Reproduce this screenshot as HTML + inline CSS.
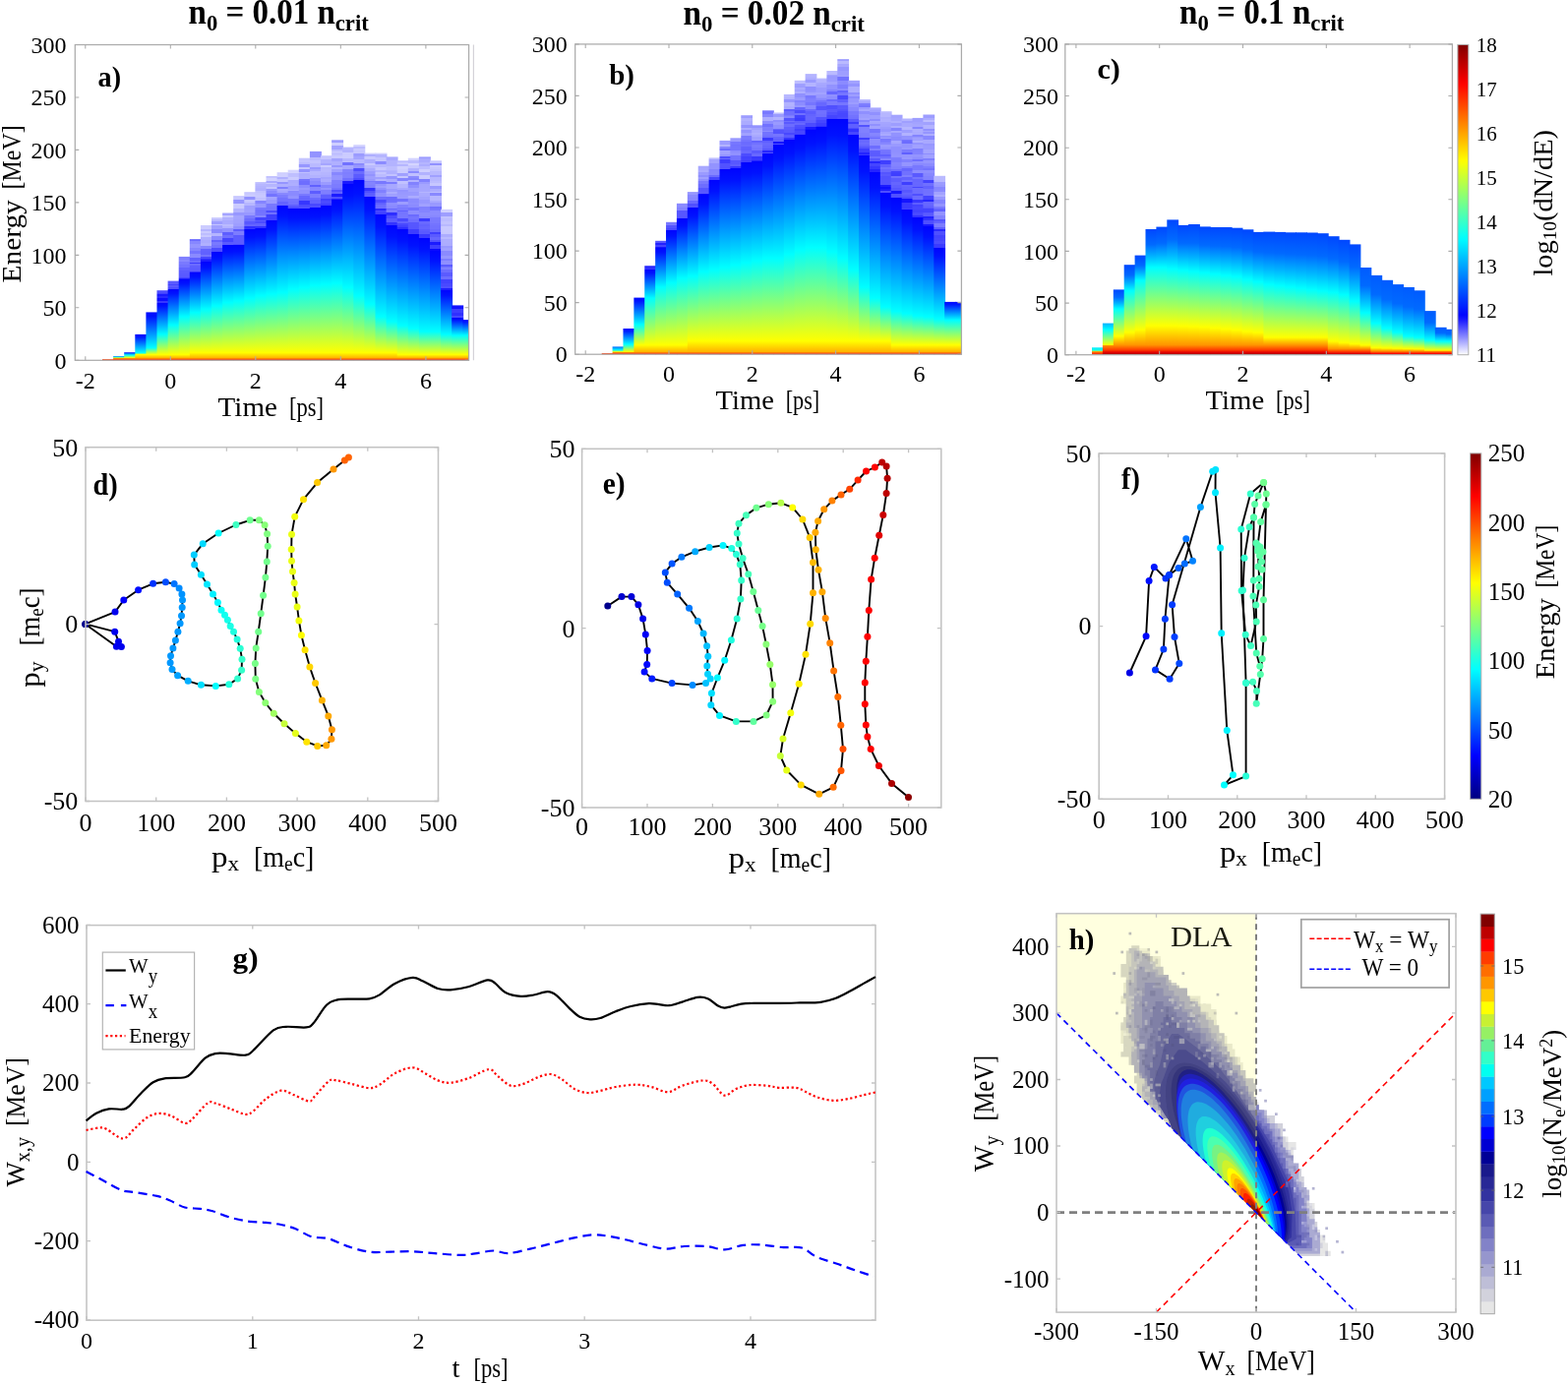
<!DOCTYPE html><html><head><meta charset="utf-8"><title>Figure</title><style>html,body{margin:0;padding:0;background:#fff;overflow:hidden}svg{display:block}</style></head><body><svg width="1594" height="1407" viewBox="0 0 1594 1407" font-family="'Liberation Serif', 'Times New Roman', serif"><defs><linearGradient id="g1" gradientUnits="userSpaceOnUse" x1="0" y1="365.2" x2="0" y2="366.3"><stop offset="0.0000" stop-color="#006aff"/><stop offset="0.0000" stop-color="#abff54"/><stop offset="0.0000" stop-color="#ffb200"/><stop offset="0.1818" stop-color="#ff3e00"/><stop offset="1.0000" stop-color="#ff2100"/></linearGradient><linearGradient id="g2" gradientUnits="userSpaceOnUse" x1="0" y1="362.1" x2="0" y2="366.3"><stop offset="0.0000" stop-color="#006aff"/><stop offset="0.2381" stop-color="#00ffff"/><stop offset="0.4048" stop-color="#ffff00"/><stop offset="0.4286" stop-color="#ffb200"/><stop offset="0.7857" stop-color="#ff3e00"/><stop offset="1.0000" stop-color="#ff2100"/></linearGradient><linearGradient id="g3" gradientUnits="userSpaceOnUse" x1="0" y1="358.2" x2="0" y2="366.3"><stop offset="0.0000" stop-color="#000bff"/><stop offset="0.3457" stop-color="#00ffff"/><stop offset="0.6914" stop-color="#ffff00"/><stop offset="0.7037" stop-color="#ffb200"/><stop offset="0.8889" stop-color="#ff3e00"/><stop offset="1.0000" stop-color="#ff2100"/></linearGradient><linearGradient id="g4" gradientUnits="userSpaceOnUse" x1="0" y1="339.9" x2="0" y2="366.3"><stop offset="0.0000" stop-color="#000bff"/><stop offset="0.0855" stop-color="#0012ff"/><stop offset="0.7121" stop-color="#00ffff"/><stop offset="0.7803" stop-color="#ffff00"/><stop offset="0.9091" stop-color="#ffb200"/><stop offset="0.9659" stop-color="#ff3e00"/><stop offset="1.0000" stop-color="#ff2100"/></linearGradient><linearGradient id="g5" gradientUnits="userSpaceOnUse" x1="0" y1="317.4" x2="0" y2="366.3"><stop offset="0.0000" stop-color="#000bff"/><stop offset="0.0886" stop-color="#0012ff"/><stop offset="0.7382" stop-color="#00ffff"/><stop offset="0.8814" stop-color="#ffff00"/><stop offset="0.9509" stop-color="#ffb200"/><stop offset="0.9816" stop-color="#ff3e00"/><stop offset="1.0000" stop-color="#ff2100"/></linearGradient><linearGradient id="g6" gradientUnits="userSpaceOnUse" x1="0" y1="295.2" x2="0" y2="366.3"><stop offset="0.0000" stop-color="#4e4eff"/><stop offset="0.0325" stop-color="#4e4eff"/><stop offset="0.0325" stop-color="#4040ff"/><stop offset="0.0561" stop-color="#4040ff"/><stop offset="0.0561" stop-color="#1a1aff"/><stop offset="0.0793" stop-color="#1a1aff"/><stop offset="0.0793" stop-color="#2929ff"/><stop offset="0.1156" stop-color="#2929ff"/><stop offset="0.1156" stop-color="#0c0cff"/><stop offset="0.1516" stop-color="#0c0cff"/><stop offset="0.1516" stop-color="#3636ff"/><stop offset="0.1730" stop-color="#3636ff"/><stop offset="0.1730" stop-color="#0004ff"/><stop offset="0.2277" stop-color="#0012ff"/><stop offset="0.6287" stop-color="#00ffff"/><stop offset="0.9184" stop-color="#ffff00"/><stop offset="0.9662" stop-color="#ffb200"/><stop offset="0.9873" stop-color="#ff3e00"/><stop offset="1.0000" stop-color="#ff2100"/></linearGradient><linearGradient id="g7" gradientUnits="userSpaceOnUse" x1="0" y1="285.6" x2="0" y2="366.3"><stop offset="0.0000" stop-color="#5a5aff"/><stop offset="0.0365" stop-color="#5a5aff"/><stop offset="0.0365" stop-color="#4545ff"/><stop offset="0.0565" stop-color="#4545ff"/><stop offset="0.0565" stop-color="#5959ff"/><stop offset="0.0796" stop-color="#5959ff"/><stop offset="0.0796" stop-color="#4e4eff"/><stop offset="0.1016" stop-color="#4e4eff"/><stop offset="0.1016" stop-color="#0004ff"/><stop offset="0.1562" stop-color="#0012ff"/><stop offset="0.5564" stop-color="#00ffff"/><stop offset="0.9281" stop-color="#ffff00"/><stop offset="0.9703" stop-color="#ffb200"/><stop offset="0.9888" stop-color="#ff3e00"/><stop offset="1.0000" stop-color="#ff2100"/></linearGradient><linearGradient id="g8" gradientUnits="userSpaceOnUse" x1="0" y1="260.9" x2="0" y2="366.3"><stop offset="0.0000" stop-color="#8080ff"/><stop offset="0.0294" stop-color="#8080ff"/><stop offset="0.0294" stop-color="#8989ff"/><stop offset="0.0451" stop-color="#8989ff"/><stop offset="0.0451" stop-color="#7a7aff"/><stop offset="0.0755" stop-color="#7a7aff"/><stop offset="0.0755" stop-color="#7373ff"/><stop offset="0.1036" stop-color="#7373ff"/><stop offset="0.1036" stop-color="#6363ff"/><stop offset="0.1367" stop-color="#6363ff"/><stop offset="0.1367" stop-color="#5d5dff"/><stop offset="0.1645" stop-color="#5d5dff"/><stop offset="0.1645" stop-color="#5a5aff"/><stop offset="0.1961" stop-color="#5a5aff"/><stop offset="0.1961" stop-color="#4646ff"/><stop offset="0.2131" stop-color="#4646ff"/><stop offset="0.2154" stop-color="#0004ff"/><stop offset="0.2591" stop-color="#0012ff"/><stop offset="0.5797" stop-color="#00ffff"/><stop offset="0.9450" stop-color="#ffff00"/><stop offset="0.9772" stop-color="#ffb200"/><stop offset="0.9915" stop-color="#ff3e00"/><stop offset="1.0000" stop-color="#ff2100"/></linearGradient><linearGradient id="g9" gradientUnits="userSpaceOnUse" x1="0" y1="243.1" x2="0" y2="366.3"><stop offset="0.0000" stop-color="#6b6bff"/><stop offset="0.0153" stop-color="#6b6bff"/><stop offset="0.0153" stop-color="#8787ff"/><stop offset="0.0410" stop-color="#8787ff"/><stop offset="0.0410" stop-color="#9494ff"/><stop offset="0.0709" stop-color="#9494ff"/><stop offset="0.0709" stop-color="#8686ff"/><stop offset="0.0952" stop-color="#8686ff"/><stop offset="0.0952" stop-color="#7474ff"/><stop offset="0.1244" stop-color="#7474ff"/><stop offset="0.1244" stop-color="#8a8aff"/><stop offset="0.1500" stop-color="#8a8aff"/><stop offset="0.1500" stop-color="#6161ff"/><stop offset="0.1754" stop-color="#6161ff"/><stop offset="0.1754" stop-color="#6d6dff"/><stop offset="0.1933" stop-color="#6d6dff"/><stop offset="0.1933" stop-color="#3d3dff"/><stop offset="0.2059" stop-color="#3d3dff"/><stop offset="0.2059" stop-color="#6b6bff"/><stop offset="0.2205" stop-color="#6b6bff"/><stop offset="0.2205" stop-color="#5e5eff"/><stop offset="0.2353" stop-color="#5e5eff"/><stop offset="0.2353" stop-color="#5c5cff"/><stop offset="0.2651" stop-color="#5c5cff"/><stop offset="0.2651" stop-color="#3030ff"/><stop offset="0.2735" stop-color="#3030ff"/><stop offset="0.2735" stop-color="#0004ff"/><stop offset="0.3134" stop-color="#0012ff"/><stop offset="0.6055" stop-color="#00ffff"/><stop offset="0.9367" stop-color="#ffff00"/><stop offset="0.9805" stop-color="#ffb200"/><stop offset="0.9927" stop-color="#ff3e00"/><stop offset="1.0000" stop-color="#ff2100"/></linearGradient><linearGradient id="g10" gradientUnits="userSpaceOnUse" x1="0" y1="229" x2="0" y2="366.3"><stop offset="0.0000" stop-color="#ccccff"/><stop offset="0.0267" stop-color="#ccccff"/><stop offset="0.0267" stop-color="#b5b5ff"/><stop offset="0.0441" stop-color="#b5b5ff"/><stop offset="0.0441" stop-color="#cbcbff"/><stop offset="0.0578" stop-color="#cbcbff"/><stop offset="0.0578" stop-color="#bdbdff"/><stop offset="0.0730" stop-color="#bdbdff"/><stop offset="0.0730" stop-color="#c9c9ff"/><stop offset="0.0887" stop-color="#c9c9ff"/><stop offset="0.0887" stop-color="#b0b0ff"/><stop offset="0.1063" stop-color="#b0b0ff"/><stop offset="0.1063" stop-color="#ababff"/><stop offset="0.1298" stop-color="#ababff"/><stop offset="0.1298" stop-color="#b0b0ff"/><stop offset="0.1531" stop-color="#b0b0ff"/><stop offset="0.1531" stop-color="#8686ff"/><stop offset="0.1782" stop-color="#8686ff"/><stop offset="0.1782" stop-color="#6262ff"/><stop offset="0.1963" stop-color="#6262ff"/><stop offset="0.1963" stop-color="#6161ff"/><stop offset="0.2187" stop-color="#6161ff"/><stop offset="0.2187" stop-color="#7373ff"/><stop offset="0.2335" stop-color="#7373ff"/><stop offset="0.2335" stop-color="#4747ff"/><stop offset="0.2453" stop-color="#4747ff"/><stop offset="0.2453" stop-color="#3030ff"/><stop offset="0.2581" stop-color="#3030ff"/><stop offset="0.2581" stop-color="#1c1cff"/><stop offset="0.2731" stop-color="#1c1cff"/><stop offset="0.2731" stop-color="#0004ff"/><stop offset="0.3149" stop-color="#0012ff"/><stop offset="0.6213" stop-color="#00ffff"/><stop offset="0.9432" stop-color="#ffff00"/><stop offset="0.9825" stop-color="#ffb200"/><stop offset="0.9934" stop-color="#ff3e00"/><stop offset="1.0000" stop-color="#ff2100"/></linearGradient><linearGradient id="g11" gradientUnits="userSpaceOnUse" x1="0" y1="221.1" x2="0" y2="366.3"><stop offset="0.0000" stop-color="#cacaff"/><stop offset="0.0147" stop-color="#cacaff"/><stop offset="0.0147" stop-color="#b8b8ff"/><stop offset="0.0271" stop-color="#b8b8ff"/><stop offset="0.0271" stop-color="#9d9dff"/><stop offset="0.0455" stop-color="#9d9dff"/><stop offset="0.0455" stop-color="#c3c3ff"/><stop offset="0.0576" stop-color="#c3c3ff"/><stop offset="0.0576" stop-color="#a0a0ff"/><stop offset="0.0822" stop-color="#a0a0ff"/><stop offset="0.0822" stop-color="#8a8aff"/><stop offset="0.1089" stop-color="#8a8aff"/><stop offset="0.1089" stop-color="#b4b4ff"/><stop offset="0.1286" stop-color="#b4b4ff"/><stop offset="0.1286" stop-color="#8b8bff"/><stop offset="0.1557" stop-color="#8b8bff"/><stop offset="0.1557" stop-color="#6464ff"/><stop offset="0.1706" stop-color="#6464ff"/><stop offset="0.1706" stop-color="#7979ff"/><stop offset="0.1942" stop-color="#7979ff"/><stop offset="0.1942" stop-color="#7171ff"/><stop offset="0.2102" stop-color="#7171ff"/><stop offset="0.2102" stop-color="#4c4cff"/><stop offset="0.2375" stop-color="#4c4cff"/><stop offset="0.2375" stop-color="#3636ff"/><stop offset="0.2424" stop-color="#3636ff"/><stop offset="0.2424" stop-color="#0004ff"/><stop offset="0.2875" stop-color="#0012ff"/><stop offset="0.6185" stop-color="#00ffff"/><stop offset="0.9463" stop-color="#ffff00"/><stop offset="0.9835" stop-color="#ffb200"/><stop offset="0.9938" stop-color="#ff3e00"/><stop offset="1.0000" stop-color="#ff2100"/></linearGradient><linearGradient id="g12" gradientUnits="userSpaceOnUse" x1="0" y1="216.5" x2="0" y2="366.3"><stop offset="0.0000" stop-color="#a4a4ff"/><stop offset="0.0187" stop-color="#a4a4ff"/><stop offset="0.0187" stop-color="#cbcbff"/><stop offset="0.0291" stop-color="#cbcbff"/><stop offset="0.0291" stop-color="#b1b1ff"/><stop offset="0.0507" stop-color="#b1b1ff"/><stop offset="0.0507" stop-color="#aaaaff"/><stop offset="0.0764" stop-color="#aaaaff"/><stop offset="0.0764" stop-color="#babaff"/><stop offset="0.0925" stop-color="#babaff"/><stop offset="0.0925" stop-color="#b2b2ff"/><stop offset="0.1057" stop-color="#b2b2ff"/><stop offset="0.1057" stop-color="#9393ff"/><stop offset="0.1308" stop-color="#9393ff"/><stop offset="0.1308" stop-color="#5e5eff"/><stop offset="0.1517" stop-color="#5e5eff"/><stop offset="0.1517" stop-color="#6f6fff"/><stop offset="0.1727" stop-color="#6f6fff"/><stop offset="0.1727" stop-color="#4545ff"/><stop offset="0.1953" stop-color="#4545ff"/><stop offset="0.1953" stop-color="#5a5aff"/><stop offset="0.2185" stop-color="#5a5aff"/><stop offset="0.2203" stop-color="#0004ff"/><stop offset="0.2668" stop-color="#0012ff"/><stop offset="0.6075" stop-color="#00ffff"/><stop offset="0.9479" stop-color="#ffff00"/><stop offset="0.9840" stop-color="#ffb200"/><stop offset="0.9940" stop-color="#ff3e00"/><stop offset="1.0000" stop-color="#ff2100"/></linearGradient><linearGradient id="g13" gradientUnits="userSpaceOnUse" x1="0" y1="199.1" x2="0" y2="366.3"><stop offset="0.0000" stop-color="#c8c8ff"/><stop offset="0.0235" stop-color="#c8c8ff"/><stop offset="0.0235" stop-color="#9696ff"/><stop offset="0.0466" stop-color="#9696ff"/><stop offset="0.0466" stop-color="#ccccff"/><stop offset="0.0575" stop-color="#ccccff"/><stop offset="0.0575" stop-color="#cacaff"/><stop offset="0.0785" stop-color="#cacaff"/><stop offset="0.0785" stop-color="#b3b3ff"/><stop offset="0.1022" stop-color="#b3b3ff"/><stop offset="0.1022" stop-color="#9797ff"/><stop offset="0.1193" stop-color="#9797ff"/><stop offset="0.1193" stop-color="#a5a5ff"/><stop offset="0.1428" stop-color="#a5a5ff"/><stop offset="0.1428" stop-color="#a2a2ff"/><stop offset="0.1658" stop-color="#a2a2ff"/><stop offset="0.1658" stop-color="#9e9eff"/><stop offset="0.1871" stop-color="#9e9eff"/><stop offset="0.1871" stop-color="#9191ff"/><stop offset="0.2004" stop-color="#9191ff"/><stop offset="0.2004" stop-color="#5d5dff"/><stop offset="0.2133" stop-color="#5d5dff"/><stop offset="0.2133" stop-color="#7d7dff"/><stop offset="0.2359" stop-color="#7d7dff"/><stop offset="0.2359" stop-color="#5b5bff"/><stop offset="0.2535" stop-color="#5b5bff"/><stop offset="0.2535" stop-color="#5c5cff"/><stop offset="0.2762" stop-color="#5c5cff"/><stop offset="0.2762" stop-color="#5c5cff"/><stop offset="0.2930" stop-color="#5c5cff"/><stop offset="0.2930" stop-color="#4f4fff"/><stop offset="0.2984" stop-color="#4f4fff"/><stop offset="0.2984" stop-color="#0004ff"/><stop offset="0.3392" stop-color="#0012ff"/><stop offset="0.6382" stop-color="#00ffff"/><stop offset="0.9533" stop-color="#ffff00"/><stop offset="0.9856" stop-color="#ffb200"/><stop offset="0.9946" stop-color="#ff3e00"/><stop offset="1.0000" stop-color="#ff2100"/></linearGradient><linearGradient id="g14" gradientUnits="userSpaceOnUse" x1="0" y1="195.2" x2="0" y2="366.3"><stop offset="0.0000" stop-color="#c6c6ff"/><stop offset="0.0113" stop-color="#c6c6ff"/><stop offset="0.0113" stop-color="#cacaff"/><stop offset="0.0282" stop-color="#cacaff"/><stop offset="0.0282" stop-color="#9191ff"/><stop offset="0.0451" stop-color="#9191ff"/><stop offset="0.0451" stop-color="#c6c6ff"/><stop offset="0.0620" stop-color="#c6c6ff"/><stop offset="0.0620" stop-color="#b6b6ff"/><stop offset="0.0821" stop-color="#b6b6ff"/><stop offset="0.0821" stop-color="#9f9fff"/><stop offset="0.1019" stop-color="#9f9fff"/><stop offset="0.1019" stop-color="#a2a2ff"/><stop offset="0.1197" stop-color="#a2a2ff"/><stop offset="0.1197" stop-color="#9898ff"/><stop offset="0.1385" stop-color="#9898ff"/><stop offset="0.1385" stop-color="#7979ff"/><stop offset="0.1543" stop-color="#7979ff"/><stop offset="0.1543" stop-color="#6c6cff"/><stop offset="0.1759" stop-color="#6c6cff"/><stop offset="0.1759" stop-color="#5858ff"/><stop offset="0.1928" stop-color="#5858ff"/><stop offset="0.1928" stop-color="#6464ff"/><stop offset="0.2036" stop-color="#6464ff"/><stop offset="0.2036" stop-color="#2f2fff"/><stop offset="0.2134" stop-color="#2f2fff"/><stop offset="0.2134" stop-color="#3737ff"/><stop offset="0.2209" stop-color="#3737ff"/><stop offset="0.2209" stop-color="#0004ff"/><stop offset="0.2702" stop-color="#0012ff"/><stop offset="0.6312" stop-color="#00ffff"/><stop offset="0.9544" stop-color="#ffff00"/><stop offset="0.9860" stop-color="#ffb200"/><stop offset="0.9947" stop-color="#ff3e00"/><stop offset="1.0000" stop-color="#ff2100"/></linearGradient><linearGradient id="g15" gradientUnits="userSpaceOnUse" x1="0" y1="185.1" x2="0" y2="366.3"><stop offset="0.0000" stop-color="#bdbdff"/><stop offset="0.0104" stop-color="#bdbdff"/><stop offset="0.0104" stop-color="#b7b7ff"/><stop offset="0.0207" stop-color="#b7b7ff"/><stop offset="0.0207" stop-color="#b3b3ff"/><stop offset="0.0320" stop-color="#b3b3ff"/><stop offset="0.0320" stop-color="#b0b0ff"/><stop offset="0.0470" stop-color="#b0b0ff"/><stop offset="0.0470" stop-color="#c1c1ff"/><stop offset="0.0575" stop-color="#c1c1ff"/><stop offset="0.0575" stop-color="#c6c6ff"/><stop offset="0.0704" stop-color="#c6c6ff"/><stop offset="0.0704" stop-color="#c8c8ff"/><stop offset="0.0887" stop-color="#c8c8ff"/><stop offset="0.0887" stop-color="#c1c1ff"/><stop offset="0.1030" stop-color="#c1c1ff"/><stop offset="0.1030" stop-color="#8484ff"/><stop offset="0.1199" stop-color="#8484ff"/><stop offset="0.1199" stop-color="#9898ff"/><stop offset="0.1418" stop-color="#9898ff"/><stop offset="0.1418" stop-color="#7878ff"/><stop offset="0.1515" stop-color="#7878ff"/><stop offset="0.1515" stop-color="#7272ff"/><stop offset="0.1705" stop-color="#7272ff"/><stop offset="0.1705" stop-color="#7474ff"/><stop offset="0.1846" stop-color="#7474ff"/><stop offset="0.1846" stop-color="#8585ff"/><stop offset="0.1965" stop-color="#8585ff"/><stop offset="0.1965" stop-color="#4343ff"/><stop offset="0.2126" stop-color="#4343ff"/><stop offset="0.2126" stop-color="#5c5cff"/><stop offset="0.2217" stop-color="#5c5cff"/><stop offset="0.2217" stop-color="#4c4cff"/><stop offset="0.2310" stop-color="#4c4cff"/><stop offset="0.2310" stop-color="#6161ff"/><stop offset="0.2503" stop-color="#6161ff"/><stop offset="0.2503" stop-color="#3434ff"/><stop offset="0.2588" stop-color="#3434ff"/><stop offset="0.2588" stop-color="#0004ff"/><stop offset="0.3043" stop-color="#0012ff"/><stop offset="0.6374" stop-color="#00ffff"/><stop offset="0.9570" stop-color="#ffff00"/><stop offset="0.9868" stop-color="#ffb200"/><stop offset="0.9950" stop-color="#ff3e00"/><stop offset="1.0000" stop-color="#ff2100"/></linearGradient><linearGradient id="g16" gradientUnits="userSpaceOnUse" x1="0" y1="179" x2="0" y2="366.3"><stop offset="0.0000" stop-color="#c3c3ff"/><stop offset="0.0125" stop-color="#c3c3ff"/><stop offset="0.0125" stop-color="#d1d1ff"/><stop offset="0.0241" stop-color="#d1d1ff"/><stop offset="0.0241" stop-color="#aaaaff"/><stop offset="0.0353" stop-color="#aaaaff"/><stop offset="0.0353" stop-color="#cbcbff"/><stop offset="0.0440" stop-color="#cbcbff"/><stop offset="0.0440" stop-color="#b5b5ff"/><stop offset="0.0561" stop-color="#b5b5ff"/><stop offset="0.0561" stop-color="#c6c6ff"/><stop offset="0.0708" stop-color="#c6c6ff"/><stop offset="0.0708" stop-color="#9898ff"/><stop offset="0.0790" stop-color="#9898ff"/><stop offset="0.0790" stop-color="#8a8aff"/><stop offset="0.0968" stop-color="#8a8aff"/><stop offset="0.0968" stop-color="#7474ff"/><stop offset="0.1111" stop-color="#7474ff"/><stop offset="0.1111" stop-color="#a4a4ff"/><stop offset="0.1301" stop-color="#a4a4ff"/><stop offset="0.1301" stop-color="#9a9aff"/><stop offset="0.1492" stop-color="#9a9aff"/><stop offset="0.1492" stop-color="#7878ff"/><stop offset="0.1664" stop-color="#7878ff"/><stop offset="0.1664" stop-color="#7575ff"/><stop offset="0.1855" stop-color="#7575ff"/><stop offset="0.1855" stop-color="#4c4cff"/><stop offset="0.1989" stop-color="#4c4cff"/><stop offset="0.1989" stop-color="#7070ff"/><stop offset="0.2087" stop-color="#7070ff"/><stop offset="0.2087" stop-color="#3e3eff"/><stop offset="0.2201" stop-color="#3e3eff"/><stop offset="0.2201" stop-color="#4040ff"/><stop offset="0.2393" stop-color="#4040ff"/><stop offset="0.2403" stop-color="#0004ff"/><stop offset="0.2882" stop-color="#0012ff"/><stop offset="0.6401" stop-color="#00ffff"/><stop offset="0.9584" stop-color="#ffff00"/><stop offset="0.9872" stop-color="#ffb200"/><stop offset="0.9952" stop-color="#ff3e00"/><stop offset="1.0000" stop-color="#ff2100"/></linearGradient><linearGradient id="g17" gradientUnits="userSpaceOnUse" x1="0" y1="175.2" x2="0" y2="366.3"><stop offset="0.0000" stop-color="#ceceff"/><stop offset="0.0115" stop-color="#ceceff"/><stop offset="0.0115" stop-color="#d0d0ff"/><stop offset="0.0254" stop-color="#d0d0ff"/><stop offset="0.0254" stop-color="#b0b0ff"/><stop offset="0.0367" stop-color="#b0b0ff"/><stop offset="0.0367" stop-color="#c5c5ff"/><stop offset="0.0517" stop-color="#c5c5ff"/><stop offset="0.0517" stop-color="#9595ff"/><stop offset="0.0636" stop-color="#9595ff"/><stop offset="0.0636" stop-color="#afafff"/><stop offset="0.0764" stop-color="#afafff"/><stop offset="0.0764" stop-color="#8080ff"/><stop offset="0.0869" stop-color="#8080ff"/><stop offset="0.0869" stop-color="#acacff"/><stop offset="0.0982" stop-color="#acacff"/><stop offset="0.0982" stop-color="#a5a5ff"/><stop offset="0.1066" stop-color="#a5a5ff"/><stop offset="0.1066" stop-color="#8989ff"/><stop offset="0.1175" stop-color="#8989ff"/><stop offset="0.1175" stop-color="#7c7cff"/><stop offset="0.1352" stop-color="#7c7cff"/><stop offset="0.1352" stop-color="#7272ff"/><stop offset="0.1545" stop-color="#7272ff"/><stop offset="0.1545" stop-color="#6363ff"/><stop offset="0.1753" stop-color="#6363ff"/><stop offset="0.1769" stop-color="#0004ff"/><stop offset="0.2323" stop-color="#0012ff"/><stop offset="0.6384" stop-color="#00ffff"/><stop offset="0.9592" stop-color="#ffff00"/><stop offset="0.9874" stop-color="#ffb200"/><stop offset="0.9953" stop-color="#ff3e00"/><stop offset="1.0000" stop-color="#ff2100"/></linearGradient><linearGradient id="g18" gradientUnits="userSpaceOnUse" x1="0" y1="172.7" x2="0" y2="366.3"><stop offset="0.0000" stop-color="#d5d5ff"/><stop offset="0.0161" stop-color="#d5d5ff"/><stop offset="0.0161" stop-color="#bfbfff"/><stop offset="0.0353" stop-color="#bfbfff"/><stop offset="0.0353" stop-color="#cbcbff"/><stop offset="0.0536" stop-color="#cbcbff"/><stop offset="0.0536" stop-color="#acacff"/><stop offset="0.0678" stop-color="#acacff"/><stop offset="0.0678" stop-color="#aeaeff"/><stop offset="0.0862" stop-color="#aeaeff"/><stop offset="0.0862" stop-color="#a0a0ff"/><stop offset="0.1028" stop-color="#a0a0ff"/><stop offset="0.1028" stop-color="#a8a8ff"/><stop offset="0.1110" stop-color="#a8a8ff"/><stop offset="0.1110" stop-color="#8a8aff"/><stop offset="0.1201" stop-color="#8a8aff"/><stop offset="0.1201" stop-color="#8a8aff"/><stop offset="0.1359" stop-color="#8a8aff"/><stop offset="0.1359" stop-color="#9292ff"/><stop offset="0.1500" stop-color="#9292ff"/><stop offset="0.1500" stop-color="#7373ff"/><stop offset="0.1674" stop-color="#7373ff"/><stop offset="0.1674" stop-color="#7171ff"/><stop offset="0.1836" stop-color="#7171ff"/><stop offset="0.1836" stop-color="#5f5fff"/><stop offset="0.1947" stop-color="#5f5fff"/><stop offset="0.1947" stop-color="#4d4dff"/><stop offset="0.2030" stop-color="#4d4dff"/><stop offset="0.2030" stop-color="#0004ff"/><stop offset="0.2537" stop-color="#0012ff"/><stop offset="0.6255" stop-color="#00ffff"/><stop offset="0.9597" stop-color="#ffff00"/><stop offset="0.9876" stop-color="#ffb200"/><stop offset="0.9954" stop-color="#ff3e00"/><stop offset="1.0000" stop-color="#ff2100"/></linearGradient><linearGradient id="g19" gradientUnits="userSpaceOnUse" x1="0" y1="160.7" x2="0" y2="366.3"><stop offset="0.0000" stop-color="#c5c5ff"/><stop offset="0.0192" stop-color="#c5c5ff"/><stop offset="0.0192" stop-color="#bdbdff"/><stop offset="0.0323" stop-color="#bdbdff"/><stop offset="0.0323" stop-color="#9696ff"/><stop offset="0.0471" stop-color="#9696ff"/><stop offset="0.0471" stop-color="#c6c6ff"/><stop offset="0.0562" stop-color="#c6c6ff"/><stop offset="0.0562" stop-color="#9393ff"/><stop offset="0.0672" stop-color="#9393ff"/><stop offset="0.0672" stop-color="#c0c0ff"/><stop offset="0.0752" stop-color="#c0c0ff"/><stop offset="0.0752" stop-color="#aeaeff"/><stop offset="0.0909" stop-color="#aeaeff"/><stop offset="0.0909" stop-color="#afafff"/><stop offset="0.1045" stop-color="#afafff"/><stop offset="0.1045" stop-color="#7474ff"/><stop offset="0.1132" stop-color="#7474ff"/><stop offset="0.1132" stop-color="#6e6eff"/><stop offset="0.1324" stop-color="#6e6eff"/><stop offset="0.1324" stop-color="#8d8dff"/><stop offset="0.1453" stop-color="#8d8dff"/><stop offset="0.1453" stop-color="#9898ff"/><stop offset="0.1580" stop-color="#9898ff"/><stop offset="0.1580" stop-color="#9191ff"/><stop offset="0.1768" stop-color="#9191ff"/><stop offset="0.1768" stop-color="#7979ff"/><stop offset="0.1859" stop-color="#7979ff"/><stop offset="0.1859" stop-color="#6767ff"/><stop offset="0.1948" stop-color="#6767ff"/><stop offset="0.1948" stop-color="#6464ff"/><stop offset="0.2129" stop-color="#6464ff"/><stop offset="0.2129" stop-color="#3636ff"/><stop offset="0.2311" stop-color="#3636ff"/><stop offset="0.2311" stop-color="#4b4bff"/><stop offset="0.2384" stop-color="#4b4bff"/><stop offset="0.2384" stop-color="#5050ff"/><stop offset="0.2494" stop-color="#5050ff"/><stop offset="0.2495" stop-color="#0004ff"/><stop offset="0.2963" stop-color="#0012ff"/><stop offset="0.6391" stop-color="#00ffff"/><stop offset="0.9621" stop-color="#ffff00"/><stop offset="0.9883" stop-color="#ffb200"/><stop offset="0.9956" stop-color="#ff3e00"/><stop offset="1.0000" stop-color="#ff2100"/></linearGradient><linearGradient id="g20" gradientUnits="userSpaceOnUse" x1="0" y1="153.9" x2="0" y2="366.3"><stop offset="0.0000" stop-color="#9393ff"/><stop offset="0.0108" stop-color="#9393ff"/><stop offset="0.0108" stop-color="#9393ff"/><stop offset="0.0267" stop-color="#9393ff"/><stop offset="0.0267" stop-color="#bbbbff"/><stop offset="0.0446" stop-color="#bbbbff"/><stop offset="0.0446" stop-color="#c4c4ff"/><stop offset="0.0551" stop-color="#c4c4ff"/><stop offset="0.0551" stop-color="#babaff"/><stop offset="0.0739" stop-color="#babaff"/><stop offset="0.0739" stop-color="#9999ff"/><stop offset="0.0860" stop-color="#9999ff"/><stop offset="0.0860" stop-color="#a7a7ff"/><stop offset="0.0943" stop-color="#a7a7ff"/><stop offset="0.0943" stop-color="#b8b8ff"/><stop offset="0.1124" stop-color="#b8b8ff"/><stop offset="0.1124" stop-color="#b2b2ff"/><stop offset="0.1254" stop-color="#b2b2ff"/><stop offset="0.1254" stop-color="#9494ff"/><stop offset="0.1438" stop-color="#9494ff"/><stop offset="0.1438" stop-color="#8989ff"/><stop offset="0.1583" stop-color="#8989ff"/><stop offset="0.1583" stop-color="#6161ff"/><stop offset="0.1718" stop-color="#6161ff"/><stop offset="0.1718" stop-color="#8888ff"/><stop offset="0.1875" stop-color="#8888ff"/><stop offset="0.1875" stop-color="#5d5dff"/><stop offset="0.2021" stop-color="#5d5dff"/><stop offset="0.2021" stop-color="#7e7eff"/><stop offset="0.2201" stop-color="#7e7eff"/><stop offset="0.2201" stop-color="#6a6aff"/><stop offset="0.2312" stop-color="#6a6aff"/><stop offset="0.2312" stop-color="#6262ff"/><stop offset="0.2497" stop-color="#6262ff"/><stop offset="0.2497" stop-color="#4848ff"/><stop offset="0.2603" stop-color="#4848ff"/><stop offset="0.2603" stop-color="#4d4dff"/><stop offset="0.2688" stop-color="#4d4dff"/><stop offset="0.2688" stop-color="#0004ff"/><stop offset="0.3135" stop-color="#0012ff"/><stop offset="0.6408" stop-color="#00ffff"/><stop offset="0.9633" stop-color="#ffff00"/><stop offset="0.9887" stop-color="#ffb200"/><stop offset="0.9958" stop-color="#ff3e00"/><stop offset="1.0000" stop-color="#ff2100"/></linearGradient><linearGradient id="g21" gradientUnits="userSpaceOnUse" x1="0" y1="158.2" x2="0" y2="366.3"><stop offset="0.0000" stop-color="#c5c5ff"/><stop offset="0.0181" stop-color="#c5c5ff"/><stop offset="0.0181" stop-color="#b2b2ff"/><stop offset="0.0362" stop-color="#b2b2ff"/><stop offset="0.0362" stop-color="#a5a5ff"/><stop offset="0.0451" stop-color="#a5a5ff"/><stop offset="0.0451" stop-color="#ccccff"/><stop offset="0.0564" stop-color="#ccccff"/><stop offset="0.0564" stop-color="#b8b8ff"/><stop offset="0.0667" stop-color="#b8b8ff"/><stop offset="0.0667" stop-color="#babaff"/><stop offset="0.0829" stop-color="#babaff"/><stop offset="0.0829" stop-color="#b5b5ff"/><stop offset="0.0964" stop-color="#b5b5ff"/><stop offset="0.0964" stop-color="#b2b2ff"/><stop offset="0.1044" stop-color="#b2b2ff"/><stop offset="0.1044" stop-color="#a6a6ff"/><stop offset="0.1131" stop-color="#a6a6ff"/><stop offset="0.1131" stop-color="#acacff"/><stop offset="0.1307" stop-color="#acacff"/><stop offset="0.1307" stop-color="#9b9bff"/><stop offset="0.1409" stop-color="#9b9bff"/><stop offset="0.1409" stop-color="#8585ff"/><stop offset="0.1595" stop-color="#8585ff"/><stop offset="0.1595" stop-color="#9494ff"/><stop offset="0.1670" stop-color="#9494ff"/><stop offset="0.1670" stop-color="#7f7fff"/><stop offset="0.1850" stop-color="#7f7fff"/><stop offset="0.1850" stop-color="#7474ff"/><stop offset="0.1922" stop-color="#7474ff"/><stop offset="0.1922" stop-color="#5d5dff"/><stop offset="0.2093" stop-color="#5d5dff"/><stop offset="0.2093" stop-color="#4242ff"/><stop offset="0.2195" stop-color="#4242ff"/><stop offset="0.2195" stop-color="#4b4bff"/><stop offset="0.2330" stop-color="#4b4bff"/><stop offset="0.2330" stop-color="#3f3fff"/><stop offset="0.2441" stop-color="#3f3fff"/><stop offset="0.2441" stop-color="#0004ff"/><stop offset="0.2902" stop-color="#0012ff"/><stop offset="0.6285" stop-color="#00ffff"/><stop offset="0.9625" stop-color="#ffff00"/><stop offset="0.9885" stop-color="#ffb200"/><stop offset="0.9957" stop-color="#ff3e00"/><stop offset="1.0000" stop-color="#ff2100"/></linearGradient><linearGradient id="g22" gradientUnits="userSpaceOnUse" x1="0" y1="142.3" x2="0" y2="366.3"><stop offset="0.0000" stop-color="#9d9dff"/><stop offset="0.0118" stop-color="#9d9dff"/><stop offset="0.0118" stop-color="#ceceff"/><stop offset="0.0272" stop-color="#ceceff"/><stop offset="0.0272" stop-color="#a3a3ff"/><stop offset="0.0411" stop-color="#a3a3ff"/><stop offset="0.0411" stop-color="#bbbbff"/><stop offset="0.0506" stop-color="#bbbbff"/><stop offset="0.0506" stop-color="#cdcdff"/><stop offset="0.0586" stop-color="#cdcdff"/><stop offset="0.0586" stop-color="#c0c0ff"/><stop offset="0.0718" stop-color="#c0c0ff"/><stop offset="0.0718" stop-color="#c9c9ff"/><stop offset="0.0852" stop-color="#c9c9ff"/><stop offset="0.0852" stop-color="#a3a3ff"/><stop offset="0.0970" stop-color="#a3a3ff"/><stop offset="0.0970" stop-color="#b0b0ff"/><stop offset="0.1136" stop-color="#b0b0ff"/><stop offset="0.1136" stop-color="#9797ff"/><stop offset="0.1230" stop-color="#9797ff"/><stop offset="0.1230" stop-color="#b4b4ff"/><stop offset="0.1332" stop-color="#b4b4ff"/><stop offset="0.1332" stop-color="#a1a1ff"/><stop offset="0.1474" stop-color="#a1a1ff"/><stop offset="0.1474" stop-color="#8787ff"/><stop offset="0.1615" stop-color="#8787ff"/><stop offset="0.1615" stop-color="#9393ff"/><stop offset="0.1686" stop-color="#9393ff"/><stop offset="0.1686" stop-color="#9494ff"/><stop offset="0.1829" stop-color="#9494ff"/><stop offset="0.1829" stop-color="#8080ff"/><stop offset="0.1979" stop-color="#8080ff"/><stop offset="0.1979" stop-color="#7c7cff"/><stop offset="0.2154" stop-color="#7c7cff"/><stop offset="0.2154" stop-color="#7272ff"/><stop offset="0.2247" stop-color="#7272ff"/><stop offset="0.2247" stop-color="#5151ff"/><stop offset="0.2347" stop-color="#5151ff"/><stop offset="0.2347" stop-color="#6262ff"/><stop offset="0.2434" stop-color="#6262ff"/><stop offset="0.2434" stop-color="#1c1cff"/><stop offset="0.2576" stop-color="#1c1cff"/><stop offset="0.2576" stop-color="#4f4fff"/><stop offset="0.2687" stop-color="#4f4fff"/><stop offset="0.2687" stop-color="#2525ff"/><stop offset="0.2710" stop-color="#2525ff"/><stop offset="0.2710" stop-color="#0004ff"/><stop offset="0.3165" stop-color="#0012ff"/><stop offset="0.6504" stop-color="#00ffff"/><stop offset="0.9652" stop-color="#ffff00"/><stop offset="0.9893" stop-color="#ffb200"/><stop offset="0.9960" stop-color="#ff3e00"/><stop offset="1.0000" stop-color="#ff2100"/></linearGradient><linearGradient id="g23" gradientUnits="userSpaceOnUse" x1="0" y1="149.6" x2="0" y2="366.3"><stop offset="0.0000" stop-color="#b7b7ff"/><stop offset="0.0115" stop-color="#b7b7ff"/><stop offset="0.0115" stop-color="#b2b2ff"/><stop offset="0.0268" stop-color="#b2b2ff"/><stop offset="0.0268" stop-color="#cbcbff"/><stop offset="0.0376" stop-color="#cbcbff"/><stop offset="0.0376" stop-color="#ccccff"/><stop offset="0.0531" stop-color="#ccccff"/><stop offset="0.0531" stop-color="#b8b8ff"/><stop offset="0.0644" stop-color="#b8b8ff"/><stop offset="0.0644" stop-color="#bebeff"/><stop offset="0.0733" stop-color="#bebeff"/><stop offset="0.0733" stop-color="#7171ff"/><stop offset="0.0842" stop-color="#7171ff"/><stop offset="0.0842" stop-color="#a8a8ff"/><stop offset="0.1023" stop-color="#a8a8ff"/><stop offset="0.1023" stop-color="#8383ff"/><stop offset="0.1187" stop-color="#8383ff"/><stop offset="0.1187" stop-color="#7e7eff"/><stop offset="0.1262" stop-color="#7e7eff"/><stop offset="0.1262" stop-color="#8080ff"/><stop offset="0.1437" stop-color="#8080ff"/><stop offset="0.1437" stop-color="#7171ff"/><stop offset="0.1610" stop-color="#7171ff"/><stop offset="0.1610" stop-color="#1a1aff"/><stop offset="0.1726" stop-color="#1a1aff"/><stop offset="0.1726" stop-color="#0004ff"/><stop offset="0.2308" stop-color="#0012ff"/><stop offset="0.6576" stop-color="#00ffff"/><stop offset="0.9640" stop-color="#ffff00"/><stop offset="0.9889" stop-color="#ffb200"/><stop offset="0.9958" stop-color="#ff3e00"/><stop offset="1.0000" stop-color="#ff2100"/></linearGradient><linearGradient id="g24" gradientUnits="userSpaceOnUse" x1="0" y1="147.1" x2="0" y2="366.3"><stop offset="0.0000" stop-color="#d4d4ff"/><stop offset="0.0072" stop-color="#d4d4ff"/><stop offset="0.0072" stop-color="#bcbcff"/><stop offset="0.0170" stop-color="#bcbcff"/><stop offset="0.0170" stop-color="#cacaff"/><stop offset="0.0277" stop-color="#cacaff"/><stop offset="0.0277" stop-color="#c7c7ff"/><stop offset="0.0416" stop-color="#c7c7ff"/><stop offset="0.0416" stop-color="#9b9bff"/><stop offset="0.0521" stop-color="#9b9bff"/><stop offset="0.0521" stop-color="#a4a4ff"/><stop offset="0.0675" stop-color="#a4a4ff"/><stop offset="0.0675" stop-color="#b9b9ff"/><stop offset="0.0851" stop-color="#b9b9ff"/><stop offset="0.0851" stop-color="#8a8aff"/><stop offset="0.0974" stop-color="#8a8aff"/><stop offset="0.0974" stop-color="#9797ff"/><stop offset="0.1086" stop-color="#9797ff"/><stop offset="0.1086" stop-color="#4d4dff"/><stop offset="0.1211" stop-color="#4d4dff"/><stop offset="0.1211" stop-color="#6b6bff"/><stop offset="0.1371" stop-color="#6b6bff"/><stop offset="0.1371" stop-color="#5b5bff"/><stop offset="0.1528" stop-color="#5b5bff"/><stop offset="0.1528" stop-color="#4e4eff"/><stop offset="0.1632" stop-color="#4e4eff"/><stop offset="0.1638" stop-color="#0004ff"/><stop offset="0.2282" stop-color="#0012ff"/><stop offset="0.7003" stop-color="#00ffff"/><stop offset="0.9644" stop-color="#ffff00"/><stop offset="0.9891" stop-color="#ffb200"/><stop offset="0.9959" stop-color="#ff3e00"/><stop offset="1.0000" stop-color="#ff2100"/></linearGradient><linearGradient id="g25" gradientUnits="userSpaceOnUse" x1="0" y1="155.6" x2="0" y2="366.3"><stop offset="0.0000" stop-color="#cfcfff"/><stop offset="0.0081" stop-color="#cfcfff"/><stop offset="0.0081" stop-color="#aeaeff"/><stop offset="0.0181" stop-color="#aeaeff"/><stop offset="0.0181" stop-color="#c9c9ff"/><stop offset="0.0318" stop-color="#c9c9ff"/><stop offset="0.0318" stop-color="#afafff"/><stop offset="0.0494" stop-color="#afafff"/><stop offset="0.0494" stop-color="#c9c9ff"/><stop offset="0.0575" stop-color="#c9c9ff"/><stop offset="0.0575" stop-color="#b9b9ff"/><stop offset="0.0730" stop-color="#b9b9ff"/><stop offset="0.0730" stop-color="#acacff"/><stop offset="0.0851" stop-color="#acacff"/><stop offset="0.0851" stop-color="#9d9dff"/><stop offset="0.1011" stop-color="#9d9dff"/><stop offset="0.1011" stop-color="#9393ff"/><stop offset="0.1097" stop-color="#9393ff"/><stop offset="0.1097" stop-color="#9e9eff"/><stop offset="0.1235" stop-color="#9e9eff"/><stop offset="0.1235" stop-color="#9898ff"/><stop offset="0.1330" stop-color="#9898ff"/><stop offset="0.1330" stop-color="#7a7aff"/><stop offset="0.1419" stop-color="#7a7aff"/><stop offset="0.1419" stop-color="#8484ff"/><stop offset="0.1529" stop-color="#8484ff"/><stop offset="0.1529" stop-color="#8080ff"/><stop offset="0.1661" stop-color="#8080ff"/><stop offset="0.1661" stop-color="#3333ff"/><stop offset="0.1809" stop-color="#3333ff"/><stop offset="0.1809" stop-color="#4f4fff"/><stop offset="0.1937" stop-color="#4f4fff"/><stop offset="0.1937" stop-color="#5d5dff"/><stop offset="0.2107" stop-color="#5d5dff"/><stop offset="0.2107" stop-color="#0004ff"/><stop offset="0.2729" stop-color="#0012ff"/><stop offset="0.7290" stop-color="#00ffff"/><stop offset="0.9630" stop-color="#ffff00"/><stop offset="0.9886" stop-color="#ffb200"/><stop offset="0.9957" stop-color="#ff3e00"/><stop offset="1.0000" stop-color="#ff2100"/></linearGradient><linearGradient id="g26" gradientUnits="userSpaceOnUse" x1="0" y1="155.6" x2="0" y2="366.3"><stop offset="0.0000" stop-color="#d0d0ff"/><stop offset="0.0085" stop-color="#d0d0ff"/><stop offset="0.0085" stop-color="#b5b5ff"/><stop offset="0.0226" stop-color="#b5b5ff"/><stop offset="0.0226" stop-color="#c5c5ff"/><stop offset="0.0400" stop-color="#c5c5ff"/><stop offset="0.0400" stop-color="#8b8bff"/><stop offset="0.0563" stop-color="#8b8bff"/><stop offset="0.0563" stop-color="#b9b9ff"/><stop offset="0.0705" stop-color="#b9b9ff"/><stop offset="0.0705" stop-color="#c7c7ff"/><stop offset="0.0820" stop-color="#c7c7ff"/><stop offset="0.0820" stop-color="#b3b3ff"/><stop offset="0.0921" stop-color="#b3b3ff"/><stop offset="0.0921" stop-color="#c5c5ff"/><stop offset="0.1017" stop-color="#c5c5ff"/><stop offset="0.1017" stop-color="#bbbbff"/><stop offset="0.1168" stop-color="#bbbbff"/><stop offset="0.1168" stop-color="#a0a0ff"/><stop offset="0.1264" stop-color="#a0a0ff"/><stop offset="0.1264" stop-color="#b4b4ff"/><stop offset="0.1342" stop-color="#b4b4ff"/><stop offset="0.1342" stop-color="#7878ff"/><stop offset="0.1479" stop-color="#7878ff"/><stop offset="0.1479" stop-color="#9696ff"/><stop offset="0.1570" stop-color="#9696ff"/><stop offset="0.1570" stop-color="#9f9fff"/><stop offset="0.1674" stop-color="#9f9fff"/><stop offset="0.1674" stop-color="#9090ff"/><stop offset="0.1783" stop-color="#9090ff"/><stop offset="0.1783" stop-color="#8080ff"/><stop offset="0.1903" stop-color="#8080ff"/><stop offset="0.1903" stop-color="#9090ff"/><stop offset="0.2018" stop-color="#9090ff"/><stop offset="0.2018" stop-color="#9090ff"/><stop offset="0.2113" stop-color="#9090ff"/><stop offset="0.2113" stop-color="#6d6dff"/><stop offset="0.2234" stop-color="#6d6dff"/><stop offset="0.2234" stop-color="#4c4cff"/><stop offset="0.2410" stop-color="#4c4cff"/><stop offset="0.2410" stop-color="#6262ff"/><stop offset="0.2483" stop-color="#6262ff"/><stop offset="0.2483" stop-color="#6d6dff"/><stop offset="0.2662" stop-color="#6d6dff"/><stop offset="0.2662" stop-color="#2b2bff"/><stop offset="0.2778" stop-color="#2b2bff"/><stop offset="0.2778" stop-color="#4747ff"/><stop offset="0.2882" stop-color="#4747ff"/><stop offset="0.2882" stop-color="#4040ff"/><stop offset="0.2962" stop-color="#4040ff"/><stop offset="0.2962" stop-color="#0004ff"/><stop offset="0.3554" stop-color="#0012ff"/><stop offset="0.7897" stop-color="#00ffff"/><stop offset="0.9630" stop-color="#ffff00"/><stop offset="0.9886" stop-color="#ffb200"/><stop offset="0.9957" stop-color="#ff3e00"/><stop offset="1.0000" stop-color="#ff2100"/></linearGradient><linearGradient id="g27" gradientUnits="userSpaceOnUse" x1="0" y1="159.4" x2="0" y2="366.3"><stop offset="0.0000" stop-color="#a9a9ff"/><stop offset="0.0189" stop-color="#a9a9ff"/><stop offset="0.0189" stop-color="#b3b3ff"/><stop offset="0.0376" stop-color="#b3b3ff"/><stop offset="0.0376" stop-color="#b3b3ff"/><stop offset="0.0455" stop-color="#b3b3ff"/><stop offset="0.0455" stop-color="#bdbdff"/><stop offset="0.0636" stop-color="#bdbdff"/><stop offset="0.0636" stop-color="#b4b4ff"/><stop offset="0.0728" stop-color="#b4b4ff"/><stop offset="0.0728" stop-color="#b0b0ff"/><stop offset="0.0850" stop-color="#b0b0ff"/><stop offset="0.0850" stop-color="#c3c3ff"/><stop offset="0.0944" stop-color="#c3c3ff"/><stop offset="0.0944" stop-color="#9595ff"/><stop offset="0.1079" stop-color="#9595ff"/><stop offset="0.1079" stop-color="#ababff"/><stop offset="0.1182" stop-color="#ababff"/><stop offset="0.1182" stop-color="#adadff"/><stop offset="0.1259" stop-color="#adadff"/><stop offset="0.1259" stop-color="#7b7bff"/><stop offset="0.1336" stop-color="#7b7bff"/><stop offset="0.1336" stop-color="#a8a8ff"/><stop offset="0.1481" stop-color="#a8a8ff"/><stop offset="0.1481" stop-color="#a8a8ff"/><stop offset="0.1591" stop-color="#a8a8ff"/><stop offset="0.1591" stop-color="#9b9bff"/><stop offset="0.1715" stop-color="#9b9bff"/><stop offset="0.1715" stop-color="#acacff"/><stop offset="0.1840" stop-color="#acacff"/><stop offset="0.1840" stop-color="#9f9fff"/><stop offset="0.1972" stop-color="#9f9fff"/><stop offset="0.1972" stop-color="#6b6bff"/><stop offset="0.2139" stop-color="#6b6bff"/><stop offset="0.2139" stop-color="#6f6fff"/><stop offset="0.2268" stop-color="#6f6fff"/><stop offset="0.2268" stop-color="#8e8eff"/><stop offset="0.2393" stop-color="#8e8eff"/><stop offset="0.2393" stop-color="#8989ff"/><stop offset="0.2527" stop-color="#8989ff"/><stop offset="0.2527" stop-color="#6969ff"/><stop offset="0.2609" stop-color="#6969ff"/><stop offset="0.2609" stop-color="#7c7cff"/><stop offset="0.2744" stop-color="#7c7cff"/><stop offset="0.2744" stop-color="#2e2eff"/><stop offset="0.2862" stop-color="#2e2eff"/><stop offset="0.2862" stop-color="#4b4bff"/><stop offset="0.3038" stop-color="#4b4bff"/><stop offset="0.3038" stop-color="#5b5bff"/><stop offset="0.3209" stop-color="#5b5bff"/><stop offset="0.3209" stop-color="#3434ff"/><stop offset="0.3341" stop-color="#3434ff"/><stop offset="0.3364" stop-color="#0004ff"/><stop offset="0.3932" stop-color="#0012ff"/><stop offset="0.8101" stop-color="#00ffff"/><stop offset="0.9623" stop-color="#ffff00"/><stop offset="0.9884" stop-color="#ffb200"/><stop offset="0.9957" stop-color="#ff3e00"/><stop offset="1.0000" stop-color="#ff2100"/></linearGradient><linearGradient id="g28" gradientUnits="userSpaceOnUse" x1="0" y1="163.3" x2="0" y2="366.3"><stop offset="0.0000" stop-color="#bbbbff"/><stop offset="0.0094" stop-color="#bbbbff"/><stop offset="0.0094" stop-color="#cacaff"/><stop offset="0.0176" stop-color="#cacaff"/><stop offset="0.0176" stop-color="#b6b6ff"/><stop offset="0.0270" stop-color="#b6b6ff"/><stop offset="0.0270" stop-color="#d0d0ff"/><stop offset="0.0444" stop-color="#d0d0ff"/><stop offset="0.0444" stop-color="#cbcbff"/><stop offset="0.0631" stop-color="#cbcbff"/><stop offset="0.0631" stop-color="#9f9fff"/><stop offset="0.0767" stop-color="#9f9fff"/><stop offset="0.0767" stop-color="#c7c7ff"/><stop offset="0.0864" stop-color="#c7c7ff"/><stop offset="0.0864" stop-color="#8585ff"/><stop offset="0.1021" stop-color="#8585ff"/><stop offset="0.1021" stop-color="#c2c2ff"/><stop offset="0.1192" stop-color="#c2c2ff"/><stop offset="0.1192" stop-color="#b5b5ff"/><stop offset="0.1344" stop-color="#b5b5ff"/><stop offset="0.1344" stop-color="#a8a8ff"/><stop offset="0.1486" stop-color="#a8a8ff"/><stop offset="0.1486" stop-color="#9494ff"/><stop offset="0.1573" stop-color="#9494ff"/><stop offset="0.1573" stop-color="#9898ff"/><stop offset="0.1696" stop-color="#9898ff"/><stop offset="0.1696" stop-color="#9b9bff"/><stop offset="0.1891" stop-color="#9b9bff"/><stop offset="0.1891" stop-color="#7171ff"/><stop offset="0.2059" stop-color="#7171ff"/><stop offset="0.2059" stop-color="#9d9dff"/><stop offset="0.2225" stop-color="#9d9dff"/><stop offset="0.2225" stop-color="#8080ff"/><stop offset="0.2330" stop-color="#8080ff"/><stop offset="0.2330" stop-color="#7979ff"/><stop offset="0.2476" stop-color="#7979ff"/><stop offset="0.2476" stop-color="#6161ff"/><stop offset="0.2550" stop-color="#6161ff"/><stop offset="0.2550" stop-color="#7575ff"/><stop offset="0.2700" stop-color="#7575ff"/><stop offset="0.2700" stop-color="#7777ff"/><stop offset="0.2884" stop-color="#7777ff"/><stop offset="0.2884" stop-color="#4949ff"/><stop offset="0.3039" stop-color="#4949ff"/><stop offset="0.3039" stop-color="#6262ff"/><stop offset="0.3156" stop-color="#6262ff"/><stop offset="0.3156" stop-color="#4a4aff"/><stop offset="0.3258" stop-color="#4a4aff"/><stop offset="0.3258" stop-color="#4141ff"/><stop offset="0.3357" stop-color="#4141ff"/><stop offset="0.3357" stop-color="#2f2fff"/><stop offset="0.3433" stop-color="#2f2fff"/><stop offset="0.3433" stop-color="#0004ff"/><stop offset="0.4013" stop-color="#0012ff"/><stop offset="0.8261" stop-color="#00ffff"/><stop offset="0.9714" stop-color="#ffff00"/><stop offset="0.9882" stop-color="#ffb200"/><stop offset="0.9956" stop-color="#ff3e00"/><stop offset="1.0000" stop-color="#ff2100"/></linearGradient><linearGradient id="g29" gradientUnits="userSpaceOnUse" x1="0" y1="160.7" x2="0" y2="366.3"><stop offset="0.0000" stop-color="#d3d3ff"/><stop offset="0.0091" stop-color="#d3d3ff"/><stop offset="0.0091" stop-color="#bbbbff"/><stop offset="0.0270" stop-color="#bbbbff"/><stop offset="0.0270" stop-color="#d5d5ff"/><stop offset="0.0375" stop-color="#d5d5ff"/><stop offset="0.0375" stop-color="#c8c8ff"/><stop offset="0.0516" stop-color="#c8c8ff"/><stop offset="0.0516" stop-color="#b2b2ff"/><stop offset="0.0643" stop-color="#b2b2ff"/><stop offset="0.0643" stop-color="#8b8bff"/><stop offset="0.0747" stop-color="#8b8bff"/><stop offset="0.0747" stop-color="#c0c0ff"/><stop offset="0.0884" stop-color="#c0c0ff"/><stop offset="0.0884" stop-color="#8b8bff"/><stop offset="0.0964" stop-color="#8b8bff"/><stop offset="0.0964" stop-color="#8383ff"/><stop offset="0.1104" stop-color="#8383ff"/><stop offset="0.1104" stop-color="#b2b2ff"/><stop offset="0.1201" stop-color="#b2b2ff"/><stop offset="0.1201" stop-color="#8282ff"/><stop offset="0.1352" stop-color="#8282ff"/><stop offset="0.1352" stop-color="#9090ff"/><stop offset="0.1463" stop-color="#9090ff"/><stop offset="0.1463" stop-color="#a1a1ff"/><stop offset="0.1644" stop-color="#a1a1ff"/><stop offset="0.1644" stop-color="#9999ff"/><stop offset="0.1718" stop-color="#9999ff"/><stop offset="0.1718" stop-color="#9a9aff"/><stop offset="0.1847" stop-color="#9a9aff"/><stop offset="0.1847" stop-color="#acacff"/><stop offset="0.1948" stop-color="#acacff"/><stop offset="0.1948" stop-color="#a0a0ff"/><stop offset="0.2025" stop-color="#a0a0ff"/><stop offset="0.2025" stop-color="#8b8bff"/><stop offset="0.2183" stop-color="#8b8bff"/><stop offset="0.2183" stop-color="#8e8eff"/><stop offset="0.2288" stop-color="#8e8eff"/><stop offset="0.2288" stop-color="#8b8bff"/><stop offset="0.2457" stop-color="#8b8bff"/><stop offset="0.2457" stop-color="#7373ff"/><stop offset="0.2608" stop-color="#7373ff"/><stop offset="0.2608" stop-color="#8d8dff"/><stop offset="0.2788" stop-color="#8d8dff"/><stop offset="0.2788" stop-color="#6b6bff"/><stop offset="0.2890" stop-color="#6b6bff"/><stop offset="0.2890" stop-color="#7474ff"/><stop offset="0.3053" stop-color="#7474ff"/><stop offset="0.3053" stop-color="#6e6eff"/><stop offset="0.3166" stop-color="#6e6eff"/><stop offset="0.3166" stop-color="#5757ff"/><stop offset="0.3316" stop-color="#5757ff"/><stop offset="0.3316" stop-color="#5656ff"/><stop offset="0.3508" stop-color="#5656ff"/><stop offset="0.3508" stop-color="#3d3dff"/><stop offset="0.3666" stop-color="#3d3dff"/><stop offset="0.3666" stop-color="#3d3dff"/><stop offset="0.3760" stop-color="#3d3dff"/><stop offset="0.3760" stop-color="#0004ff"/><stop offset="0.4320" stop-color="#0012ff"/><stop offset="0.8429" stop-color="#00ffff"/><stop offset="0.9718" stop-color="#ffff00"/><stop offset="0.9883" stop-color="#ffb200"/><stop offset="0.9956" stop-color="#ff3e00"/><stop offset="1.0000" stop-color="#ff2100"/></linearGradient><linearGradient id="g30" gradientUnits="userSpaceOnUse" x1="0" y1="159.4" x2="0" y2="366.3"><stop offset="0.0000" stop-color="#9b9bff"/><stop offset="0.0098" stop-color="#9b9bff"/><stop offset="0.0098" stop-color="#ababff"/><stop offset="0.0281" stop-color="#ababff"/><stop offset="0.0281" stop-color="#b5b5ff"/><stop offset="0.0366" stop-color="#b5b5ff"/><stop offset="0.0366" stop-color="#adadff"/><stop offset="0.0456" stop-color="#adadff"/><stop offset="0.0456" stop-color="#bdbdff"/><stop offset="0.0612" stop-color="#bdbdff"/><stop offset="0.0612" stop-color="#cfcfff"/><stop offset="0.0773" stop-color="#cfcfff"/><stop offset="0.0773" stop-color="#b2b2ff"/><stop offset="0.0890" stop-color="#b2b2ff"/><stop offset="0.0890" stop-color="#cbcbff"/><stop offset="0.1070" stop-color="#cbcbff"/><stop offset="0.1070" stop-color="#8282ff"/><stop offset="0.1253" stop-color="#8282ff"/><stop offset="0.1253" stop-color="#9b9bff"/><stop offset="0.1350" stop-color="#9b9bff"/><stop offset="0.1350" stop-color="#a6a6ff"/><stop offset="0.1525" stop-color="#a6a6ff"/><stop offset="0.1525" stop-color="#a7a7ff"/><stop offset="0.1697" stop-color="#a7a7ff"/><stop offset="0.1697" stop-color="#b5b5ff"/><stop offset="0.1782" stop-color="#b5b5ff"/><stop offset="0.1782" stop-color="#aaaaff"/><stop offset="0.1879" stop-color="#aaaaff"/><stop offset="0.1879" stop-color="#a9a9ff"/><stop offset="0.1954" stop-color="#a9a9ff"/><stop offset="0.1954" stop-color="#a3a3ff"/><stop offset="0.2113" stop-color="#a3a3ff"/><stop offset="0.2113" stop-color="#9898ff"/><stop offset="0.2302" stop-color="#9898ff"/><stop offset="0.2302" stop-color="#a1a1ff"/><stop offset="0.2450" stop-color="#a1a1ff"/><stop offset="0.2450" stop-color="#8181ff"/><stop offset="0.2575" stop-color="#8181ff"/><stop offset="0.2575" stop-color="#8484ff"/><stop offset="0.2732" stop-color="#8484ff"/><stop offset="0.2732" stop-color="#8c8cff"/><stop offset="0.2909" stop-color="#8c8cff"/><stop offset="0.2909" stop-color="#8787ff"/><stop offset="0.3002" stop-color="#8787ff"/><stop offset="0.3002" stop-color="#3a3aff"/><stop offset="0.3167" stop-color="#3a3aff"/><stop offset="0.3167" stop-color="#6969ff"/><stop offset="0.3299" stop-color="#6969ff"/><stop offset="0.3299" stop-color="#6262ff"/><stop offset="0.3393" stop-color="#6262ff"/><stop offset="0.3393" stop-color="#6565ff"/><stop offset="0.3566" stop-color="#6565ff"/><stop offset="0.3566" stop-color="#5d5dff"/><stop offset="0.3673" stop-color="#5d5dff"/><stop offset="0.3673" stop-color="#5a5aff"/><stop offset="0.3806" stop-color="#5a5aff"/><stop offset="0.3806" stop-color="#3a3aff"/><stop offset="0.3888" stop-color="#3a3aff"/><stop offset="0.3888" stop-color="#3b3bff"/><stop offset="0.3992" stop-color="#3b3bff"/><stop offset="0.3992" stop-color="#0004ff"/><stop offset="0.4543" stop-color="#0012ff"/><stop offset="0.8584" stop-color="#00ffff"/><stop offset="0.9720" stop-color="#ffff00"/><stop offset="0.9884" stop-color="#ffb200"/><stop offset="0.9957" stop-color="#ff3e00"/><stop offset="1.0000" stop-color="#ff2100"/></linearGradient><linearGradient id="g31" gradientUnits="userSpaceOnUse" x1="0" y1="163.3" x2="0" y2="366.3"><stop offset="0.0000" stop-color="#c8c8ff"/><stop offset="0.0123" stop-color="#c8c8ff"/><stop offset="0.0123" stop-color="#9191ff"/><stop offset="0.0208" stop-color="#9191ff"/><stop offset="0.0208" stop-color="#ccccff"/><stop offset="0.0307" stop-color="#ccccff"/><stop offset="0.0307" stop-color="#c8c8ff"/><stop offset="0.0443" stop-color="#c8c8ff"/><stop offset="0.0443" stop-color="#c4c4ff"/><stop offset="0.0545" stop-color="#c4c4ff"/><stop offset="0.0545" stop-color="#b9b9ff"/><stop offset="0.0712" stop-color="#b9b9ff"/><stop offset="0.0712" stop-color="#a0a0ff"/><stop offset="0.0829" stop-color="#a0a0ff"/><stop offset="0.0829" stop-color="#b8b8ff"/><stop offset="0.1007" stop-color="#b8b8ff"/><stop offset="0.1007" stop-color="#bdbdff"/><stop offset="0.1101" stop-color="#bdbdff"/><stop offset="0.1101" stop-color="#c7c7ff"/><stop offset="0.1247" stop-color="#c7c7ff"/><stop offset="0.1247" stop-color="#9a9aff"/><stop offset="0.1430" stop-color="#9a9aff"/><stop offset="0.1430" stop-color="#acacff"/><stop offset="0.1541" stop-color="#acacff"/><stop offset="0.1541" stop-color="#bdbdff"/><stop offset="0.1634" stop-color="#bdbdff"/><stop offset="0.1634" stop-color="#8888ff"/><stop offset="0.1748" stop-color="#8888ff"/><stop offset="0.1748" stop-color="#b6b6ff"/><stop offset="0.1862" stop-color="#b6b6ff"/><stop offset="0.1862" stop-color="#b6b6ff"/><stop offset="0.2026" stop-color="#b6b6ff"/><stop offset="0.2026" stop-color="#a8a8ff"/><stop offset="0.2112" stop-color="#a8a8ff"/><stop offset="0.2112" stop-color="#9999ff"/><stop offset="0.2284" stop-color="#9999ff"/><stop offset="0.2284" stop-color="#7171ff"/><stop offset="0.2382" stop-color="#7171ff"/><stop offset="0.2382" stop-color="#7777ff"/><stop offset="0.2481" stop-color="#7777ff"/><stop offset="0.2481" stop-color="#8b8bff"/><stop offset="0.2604" stop-color="#8b8bff"/><stop offset="0.2604" stop-color="#8c8cff"/><stop offset="0.2740" stop-color="#8c8cff"/><stop offset="0.2740" stop-color="#8888ff"/><stop offset="0.2831" stop-color="#8888ff"/><stop offset="0.2831" stop-color="#7a7aff"/><stop offset="0.2996" stop-color="#7a7aff"/><stop offset="0.2996" stop-color="#7979ff"/><stop offset="0.3141" stop-color="#7979ff"/><stop offset="0.3141" stop-color="#7474ff"/><stop offset="0.3243" stop-color="#7474ff"/><stop offset="0.3243" stop-color="#7171ff"/><stop offset="0.3412" stop-color="#7171ff"/><stop offset="0.3412" stop-color="#6b6bff"/><stop offset="0.3570" stop-color="#6b6bff"/><stop offset="0.3570" stop-color="#3f3fff"/><stop offset="0.3682" stop-color="#3f3fff"/><stop offset="0.3682" stop-color="#5a5aff"/><stop offset="0.3808" stop-color="#5a5aff"/><stop offset="0.3808" stop-color="#6767ff"/><stop offset="0.3959" stop-color="#6767ff"/><stop offset="0.3959" stop-color="#5252ff"/><stop offset="0.4089" stop-color="#5252ff"/><stop offset="0.4089" stop-color="#1b1bff"/><stop offset="0.4246" stop-color="#1b1bff"/><stop offset="0.4246" stop-color="#3e3eff"/><stop offset="0.4401" stop-color="#3e3eff"/><stop offset="0.4401" stop-color="#0909ff"/><stop offset="0.4517" stop-color="#0909ff"/><stop offset="0.4517" stop-color="#0004ff"/><stop offset="0.5002" stop-color="#0012ff"/><stop offset="0.8557" stop-color="#00ffff"/><stop offset="0.9714" stop-color="#ffff00"/><stop offset="0.9882" stop-color="#ffb200"/><stop offset="0.9956" stop-color="#ff3e00"/><stop offset="1.0000" stop-color="#ff2100"/></linearGradient><linearGradient id="g32" gradientUnits="userSpaceOnUse" x1="0" y1="212.8" x2="0" y2="366.3"><stop offset="0.0000" stop-color="#d1d1ff"/><stop offset="0.0186" stop-color="#d1d1ff"/><stop offset="0.0186" stop-color="#9e9eff"/><stop offset="0.0437" stop-color="#9e9eff"/><stop offset="0.0437" stop-color="#c2c2ff"/><stop offset="0.0628" stop-color="#c2c2ff"/><stop offset="0.0628" stop-color="#bdbdff"/><stop offset="0.0810" stop-color="#bdbdff"/><stop offset="0.0810" stop-color="#c3c3ff"/><stop offset="0.0992" stop-color="#c3c3ff"/><stop offset="0.0992" stop-color="#b8b8ff"/><stop offset="0.1124" stop-color="#b8b8ff"/><stop offset="0.1124" stop-color="#c9c9ff"/><stop offset="0.1346" stop-color="#c9c9ff"/><stop offset="0.1346" stop-color="#c9c9ff"/><stop offset="0.1502" stop-color="#c9c9ff"/><stop offset="0.1502" stop-color="#c8c8ff"/><stop offset="0.1665" stop-color="#c8c8ff"/><stop offset="0.1665" stop-color="#adadff"/><stop offset="0.1831" stop-color="#adadff"/><stop offset="0.1831" stop-color="#babaff"/><stop offset="0.1972" stop-color="#babaff"/><stop offset="0.1972" stop-color="#adadff"/><stop offset="0.2222" stop-color="#adadff"/><stop offset="0.2222" stop-color="#acacff"/><stop offset="0.2451" stop-color="#acacff"/><stop offset="0.2451" stop-color="#9999ff"/><stop offset="0.2570" stop-color="#9999ff"/><stop offset="0.2570" stop-color="#a0a0ff"/><stop offset="0.2771" stop-color="#a0a0ff"/><stop offset="0.2771" stop-color="#8a8aff"/><stop offset="0.2905" stop-color="#8a8aff"/><stop offset="0.2905" stop-color="#8b8bff"/><stop offset="0.3107" stop-color="#8b8bff"/><stop offset="0.3107" stop-color="#9797ff"/><stop offset="0.3281" stop-color="#9797ff"/><stop offset="0.3281" stop-color="#7f7fff"/><stop offset="0.3399" stop-color="#7f7fff"/><stop offset="0.3399" stop-color="#8f8fff"/><stop offset="0.3635" stop-color="#8f8fff"/><stop offset="0.3635" stop-color="#5c5cff"/><stop offset="0.3774" stop-color="#5c5cff"/><stop offset="0.3774" stop-color="#7272ff"/><stop offset="0.3872" stop-color="#7272ff"/><stop offset="0.3872" stop-color="#7e7eff"/><stop offset="0.4010" stop-color="#7e7eff"/><stop offset="0.4010" stop-color="#6d6dff"/><stop offset="0.4177" stop-color="#6d6dff"/><stop offset="0.4177" stop-color="#5c5cff"/><stop offset="0.4334" stop-color="#5c5cff"/><stop offset="0.4334" stop-color="#5a5aff"/><stop offset="0.4441" stop-color="#5a5aff"/><stop offset="0.4441" stop-color="#6d6dff"/><stop offset="0.4667" stop-color="#6d6dff"/><stop offset="0.4667" stop-color="#4343ff"/><stop offset="0.4867" stop-color="#4343ff"/><stop offset="0.4867" stop-color="#4949ff"/><stop offset="0.5120" stop-color="#4949ff"/><stop offset="0.5120" stop-color="#5050ff"/><stop offset="0.5234" stop-color="#5050ff"/><stop offset="0.5234" stop-color="#1e1eff"/><stop offset="0.5355" stop-color="#1e1eff"/><stop offset="0.5355" stop-color="#0004ff"/><stop offset="0.5707" stop-color="#0012ff"/><stop offset="0.8287" stop-color="#00ffff"/><stop offset="0.9622" stop-color="#ffff00"/><stop offset="0.9844" stop-color="#ffb200"/><stop offset="0.9941" stop-color="#ff3e00"/><stop offset="1.0000" stop-color="#ff2100"/></linearGradient><linearGradient id="g33" gradientUnits="userSpaceOnUse" x1="0" y1="310.4" x2="0" y2="366.3"><stop offset="0.0000" stop-color="#1111ff"/><stop offset="0.0673" stop-color="#1111ff"/><stop offset="0.0673" stop-color="#3d3dff"/><stop offset="0.1340" stop-color="#3d3dff"/><stop offset="0.1340" stop-color="#3030ff"/><stop offset="0.1907" stop-color="#3030ff"/><stop offset="0.1907" stop-color="#4646ff"/><stop offset="0.2254" stop-color="#4646ff"/><stop offset="0.2254" stop-color="#0004ff"/><stop offset="0.2640" stop-color="#0012ff"/><stop offset="0.5474" stop-color="#00ffff"/><stop offset="0.8962" stop-color="#ffff00"/><stop offset="0.9571" stop-color="#ffb200"/><stop offset="0.9839" stop-color="#ff3e00"/><stop offset="1.0000" stop-color="#ff2100"/></linearGradient><linearGradient id="g34" gradientUnits="userSpaceOnUse" x1="0" y1="325.1" x2="0" y2="366.3"><stop offset="0.0000" stop-color="#000bff"/><stop offset="0.0463" stop-color="#0012ff"/><stop offset="0.3859" stop-color="#00ffff"/><stop offset="0.8592" stop-color="#ffff00"/><stop offset="0.9417" stop-color="#ffb200"/><stop offset="0.9782" stop-color="#ff3e00"/><stop offset="1.0000" stop-color="#ff2100"/></linearGradient><linearGradient id="g35" gradientUnits="userSpaceOnUse" x1="0" y1="359.1" x2="0" y2="360.2"><stop offset="0.0000" stop-color="#006aff"/><stop offset="0.0000" stop-color="#abff54"/><stop offset="0.0000" stop-color="#ffb200"/><stop offset="0.1818" stop-color="#ff3e00"/><stop offset="1.0000" stop-color="#ff2100"/></linearGradient><linearGradient id="g36" gradientUnits="userSpaceOnUse" x1="0" y1="352.4" x2="0" y2="360.2"><stop offset="0.0000" stop-color="#006aff"/><stop offset="0.4615" stop-color="#00ffff"/><stop offset="0.6795" stop-color="#ffff00"/><stop offset="0.6923" stop-color="#ffb200"/><stop offset="0.8846" stop-color="#ff3e00"/><stop offset="1.0000" stop-color="#ff2100"/></linearGradient><linearGradient id="g37" gradientUnits="userSpaceOnUse" x1="0" y1="334" x2="0" y2="360.2"><stop offset="0.0000" stop-color="#000bff"/><stop offset="0.0737" stop-color="#0012ff"/><stop offset="0.6145" stop-color="#00ffff"/><stop offset="0.9046" stop-color="#ffff00"/><stop offset="0.9084" stop-color="#ffb200"/><stop offset="0.9656" stop-color="#ff3e00"/><stop offset="1.0000" stop-color="#ff2100"/></linearGradient><linearGradient id="g38" gradientUnits="userSpaceOnUse" x1="0" y1="302.6" x2="0" y2="360.2"><stop offset="0.0000" stop-color="#000bff"/><stop offset="0.0571" stop-color="#0012ff"/><stop offset="0.4757" stop-color="#00ffff"/><stop offset="0.8351" stop-color="#ffff00"/><stop offset="0.9583" stop-color="#ffb200"/><stop offset="0.9844" stop-color="#ff3e00"/><stop offset="1.0000" stop-color="#ff2100"/></linearGradient><linearGradient id="g39" gradientUnits="userSpaceOnUse" x1="0" y1="270.2" x2="0" y2="360.2"><stop offset="0.0000" stop-color="#2b2bff"/><stop offset="0.0314" stop-color="#2b2bff"/><stop offset="0.0314" stop-color="#3535ff"/><stop offset="0.0422" stop-color="#3535ff"/><stop offset="0.0422" stop-color="#0004ff"/><stop offset="0.0810" stop-color="#0012ff"/><stop offset="0.3656" stop-color="#00ffff"/><stop offset="0.8944" stop-color="#ffff00"/><stop offset="0.9733" stop-color="#ffb200"/><stop offset="0.9900" stop-color="#ff3e00"/><stop offset="1.0000" stop-color="#ff2100"/></linearGradient><linearGradient id="g40" gradientUnits="userSpaceOnUse" x1="0" y1="244.8" x2="0" y2="360.2"><stop offset="0.0000" stop-color="#5757ff"/><stop offset="0.0181" stop-color="#5757ff"/><stop offset="0.0181" stop-color="#2222ff"/><stop offset="0.0323" stop-color="#2222ff"/><stop offset="0.0323" stop-color="#4343ff"/><stop offset="0.0560" stop-color="#4343ff"/><stop offset="0.0589" stop-color="#0004ff"/><stop offset="0.1008" stop-color="#0012ff"/><stop offset="0.4081" stop-color="#00ffff"/><stop offset="0.9177" stop-color="#ffff00"/><stop offset="0.9792" stop-color="#ffb200"/><stop offset="0.9922" stop-color="#ff3e00"/><stop offset="1.0000" stop-color="#ff2100"/></linearGradient><linearGradient id="g41" gradientUnits="userSpaceOnUse" x1="0" y1="225.8" x2="0" y2="360.2"><stop offset="0.0000" stop-color="#7979ff"/><stop offset="0.0272" stop-color="#7979ff"/><stop offset="0.0272" stop-color="#5555ff"/><stop offset="0.0471" stop-color="#5555ff"/><stop offset="0.0471" stop-color="#4a4aff"/><stop offset="0.0588" stop-color="#4a4aff"/><stop offset="0.0588" stop-color="#0004ff"/><stop offset="0.1067" stop-color="#0012ff"/><stop offset="0.4583" stop-color="#00ffff"/><stop offset="0.9293" stop-color="#ffff00"/><stop offset="0.9821" stop-color="#ffb200"/><stop offset="0.9933" stop-color="#ff3e00"/><stop offset="1.0000" stop-color="#ff2100"/></linearGradient><linearGradient id="g42" gradientUnits="userSpaceOnUse" x1="0" y1="206.8" x2="0" y2="360.2"><stop offset="0.0000" stop-color="#8b8bff"/><stop offset="0.0254" stop-color="#8b8bff"/><stop offset="0.0254" stop-color="#8383ff"/><stop offset="0.0456" stop-color="#8383ff"/><stop offset="0.0456" stop-color="#5757ff"/><stop offset="0.0665" stop-color="#5757ff"/><stop offset="0.0665" stop-color="#5757ff"/><stop offset="0.0923" stop-color="#5757ff"/><stop offset="0.0923" stop-color="#5252ff"/><stop offset="0.1023" stop-color="#5252ff"/><stop offset="0.1023" stop-color="#0004ff"/><stop offset="0.1496" stop-color="#0012ff"/><stop offset="0.4961" stop-color="#00ffff"/><stop offset="0.9381" stop-color="#ffff00"/><stop offset="0.9844" stop-color="#ffb200"/><stop offset="0.9941" stop-color="#ff3e00"/><stop offset="1.0000" stop-color="#ff2100"/></linearGradient><linearGradient id="g43" gradientUnits="userSpaceOnUse" x1="0" y1="195.1" x2="0" y2="360.2"><stop offset="0.0000" stop-color="#9696ff"/><stop offset="0.0186" stop-color="#9696ff"/><stop offset="0.0186" stop-color="#8989ff"/><stop offset="0.0332" stop-color="#8989ff"/><stop offset="0.0332" stop-color="#8787ff"/><stop offset="0.0539" stop-color="#8787ff"/><stop offset="0.0539" stop-color="#6969ff"/><stop offset="0.0694" stop-color="#6969ff"/><stop offset="0.0694" stop-color="#4f4fff"/><stop offset="0.0829" stop-color="#4f4fff"/><stop offset="0.0829" stop-color="#5353ff"/><stop offset="0.0981" stop-color="#5353ff"/><stop offset="0.0981" stop-color="#0004ff"/><stop offset="0.1486" stop-color="#0012ff"/><stop offset="0.5185" stop-color="#00ffff"/><stop offset="0.9182" stop-color="#ffff00"/><stop offset="0.9855" stop-color="#ffb200"/><stop offset="0.9945" stop-color="#ff3e00"/><stop offset="1.0000" stop-color="#ff2100"/></linearGradient><linearGradient id="g44" gradientUnits="userSpaceOnUse" x1="0" y1="168.7" x2="0" y2="360.2"><stop offset="0.0000" stop-color="#a8a8ff"/><stop offset="0.0206" stop-color="#a8a8ff"/><stop offset="0.0206" stop-color="#adadff"/><stop offset="0.0327" stop-color="#adadff"/><stop offset="0.0327" stop-color="#9b9bff"/><stop offset="0.0482" stop-color="#9b9bff"/><stop offset="0.0482" stop-color="#8e8eff"/><stop offset="0.0566" stop-color="#8e8eff"/><stop offset="0.0566" stop-color="#a0a0ff"/><stop offset="0.0715" stop-color="#a0a0ff"/><stop offset="0.0715" stop-color="#9090ff"/><stop offset="0.0794" stop-color="#9090ff"/><stop offset="0.0794" stop-color="#7979ff"/><stop offset="0.0952" stop-color="#7979ff"/><stop offset="0.0952" stop-color="#6d6dff"/><stop offset="0.1149" stop-color="#6d6dff"/><stop offset="0.1149" stop-color="#5858ff"/><stop offset="0.1309" stop-color="#5858ff"/><stop offset="0.1309" stop-color="#5959ff"/><stop offset="0.1477" stop-color="#5959ff"/><stop offset="0.1477" stop-color="#0e0eff"/><stop offset="0.1520" stop-color="#0e0eff"/><stop offset="0.1520" stop-color="#0004ff"/><stop offset="0.2011" stop-color="#0012ff"/><stop offset="0.5614" stop-color="#00ffff"/><stop offset="0.9295" stop-color="#ffff00"/><stop offset="0.9875" stop-color="#ffb200"/><stop offset="0.9953" stop-color="#ff3e00"/><stop offset="1.0000" stop-color="#ff2100"/></linearGradient><linearGradient id="g45" gradientUnits="userSpaceOnUse" x1="0" y1="160.4" x2="0" y2="360.2"><stop offset="0.0000" stop-color="#bebeff"/><stop offset="0.0098" stop-color="#bebeff"/><stop offset="0.0098" stop-color="#a4a4ff"/><stop offset="0.0287" stop-color="#a4a4ff"/><stop offset="0.0287" stop-color="#9393ff"/><stop offset="0.0465" stop-color="#9393ff"/><stop offset="0.0465" stop-color="#9494ff"/><stop offset="0.0573" stop-color="#9494ff"/><stop offset="0.0573" stop-color="#8484ff"/><stop offset="0.0687" stop-color="#8484ff"/><stop offset="0.0687" stop-color="#8585ff"/><stop offset="0.0879" stop-color="#8585ff"/><stop offset="0.0879" stop-color="#6b6bff"/><stop offset="0.0959" stop-color="#6b6bff"/><stop offset="0.0959" stop-color="#4545ff"/><stop offset="0.1106" stop-color="#4545ff"/><stop offset="0.1106" stop-color="#4444ff"/><stop offset="0.1156" stop-color="#4444ff"/><stop offset="0.1156" stop-color="#0004ff"/><stop offset="0.1700" stop-color="#0012ff"/><stop offset="0.5686" stop-color="#00ffff"/><stop offset="0.9324" stop-color="#ffff00"/><stop offset="0.9880" stop-color="#ffb200"/><stop offset="0.9955" stop-color="#ff3e00"/><stop offset="1.0000" stop-color="#ff2100"/></linearGradient><linearGradient id="g46" gradientUnits="userSpaceOnUse" x1="0" y1="142.9" x2="0" y2="360.2"><stop offset="0.0000" stop-color="#9d9dff"/><stop offset="0.0177" stop-color="#9d9dff"/><stop offset="0.0177" stop-color="#b4b4ff"/><stop offset="0.0293" stop-color="#b4b4ff"/><stop offset="0.0293" stop-color="#8686ff"/><stop offset="0.0387" stop-color="#8686ff"/><stop offset="0.0387" stop-color="#6d6dff"/><stop offset="0.0456" stop-color="#6d6dff"/><stop offset="0.0456" stop-color="#a2a2ff"/><stop offset="0.0637" stop-color="#a2a2ff"/><stop offset="0.0637" stop-color="#9595ff"/><stop offset="0.0720" stop-color="#9595ff"/><stop offset="0.0720" stop-color="#4e4eff"/><stop offset="0.0817" stop-color="#4e4eff"/><stop offset="0.0817" stop-color="#6969ff"/><stop offset="0.0892" stop-color="#6969ff"/><stop offset="0.0892" stop-color="#3d3dff"/><stop offset="0.1060" stop-color="#3d3dff"/><stop offset="0.1060" stop-color="#5252ff"/><stop offset="0.1201" stop-color="#5252ff"/><stop offset="0.1201" stop-color="#5252ff"/><stop offset="0.1339" stop-color="#5252ff"/><stop offset="0.1339" stop-color="#0004ff"/><stop offset="0.1890" stop-color="#0012ff"/><stop offset="0.5927" stop-color="#00ffff"/><stop offset="0.9379" stop-color="#ffff00"/><stop offset="0.9890" stop-color="#ffb200"/><stop offset="0.9959" stop-color="#ff3e00"/><stop offset="1.0000" stop-color="#ff2100"/></linearGradient><linearGradient id="g47" gradientUnits="userSpaceOnUse" x1="0" y1="140.3" x2="0" y2="360.2"><stop offset="0.0000" stop-color="#9999ff"/><stop offset="0.0150" stop-color="#9999ff"/><stop offset="0.0150" stop-color="#7777ff"/><stop offset="0.0292" stop-color="#7777ff"/><stop offset="0.0292" stop-color="#7373ff"/><stop offset="0.0396" stop-color="#7373ff"/><stop offset="0.0396" stop-color="#7474ff"/><stop offset="0.0562" stop-color="#7474ff"/><stop offset="0.0562" stop-color="#8b8bff"/><stop offset="0.0672" stop-color="#8b8bff"/><stop offset="0.0672" stop-color="#9191ff"/><stop offset="0.0817" stop-color="#9191ff"/><stop offset="0.0817" stop-color="#7272ff"/><stop offset="0.0926" stop-color="#7272ff"/><stop offset="0.0926" stop-color="#7171ff"/><stop offset="0.1042" stop-color="#7171ff"/><stop offset="0.1042" stop-color="#5757ff"/><stop offset="0.1218" stop-color="#5757ff"/><stop offset="0.1218" stop-color="#5e5eff"/><stop offset="0.1319" stop-color="#5e5eff"/><stop offset="0.1319" stop-color="#3838ff"/><stop offset="0.1410" stop-color="#3838ff"/><stop offset="0.1410" stop-color="#0004ff"/><stop offset="0.1946" stop-color="#0012ff"/><stop offset="0.5875" stop-color="#00ffff"/><stop offset="0.9386" stop-color="#ffff00"/><stop offset="0.9891" stop-color="#ffb200"/><stop offset="0.9959" stop-color="#ff3e00"/><stop offset="1.0000" stop-color="#ff2100"/></linearGradient><linearGradient id="g48" gradientUnits="userSpaceOnUse" x1="0" y1="117.2" x2="0" y2="360.2"><stop offset="0.0000" stop-color="#9d9dff"/><stop offset="0.0124" stop-color="#9d9dff"/><stop offset="0.0124" stop-color="#b2b2ff"/><stop offset="0.0248" stop-color="#b2b2ff"/><stop offset="0.0248" stop-color="#ababff"/><stop offset="0.0401" stop-color="#ababff"/><stop offset="0.0401" stop-color="#9393ff"/><stop offset="0.0524" stop-color="#9393ff"/><stop offset="0.0524" stop-color="#acacff"/><stop offset="0.0615" stop-color="#acacff"/><stop offset="0.0615" stop-color="#9393ff"/><stop offset="0.0720" stop-color="#9393ff"/><stop offset="0.0720" stop-color="#a1a1ff"/><stop offset="0.0873" stop-color="#a1a1ff"/><stop offset="0.0873" stop-color="#7b7bff"/><stop offset="0.1019" stop-color="#7b7bff"/><stop offset="0.1019" stop-color="#7373ff"/><stop offset="0.1109" stop-color="#7373ff"/><stop offset="0.1109" stop-color="#6b6bff"/><stop offset="0.1241" stop-color="#6b6bff"/><stop offset="0.1241" stop-color="#6e6eff"/><stop offset="0.1311" stop-color="#6e6eff"/><stop offset="0.1311" stop-color="#6262ff"/><stop offset="0.1394" stop-color="#6262ff"/><stop offset="0.1394" stop-color="#6161ff"/><stop offset="0.1479" stop-color="#6161ff"/><stop offset="0.1479" stop-color="#6969ff"/><stop offset="0.1589" stop-color="#6969ff"/><stop offset="0.1589" stop-color="#4c4cff"/><stop offset="0.1728" stop-color="#4c4cff"/><stop offset="0.1728" stop-color="#4141ff"/><stop offset="0.1799" stop-color="#4141ff"/><stop offset="0.1799" stop-color="#4343ff"/><stop offset="0.1884" stop-color="#4343ff"/><stop offset="0.1884" stop-color="#3f3fff"/><stop offset="0.1963" stop-color="#3f3fff"/><stop offset="0.1963" stop-color="#0004ff"/><stop offset="0.2468" stop-color="#0012ff"/><stop offset="0.6173" stop-color="#00ffff"/><stop offset="0.9444" stop-color="#ffff00"/><stop offset="0.9901" stop-color="#ffb200"/><stop offset="0.9963" stop-color="#ff3e00"/><stop offset="1.0000" stop-color="#ff2100"/></linearGradient><linearGradient id="g49" gradientUnits="userSpaceOnUse" x1="0" y1="127.3" x2="0" y2="360.2"><stop offset="0.0000" stop-color="#9292ff"/><stop offset="0.0128" stop-color="#9292ff"/><stop offset="0.0128" stop-color="#a3a3ff"/><stop offset="0.0211" stop-color="#a3a3ff"/><stop offset="0.0211" stop-color="#aaaaff"/><stop offset="0.0336" stop-color="#aaaaff"/><stop offset="0.0336" stop-color="#b0b0ff"/><stop offset="0.0417" stop-color="#b0b0ff"/><stop offset="0.0417" stop-color="#a9a9ff"/><stop offset="0.0521" stop-color="#a9a9ff"/><stop offset="0.0521" stop-color="#a0a0ff"/><stop offset="0.0670" stop-color="#a0a0ff"/><stop offset="0.0670" stop-color="#6363ff"/><stop offset="0.0772" stop-color="#6363ff"/><stop offset="0.0772" stop-color="#7171ff"/><stop offset="0.0840" stop-color="#7171ff"/><stop offset="0.0840" stop-color="#7a7aff"/><stop offset="0.0956" stop-color="#7a7aff"/><stop offset="0.0956" stop-color="#7575ff"/><stop offset="0.1104" stop-color="#7575ff"/><stop offset="0.1104" stop-color="#5a5aff"/><stop offset="0.1251" stop-color="#5a5aff"/><stop offset="0.1251" stop-color="#6868ff"/><stop offset="0.1343" stop-color="#6868ff"/><stop offset="0.1343" stop-color="#3737ff"/><stop offset="0.1427" stop-color="#3737ff"/><stop offset="0.1427" stop-color="#3939ff"/><stop offset="0.1551" stop-color="#3939ff"/><stop offset="0.1559" stop-color="#0004ff"/><stop offset="0.2081" stop-color="#0012ff"/><stop offset="0.5912" stop-color="#00ffff"/><stop offset="0.9420" stop-color="#ffff00"/><stop offset="0.9897" stop-color="#ffb200"/><stop offset="0.9961" stop-color="#ff3e00"/><stop offset="1.0000" stop-color="#ff2100"/></linearGradient><linearGradient id="g50" gradientUnits="userSpaceOnUse" x1="0" y1="112.3" x2="0" y2="360.2"><stop offset="0.0000" stop-color="#7979ff"/><stop offset="0.0156" stop-color="#7979ff"/><stop offset="0.0156" stop-color="#8787ff"/><stop offset="0.0277" stop-color="#8787ff"/><stop offset="0.0277" stop-color="#adadff"/><stop offset="0.0434" stop-color="#adadff"/><stop offset="0.0434" stop-color="#8d8dff"/><stop offset="0.0559" stop-color="#8d8dff"/><stop offset="0.0559" stop-color="#7272ff"/><stop offset="0.0659" stop-color="#7272ff"/><stop offset="0.0659" stop-color="#7f7fff"/><stop offset="0.0817" stop-color="#7f7fff"/><stop offset="0.0817" stop-color="#8e8eff"/><stop offset="0.0882" stop-color="#8e8eff"/><stop offset="0.0882" stop-color="#7373ff"/><stop offset="0.1033" stop-color="#7373ff"/><stop offset="0.1033" stop-color="#6c6cff"/><stop offset="0.1098" stop-color="#6c6cff"/><stop offset="0.1098" stop-color="#3a3aff"/><stop offset="0.1224" stop-color="#3a3aff"/><stop offset="0.1224" stop-color="#5f5fff"/><stop offset="0.1299" stop-color="#5f5fff"/><stop offset="0.1299" stop-color="#6868ff"/><stop offset="0.1428" stop-color="#6868ff"/><stop offset="0.1428" stop-color="#6464ff"/><stop offset="0.1565" stop-color="#6464ff"/><stop offset="0.1565" stop-color="#5858ff"/><stop offset="0.1651" stop-color="#5858ff"/><stop offset="0.1651" stop-color="#2626ff"/><stop offset="0.1729" stop-color="#2626ff"/><stop offset="0.1729" stop-color="#4d4dff"/><stop offset="0.1763" stop-color="#4d4dff"/><stop offset="0.1763" stop-color="#0004ff"/><stop offset="0.2280" stop-color="#0012ff"/><stop offset="0.6071" stop-color="#00ffff"/><stop offset="0.9455" stop-color="#ffff00"/><stop offset="0.9903" stop-color="#ffb200"/><stop offset="0.9964" stop-color="#ff3e00"/><stop offset="1.0000" stop-color="#ff2100"/></linearGradient><linearGradient id="g51" gradientUnits="userSpaceOnUse" x1="0" y1="114.5" x2="0" y2="360.2"><stop offset="0.0000" stop-color="#bebeff"/><stop offset="0.0081" stop-color="#bebeff"/><stop offset="0.0081" stop-color="#9c9cff"/><stop offset="0.0164" stop-color="#9c9cff"/><stop offset="0.0164" stop-color="#b4b4ff"/><stop offset="0.0316" stop-color="#b4b4ff"/><stop offset="0.0316" stop-color="#8f8fff"/><stop offset="0.0387" stop-color="#8f8fff"/><stop offset="0.0387" stop-color="#9a9aff"/><stop offset="0.0512" stop-color="#9a9aff"/><stop offset="0.0512" stop-color="#8f8fff"/><stop offset="0.0657" stop-color="#8f8fff"/><stop offset="0.0657" stop-color="#6666ff"/><stop offset="0.0732" stop-color="#6666ff"/><stop offset="0.0732" stop-color="#5353ff"/><stop offset="0.0866" stop-color="#5353ff"/><stop offset="0.0866" stop-color="#7575ff"/><stop offset="0.1015" stop-color="#7575ff"/><stop offset="0.1015" stop-color="#6565ff"/><stop offset="0.1092" stop-color="#6565ff"/><stop offset="0.1092" stop-color="#6060ff"/><stop offset="0.1187" stop-color="#6060ff"/><stop offset="0.1187" stop-color="#1515ff"/><stop offset="0.1281" stop-color="#1515ff"/><stop offset="0.1281" stop-color="#4d4dff"/><stop offset="0.1323" stop-color="#4d4dff"/><stop offset="0.1323" stop-color="#0004ff"/><stop offset="0.1888" stop-color="#0012ff"/><stop offset="0.6036" stop-color="#00ffff"/><stop offset="0.9451" stop-color="#ffff00"/><stop offset="0.9902" stop-color="#ffb200"/><stop offset="0.9963" stop-color="#ff3e00"/><stop offset="1.0000" stop-color="#ff2100"/></linearGradient><linearGradient id="g52" gradientUnits="userSpaceOnUse" x1="0" y1="95.9" x2="0" y2="360.2"><stop offset="0.0000" stop-color="#b8b8ff"/><stop offset="0.0120" stop-color="#b8b8ff"/><stop offset="0.0120" stop-color="#b3b3ff"/><stop offset="0.0204" stop-color="#b3b3ff"/><stop offset="0.0204" stop-color="#9696ff"/><stop offset="0.0295" stop-color="#9696ff"/><stop offset="0.0295" stop-color="#b2b2ff"/><stop offset="0.0439" stop-color="#b2b2ff"/><stop offset="0.0439" stop-color="#acacff"/><stop offset="0.0581" stop-color="#acacff"/><stop offset="0.0581" stop-color="#5e5eff"/><stop offset="0.0665" stop-color="#5e5eff"/><stop offset="0.0665" stop-color="#6f6fff"/><stop offset="0.0798" stop-color="#6f6fff"/><stop offset="0.0798" stop-color="#7b7bff"/><stop offset="0.0855" stop-color="#7b7bff"/><stop offset="0.0855" stop-color="#8585ff"/><stop offset="0.0930" stop-color="#8585ff"/><stop offset="0.0930" stop-color="#5555ff"/><stop offset="0.1007" stop-color="#5555ff"/><stop offset="0.1007" stop-color="#6e6eff"/><stop offset="0.1081" stop-color="#6e6eff"/><stop offset="0.1081" stop-color="#5a5aff"/><stop offset="0.1156" stop-color="#5a5aff"/><stop offset="0.1156" stop-color="#6c6cff"/><stop offset="0.1271" stop-color="#6c6cff"/><stop offset="0.1271" stop-color="#5e5eff"/><stop offset="0.1347" stop-color="#5e5eff"/><stop offset="0.1347" stop-color="#5959ff"/><stop offset="0.1480" stop-color="#5959ff"/><stop offset="0.1480" stop-color="#4848ff"/><stop offset="0.1543" stop-color="#4848ff"/><stop offset="0.1543" stop-color="#5a5aff"/><stop offset="0.1668" stop-color="#5a5aff"/><stop offset="0.1668" stop-color="#3434ff"/><stop offset="0.1740" stop-color="#3434ff"/><stop offset="0.1740" stop-color="#0004ff"/><stop offset="0.2269" stop-color="#0012ff"/><stop offset="0.6145" stop-color="#00ffff"/><stop offset="0.9489" stop-color="#ffff00"/><stop offset="0.9909" stop-color="#ffb200"/><stop offset="0.9966" stop-color="#ff3e00"/><stop offset="1.0000" stop-color="#ff2100"/></linearGradient><linearGradient id="g53" gradientUnits="userSpaceOnUse" x1="0" y1="81.8" x2="0" y2="360.2"><stop offset="0.0000" stop-color="#bebeff"/><stop offset="0.0098" stop-color="#bebeff"/><stop offset="0.0098" stop-color="#9f9fff"/><stop offset="0.0195" stop-color="#9f9fff"/><stop offset="0.0195" stop-color="#9d9dff"/><stop offset="0.0265" stop-color="#9d9dff"/><stop offset="0.0265" stop-color="#ababff"/><stop offset="0.0334" stop-color="#ababff"/><stop offset="0.0334" stop-color="#a3a3ff"/><stop offset="0.0388" stop-color="#a3a3ff"/><stop offset="0.0388" stop-color="#afafff"/><stop offset="0.0488" stop-color="#afafff"/><stop offset="0.0488" stop-color="#9090ff"/><stop offset="0.0616" stop-color="#9090ff"/><stop offset="0.0616" stop-color="#9b9bff"/><stop offset="0.0733" stop-color="#9b9bff"/><stop offset="0.0733" stop-color="#8383ff"/><stop offset="0.0793" stop-color="#8383ff"/><stop offset="0.0793" stop-color="#8c8cff"/><stop offset="0.0891" stop-color="#8c8cff"/><stop offset="0.0891" stop-color="#9898ff"/><stop offset="0.0993" stop-color="#9898ff"/><stop offset="0.0993" stop-color="#6666ff"/><stop offset="0.1067" stop-color="#6666ff"/><stop offset="0.1067" stop-color="#4b4bff"/><stop offset="0.1144" stop-color="#4b4bff"/><stop offset="0.1144" stop-color="#4a4aff"/><stop offset="0.1206" stop-color="#4a4aff"/><stop offset="0.1206" stop-color="#7070ff"/><stop offset="0.1262" stop-color="#7070ff"/><stop offset="0.1262" stop-color="#4242ff"/><stop offset="0.1362" stop-color="#4242ff"/><stop offset="0.1362" stop-color="#3b3bff"/><stop offset="0.1494" stop-color="#3b3bff"/><stop offset="0.1494" stop-color="#5f5fff"/><stop offset="0.1559" stop-color="#5f5fff"/><stop offset="0.1559" stop-color="#6767ff"/><stop offset="0.1638" stop-color="#6767ff"/><stop offset="0.1638" stop-color="#5050ff"/><stop offset="0.1704" stop-color="#5050ff"/><stop offset="0.1704" stop-color="#4c4cff"/><stop offset="0.1772" stop-color="#4c4cff"/><stop offset="0.1772" stop-color="#3e3eff"/><stop offset="0.1840" stop-color="#3e3eff"/><stop offset="0.1840" stop-color="#4747ff"/><stop offset="0.1929" stop-color="#4747ff"/><stop offset="0.1929" stop-color="#4040ff"/><stop offset="0.1976" stop-color="#4040ff"/><stop offset="0.1976" stop-color="#0004ff"/><stop offset="0.2480" stop-color="#0012ff"/><stop offset="0.6178" stop-color="#00ffff"/><stop offset="0.9515" stop-color="#ffff00"/><stop offset="0.9914" stop-color="#ffb200"/><stop offset="0.9968" stop-color="#ff3e00"/><stop offset="1.0000" stop-color="#ff2100"/></linearGradient><linearGradient id="g54" gradientUnits="userSpaceOnUse" x1="0" y1="75.1" x2="0" y2="360.2"><stop offset="0.0000" stop-color="#b3b3ff"/><stop offset="0.0121" stop-color="#b3b3ff"/><stop offset="0.0121" stop-color="#adadff"/><stop offset="0.0203" stop-color="#adadff"/><stop offset="0.0203" stop-color="#9a9aff"/><stop offset="0.0326" stop-color="#9a9aff"/><stop offset="0.0326" stop-color="#b4b4ff"/><stop offset="0.0453" stop-color="#b4b4ff"/><stop offset="0.0453" stop-color="#8f8fff"/><stop offset="0.0589" stop-color="#8f8fff"/><stop offset="0.0589" stop-color="#9393ff"/><stop offset="0.0679" stop-color="#9393ff"/><stop offset="0.0679" stop-color="#a2a2ff"/><stop offset="0.0778" stop-color="#a2a2ff"/><stop offset="0.0778" stop-color="#7979ff"/><stop offset="0.0875" stop-color="#7979ff"/><stop offset="0.0875" stop-color="#7f7fff"/><stop offset="0.1013" stop-color="#7f7fff"/><stop offset="0.1013" stop-color="#7575ff"/><stop offset="0.1121" stop-color="#7575ff"/><stop offset="0.1121" stop-color="#8989ff"/><stop offset="0.1251" stop-color="#8989ff"/><stop offset="0.1251" stop-color="#6a6aff"/><stop offset="0.1327" stop-color="#6a6aff"/><stop offset="0.1327" stop-color="#5c5cff"/><stop offset="0.1427" stop-color="#5c5cff"/><stop offset="0.1427" stop-color="#6363ff"/><stop offset="0.1502" stop-color="#6363ff"/><stop offset="0.1502" stop-color="#6666ff"/><stop offset="0.1638" stop-color="#6666ff"/><stop offset="0.1638" stop-color="#6161ff"/><stop offset="0.1747" stop-color="#6161ff"/><stop offset="0.1747" stop-color="#4b4bff"/><stop offset="0.1884" stop-color="#4b4bff"/><stop offset="0.1884" stop-color="#1a1aff"/><stop offset="0.1977" stop-color="#1a1aff"/><stop offset="0.1982" stop-color="#0004ff"/><stop offset="0.2487" stop-color="#0012ff"/><stop offset="0.6191" stop-color="#00ffff"/><stop offset="0.9526" stop-color="#ffff00"/><stop offset="0.9916" stop-color="#ffb200"/><stop offset="0.9968" stop-color="#ff3e00"/><stop offset="1.0000" stop-color="#ff2100"/></linearGradient><linearGradient id="g55" gradientUnits="userSpaceOnUse" x1="0" y1="79.6" x2="0" y2="360.2"><stop offset="0.0000" stop-color="#babaff"/><stop offset="0.0064" stop-color="#babaff"/><stop offset="0.0064" stop-color="#b4b4ff"/><stop offset="0.0154" stop-color="#b4b4ff"/><stop offset="0.0154" stop-color="#a8a8ff"/><stop offset="0.0215" stop-color="#a8a8ff"/><stop offset="0.0215" stop-color="#a5a5ff"/><stop offset="0.0323" stop-color="#a5a5ff"/><stop offset="0.0323" stop-color="#9b9bff"/><stop offset="0.0395" stop-color="#9b9bff"/><stop offset="0.0395" stop-color="#9b9bff"/><stop offset="0.0497" stop-color="#9b9bff"/><stop offset="0.0497" stop-color="#a3a3ff"/><stop offset="0.0578" stop-color="#a3a3ff"/><stop offset="0.0578" stop-color="#9999ff"/><stop offset="0.0677" stop-color="#9999ff"/><stop offset="0.0677" stop-color="#9494ff"/><stop offset="0.0732" stop-color="#9494ff"/><stop offset="0.0732" stop-color="#8989ff"/><stop offset="0.0806" stop-color="#8989ff"/><stop offset="0.0806" stop-color="#7575ff"/><stop offset="0.0885" stop-color="#7575ff"/><stop offset="0.0885" stop-color="#6767ff"/><stop offset="0.1007" stop-color="#6767ff"/><stop offset="0.1007" stop-color="#5454ff"/><stop offset="0.1139" stop-color="#5454ff"/><stop offset="0.1139" stop-color="#7070ff"/><stop offset="0.1227" stop-color="#7070ff"/><stop offset="0.1227" stop-color="#7171ff"/><stop offset="0.1290" stop-color="#7171ff"/><stop offset="0.1290" stop-color="#6e6eff"/><stop offset="0.1409" stop-color="#6e6eff"/><stop offset="0.1409" stop-color="#5252ff"/><stop offset="0.1494" stop-color="#5252ff"/><stop offset="0.1494" stop-color="#4646ff"/><stop offset="0.1623" stop-color="#4646ff"/><stop offset="0.1623" stop-color="#3d3dff"/><stop offset="0.1742" stop-color="#3d3dff"/><stop offset="0.1742" stop-color="#3131ff"/><stop offset="0.1764" stop-color="#3131ff"/><stop offset="0.1764" stop-color="#0004ff"/><stop offset="0.2288" stop-color="#0012ff"/><stop offset="0.6130" stop-color="#00ffff"/><stop offset="0.9519" stop-color="#ffff00"/><stop offset="0.9914" stop-color="#ffb200"/><stop offset="0.9968" stop-color="#ff3e00"/><stop offset="1.0000" stop-color="#ff2100"/></linearGradient><linearGradient id="g56" gradientUnits="userSpaceOnUse" x1="0" y1="72" x2="0" y2="360.2"><stop offset="0.0000" stop-color="#babaff"/><stop offset="0.0131" stop-color="#babaff"/><stop offset="0.0131" stop-color="#a1a1ff"/><stop offset="0.0184" stop-color="#a1a1ff"/><stop offset="0.0184" stop-color="#9898ff"/><stop offset="0.0279" stop-color="#9898ff"/><stop offset="0.0279" stop-color="#9a9aff"/><stop offset="0.0367" stop-color="#9a9aff"/><stop offset="0.0367" stop-color="#a4a4ff"/><stop offset="0.0472" stop-color="#a4a4ff"/><stop offset="0.0472" stop-color="#9292ff"/><stop offset="0.0564" stop-color="#9292ff"/><stop offset="0.0564" stop-color="#9393ff"/><stop offset="0.0650" stop-color="#9393ff"/><stop offset="0.0650" stop-color="#8585ff"/><stop offset="0.0730" stop-color="#8585ff"/><stop offset="0.0730" stop-color="#6666ff"/><stop offset="0.0825" stop-color="#6666ff"/><stop offset="0.0825" stop-color="#9090ff"/><stop offset="0.0904" stop-color="#9090ff"/><stop offset="0.0904" stop-color="#8c8cff"/><stop offset="0.1006" stop-color="#8c8cff"/><stop offset="0.1006" stop-color="#6a6aff"/><stop offset="0.1086" stop-color="#6a6aff"/><stop offset="0.1086" stop-color="#7a7aff"/><stop offset="0.1221" stop-color="#7a7aff"/><stop offset="0.1221" stop-color="#5050ff"/><stop offset="0.1352" stop-color="#5050ff"/><stop offset="0.1352" stop-color="#5a5aff"/><stop offset="0.1454" stop-color="#5a5aff"/><stop offset="0.1454" stop-color="#5050ff"/><stop offset="0.1573" stop-color="#5050ff"/><stop offset="0.1573" stop-color="#4545ff"/><stop offset="0.1670" stop-color="#4545ff"/><stop offset="0.1670" stop-color="#4242ff"/><stop offset="0.1714" stop-color="#4242ff"/><stop offset="0.1714" stop-color="#0004ff"/><stop offset="0.2275" stop-color="#0012ff"/><stop offset="0.6384" stop-color="#00ffff"/><stop offset="0.9532" stop-color="#ffff00"/><stop offset="0.9917" stop-color="#ffb200"/><stop offset="0.9969" stop-color="#ff3e00"/><stop offset="1.0000" stop-color="#ff2100"/></linearGradient><linearGradient id="g57" gradientUnits="userSpaceOnUse" x1="0" y1="60.1" x2="0" y2="360.2"><stop offset="0.0000" stop-color="#9e9eff"/><stop offset="0.0079" stop-color="#9e9eff"/><stop offset="0.0079" stop-color="#babaff"/><stop offset="0.0173" stop-color="#babaff"/><stop offset="0.0173" stop-color="#a8a8ff"/><stop offset="0.0256" stop-color="#a8a8ff"/><stop offset="0.0256" stop-color="#9797ff"/><stop offset="0.0380" stop-color="#9797ff"/><stop offset="0.0380" stop-color="#9e9eff"/><stop offset="0.0466" stop-color="#9e9eff"/><stop offset="0.0466" stop-color="#9e9eff"/><stop offset="0.0545" stop-color="#9e9eff"/><stop offset="0.0545" stop-color="#a1a1ff"/><stop offset="0.0609" stop-color="#a1a1ff"/><stop offset="0.0609" stop-color="#7272ff"/><stop offset="0.0728" stop-color="#7272ff"/><stop offset="0.0728" stop-color="#8b8bff"/><stop offset="0.0852" stop-color="#8b8bff"/><stop offset="0.0852" stop-color="#7e7eff"/><stop offset="0.0985" stop-color="#7e7eff"/><stop offset="0.0985" stop-color="#8b8bff"/><stop offset="0.1048" stop-color="#8b8bff"/><stop offset="0.1048" stop-color="#6565ff"/><stop offset="0.1140" stop-color="#6565ff"/><stop offset="0.1140" stop-color="#7676ff"/><stop offset="0.1242" stop-color="#7676ff"/><stop offset="0.1242" stop-color="#4949ff"/><stop offset="0.1375" stop-color="#4949ff"/><stop offset="0.1375" stop-color="#6060ff"/><stop offset="0.1459" stop-color="#6060ff"/><stop offset="0.1459" stop-color="#7676ff"/><stop offset="0.1567" stop-color="#7676ff"/><stop offset="0.1567" stop-color="#5a5aff"/><stop offset="0.1687" stop-color="#5a5aff"/><stop offset="0.1687" stop-color="#5454ff"/><stop offset="0.1753" stop-color="#5454ff"/><stop offset="0.1753" stop-color="#4a4aff"/><stop offset="0.1826" stop-color="#4a4aff"/><stop offset="0.1826" stop-color="#4747ff"/><stop offset="0.1959" stop-color="#4747ff"/><stop offset="0.1959" stop-color="#4b4bff"/><stop offset="0.2019" stop-color="#4b4bff"/><stop offset="0.2019" stop-color="#2323ff"/><stop offset="0.2043" stop-color="#2323ff"/><stop offset="0.2043" stop-color="#0004ff"/><stop offset="0.2608" stop-color="#0012ff"/><stop offset="0.6754" stop-color="#00ffff"/><stop offset="0.9550" stop-color="#ffff00"/><stop offset="0.9920" stop-color="#ffb200"/><stop offset="0.9970" stop-color="#ff3e00"/><stop offset="1.0000" stop-color="#ff2100"/></linearGradient><linearGradient id="g58" gradientUnits="userSpaceOnUse" x1="0" y1="81.8" x2="0" y2="360.2"><stop offset="0.0000" stop-color="#a2a2ff"/><stop offset="0.0101" stop-color="#a2a2ff"/><stop offset="0.0101" stop-color="#9595ff"/><stop offset="0.0227" stop-color="#9595ff"/><stop offset="0.0227" stop-color="#aeaeff"/><stop offset="0.0350" stop-color="#aeaeff"/><stop offset="0.0350" stop-color="#afafff"/><stop offset="0.0436" stop-color="#afafff"/><stop offset="0.0436" stop-color="#9191ff"/><stop offset="0.0499" stop-color="#9191ff"/><stop offset="0.0499" stop-color="#9e9eff"/><stop offset="0.0584" stop-color="#9e9eff"/><stop offset="0.0584" stop-color="#8b8bff"/><stop offset="0.0643" stop-color="#8b8bff"/><stop offset="0.0643" stop-color="#9797ff"/><stop offset="0.0783" stop-color="#9797ff"/><stop offset="0.0783" stop-color="#9d9dff"/><stop offset="0.0859" stop-color="#9d9dff"/><stop offset="0.0859" stop-color="#9090ff"/><stop offset="0.0990" stop-color="#9090ff"/><stop offset="0.0990" stop-color="#8888ff"/><stop offset="0.1117" stop-color="#8888ff"/><stop offset="0.1117" stop-color="#7979ff"/><stop offset="0.1257" stop-color="#7979ff"/><stop offset="0.1257" stop-color="#7373ff"/><stop offset="0.1333" stop-color="#7373ff"/><stop offset="0.1333" stop-color="#7171ff"/><stop offset="0.1406" stop-color="#7171ff"/><stop offset="0.1406" stop-color="#5b5bff"/><stop offset="0.1504" stop-color="#5b5bff"/><stop offset="0.1504" stop-color="#3d3dff"/><stop offset="0.1573" stop-color="#3d3dff"/><stop offset="0.1573" stop-color="#6060ff"/><stop offset="0.1714" stop-color="#6060ff"/><stop offset="0.1714" stop-color="#4d4dff"/><stop offset="0.1778" stop-color="#4d4dff"/><stop offset="0.1778" stop-color="#3232ff"/><stop offset="0.1869" stop-color="#3232ff"/><stop offset="0.1869" stop-color="#4747ff"/><stop offset="0.1976" stop-color="#4747ff"/><stop offset="0.1976" stop-color="#0004ff"/><stop offset="0.2567" stop-color="#0012ff"/><stop offset="0.6904" stop-color="#00ffff"/><stop offset="0.9515" stop-color="#ffff00"/><stop offset="0.9914" stop-color="#ffb200"/><stop offset="0.9968" stop-color="#ff3e00"/><stop offset="1.0000" stop-color="#ff2100"/></linearGradient><linearGradient id="g59" gradientUnits="userSpaceOnUse" x1="0" y1="101.1" x2="0" y2="360.2"><stop offset="0.0000" stop-color="#b5b5ff"/><stop offset="0.0076" stop-color="#b5b5ff"/><stop offset="0.0076" stop-color="#a7a7ff"/><stop offset="0.0138" stop-color="#a7a7ff"/><stop offset="0.0138" stop-color="#7e7eff"/><stop offset="0.0211" stop-color="#7e7eff"/><stop offset="0.0211" stop-color="#7777ff"/><stop offset="0.0294" stop-color="#7777ff"/><stop offset="0.0294" stop-color="#9b9bff"/><stop offset="0.0395" stop-color="#9b9bff"/><stop offset="0.0395" stop-color="#a8a8ff"/><stop offset="0.0468" stop-color="#a8a8ff"/><stop offset="0.0468" stop-color="#9090ff"/><stop offset="0.0563" stop-color="#9090ff"/><stop offset="0.0563" stop-color="#9c9cff"/><stop offset="0.0712" stop-color="#9c9cff"/><stop offset="0.0712" stop-color="#a2a2ff"/><stop offset="0.0814" stop-color="#a2a2ff"/><stop offset="0.0814" stop-color="#8282ff"/><stop offset="0.0897" stop-color="#8282ff"/><stop offset="0.0897" stop-color="#9595ff"/><stop offset="0.0990" stop-color="#9595ff"/><stop offset="0.0990" stop-color="#5454ff"/><stop offset="0.1069" stop-color="#5454ff"/><stop offset="0.1069" stop-color="#8181ff"/><stop offset="0.1176" stop-color="#8181ff"/><stop offset="0.1176" stop-color="#8181ff"/><stop offset="0.1308" stop-color="#8181ff"/><stop offset="0.1308" stop-color="#7c7cff"/><stop offset="0.1421" stop-color="#7c7cff"/><stop offset="0.1421" stop-color="#7979ff"/><stop offset="0.1487" stop-color="#7979ff"/><stop offset="0.1487" stop-color="#3e3eff"/><stop offset="0.1576" stop-color="#3e3eff"/><stop offset="0.1576" stop-color="#6969ff"/><stop offset="0.1688" stop-color="#6969ff"/><stop offset="0.1688" stop-color="#6c6cff"/><stop offset="0.1775" stop-color="#6c6cff"/><stop offset="0.1775" stop-color="#6464ff"/><stop offset="0.1855" stop-color="#6464ff"/><stop offset="0.1855" stop-color="#5555ff"/><stop offset="0.1940" stop-color="#5555ff"/><stop offset="0.1940" stop-color="#3e3eff"/><stop offset="0.2072" stop-color="#3e3eff"/><stop offset="0.2072" stop-color="#2424ff"/><stop offset="0.2143" stop-color="#2424ff"/><stop offset="0.2143" stop-color="#3737ff"/><stop offset="0.2196" stop-color="#3737ff"/><stop offset="0.2196" stop-color="#0004ff"/><stop offset="0.2816" stop-color="#0012ff"/><stop offset="0.7364" stop-color="#00ffff"/><stop offset="0.9479" stop-color="#ffff00"/><stop offset="0.9907" stop-color="#ffb200"/><stop offset="0.9965" stop-color="#ff3e00"/><stop offset="1.0000" stop-color="#ff2100"/></linearGradient><linearGradient id="g60" gradientUnits="userSpaceOnUse" x1="0" y1="109.4" x2="0" y2="360.2"><stop offset="0.0000" stop-color="#a8a8ff"/><stop offset="0.0101" stop-color="#a8a8ff"/><stop offset="0.0101" stop-color="#a0a0ff"/><stop offset="0.0186" stop-color="#a0a0ff"/><stop offset="0.0186" stop-color="#9090ff"/><stop offset="0.0308" stop-color="#9090ff"/><stop offset="0.0308" stop-color="#9f9fff"/><stop offset="0.0459" stop-color="#9f9fff"/><stop offset="0.0459" stop-color="#8d8dff"/><stop offset="0.0523" stop-color="#8d8dff"/><stop offset="0.0523" stop-color="#a8a8ff"/><stop offset="0.0602" stop-color="#a8a8ff"/><stop offset="0.0602" stop-color="#a5a5ff"/><stop offset="0.0666" stop-color="#a5a5ff"/><stop offset="0.0666" stop-color="#9191ff"/><stop offset="0.0744" stop-color="#9191ff"/><stop offset="0.0744" stop-color="#a2a2ff"/><stop offset="0.0875" stop-color="#a2a2ff"/><stop offset="0.0875" stop-color="#7474ff"/><stop offset="0.1003" stop-color="#7474ff"/><stop offset="0.1003" stop-color="#8686ff"/><stop offset="0.1146" stop-color="#8686ff"/><stop offset="0.1146" stop-color="#7d7dff"/><stop offset="0.1210" stop-color="#7d7dff"/><stop offset="0.1210" stop-color="#6969ff"/><stop offset="0.1274" stop-color="#6969ff"/><stop offset="0.1274" stop-color="#8d8dff"/><stop offset="0.1413" stop-color="#8d8dff"/><stop offset="0.1413" stop-color="#8b8bff"/><stop offset="0.1548" stop-color="#8b8bff"/><stop offset="0.1548" stop-color="#6d6dff"/><stop offset="0.1647" stop-color="#6d6dff"/><stop offset="0.1647" stop-color="#7f7fff"/><stop offset="0.1735" stop-color="#7f7fff"/><stop offset="0.1735" stop-color="#5d5dff"/><stop offset="0.1837" stop-color="#5d5dff"/><stop offset="0.1837" stop-color="#5b5bff"/><stop offset="0.1970" stop-color="#5b5bff"/><stop offset="0.1970" stop-color="#6f6fff"/><stop offset="0.2075" stop-color="#6f6fff"/><stop offset="0.2075" stop-color="#5959ff"/><stop offset="0.2178" stop-color="#5959ff"/><stop offset="0.2178" stop-color="#2525ff"/><stop offset="0.2250" stop-color="#2525ff"/><stop offset="0.2250" stop-color="#4545ff"/><stop offset="0.2380" stop-color="#4545ff"/><stop offset="0.2380" stop-color="#3838ff"/><stop offset="0.2494" stop-color="#3838ff"/><stop offset="0.2494" stop-color="#2424ff"/><stop offset="0.2608" stop-color="#2424ff"/><stop offset="0.2608" stop-color="#3d3dff"/><stop offset="0.2632" stop-color="#3d3dff"/><stop offset="0.2632" stop-color="#0004ff"/><stop offset="0.3243" stop-color="#0012ff"/><stop offset="0.7723" stop-color="#00ffff"/><stop offset="0.9462" stop-color="#ffff00"/><stop offset="0.9904" stop-color="#ffb200"/><stop offset="0.9964" stop-color="#ff3e00"/><stop offset="1.0000" stop-color="#ff2100"/></linearGradient><linearGradient id="g61" gradientUnits="userSpaceOnUse" x1="0" y1="113.2" x2="0" y2="360.2"><stop offset="0.0000" stop-color="#babaff"/><stop offset="0.0092" stop-color="#babaff"/><stop offset="0.0092" stop-color="#b6b6ff"/><stop offset="0.0221" stop-color="#b6b6ff"/><stop offset="0.0221" stop-color="#adadff"/><stop offset="0.0334" stop-color="#adadff"/><stop offset="0.0334" stop-color="#b0b0ff"/><stop offset="0.0430" stop-color="#b0b0ff"/><stop offset="0.0430" stop-color="#a5a5ff"/><stop offset="0.0505" stop-color="#a5a5ff"/><stop offset="0.0505" stop-color="#a3a3ff"/><stop offset="0.0648" stop-color="#a3a3ff"/><stop offset="0.0648" stop-color="#9c9cff"/><stop offset="0.0726" stop-color="#9c9cff"/><stop offset="0.0726" stop-color="#9696ff"/><stop offset="0.0834" stop-color="#9696ff"/><stop offset="0.0834" stop-color="#a4a4ff"/><stop offset="0.0906" stop-color="#a4a4ff"/><stop offset="0.0906" stop-color="#aaaaff"/><stop offset="0.0987" stop-color="#aaaaff"/><stop offset="0.0987" stop-color="#9191ff"/><stop offset="0.1068" stop-color="#9191ff"/><stop offset="0.1068" stop-color="#9c9cff"/><stop offset="0.1140" stop-color="#9c9cff"/><stop offset="0.1140" stop-color="#7979ff"/><stop offset="0.1238" stop-color="#7979ff"/><stop offset="0.1238" stop-color="#7f7fff"/><stop offset="0.1300" stop-color="#7f7fff"/><stop offset="0.1300" stop-color="#8787ff"/><stop offset="0.1369" stop-color="#8787ff"/><stop offset="0.1369" stop-color="#9a9aff"/><stop offset="0.1487" stop-color="#9a9aff"/><stop offset="0.1487" stop-color="#9393ff"/><stop offset="0.1591" stop-color="#9393ff"/><stop offset="0.1591" stop-color="#7676ff"/><stop offset="0.1653" stop-color="#7676ff"/><stop offset="0.1653" stop-color="#7373ff"/><stop offset="0.1777" stop-color="#7373ff"/><stop offset="0.1777" stop-color="#6060ff"/><stop offset="0.1863" stop-color="#6060ff"/><stop offset="0.1863" stop-color="#7070ff"/><stop offset="0.1927" stop-color="#7070ff"/><stop offset="0.1927" stop-color="#8383ff"/><stop offset="0.2018" stop-color="#8383ff"/><stop offset="0.2018" stop-color="#3f3fff"/><stop offset="0.2164" stop-color="#3f3fff"/><stop offset="0.2164" stop-color="#6363ff"/><stop offset="0.2304" stop-color="#6363ff"/><stop offset="0.2304" stop-color="#7373ff"/><stop offset="0.2398" stop-color="#7373ff"/><stop offset="0.2398" stop-color="#6969ff"/><stop offset="0.2491" stop-color="#6969ff"/><stop offset="0.2491" stop-color="#5555ff"/><stop offset="0.2589" stop-color="#5555ff"/><stop offset="0.2589" stop-color="#5a5aff"/><stop offset="0.2654" stop-color="#5a5aff"/><stop offset="0.2654" stop-color="#5252ff"/><stop offset="0.2798" stop-color="#5252ff"/><stop offset="0.2798" stop-color="#5353ff"/><stop offset="0.2954" stop-color="#5353ff"/><stop offset="0.2954" stop-color="#5353ff"/><stop offset="0.3031" stop-color="#5353ff"/><stop offset="0.3031" stop-color="#1c1cff"/><stop offset="0.3100" stop-color="#1c1cff"/><stop offset="0.3100" stop-color="#0e0eff"/><stop offset="0.3205" stop-color="#0e0eff"/><stop offset="0.3205" stop-color="#1c1cff"/><stop offset="0.3270" stop-color="#1c1cff"/><stop offset="0.3270" stop-color="#4e4eff"/><stop offset="0.3348" stop-color="#4e4eff"/><stop offset="0.3348" stop-color="#0004ff"/><stop offset="0.3912" stop-color="#0012ff"/><stop offset="0.8049" stop-color="#00ffff"/><stop offset="0.9453" stop-color="#ffff00"/><stop offset="0.9903" stop-color="#ffb200"/><stop offset="0.9964" stop-color="#ff3e00"/><stop offset="1.0000" stop-color="#ff2100"/></linearGradient><linearGradient id="g62" gradientUnits="userSpaceOnUse" x1="0" y1="116.7" x2="0" y2="360.2"><stop offset="0.0000" stop-color="#a3a3ff"/><stop offset="0.0149" stop-color="#a3a3ff"/><stop offset="0.0149" stop-color="#a6a6ff"/><stop offset="0.0240" stop-color="#a6a6ff"/><stop offset="0.0240" stop-color="#b0b0ff"/><stop offset="0.0345" stop-color="#b0b0ff"/><stop offset="0.0345" stop-color="#9d9dff"/><stop offset="0.0475" stop-color="#9d9dff"/><stop offset="0.0475" stop-color="#adadff"/><stop offset="0.0553" stop-color="#adadff"/><stop offset="0.0553" stop-color="#8484ff"/><stop offset="0.0673" stop-color="#8484ff"/><stop offset="0.0673" stop-color="#a8a8ff"/><stop offset="0.0743" stop-color="#a8a8ff"/><stop offset="0.0743" stop-color="#9292ff"/><stop offset="0.0905" stop-color="#9292ff"/><stop offset="0.0905" stop-color="#8b8bff"/><stop offset="0.1066" stop-color="#8b8bff"/><stop offset="0.1066" stop-color="#a6a6ff"/><stop offset="0.1211" stop-color="#a6a6ff"/><stop offset="0.1211" stop-color="#9a9aff"/><stop offset="0.1335" stop-color="#9a9aff"/><stop offset="0.1335" stop-color="#8f8fff"/><stop offset="0.1495" stop-color="#8f8fff"/><stop offset="0.1495" stop-color="#8f8fff"/><stop offset="0.1587" stop-color="#8f8fff"/><stop offset="0.1587" stop-color="#9191ff"/><stop offset="0.1651" stop-color="#9191ff"/><stop offset="0.1651" stop-color="#9393ff"/><stop offset="0.1759" stop-color="#9393ff"/><stop offset="0.1759" stop-color="#7d7dff"/><stop offset="0.1859" stop-color="#7d7dff"/><stop offset="0.1859" stop-color="#7a7aff"/><stop offset="0.1975" stop-color="#7a7aff"/><stop offset="0.1975" stop-color="#8383ff"/><stop offset="0.2048" stop-color="#8383ff"/><stop offset="0.2048" stop-color="#8383ff"/><stop offset="0.2166" stop-color="#8383ff"/><stop offset="0.2166" stop-color="#7f7fff"/><stop offset="0.2254" stop-color="#7f7fff"/><stop offset="0.2254" stop-color="#6e6eff"/><stop offset="0.2341" stop-color="#6e6eff"/><stop offset="0.2341" stop-color="#4242ff"/><stop offset="0.2426" stop-color="#4242ff"/><stop offset="0.2426" stop-color="#3e3eff"/><stop offset="0.2540" stop-color="#3e3eff"/><stop offset="0.2540" stop-color="#7171ff"/><stop offset="0.2644" stop-color="#7171ff"/><stop offset="0.2644" stop-color="#5c5cff"/><stop offset="0.2794" stop-color="#5c5cff"/><stop offset="0.2794" stop-color="#6565ff"/><stop offset="0.2933" stop-color="#6565ff"/><stop offset="0.2933" stop-color="#5f5fff"/><stop offset="0.3069" stop-color="#5f5fff"/><stop offset="0.3069" stop-color="#5656ff"/><stop offset="0.3171" stop-color="#5656ff"/><stop offset="0.3171" stop-color="#1717ff"/><stop offset="0.3290" stop-color="#1717ff"/><stop offset="0.3290" stop-color="#5050ff"/><stop offset="0.3431" stop-color="#5050ff"/><stop offset="0.3431" stop-color="#4b4bff"/><stop offset="0.3462" stop-color="#4b4bff"/><stop offset="0.3462" stop-color="#0004ff"/><stop offset="0.4031" stop-color="#0012ff"/><stop offset="0.8205" stop-color="#00ffff"/><stop offset="0.9610" stop-color="#ffff00"/><stop offset="0.9901" stop-color="#ffb200"/><stop offset="0.9963" stop-color="#ff3e00"/><stop offset="1.0000" stop-color="#ff2100"/></linearGradient><linearGradient id="g63" gradientUnits="userSpaceOnUse" x1="0" y1="120.5" x2="0" y2="360.2"><stop offset="0.0000" stop-color="#b4b4ff"/><stop offset="0.0085" stop-color="#b4b4ff"/><stop offset="0.0085" stop-color="#9f9fff"/><stop offset="0.0192" stop-color="#9f9fff"/><stop offset="0.0192" stop-color="#a9a9ff"/><stop offset="0.0345" stop-color="#a9a9ff"/><stop offset="0.0345" stop-color="#b5b5ff"/><stop offset="0.0499" stop-color="#b5b5ff"/><stop offset="0.0499" stop-color="#9e9eff"/><stop offset="0.0597" stop-color="#9e9eff"/><stop offset="0.0597" stop-color="#b2b2ff"/><stop offset="0.0746" stop-color="#b2b2ff"/><stop offset="0.0746" stop-color="#9292ff"/><stop offset="0.0885" stop-color="#9292ff"/><stop offset="0.0885" stop-color="#7575ff"/><stop offset="0.0952" stop-color="#7575ff"/><stop offset="0.0952" stop-color="#6c6cff"/><stop offset="0.1072" stop-color="#6c6cff"/><stop offset="0.1072" stop-color="#9494ff"/><stop offset="0.1231" stop-color="#9494ff"/><stop offset="0.1231" stop-color="#9898ff"/><stop offset="0.1314" stop-color="#9898ff"/><stop offset="0.1314" stop-color="#7b7bff"/><stop offset="0.1437" stop-color="#7b7bff"/><stop offset="0.1437" stop-color="#6060ff"/><stop offset="0.1511" stop-color="#6060ff"/><stop offset="0.1511" stop-color="#9595ff"/><stop offset="0.1632" stop-color="#9595ff"/><stop offset="0.1632" stop-color="#9797ff"/><stop offset="0.1734" stop-color="#9797ff"/><stop offset="0.1734" stop-color="#8181ff"/><stop offset="0.1853" stop-color="#8181ff"/><stop offset="0.1853" stop-color="#9595ff"/><stop offset="0.2014" stop-color="#9595ff"/><stop offset="0.2014" stop-color="#7e7eff"/><stop offset="0.2092" stop-color="#7e7eff"/><stop offset="0.2092" stop-color="#6666ff"/><stop offset="0.2238" stop-color="#6666ff"/><stop offset="0.2238" stop-color="#7171ff"/><stop offset="0.2386" stop-color="#7171ff"/><stop offset="0.2386" stop-color="#7e7eff"/><stop offset="0.2499" stop-color="#7e7eff"/><stop offset="0.2499" stop-color="#6161ff"/><stop offset="0.2602" stop-color="#6161ff"/><stop offset="0.2602" stop-color="#7070ff"/><stop offset="0.2673" stop-color="#7070ff"/><stop offset="0.2673" stop-color="#3f3fff"/><stop offset="0.2829" stop-color="#3f3fff"/><stop offset="0.2829" stop-color="#6767ff"/><stop offset="0.2909" stop-color="#6767ff"/><stop offset="0.2909" stop-color="#6363ff"/><stop offset="0.3032" stop-color="#6363ff"/><stop offset="0.3032" stop-color="#5757ff"/><stop offset="0.3095" stop-color="#5757ff"/><stop offset="0.3095" stop-color="#5959ff"/><stop offset="0.3159" stop-color="#5959ff"/><stop offset="0.3159" stop-color="#6262ff"/><stop offset="0.3227" stop-color="#6262ff"/><stop offset="0.3227" stop-color="#5b5bff"/><stop offset="0.3318" stop-color="#5b5bff"/><stop offset="0.3318" stop-color="#4d4dff"/><stop offset="0.3408" stop-color="#4d4dff"/><stop offset="0.3408" stop-color="#1414ff"/><stop offset="0.3570" stop-color="#1414ff"/><stop offset="0.3570" stop-color="#3b3bff"/><stop offset="0.3691" stop-color="#3b3bff"/><stop offset="0.3691" stop-color="#3b3bff"/><stop offset="0.3834" stop-color="#3b3bff"/><stop offset="0.3834" stop-color="#4242ff"/><stop offset="0.3859" stop-color="#4242ff"/><stop offset="0.3859" stop-color="#0004ff"/><stop offset="0.4389" stop-color="#0012ff"/><stop offset="0.8273" stop-color="#00ffff"/><stop offset="0.9604" stop-color="#ffff00"/><stop offset="0.9900" stop-color="#ffb200"/><stop offset="0.9962" stop-color="#ff3e00"/><stop offset="1.0000" stop-color="#ff2100"/></linearGradient><linearGradient id="g64" gradientUnits="userSpaceOnUse" x1="0" y1="119.9" x2="0" y2="360.2"><stop offset="0.0000" stop-color="#9e9eff"/><stop offset="0.0153" stop-color="#9e9eff"/><stop offset="0.0153" stop-color="#a3a3ff"/><stop offset="0.0247" stop-color="#a3a3ff"/><stop offset="0.0247" stop-color="#a6a6ff"/><stop offset="0.0363" stop-color="#a6a6ff"/><stop offset="0.0363" stop-color="#8787ff"/><stop offset="0.0482" stop-color="#8787ff"/><stop offset="0.0482" stop-color="#aeaeff"/><stop offset="0.0580" stop-color="#aeaeff"/><stop offset="0.0580" stop-color="#ababff"/><stop offset="0.0692" stop-color="#ababff"/><stop offset="0.0692" stop-color="#8484ff"/><stop offset="0.0779" stop-color="#8484ff"/><stop offset="0.0779" stop-color="#9696ff"/><stop offset="0.0842" stop-color="#9696ff"/><stop offset="0.0842" stop-color="#9f9fff"/><stop offset="0.0951" stop-color="#9f9fff"/><stop offset="0.0951" stop-color="#aeaeff"/><stop offset="0.1031" stop-color="#aeaeff"/><stop offset="0.1031" stop-color="#9595ff"/><stop offset="0.1126" stop-color="#9595ff"/><stop offset="0.1126" stop-color="#a1a1ff"/><stop offset="0.1286" stop-color="#a1a1ff"/><stop offset="0.1286" stop-color="#8080ff"/><stop offset="0.1409" stop-color="#8080ff"/><stop offset="0.1409" stop-color="#8383ff"/><stop offset="0.1532" stop-color="#8383ff"/><stop offset="0.1532" stop-color="#9494ff"/><stop offset="0.1675" stop-color="#9494ff"/><stop offset="0.1675" stop-color="#8e8eff"/><stop offset="0.1744" stop-color="#8e8eff"/><stop offset="0.1744" stop-color="#6e6eff"/><stop offset="0.1835" stop-color="#6e6eff"/><stop offset="0.1835" stop-color="#9191ff"/><stop offset="0.1915" stop-color="#9191ff"/><stop offset="0.1915" stop-color="#8a8aff"/><stop offset="0.2000" stop-color="#8a8aff"/><stop offset="0.2000" stop-color="#7878ff"/><stop offset="0.2125" stop-color="#7878ff"/><stop offset="0.2125" stop-color="#7979ff"/><stop offset="0.2208" stop-color="#7979ff"/><stop offset="0.2208" stop-color="#8d8dff"/><stop offset="0.2333" stop-color="#8d8dff"/><stop offset="0.2333" stop-color="#5a5aff"/><stop offset="0.2486" stop-color="#5a5aff"/><stop offset="0.2486" stop-color="#7575ff"/><stop offset="0.2568" stop-color="#7575ff"/><stop offset="0.2568" stop-color="#6565ff"/><stop offset="0.2697" stop-color="#6565ff"/><stop offset="0.2697" stop-color="#6767ff"/><stop offset="0.2794" stop-color="#6767ff"/><stop offset="0.2794" stop-color="#6666ff"/><stop offset="0.2898" stop-color="#6666ff"/><stop offset="0.2898" stop-color="#4646ff"/><stop offset="0.2967" stop-color="#4646ff"/><stop offset="0.2967" stop-color="#6c6cff"/><stop offset="0.3094" stop-color="#6c6cff"/><stop offset="0.3094" stop-color="#6b6bff"/><stop offset="0.3219" stop-color="#6b6bff"/><stop offset="0.3219" stop-color="#4f4fff"/><stop offset="0.3283" stop-color="#4f4fff"/><stop offset="0.3283" stop-color="#6b6bff"/><stop offset="0.3448" stop-color="#6b6bff"/><stop offset="0.3448" stop-color="#3636ff"/><stop offset="0.3586" stop-color="#3636ff"/><stop offset="0.3586" stop-color="#5d5dff"/><stop offset="0.3664" stop-color="#5d5dff"/><stop offset="0.3664" stop-color="#4343ff"/><stop offset="0.3736" stop-color="#4343ff"/><stop offset="0.3736" stop-color="#4848ff"/><stop offset="0.3855" stop-color="#4848ff"/><stop offset="0.3855" stop-color="#4343ff"/><stop offset="0.3985" stop-color="#4343ff"/><stop offset="0.3985" stop-color="#4b4bff"/><stop offset="0.4125" stop-color="#4b4bff"/><stop offset="0.4125" stop-color="#3333ff"/><stop offset="0.4228" stop-color="#3333ff"/><stop offset="0.4228" stop-color="#0004ff"/><stop offset="0.4725" stop-color="#0012ff"/><stop offset="0.8369" stop-color="#00ffff"/><stop offset="0.9605" stop-color="#ffff00"/><stop offset="0.9900" stop-color="#ffb200"/><stop offset="0.9963" stop-color="#ff3e00"/><stop offset="1.0000" stop-color="#ff2100"/></linearGradient><linearGradient id="g65" gradientUnits="userSpaceOnUse" x1="0" y1="116.5" x2="0" y2="360.2"><stop offset="0.0000" stop-color="#9d9dff"/><stop offset="0.0141" stop-color="#9d9dff"/><stop offset="0.0141" stop-color="#acacff"/><stop offset="0.0231" stop-color="#acacff"/><stop offset="0.0231" stop-color="#bdbdff"/><stop offset="0.0306" stop-color="#bdbdff"/><stop offset="0.0306" stop-color="#a1a1ff"/><stop offset="0.0435" stop-color="#a1a1ff"/><stop offset="0.0435" stop-color="#b3b3ff"/><stop offset="0.0598" stop-color="#b3b3ff"/><stop offset="0.0598" stop-color="#9191ff"/><stop offset="0.0669" stop-color="#9191ff"/><stop offset="0.0669" stop-color="#a6a6ff"/><stop offset="0.0736" stop-color="#a6a6ff"/><stop offset="0.0736" stop-color="#9595ff"/><stop offset="0.0817" stop-color="#9595ff"/><stop offset="0.0817" stop-color="#aeaeff"/><stop offset="0.0893" stop-color="#aeaeff"/><stop offset="0.0893" stop-color="#8888ff"/><stop offset="0.1049" stop-color="#8888ff"/><stop offset="0.1049" stop-color="#a8a8ff"/><stop offset="0.1191" stop-color="#a8a8ff"/><stop offset="0.1191" stop-color="#9797ff"/><stop offset="0.1304" stop-color="#9797ff"/><stop offset="0.1304" stop-color="#9b9bff"/><stop offset="0.1447" stop-color="#9b9bff"/><stop offset="0.1447" stop-color="#a4a4ff"/><stop offset="0.1601" stop-color="#a4a4ff"/><stop offset="0.1601" stop-color="#8e8eff"/><stop offset="0.1670" stop-color="#8e8eff"/><stop offset="0.1670" stop-color="#a1a1ff"/><stop offset="0.1820" stop-color="#a1a1ff"/><stop offset="0.1820" stop-color="#7f7fff"/><stop offset="0.1924" stop-color="#7f7fff"/><stop offset="0.1924" stop-color="#9595ff"/><stop offset="0.2049" stop-color="#9595ff"/><stop offset="0.2049" stop-color="#8b8bff"/><stop offset="0.2138" stop-color="#8b8bff"/><stop offset="0.2138" stop-color="#7d7dff"/><stop offset="0.2220" stop-color="#7d7dff"/><stop offset="0.2220" stop-color="#7373ff"/><stop offset="0.2312" stop-color="#7373ff"/><stop offset="0.2312" stop-color="#8e8eff"/><stop offset="0.2432" stop-color="#8e8eff"/><stop offset="0.2432" stop-color="#8787ff"/><stop offset="0.2583" stop-color="#8787ff"/><stop offset="0.2583" stop-color="#8282ff"/><stop offset="0.2729" stop-color="#8282ff"/><stop offset="0.2729" stop-color="#4343ff"/><stop offset="0.2840" stop-color="#4343ff"/><stop offset="0.2840" stop-color="#7070ff"/><stop offset="0.2972" stop-color="#7070ff"/><stop offset="0.2972" stop-color="#6262ff"/><stop offset="0.3093" stop-color="#6262ff"/><stop offset="0.3093" stop-color="#7171ff"/><stop offset="0.3245" stop-color="#7171ff"/><stop offset="0.3245" stop-color="#7272ff"/><stop offset="0.3395" stop-color="#7272ff"/><stop offset="0.3395" stop-color="#4444ff"/><stop offset="0.3559" stop-color="#4444ff"/><stop offset="0.3559" stop-color="#2727ff"/><stop offset="0.3632" stop-color="#2727ff"/><stop offset="0.3632" stop-color="#6767ff"/><stop offset="0.3787" stop-color="#6767ff"/><stop offset="0.3787" stop-color="#6262ff"/><stop offset="0.3859" stop-color="#6262ff"/><stop offset="0.3859" stop-color="#5959ff"/><stop offset="0.3929" stop-color="#5959ff"/><stop offset="0.3929" stop-color="#4444ff"/><stop offset="0.4064" stop-color="#4444ff"/><stop offset="0.4064" stop-color="#5656ff"/><stop offset="0.4129" stop-color="#5656ff"/><stop offset="0.4129" stop-color="#5b5bff"/><stop offset="0.4262" stop-color="#5b5bff"/><stop offset="0.4262" stop-color="#2323ff"/><stop offset="0.4347" stop-color="#2323ff"/><stop offset="0.4347" stop-color="#3232ff"/><stop offset="0.4411" stop-color="#3232ff"/><stop offset="0.4411" stop-color="#4f4fff"/><stop offset="0.4562" stop-color="#4f4fff"/><stop offset="0.4562" stop-color="#1919ff"/><stop offset="0.4638" stop-color="#1919ff"/><stop offset="0.4657" stop-color="#0004ff"/><stop offset="0.5111" stop-color="#0012ff"/><stop offset="0.8437" stop-color="#00ffff"/><stop offset="0.9610" stop-color="#ffff00"/><stop offset="0.9902" stop-color="#ffb200"/><stop offset="0.9963" stop-color="#ff3e00"/><stop offset="1.0000" stop-color="#ff2100"/></linearGradient><linearGradient id="g66" gradientUnits="userSpaceOnUse" x1="0" y1="178.8" x2="0" y2="360.2"><stop offset="0.0000" stop-color="#babaff"/><stop offset="0.0177" stop-color="#babaff"/><stop offset="0.0177" stop-color="#b9b9ff"/><stop offset="0.0329" stop-color="#b9b9ff"/><stop offset="0.0329" stop-color="#9b9bff"/><stop offset="0.0480" stop-color="#9b9bff"/><stop offset="0.0480" stop-color="#9797ff"/><stop offset="0.0592" stop-color="#9797ff"/><stop offset="0.0592" stop-color="#8787ff"/><stop offset="0.0776" stop-color="#8787ff"/><stop offset="0.0776" stop-color="#8b8bff"/><stop offset="0.0895" stop-color="#8b8bff"/><stop offset="0.0895" stop-color="#a2a2ff"/><stop offset="0.1048" stop-color="#a2a2ff"/><stop offset="0.1048" stop-color="#adadff"/><stop offset="0.1180" stop-color="#adadff"/><stop offset="0.1180" stop-color="#9797ff"/><stop offset="0.1353" stop-color="#9797ff"/><stop offset="0.1353" stop-color="#8383ff"/><stop offset="0.1531" stop-color="#8383ff"/><stop offset="0.1531" stop-color="#9393ff"/><stop offset="0.1713" stop-color="#9393ff"/><stop offset="0.1713" stop-color="#7979ff"/><stop offset="0.1853" stop-color="#7979ff"/><stop offset="0.1853" stop-color="#6363ff"/><stop offset="0.1989" stop-color="#6363ff"/><stop offset="0.1989" stop-color="#9393ff"/><stop offset="0.2209" stop-color="#9393ff"/><stop offset="0.2209" stop-color="#8383ff"/><stop offset="0.2419" stop-color="#8383ff"/><stop offset="0.2419" stop-color="#5757ff"/><stop offset="0.2554" stop-color="#5757ff"/><stop offset="0.2554" stop-color="#6363ff"/><stop offset="0.2653" stop-color="#6363ff"/><stop offset="0.2653" stop-color="#7c7cff"/><stop offset="0.2861" stop-color="#7c7cff"/><stop offset="0.2861" stop-color="#6060ff"/><stop offset="0.2988" stop-color="#6060ff"/><stop offset="0.2988" stop-color="#2a2aff"/><stop offset="0.3114" stop-color="#2a2aff"/><stop offset="0.3114" stop-color="#4f4fff"/><stop offset="0.3300" stop-color="#4f4fff"/><stop offset="0.3300" stop-color="#4343ff"/><stop offset="0.3464" stop-color="#4343ff"/><stop offset="0.3464" stop-color="#4646ff"/><stop offset="0.3634" stop-color="#4646ff"/><stop offset="0.3634" stop-color="#4c4cff"/><stop offset="0.3814" stop-color="#4c4cff"/><stop offset="0.3814" stop-color="#3b3bff"/><stop offset="0.3982" stop-color="#3b3bff"/><stop offset="0.3982" stop-color="#3939ff"/><stop offset="0.4013" stop-color="#3939ff"/><stop offset="0.4013" stop-color="#0004ff"/><stop offset="0.4495" stop-color="#0012ff"/><stop offset="0.8026" stop-color="#00ffff"/><stop offset="0.9476" stop-color="#ffff00"/><stop offset="0.9868" stop-color="#ffb200"/><stop offset="0.9950" stop-color="#ff3e00"/><stop offset="1.0000" stop-color="#ff2100"/></linearGradient><linearGradient id="g67" gradientUnits="userSpaceOnUse" x1="0" y1="306.9" x2="0" y2="360.2"><stop offset="0.0000" stop-color="#000bff"/><stop offset="0.0419" stop-color="#0012ff"/><stop offset="0.3490" stop-color="#00ffff"/><stop offset="0.8218" stop-color="#ffff00"/><stop offset="0.9550" stop-color="#ffb200"/><stop offset="0.9831" stop-color="#ff3e00"/><stop offset="1.0000" stop-color="#ff2100"/></linearGradient><linearGradient id="g68" gradientUnits="userSpaceOnUse" x1="0" y1="306.9" x2="0" y2="360.2"><stop offset="0.0000" stop-color="#000bff"/><stop offset="0.0419" stop-color="#0012ff"/><stop offset="0.3490" stop-color="#00ffff"/><stop offset="0.8218" stop-color="#ffff00"/><stop offset="0.9550" stop-color="#ffb200"/><stop offset="0.9831" stop-color="#ff3e00"/><stop offset="1.0000" stop-color="#ff2100"/></linearGradient><linearGradient id="g69" gradientUnits="userSpaceOnUse" x1="0" y1="353.3" x2="0" y2="360.7"><stop offset="0.0000" stop-color="#00edff"/><stop offset="0.4054" stop-color="#1affe5"/><stop offset="0.5000" stop-color="#e5ff1a"/><stop offset="0.5946" stop-color="#ff7800"/><stop offset="1.0000" stop-color="#ff1200"/></linearGradient><linearGradient id="g70" gradientUnits="userSpaceOnUse" x1="0" y1="328.6" x2="0" y2="360.7"><stop offset="0.0000" stop-color="#00b2ff"/><stop offset="0.2056" stop-color="#00ffff"/><stop offset="0.6947" stop-color="#ffff00"/><stop offset="0.6885" stop-color="#ff9500"/><stop offset="0.8442" stop-color="#ff3e00"/><stop offset="0.9221" stop-color="#e50000"/><stop offset="0.9751" stop-color="#b30000"/><stop offset="1.0000" stop-color="#ab0000"/></linearGradient><linearGradient id="g71" gradientUnits="userSpaceOnUse" x1="0" y1="294.4" x2="0" y2="360.7"><stop offset="0.0000" stop-color="#0047ff"/><stop offset="0.1189" stop-color="#006aff"/><stop offset="0.2080" stop-color="#00b2ff"/><stop offset="0.2971" stop-color="#00ffff"/><stop offset="0.7134" stop-color="#ffff00"/><stop offset="0.8492" stop-color="#ff9500"/><stop offset="0.9246" stop-color="#ff3e00"/><stop offset="0.9623" stop-color="#e50000"/><stop offset="0.9879" stop-color="#b30000"/><stop offset="1.0000" stop-color="#ab0000"/></linearGradient><linearGradient id="g72" gradientUnits="userSpaceOnUse" x1="0" y1="269.2" x2="0" y2="360.7"><stop offset="0.0000" stop-color="#0047ff"/><stop offset="0.1158" stop-color="#006aff"/><stop offset="0.2027" stop-color="#00b2ff"/><stop offset="0.2896" stop-color="#00ffff"/><stop offset="0.7497" stop-color="#ffff00"/><stop offset="0.8907" stop-color="#ff9500"/><stop offset="0.9454" stop-color="#ff3e00"/><stop offset="0.9727" stop-color="#e50000"/><stop offset="0.9913" stop-color="#b30000"/><stop offset="1.0000" stop-color="#ab0000"/></linearGradient><linearGradient id="g73" gradientUnits="userSpaceOnUse" x1="0" y1="259.6" x2="0" y2="360.7"><stop offset="0.0000" stop-color="#0047ff"/><stop offset="0.1013" stop-color="#006aff"/><stop offset="0.1773" stop-color="#00b2ff"/><stop offset="0.2532" stop-color="#00ffff"/><stop offset="0.7478" stop-color="#ffff00"/><stop offset="0.9011" stop-color="#ff9500"/><stop offset="0.9505" stop-color="#ff3e00"/><stop offset="0.9753" stop-color="#e50000"/><stop offset="0.9921" stop-color="#b30000"/><stop offset="1.0000" stop-color="#ab0000"/></linearGradient><linearGradient id="g74" gradientUnits="userSpaceOnUse" x1="0" y1="233" x2="0" y2="360.7"><stop offset="0.0000" stop-color="#0047ff"/><stop offset="0.1222" stop-color="#006aff"/><stop offset="0.2138" stop-color="#00b2ff"/><stop offset="0.3054" stop-color="#00ffff"/><stop offset="0.7690" stop-color="#ffff00"/><stop offset="0.9217" stop-color="#ff9500"/><stop offset="0.9608" stop-color="#ff3e00"/><stop offset="0.9804" stop-color="#e50000"/><stop offset="0.9937" stop-color="#b30000"/><stop offset="1.0000" stop-color="#ab0000"/></linearGradient><linearGradient id="g75" gradientUnits="userSpaceOnUse" x1="0" y1="230.6" x2="0" y2="360.7"><stop offset="0.0000" stop-color="#0047ff"/><stop offset="0.1273" stop-color="#006aff"/><stop offset="0.2228" stop-color="#00b2ff"/><stop offset="0.3182" stop-color="#00ffff"/><stop offset="0.7733" stop-color="#ffff00"/><stop offset="0.9231" stop-color="#ff9500"/><stop offset="0.9616" stop-color="#ff3e00"/><stop offset="0.9808" stop-color="#e50000"/><stop offset="0.9939" stop-color="#b30000"/><stop offset="1.0000" stop-color="#ab0000"/></linearGradient><linearGradient id="g76" gradientUnits="userSpaceOnUse" x1="0" y1="223.4" x2="0" y2="360.7"><stop offset="0.0000" stop-color="#0047ff"/><stop offset="0.1457" stop-color="#006aff"/><stop offset="0.2549" stop-color="#00b2ff"/><stop offset="0.3642" stop-color="#00ffff"/><stop offset="0.7851" stop-color="#ffff00"/><stop offset="0.9272" stop-color="#ff9500"/><stop offset="0.9636" stop-color="#ff3e00"/><stop offset="0.9818" stop-color="#e50000"/><stop offset="0.9942" stop-color="#b30000"/><stop offset="1.0000" stop-color="#ab0000"/></linearGradient><linearGradient id="g77" gradientUnits="userSpaceOnUse" x1="0" y1="228.9" x2="0" y2="360.7"><stop offset="0.0000" stop-color="#0047ff"/><stop offset="0.1390" stop-color="#006aff"/><stop offset="0.2432" stop-color="#00b2ff"/><stop offset="0.3475" stop-color="#00ffff"/><stop offset="0.7785" stop-color="#ffff00"/><stop offset="0.9241" stop-color="#ff9500"/><stop offset="0.9621" stop-color="#ff3e00"/><stop offset="0.9810" stop-color="#e50000"/><stop offset="0.9939" stop-color="#b30000"/><stop offset="1.0000" stop-color="#ab0000"/></linearGradient><linearGradient id="g78" gradientUnits="userSpaceOnUse" x1="0" y1="228" x2="0" y2="360.7"><stop offset="0.0000" stop-color="#0047ff"/><stop offset="0.1447" stop-color="#006aff"/><stop offset="0.2532" stop-color="#00b2ff"/><stop offset="0.3617" stop-color="#00ffff"/><stop offset="0.7837" stop-color="#ffff00"/><stop offset="0.9246" stop-color="#ff9500"/><stop offset="0.9623" stop-color="#ff3e00"/><stop offset="0.9812" stop-color="#e50000"/><stop offset="0.9940" stop-color="#b30000"/><stop offset="1.0000" stop-color="#ab0000"/></linearGradient><linearGradient id="g79" gradientUnits="userSpaceOnUse" x1="0" y1="230.4" x2="0" y2="360.7"><stop offset="0.0000" stop-color="#0047ff"/><stop offset="0.1440" stop-color="#006aff"/><stop offset="0.2520" stop-color="#00b2ff"/><stop offset="0.3599" stop-color="#00ffff"/><stop offset="0.7836" stop-color="#ffff00"/><stop offset="0.9233" stop-color="#ff9500"/><stop offset="0.9616" stop-color="#ff3e00"/><stop offset="0.9808" stop-color="#e50000"/><stop offset="0.9939" stop-color="#b30000"/><stop offset="1.0000" stop-color="#ab0000"/></linearGradient><linearGradient id="g80" gradientUnits="userSpaceOnUse" x1="0" y1="231" x2="0" y2="360.7"><stop offset="0.0000" stop-color="#0047ff"/><stop offset="0.1468" stop-color="#006aff"/><stop offset="0.2569" stop-color="#00b2ff"/><stop offset="0.3670" stop-color="#00ffff"/><stop offset="0.7903" stop-color="#ffff00"/><stop offset="0.9229" stop-color="#ff9500"/><stop offset="0.9614" stop-color="#ff3e00"/><stop offset="0.9807" stop-color="#e50000"/><stop offset="0.9938" stop-color="#b30000"/><stop offset="1.0000" stop-color="#ab0000"/></linearGradient><linearGradient id="g81" gradientUnits="userSpaceOnUse" x1="0" y1="231" x2="0" y2="360.7"><stop offset="0.0000" stop-color="#0047ff"/><stop offset="0.1508" stop-color="#006aff"/><stop offset="0.2639" stop-color="#00b2ff"/><stop offset="0.3770" stop-color="#00ffff"/><stop offset="0.7980" stop-color="#ffff00"/><stop offset="0.9229" stop-color="#ff9500"/><stop offset="0.9614" stop-color="#ff3e00"/><stop offset="0.9807" stop-color="#e50000"/><stop offset="0.9938" stop-color="#b30000"/><stop offset="1.0000" stop-color="#ab0000"/></linearGradient><linearGradient id="g82" gradientUnits="userSpaceOnUse" x1="0" y1="231.7" x2="0" y2="360.7"><stop offset="0.0000" stop-color="#0047ff"/><stop offset="0.1535" stop-color="#006aff"/><stop offset="0.2686" stop-color="#00b2ff"/><stop offset="0.3837" stop-color="#00ffff"/><stop offset="0.8047" stop-color="#ffff00"/><stop offset="0.9225" stop-color="#ff9500"/><stop offset="0.9612" stop-color="#ff3e00"/><stop offset="0.9806" stop-color="#e50000"/><stop offset="0.9938" stop-color="#b30000"/><stop offset="1.0000" stop-color="#ab0000"/></linearGradient><linearGradient id="g83" gradientUnits="userSpaceOnUse" x1="0" y1="233.3" x2="0" y2="360.7"><stop offset="0.0000" stop-color="#0047ff"/><stop offset="0.1589" stop-color="#006aff"/><stop offset="0.2780" stop-color="#00b2ff"/><stop offset="0.3972" stop-color="#00ffff"/><stop offset="0.8140" stop-color="#ffff00"/><stop offset="0.9215" stop-color="#ff9500"/><stop offset="0.9608" stop-color="#ff3e00"/><stop offset="0.9804" stop-color="#e50000"/><stop offset="0.9937" stop-color="#b30000"/><stop offset="1.0000" stop-color="#ab0000"/></linearGradient><linearGradient id="g84" gradientUnits="userSpaceOnUse" x1="0" y1="235.9" x2="0" y2="360.7"><stop offset="0.0000" stop-color="#0047ff"/><stop offset="0.1622" stop-color="#006aff"/><stop offset="0.2838" stop-color="#00b2ff"/><stop offset="0.4054" stop-color="#00ffff"/><stop offset="0.8181" stop-color="#ffff00"/><stop offset="0.9199" stop-color="#ff9500"/><stop offset="0.9599" stop-color="#ff3e00"/><stop offset="0.9800" stop-color="#e50000"/><stop offset="0.9936" stop-color="#b30000"/><stop offset="1.0000" stop-color="#ab0000"/></linearGradient><linearGradient id="g85" gradientUnits="userSpaceOnUse" x1="0" y1="235.6" x2="0" y2="360.7"><stop offset="0.0000" stop-color="#0047ff"/><stop offset="0.1711" stop-color="#006aff"/><stop offset="0.2994" stop-color="#00b2ff"/><stop offset="0.4277" stop-color="#00ffff"/><stop offset="0.8585" stop-color="#ffff00"/><stop offset="0.9201" stop-color="#ff9500"/><stop offset="0.9600" stop-color="#ff3e00"/><stop offset="0.9800" stop-color="#e50000"/><stop offset="0.9936" stop-color="#b30000"/><stop offset="1.0000" stop-color="#ab0000"/></linearGradient><linearGradient id="g86" gradientUnits="userSpaceOnUse" x1="0" y1="235.9" x2="0" y2="360.7"><stop offset="0.0000" stop-color="#0047ff"/><stop offset="0.1750" stop-color="#006aff"/><stop offset="0.3063" stop-color="#00b2ff"/><stop offset="0.4375" stop-color="#00ffff"/><stop offset="0.8582" stop-color="#ffff00"/><stop offset="0.9199" stop-color="#ff9500"/><stop offset="0.9599" stop-color="#ff3e00"/><stop offset="0.9800" stop-color="#e50000"/><stop offset="0.9936" stop-color="#b30000"/><stop offset="1.0000" stop-color="#ab0000"/></linearGradient><linearGradient id="g87" gradientUnits="userSpaceOnUse" x1="0" y1="236.3" x2="0" y2="360.7"><stop offset="0.0000" stop-color="#0047ff"/><stop offset="0.1785" stop-color="#006aff"/><stop offset="0.3123" stop-color="#00b2ff"/><stop offset="0.4461" stop-color="#00ffff"/><stop offset="0.8577" stop-color="#ffff00"/><stop offset="0.9196" stop-color="#ff9500"/><stop offset="0.9598" stop-color="#ff3e00"/><stop offset="0.9799" stop-color="#e50000"/><stop offset="0.9936" stop-color="#b30000"/><stop offset="1.0000" stop-color="#ab0000"/></linearGradient><linearGradient id="g88" gradientUnits="userSpaceOnUse" x1="0" y1="236.3" x2="0" y2="360.7"><stop offset="0.0000" stop-color="#0047ff"/><stop offset="0.1826" stop-color="#006aff"/><stop offset="0.3196" stop-color="#00b2ff"/><stop offset="0.4566" stop-color="#00ffff"/><stop offset="0.8577" stop-color="#ffff00"/><stop offset="0.9196" stop-color="#ff9500"/><stop offset="0.9598" stop-color="#ff3e00"/><stop offset="0.9799" stop-color="#e50000"/><stop offset="0.9936" stop-color="#b30000"/><stop offset="1.0000" stop-color="#ab0000"/></linearGradient><linearGradient id="g89" gradientUnits="userSpaceOnUse" x1="0" y1="236.5" x2="0" y2="360.7"><stop offset="0.0000" stop-color="#0047ff"/><stop offset="0.1865" stop-color="#006aff"/><stop offset="0.3263" stop-color="#00b2ff"/><stop offset="0.4662" stop-color="#00ffff"/><stop offset="0.8575" stop-color="#ffff00"/><stop offset="0.9195" stop-color="#ff9500"/><stop offset="0.9597" stop-color="#ff3e00"/><stop offset="0.9799" stop-color="#e50000"/><stop offset="0.9936" stop-color="#b30000"/><stop offset="1.0000" stop-color="#ab0000"/></linearGradient><linearGradient id="g90" gradientUnits="userSpaceOnUse" x1="0" y1="237.2" x2="0" y2="360.7"><stop offset="0.0000" stop-color="#0047ff"/><stop offset="0.1895" stop-color="#006aff"/><stop offset="0.3316" stop-color="#00b2ff"/><stop offset="0.4737" stop-color="#00ffff"/><stop offset="0.8567" stop-color="#ffff00"/><stop offset="0.9190" stop-color="#ff9500"/><stop offset="0.9595" stop-color="#ff3e00"/><stop offset="0.9798" stop-color="#e50000"/><stop offset="0.9935" stop-color="#b30000"/><stop offset="1.0000" stop-color="#ab0000"/></linearGradient><linearGradient id="g91" gradientUnits="userSpaceOnUse" x1="0" y1="240.2" x2="0" y2="360.7"><stop offset="0.0000" stop-color="#0047ff"/><stop offset="0.1885" stop-color="#006aff"/><stop offset="0.3300" stop-color="#00b2ff"/><stop offset="0.4714" stop-color="#00ffff"/><stop offset="0.8863" stop-color="#ffff00"/><stop offset="0.9502" stop-color="#ff9500"/><stop offset="0.9751" stop-color="#ff2f00"/><stop offset="0.9900" stop-color="#d70000"/><stop offset="1.0000" stop-color="#c80000"/></linearGradient><linearGradient id="g92" gradientUnits="userSpaceOnUse" x1="0" y1="243.8" x2="0" y2="360.7"><stop offset="0.0000" stop-color="#0047ff"/><stop offset="0.1913" stop-color="#006aff"/><stop offset="0.3347" stop-color="#00b2ff"/><stop offset="0.4782" stop-color="#00ffff"/><stop offset="0.8939" stop-color="#ffff00"/><stop offset="0.9487" stop-color="#ff9500"/><stop offset="0.9743" stop-color="#ff2f00"/><stop offset="0.9897" stop-color="#d70000"/><stop offset="1.0000" stop-color="#c80000"/></linearGradient><linearGradient id="g93" gradientUnits="userSpaceOnUse" x1="0" y1="248.4" x2="0" y2="360.7"><stop offset="0.0000" stop-color="#0047ff"/><stop offset="0.2059" stop-color="#006aff"/><stop offset="0.3603" stop-color="#00b2ff"/><stop offset="0.5147" stop-color="#00ffff"/><stop offset="0.9012" stop-color="#ffff00"/><stop offset="0.9466" stop-color="#ff9500"/><stop offset="0.9733" stop-color="#ff2f00"/><stop offset="0.9893" stop-color="#d70000"/><stop offset="1.0000" stop-color="#c80000"/></linearGradient><linearGradient id="g94" gradientUnits="userSpaceOnUse" x1="0" y1="272" x2="0" y2="360.7"><stop offset="0.0000" stop-color="#005bff"/><stop offset="0.2079" stop-color="#006aff"/><stop offset="0.3638" stop-color="#00b2ff"/><stop offset="0.5197" stop-color="#00ffff"/><stop offset="0.8895" stop-color="#ffff00"/><stop offset="0.9324" stop-color="#ff9500"/><stop offset="0.9662" stop-color="#ff2f00"/><stop offset="0.9865" stop-color="#d70000"/><stop offset="1.0000" stop-color="#c80000"/></linearGradient><linearGradient id="g95" gradientUnits="userSpaceOnUse" x1="0" y1="279.9" x2="0" y2="360.7"><stop offset="0.0000" stop-color="#005bff"/><stop offset="0.2411" stop-color="#006aff"/><stop offset="0.4219" stop-color="#00b2ff"/><stop offset="0.6027" stop-color="#00ffff"/><stop offset="0.9121" stop-color="#ffff00"/><stop offset="0.9567" stop-color="#ff8700"/><stop offset="0.9814" stop-color="#ff1200"/><stop offset="1.0000" stop-color="#c80000"/></linearGradient><linearGradient id="g96" gradientUnits="userSpaceOnUse" x1="0" y1="284.8" x2="0" y2="360.7"><stop offset="0.0000" stop-color="#005bff"/><stop offset="0.2582" stop-color="#006aff"/><stop offset="0.4519" stop-color="#00b2ff"/><stop offset="0.6456" stop-color="#00ffff"/><stop offset="0.9117" stop-color="#ffff00"/><stop offset="0.9539" stop-color="#ff8700"/><stop offset="0.9802" stop-color="#ff1200"/><stop offset="1.0000" stop-color="#c80000"/></linearGradient><linearGradient id="g97" gradientUnits="userSpaceOnUse" x1="0" y1="289.1" x2="0" y2="360.7"><stop offset="0.0000" stop-color="#005bff"/><stop offset="0.2721" stop-color="#006aff"/><stop offset="0.4761" stop-color="#00b2ff"/><stop offset="0.6802" stop-color="#00ffff"/><stop offset="0.9106" stop-color="#ffff00"/><stop offset="0.9511" stop-color="#ff8700"/><stop offset="0.9791" stop-color="#ff1200"/><stop offset="1.0000" stop-color="#c80000"/></linearGradient><linearGradient id="g98" gradientUnits="userSpaceOnUse" x1="0" y1="292" x2="0" y2="360.7"><stop offset="0.0000" stop-color="#005bff"/><stop offset="0.2894" stop-color="#006aff"/><stop offset="0.5064" stop-color="#00b2ff"/><stop offset="0.7234" stop-color="#00ffff"/><stop offset="0.9112" stop-color="#ffff00"/><stop offset="0.9491" stop-color="#ff8700"/><stop offset="0.9782" stop-color="#ff1200"/><stop offset="1.0000" stop-color="#c80000"/></linearGradient><linearGradient id="g99" gradientUnits="userSpaceOnUse" x1="0" y1="295.3" x2="0" y2="360.7"><stop offset="0.0000" stop-color="#005bff"/><stop offset="0.2917" stop-color="#006aff"/><stop offset="0.5106" stop-color="#00b2ff"/><stop offset="0.7294" stop-color="#00ffff"/><stop offset="0.9113" stop-color="#ffff00"/><stop offset="0.9465" stop-color="#ff8700"/><stop offset="0.9771" stop-color="#ff1200"/><stop offset="1.0000" stop-color="#c80000"/></linearGradient><linearGradient id="g100" gradientUnits="userSpaceOnUse" x1="0" y1="316.1" x2="0" y2="360.7"><stop offset="0.0000" stop-color="#005bff"/><stop offset="0.2655" stop-color="#006aff"/><stop offset="0.4646" stop-color="#00b2ff"/><stop offset="0.6637" stop-color="#00ffff"/><stop offset="0.8991" stop-color="#ffff00"/><stop offset="0.9215" stop-color="#ff8700"/><stop offset="0.9664" stop-color="#ff1200"/><stop offset="1.0000" stop-color="#c80000"/></linearGradient><linearGradient id="g101" gradientUnits="userSpaceOnUse" x1="0" y1="332.8" x2="0" y2="360.7"><stop offset="0.0000" stop-color="#005bff"/><stop offset="0.2036" stop-color="#006aff"/><stop offset="0.3563" stop-color="#00b2ff"/><stop offset="0.5090" stop-color="#00ffff"/><stop offset="0.8387" stop-color="#ffff00"/><stop offset="0.8746" stop-color="#ff8700"/><stop offset="0.9462" stop-color="#ff1200"/><stop offset="1.0000" stop-color="#c80000"/></linearGradient><linearGradient id="g102" gradientUnits="userSpaceOnUse" x1="0" y1="334.8" x2="0" y2="360.7"><stop offset="0.0000" stop-color="#005bff"/><stop offset="0.1884" stop-color="#006aff"/><stop offset="0.3297" stop-color="#00b2ff"/><stop offset="0.4710" stop-color="#00ffff"/><stop offset="0.8263" stop-color="#ffff00"/><stop offset="0.8649" stop-color="#ff8700"/><stop offset="0.9421" stop-color="#ff1200"/><stop offset="1.0000" stop-color="#c80000"/></linearGradient><linearGradient id="cbc" x1="0" y1="0" x2="0" y2="1"><stop offset="0.0000" stop-color="#800000"/><stop offset="0.0143" stop-color="#8e0000"/><stop offset="0.0286" stop-color="#9d0000"/><stop offset="0.0429" stop-color="#ab0000"/><stop offset="0.0571" stop-color="#ba0000"/><stop offset="0.0714" stop-color="#c80000"/><stop offset="0.0857" stop-color="#d70000"/><stop offset="0.1000" stop-color="#e50000"/><stop offset="0.1143" stop-color="#f40000"/><stop offset="0.1286" stop-color="#ff0400"/><stop offset="0.1429" stop-color="#ff1200"/><stop offset="0.1571" stop-color="#ff2100"/><stop offset="0.1714" stop-color="#ff2f00"/><stop offset="0.1857" stop-color="#ff3e00"/><stop offset="0.2000" stop-color="#ff4c00"/><stop offset="0.2143" stop-color="#ff5b00"/><stop offset="0.2286" stop-color="#ff6a00"/><stop offset="0.2429" stop-color="#ff7800"/><stop offset="0.2571" stop-color="#ff8700"/><stop offset="0.2714" stop-color="#ff9500"/><stop offset="0.2857" stop-color="#ffa400"/><stop offset="0.3000" stop-color="#ffb200"/><stop offset="0.3143" stop-color="#ffc100"/><stop offset="0.3286" stop-color="#ffd000"/><stop offset="0.3429" stop-color="#ffde00"/><stop offset="0.3571" stop-color="#ffed00"/><stop offset="0.3714" stop-color="#fffb00"/><stop offset="0.3857" stop-color="#f4ff0b"/><stop offset="0.4000" stop-color="#e5ff1a"/><stop offset="0.4143" stop-color="#d7ff28"/><stop offset="0.4286" stop-color="#c8ff37"/><stop offset="0.4429" stop-color="#baff45"/><stop offset="0.4571" stop-color="#abff54"/><stop offset="0.4714" stop-color="#9dff62"/><stop offset="0.4857" stop-color="#8eff71"/><stop offset="0.5000" stop-color="#80ff80"/><stop offset="0.5143" stop-color="#71ff8e"/><stop offset="0.5286" stop-color="#62ff9d"/><stop offset="0.5429" stop-color="#54ffab"/><stop offset="0.5571" stop-color="#45ffba"/><stop offset="0.5714" stop-color="#37ffc8"/><stop offset="0.5857" stop-color="#28ffd7"/><stop offset="0.6000" stop-color="#1affe5"/><stop offset="0.6143" stop-color="#0bfff4"/><stop offset="0.6286" stop-color="#00fbff"/><stop offset="0.6429" stop-color="#00edff"/><stop offset="0.6571" stop-color="#00deff"/><stop offset="0.6714" stop-color="#00d0ff"/><stop offset="0.6857" stop-color="#00c1ff"/><stop offset="0.7000" stop-color="#00b2ff"/><stop offset="0.7143" stop-color="#00a4ff"/><stop offset="0.7286" stop-color="#0095ff"/><stop offset="0.7429" stop-color="#0087ff"/><stop offset="0.7571" stop-color="#0078ff"/><stop offset="0.7714" stop-color="#006aff"/><stop offset="0.7857" stop-color="#005bff"/><stop offset="0.8000" stop-color="#004dff"/><stop offset="0.8143" stop-color="#003eff"/><stop offset="0.8286" stop-color="#002fff"/><stop offset="0.8429" stop-color="#0021ff"/><stop offset="0.8571" stop-color="#0012ff"/><stop offset="0.8714" stop-color="#0004ff"/><stop offset="0.8857" stop-color="#1616ff"/><stop offset="0.9000" stop-color="#3333ff"/><stop offset="0.9143" stop-color="#5050ff"/><stop offset="0.9286" stop-color="#6d6dff"/><stop offset="0.9429" stop-color="#8a8aff"/><stop offset="0.9571" stop-color="#a8a8ff"/><stop offset="0.9714" stop-color="#c5c5ff"/><stop offset="0.9857" stop-color="#e2e2ff"/><stop offset="1.0000" stop-color="#ffffff"/></linearGradient><linearGradient id="cbf" x1="0" y1="0" x2="0" y2="1"><stop offset="0.0000" stop-color="#800000"/><stop offset="0.0156" stop-color="#8f0000"/><stop offset="0.0312" stop-color="#9f0000"/><stop offset="0.0469" stop-color="#af0000"/><stop offset="0.0625" stop-color="#bf0000"/><stop offset="0.0781" stop-color="#cf0000"/><stop offset="0.0938" stop-color="#df0000"/><stop offset="0.1094" stop-color="#ef0000"/><stop offset="0.1250" stop-color="#ff0000"/><stop offset="0.1406" stop-color="#ff1000"/><stop offset="0.1562" stop-color="#ff2000"/><stop offset="0.1719" stop-color="#ff3000"/><stop offset="0.1875" stop-color="#ff4000"/><stop offset="0.2031" stop-color="#ff5000"/><stop offset="0.2188" stop-color="#ff6000"/><stop offset="0.2344" stop-color="#ff7000"/><stop offset="0.2500" stop-color="#ff8000"/><stop offset="0.2656" stop-color="#ff8f00"/><stop offset="0.2812" stop-color="#ff9f00"/><stop offset="0.2969" stop-color="#ffaf00"/><stop offset="0.3125" stop-color="#ffbf00"/><stop offset="0.3281" stop-color="#ffcf00"/><stop offset="0.3438" stop-color="#ffdf00"/><stop offset="0.3594" stop-color="#ffef00"/><stop offset="0.3750" stop-color="#ffff00"/><stop offset="0.3906" stop-color="#efff10"/><stop offset="0.4062" stop-color="#dfff20"/><stop offset="0.4219" stop-color="#cfff30"/><stop offset="0.4375" stop-color="#bfff40"/><stop offset="0.4531" stop-color="#afff50"/><stop offset="0.4688" stop-color="#9fff60"/><stop offset="0.4844" stop-color="#8fff70"/><stop offset="0.5000" stop-color="#80ff80"/><stop offset="0.5156" stop-color="#70ff8f"/><stop offset="0.5312" stop-color="#60ff9f"/><stop offset="0.5469" stop-color="#50ffaf"/><stop offset="0.5625" stop-color="#40ffbf"/><stop offset="0.5781" stop-color="#30ffcf"/><stop offset="0.5938" stop-color="#20ffdf"/><stop offset="0.6094" stop-color="#10ffef"/><stop offset="0.6250" stop-color="#00ffff"/><stop offset="0.6406" stop-color="#00efff"/><stop offset="0.6562" stop-color="#00dfff"/><stop offset="0.6719" stop-color="#00cfff"/><stop offset="0.6875" stop-color="#00bfff"/><stop offset="0.7031" stop-color="#00afff"/><stop offset="0.7188" stop-color="#009fff"/><stop offset="0.7344" stop-color="#008fff"/><stop offset="0.7500" stop-color="#0080ff"/><stop offset="0.7656" stop-color="#0070ff"/><stop offset="0.7812" stop-color="#0060ff"/><stop offset="0.7969" stop-color="#0050ff"/><stop offset="0.8125" stop-color="#0040ff"/><stop offset="0.8281" stop-color="#0030ff"/><stop offset="0.8438" stop-color="#0020ff"/><stop offset="0.8594" stop-color="#0010ff"/><stop offset="0.8750" stop-color="#0000ff"/><stop offset="0.8906" stop-color="#0000ef"/><stop offset="0.9062" stop-color="#0000df"/><stop offset="0.9219" stop-color="#0000cf"/><stop offset="0.9375" stop-color="#0000bf"/><stop offset="0.9531" stop-color="#0000af"/><stop offset="0.9688" stop-color="#00009f"/><stop offset="0.9844" stop-color="#00008f"/><stop offset="1.0000" stop-color="#000080"/></linearGradient><clipPath id="hclip"><polygon points="1074.0,928.5 1480.0,928.5 1480.0,1334.0 1378.5,1334.0 1074.0,1029.9"/></clipPath><clipPath id="hbclip"><path d="M1323.0,1277.1 1352.7,1277.1 1352.7,1271.7 1350.0,1271.7 1350.0,1263.6 1347.3,1263.6 1347.3,1255.5 1341.9,1255.5 1341.9,1250.1 1336.5,1250.1 1336.5,1242.0 1333.8,1242.0 1333.8,1236.6 1331.1,1236.6 1331.1,1228.5 1336.5,1228.5 1336.5,1223.1 1331.1,1223.1 1331.1,1215.0 1325.7,1215.0 1325.7,1209.6 1317.6,1209.6 1317.6,1201.5 1320.3,1201.5 1320.3,1196.1 1320.3,1196.1 1320.3,1188.0 1317.6,1188.0 1317.6,1182.6 1314.9,1182.6 1314.9,1174.5 1314.9,1174.5 1314.9,1169.1 1317.6,1169.1 1317.6,1161.0 1309.5,1161.0 1309.5,1155.6 1298.7,1155.6 1298.7,1147.5 1290.6,1147.5 1290.6,1142.1 1287.9,1142.1 1287.9,1134.0 1282.5,1134.0 1282.5,1128.6 1279.8,1128.6 1279.8,1120.5 1274.4,1120.5 1274.4,1115.1 1271.7,1115.1 1271.7,1107.0 1269.0,1107.0 1269.0,1101.6 1263.6,1101.6 1263.6,1093.5 1263.6,1093.5 1263.6,1088.1 1263.6,1088.1 1263.6,1080.0 1260.9,1080.0 1260.9,1074.6 1255.5,1074.6 1255.5,1066.5 1252.8,1066.5 1252.8,1061.1 1247.4,1061.1 1247.4,1053.0 1239.3,1053.0 1239.3,1047.6 1236.6,1047.6 1236.6,1039.5 1236.6,1039.5 1236.6,1034.1 1236.6,1034.1 1236.6,1026.0 1231.2,1026.0 1231.2,1020.6 1220.4,1020.6 1220.4,1012.5 1206.9,1012.5 1206.9,1007.1 1196.1,1007.1 1196.1,999.0 1185.3,999.0 1185.3,990.9 1182.6,990.9 1182.6,985.5 1179.9,985.5 1179.9,977.4 1179.9,977.4 1179.9,972.0 1169.1,972.0 1169.1,963.9 1158.3,963.9 1158.3,958.5 1155.6,958.5 1155.6,958.5 1158.3,958.5 1158.3,963.9 1150.2,963.9 1150.2,972.0 1147.5,972.0 1147.5,977.4 1147.5,977.4 1147.5,985.5 1144.8,985.5 1144.8,990.9 1147.5,990.9 1147.5,999.0 1142.1,999.0 1142.1,1007.1 1142.1,1007.1 1142.1,1012.5 1139.4,1012.5 1139.4,1020.6 1144.8,1020.6 1144.8,1026.0 1144.8,1026.0 1144.8,1034.1 1144.8,1034.1 1144.8,1039.5 1139.4,1039.5 1139.4,1047.6 1139.4,1047.6 1139.4,1053.0 1139.4,1053.0 1139.4,1061.1 1144.8,1061.1 1144.8,1066.5 1150.2,1066.5 1150.2,1074.6 1155.6,1074.6 1155.6,1080.0 1158.3,1080.0 1158.3,1088.1 1163.7,1088.1 1163.7,1093.5 1161.0,1093.5 1161.0,1101.6 1166.4,1101.6 1166.4,1107.0 1163.7,1107.0 1163.7,1115.1 1161.0,1115.1 1161.0,1120.5 1169.1,1120.5 1169.1,1128.6 1174.5,1128.6 1174.5,1134.0 1182.6,1134.0 1182.6,1142.1 1188.0,1142.1 1188.0,1147.5 1196.1,1147.5 1196.1,1155.6 1201.5,1155.6 1201.5,1161.0 1209.6,1161.0 1209.6,1169.1 1215.0,1169.1 1215.0,1174.5 1223.1,1174.5 1223.1,1182.6 1228.5,1182.6 1228.5,1188.0 1236.6,1188.0 1236.6,1196.1 1242.0,1196.1 1242.0,1201.5 1250.1,1201.5 1250.1,1209.6 1255.5,1209.6 1255.5,1215.0 1263.6,1215.0 1263.6,1223.1 1269.0,1223.1 1269.0,1228.5 1277.1,1228.5 1277.1,1236.6 1282.5,1236.6 1282.5,1242.0 1290.6,1242.0 1290.6,1250.1 1296.0,1250.1 1296.0,1255.5 1304.1,1255.5 1304.1,1263.6 1309.5,1263.6 1309.5,1271.7 1317.6,1271.7 1317.6,1277.1Z"/></clipPath></defs><rect width="1594" height="1407" fill="#fff"/><rect x="104.00" y="365.20" width="12.00" height="1.10" fill="url(#g1)"/><rect x="115.10" y="362.10" width="12.00" height="4.20" fill="url(#g2)"/><rect x="126.20" y="358.20" width="12.00" height="8.10" fill="url(#g3)"/><rect x="137.30" y="339.90" width="12.00" height="26.40" fill="url(#g4)"/><rect x="148.40" y="317.40" width="12.00" height="48.90" fill="url(#g5)"/><rect x="159.50" y="295.20" width="12.00" height="71.10" fill="url(#g6)"/><rect x="170.60" y="285.60" width="12.00" height="80.70" fill="url(#g7)"/><rect x="181.70" y="260.90" width="12.00" height="105.40" fill="url(#g8)"/><rect x="192.80" y="243.10" width="12.00" height="123.20" fill="url(#g9)"/><rect x="203.90" y="229.00" width="12.00" height="137.30" fill="url(#g10)"/><rect x="215.00" y="221.10" width="12.00" height="145.20" fill="url(#g11)"/><rect x="226.10" y="216.50" width="12.00" height="149.80" fill="url(#g12)"/><rect x="237.20" y="199.10" width="12.00" height="167.20" fill="url(#g13)"/><rect x="248.30" y="195.20" width="12.00" height="171.10" fill="url(#g14)"/><rect x="259.40" y="185.10" width="12.00" height="181.20" fill="url(#g15)"/><rect x="270.50" y="179.00" width="12.00" height="187.30" fill="url(#g16)"/><rect x="281.60" y="175.20" width="12.00" height="191.10" fill="url(#g17)"/><rect x="292.70" y="172.70" width="12.00" height="193.60" fill="url(#g18)"/><rect x="303.80" y="160.70" width="12.00" height="205.60" fill="url(#g19)"/><rect x="314.90" y="153.90" width="12.00" height="212.40" fill="url(#g20)"/><rect x="326.00" y="158.20" width="12.00" height="208.10" fill="url(#g21)"/><rect x="337.10" y="142.30" width="12.00" height="224.00" fill="url(#g22)"/><rect x="348.20" y="149.60" width="12.00" height="216.70" fill="url(#g23)"/><rect x="359.30" y="147.10" width="12.00" height="219.20" fill="url(#g24)"/><rect x="370.40" y="155.60" width="12.00" height="210.70" fill="url(#g25)"/><rect x="381.50" y="155.60" width="12.00" height="210.70" fill="url(#g26)"/><rect x="392.60" y="159.40" width="12.00" height="206.90" fill="url(#g27)"/><rect x="403.70" y="163.30" width="12.00" height="203.00" fill="url(#g28)"/><rect x="414.80" y="160.70" width="12.00" height="205.60" fill="url(#g29)"/><rect x="425.90" y="159.40" width="12.00" height="206.90" fill="url(#g30)"/><rect x="437.00" y="163.30" width="12.00" height="203.00" fill="url(#g31)"/><rect x="448.10" y="212.80" width="12.00" height="153.50" fill="url(#g32)"/><rect x="459.20" y="310.40" width="12.00" height="55.90" fill="url(#g33)"/><rect x="470.30" y="325.10" width="6.30" height="41.20" fill="url(#g34)"/><rect x="76.3" y="45.5" width="400.3" height="320.8" fill="none" stroke="#ababab" stroke-width="1.25"/><path d="M86.8 366.3v-4.0M86.8 45.5v4.0M173.3 366.3v-4.0M173.3 45.5v4.0M259.8 366.3v-4.0M259.8 45.5v4.0M346.3 366.3v-4.0M346.3 45.5v4.0M432.9 366.3v-4.0M432.9 45.5v4.0M76.3 366.3h4.0M476.6 366.3h-4.0M76.3 312.8h4.0M476.6 312.8h-4.0M76.3 259.4h4.0M476.6 259.4h-4.0M76.3 205.9h4.0M476.6 205.9h-4.0M76.3 152.4h4.0M476.6 152.4h-4.0M76.3 99h4.0M476.6 99h-4.0M76.3 45.5h4.0M476.6 45.5h-4.0" stroke="#ababab" stroke-width="1.06" fill="none"/><text x="67.6" y="374.5" font-size="24" text-anchor="end" fill="#000">0</text><text x="67.6" y="321" font-size="24" text-anchor="end" fill="#000">50</text><text x="67.6" y="267.6" font-size="24" text-anchor="end" fill="#000">100</text><text x="67.6" y="214.1" font-size="24" text-anchor="end" fill="#000">150</text><text x="67.6" y="160.6" font-size="24" text-anchor="end" fill="#000">200</text><text x="67.6" y="107.2" font-size="24" text-anchor="end" fill="#000">250</text><text x="67.6" y="53.7" font-size="24" text-anchor="end" fill="#000">300</text><text x="86.8" y="395" font-size="24" text-anchor="middle" fill="#000">-2</text><text x="173.3" y="395" font-size="24" text-anchor="middle" fill="#000">0</text><text x="259.8" y="395" font-size="24" text-anchor="middle" fill="#000">2</text><text x="346.3" y="395" font-size="24" text-anchor="middle" fill="#000">4</text><text x="432.9" y="395" font-size="24" text-anchor="middle" fill="#000">6</text><text x="221.6" y="423.4" font-size="27.5" text-anchor="start" textLength="60.3" lengthAdjust="spacingAndGlyphs" fill="#000">Time</text><text x="293.9" y="423.4" font-size="27.5" text-anchor="start" textLength="35.1" lengthAdjust="spacingAndGlyphs" fill="#000">[ps]</text><text x="99.6" y="87.8" font-size="28.5" text-anchor="start" font-weight="bold" textLength="23.5" lengthAdjust="spacingAndGlyphs" fill="#000">a)</text><text x="191.6" y="24.1" font-size="35" text-anchor="start" font-weight="bold" textLength="183.1" lengthAdjust="spacingAndGlyphs" fill="#000">n<tspan font-size="24" dy="7">0</tspan><tspan dy="-7"> = 0.01 n</tspan><tspan font-size="24" dy="7">crit</tspan></text><path d="M481.4 45.4V366.3" stroke="#d4d2d8" stroke-width="1.2"/><text transform="translate(21.1,287.4) rotate(-90)" font-size="27.5" text-anchor="start" textLength="84.1" lengthAdjust="spacingAndGlyphs" fill="#000">Energy</text><text transform="translate(21.1,192.5) rotate(-90)" font-size="27.5" text-anchor="start" textLength="65.2" lengthAdjust="spacingAndGlyphs" fill="#000">[MeV]</text><rect x="611.70" y="359.10" width="11.79" height="1.10" fill="url(#g35)"/><rect x="622.59" y="352.40" width="11.79" height="7.80" fill="url(#g36)"/><rect x="633.48" y="334.00" width="11.79" height="26.20" fill="url(#g37)"/><rect x="644.37" y="302.60" width="11.79" height="57.60" fill="url(#g38)"/><rect x="655.26" y="270.20" width="11.79" height="90.00" fill="url(#g39)"/><rect x="666.15" y="244.80" width="11.79" height="115.40" fill="url(#g40)"/><rect x="677.04" y="225.80" width="11.79" height="134.40" fill="url(#g41)"/><rect x="687.93" y="206.80" width="11.79" height="153.40" fill="url(#g42)"/><rect x="698.82" y="195.10" width="11.79" height="165.10" fill="url(#g43)"/><rect x="709.71" y="168.70" width="11.79" height="191.50" fill="url(#g44)"/><rect x="720.60" y="160.40" width="11.79" height="199.80" fill="url(#g45)"/><rect x="731.49" y="142.90" width="11.79" height="217.30" fill="url(#g46)"/><rect x="742.38" y="140.30" width="11.79" height="219.90" fill="url(#g47)"/><rect x="753.27" y="117.20" width="11.79" height="243.00" fill="url(#g48)"/><rect x="764.16" y="127.30" width="11.79" height="232.90" fill="url(#g49)"/><rect x="775.05" y="112.30" width="11.79" height="247.90" fill="url(#g50)"/><rect x="785.94" y="114.50" width="11.79" height="245.70" fill="url(#g51)"/><rect x="796.83" y="95.90" width="11.79" height="264.30" fill="url(#g52)"/><rect x="807.72" y="81.80" width="11.79" height="278.40" fill="url(#g53)"/><rect x="818.61" y="75.10" width="11.79" height="285.10" fill="url(#g54)"/><rect x="829.50" y="79.60" width="11.79" height="280.60" fill="url(#g55)"/><rect x="840.39" y="72.00" width="11.79" height="288.20" fill="url(#g56)"/><rect x="851.28" y="60.10" width="11.79" height="300.10" fill="url(#g57)"/><rect x="862.17" y="81.80" width="11.79" height="278.40" fill="url(#g58)"/><rect x="873.06" y="101.10" width="11.79" height="259.10" fill="url(#g59)"/><rect x="883.95" y="109.40" width="11.79" height="250.80" fill="url(#g60)"/><rect x="894.84" y="113.20" width="11.79" height="247.00" fill="url(#g61)"/><rect x="905.73" y="116.70" width="11.79" height="243.50" fill="url(#g62)"/><rect x="916.62" y="120.50" width="11.79" height="239.70" fill="url(#g63)"/><rect x="927.51" y="119.90" width="11.79" height="240.30" fill="url(#g64)"/><rect x="938.40" y="116.50" width="11.79" height="243.70" fill="url(#g65)"/><rect x="949.29" y="178.80" width="11.79" height="181.40" fill="url(#g66)"/><rect x="960.18" y="306.90" width="11.79" height="53.30" fill="url(#g67)"/><rect x="971.07" y="306.90" width="6.33" height="53.30" fill="url(#g68)"/><rect x="584.7" y="44.9" width="392.7" height="315.3" fill="none" stroke="#ababab" stroke-width="1.25"/><path d="M595.2 360.2v-4.0M595.2 44.9v4.0M680 360.2v-4.0M680 44.9v4.0M764.8 360.2v-4.0M764.8 44.9v4.0M849.6 360.2v-4.0M849.6 44.9v4.0M934.4 360.2v-4.0M934.4 44.9v4.0M584.7 360.2h4.0M977.4 360.2h-4.0M584.7 307.6h4.0M977.4 307.6h-4.0M584.7 255.1h4.0M977.4 255.1h-4.0M584.7 202.6h4.0M977.4 202.6h-4.0M584.7 150h4.0M977.4 150h-4.0M584.7 97.4h4.0M977.4 97.4h-4.0M584.7 44.9h4.0M977.4 44.9h-4.0" stroke="#ababab" stroke-width="1.06" fill="none"/><text x="576.7" y="368.4" font-size="24" text-anchor="end" fill="#000">0</text><text x="576.7" y="315.8" font-size="24" text-anchor="end" fill="#000">50</text><text x="576.7" y="263.3" font-size="24" text-anchor="end" fill="#000">100</text><text x="576.7" y="210.8" font-size="24" text-anchor="end" fill="#000">150</text><text x="576.7" y="158.2" font-size="24" text-anchor="end" fill="#000">200</text><text x="576.7" y="105.6" font-size="24" text-anchor="end" fill="#000">250</text><text x="576.7" y="53.1" font-size="24" text-anchor="end" fill="#000">300</text><text x="595.2" y="388.3" font-size="24" text-anchor="middle" fill="#000">-2</text><text x="680" y="388.3" font-size="24" text-anchor="middle" fill="#000">0</text><text x="764.8" y="388.3" font-size="24" text-anchor="middle" fill="#000">2</text><text x="849.6" y="388.3" font-size="24" text-anchor="middle" fill="#000">4</text><text x="934.4" y="388.3" font-size="24" text-anchor="middle" fill="#000">6</text><text x="727.5" y="415.9" font-size="27.5" text-anchor="start" textLength="59.4" lengthAdjust="spacingAndGlyphs" fill="#000">Time</text><text x="798.7" y="415.9" font-size="27.5" text-anchor="start" textLength="34.6" lengthAdjust="spacingAndGlyphs" fill="#000">[ps]</text><text x="619.2" y="86.3" font-size="28.5" text-anchor="start" font-weight="bold" textLength="25.7" lengthAdjust="spacingAndGlyphs" fill="#000">b)</text><text x="694.5" y="24.5" font-size="35" text-anchor="start" font-weight="bold" textLength="184.4" lengthAdjust="spacingAndGlyphs" fill="#000">n<tspan font-size="24" dy="7">0</tspan><tspan dy="-7"> = 0.02 n</tspan><tspan font-size="24" dy="7">crit</tspan></text><rect x="1110.00" y="353.30" width="11.80" height="7.40" fill="url(#g69)"/><rect x="1120.90" y="328.60" width="11.80" height="32.10" fill="url(#g70)"/><rect x="1131.80" y="294.40" width="11.80" height="66.30" fill="url(#g71)"/><rect x="1142.70" y="269.20" width="11.80" height="91.50" fill="url(#g72)"/><rect x="1153.60" y="259.60" width="11.80" height="101.10" fill="url(#g73)"/><rect x="1164.50" y="233.00" width="11.80" height="127.70" fill="url(#g74)"/><rect x="1175.40" y="230.60" width="11.80" height="130.10" fill="url(#g75)"/><rect x="1186.30" y="223.40" width="11.80" height="137.30" fill="url(#g76)"/><rect x="1197.20" y="228.90" width="11.80" height="131.80" fill="url(#g77)"/><rect x="1208.10" y="228.00" width="11.80" height="132.70" fill="url(#g78)"/><rect x="1219.00" y="230.40" width="11.80" height="130.30" fill="url(#g79)"/><rect x="1229.90" y="231.00" width="11.80" height="129.70" fill="url(#g80)"/><rect x="1240.80" y="231.00" width="11.80" height="129.70" fill="url(#g81)"/><rect x="1251.70" y="231.70" width="11.80" height="129.00" fill="url(#g82)"/><rect x="1262.60" y="233.30" width="11.80" height="127.40" fill="url(#g83)"/><rect x="1273.50" y="235.90" width="11.80" height="124.80" fill="url(#g84)"/><rect x="1284.40" y="235.60" width="11.80" height="125.10" fill="url(#g85)"/><rect x="1295.30" y="235.90" width="11.80" height="124.80" fill="url(#g86)"/><rect x="1306.20" y="236.30" width="11.80" height="124.40" fill="url(#g87)"/><rect x="1317.10" y="236.30" width="11.80" height="124.40" fill="url(#g88)"/><rect x="1328.00" y="236.50" width="11.80" height="124.20" fill="url(#g89)"/><rect x="1338.90" y="237.20" width="11.80" height="123.50" fill="url(#g90)"/><rect x="1349.80" y="240.20" width="11.80" height="120.50" fill="url(#g91)"/><rect x="1360.70" y="243.80" width="11.80" height="116.90" fill="url(#g92)"/><rect x="1371.60" y="248.40" width="11.80" height="112.30" fill="url(#g93)"/><rect x="1382.50" y="272.00" width="11.80" height="88.70" fill="url(#g94)"/><rect x="1393.40" y="279.90" width="11.80" height="80.80" fill="url(#g95)"/><rect x="1404.30" y="284.80" width="11.80" height="75.90" fill="url(#g96)"/><rect x="1415.20" y="289.10" width="11.80" height="71.60" fill="url(#g97)"/><rect x="1426.10" y="292.00" width="11.80" height="68.70" fill="url(#g98)"/><rect x="1437.00" y="295.30" width="11.80" height="65.40" fill="url(#g99)"/><rect x="1447.90" y="316.10" width="11.80" height="44.60" fill="url(#g100)"/><rect x="1458.80" y="332.80" width="11.80" height="27.90" fill="url(#g101)"/><rect x="1469.70" y="334.80" width="6.70" height="25.90" fill="url(#g102)"/><rect x="1082.8" y="44.9" width="393.6" height="315.8" fill="none" stroke="#ababab" stroke-width="1.25"/><path d="M1093.9 360.7v-4.0M1093.9 44.9v4.0M1178.7 360.7v-4.0M1178.7 44.9v4.0M1263.5 360.7v-4.0M1263.5 44.9v4.0M1348.3 360.7v-4.0M1348.3 44.9v4.0M1433.1 360.7v-4.0M1433.1 44.9v4.0M1082.8 360.7h4.0M1476.4 360.7h-4.0M1082.8 308.1h4.0M1476.4 308.1h-4.0M1082.8 255.4h4.0M1476.4 255.4h-4.0M1082.8 202.8h4.0M1476.4 202.8h-4.0M1082.8 150.2h4.0M1476.4 150.2h-4.0M1082.8 97.5h4.0M1476.4 97.5h-4.0M1082.8 44.9h4.0M1476.4 44.9h-4.0" stroke="#ababab" stroke-width="1.06" fill="none"/><text x="1076" y="368.9" font-size="24" text-anchor="end" fill="#000">0</text><text x="1076" y="316.3" font-size="24" text-anchor="end" fill="#000">50</text><text x="1076" y="263.6" font-size="24" text-anchor="end" fill="#000">100</text><text x="1076" y="211" font-size="24" text-anchor="end" fill="#000">150</text><text x="1076" y="158.4" font-size="24" text-anchor="end" fill="#000">200</text><text x="1076" y="105.7" font-size="24" text-anchor="end" fill="#000">250</text><text x="1076" y="53.1" font-size="24" text-anchor="end" fill="#000">300</text><text x="1093.9" y="388.3" font-size="24" text-anchor="middle" fill="#000">-2</text><text x="1178.7" y="388.3" font-size="24" text-anchor="middle" fill="#000">0</text><text x="1263.5" y="388.3" font-size="24" text-anchor="middle" fill="#000">2</text><text x="1348.3" y="388.3" font-size="24" text-anchor="middle" fill="#000">4</text><text x="1433.1" y="388.3" font-size="24" text-anchor="middle" fill="#000">6</text><text x="1225.6" y="415.9" font-size="27.5" text-anchor="start" textLength="59.6" lengthAdjust="spacingAndGlyphs" fill="#000">Time</text><text x="1297.1" y="415.9" font-size="27.5" text-anchor="start" textLength="34.8" lengthAdjust="spacingAndGlyphs" fill="#000">[ps]</text><text x="1115.4" y="80.2" font-size="28.5" text-anchor="start" font-weight="bold" textLength="23.4" lengthAdjust="spacingAndGlyphs" fill="#000">c)</text><text x="1199" y="24.1" font-size="35" text-anchor="start" font-weight="bold" textLength="167.4" lengthAdjust="spacingAndGlyphs" fill="#000">n<tspan font-size="24" dy="7">0</tspan><tspan dy="-7"> = 0.1 n</tspan><tspan font-size="24" dy="7">crit</tspan></text><rect x="1481.9" y="45.4" width="10.9" height="315.3" fill="url(#cbc)" stroke="#b0b0b0" stroke-width="1"/><text x="1500.7" y="367.9" font-size="21" text-anchor="start" fill="#000">11</text><text x="1500.7" y="322.9" font-size="21" text-anchor="start" fill="#000">12</text><text x="1500.7" y="277.8" font-size="21" text-anchor="start" fill="#000">13</text><text x="1500.7" y="232.8" font-size="21" text-anchor="start" fill="#000">14</text><text x="1500.7" y="187.7" font-size="21" text-anchor="start" fill="#000">15</text><text x="1500.7" y="142.7" font-size="21" text-anchor="start" fill="#000">16</text><text x="1500.7" y="97.7" font-size="21" text-anchor="start" fill="#000">17</text><text x="1500.7" y="52.6" font-size="21" text-anchor="start" fill="#000">18</text><text transform="translate(1577.6,280.6) rotate(-90)" font-size="26.4" text-anchor="start" textLength="148.5" lengthAdjust="spacingAndGlyphs" fill="#000">log<tspan font-size="18" dy="4">10</tspan><tspan dy="-4">(dN/dE)</tspan></text><path d="M120.5,652.2 116.7,642.2 86.7,634.4 118.4,657.2 123.4,657.6" fill="none" stroke="#000" stroke-width="1.9" stroke-linejoin="round"/><path d="M86.7,634.4 117.0,622.1 125.8,610.0 140.6,599.7 155.6,593.3 168.4,591.8 177.1,593.6 182.1,597.9 184.9,603.9 185.5,610.1 185.2,617.5 184.5,625.9 183.1,633.7 180.9,642.2 178.4,651.1 175.9,659.0 173.5,666.8 173.1,673.8 175.0,680.6 180.6,686.7 191.2,692.3 204.4,696.3 219.3,697.4 232.8,695.8 241.6,689.9 245.6,681.3 246.0,670.2 244.2,659.3 241.1,650.1 237.5,642.2 234.2,636.6 231.4,630.2 228.5,625.2 225.0,620.2 221.4,612.4 216.5,603.9 210.5,593.9 204.4,584.3 197.7,574.0 197.3,564.1 206.2,552.7 222.1,542.0 239.9,533.5 254.1,528.8 263.4,528.8 269.1,533.8 271.6,542.7 272.2,555.3 271.3,570.9 269.9,587.1 267.6,605.3 265.2,623.8 262.7,642.2 260.2,659.0 259.4,674.5 259.8,690.3 263.4,703.4 269.8,714.5 278.3,725.3 289.0,735.7 300.4,745.6 311.8,754.2 322.7,758.4 331.7,757.7 336.9,751.3 337.4,741.8 333.8,727.9 327.4,711.9 320.6,694.5 314.9,678.1 310.1,660.8 306.4,645.7 303.9,630.9 302.1,617.0 300.1,603.9 299.1,592.5 297.5,581.1 296.5,570.2 296.2,558.5 296.5,543.3 299.7,525.3 308.5,507.7 322.6,490.6 339.0,476.9 350.4,467.9 354.4,464.9" fill="none" stroke="#000" stroke-width="1.9" stroke-linejoin="round"/><circle cx="120.5" cy="652.2" r="3.5" fill="#0000ee"/><circle cx="116.7" cy="642.2" r="3.5" fill="#0000ee"/><circle cx="86.7" cy="634.4" r="3.5" fill="#00008d"/><circle cx="118.4" cy="657.2" r="3.5" fill="#0000ee"/><circle cx="123.4" cy="657.6" r="3.5" fill="#0000ee"/><circle cx="86.7" cy="634.4" r="3.5" fill="#00008d"/><circle cx="117.0" cy="622.1" r="3.5" fill="#0000ee"/><circle cx="125.8" cy="610.0" r="3.5" fill="#0000fc"/><circle cx="140.6" cy="599.7" r="3.5" fill="#000eff"/><circle cx="155.6" cy="593.3" r="3.5" fill="#0032ff"/><circle cx="168.4" cy="591.8" r="3.5" fill="#004dff"/><circle cx="177.1" cy="593.6" r="3.5" fill="#0074ff"/><circle cx="182.1" cy="597.9" r="3.5" fill="#008bff"/><circle cx="184.9" cy="603.9" r="3.5" fill="#0093ff"/><circle cx="185.5" cy="610.1" r="3.5" fill="#0098ff"/><circle cx="185.2" cy="617.5" r="3.5" fill="#0098ff"/><circle cx="184.5" cy="625.9" r="3.5" fill="#0098ff"/><circle cx="183.1" cy="633.7" r="3.5" fill="#0098ff"/><circle cx="180.9" cy="642.2" r="3.5" fill="#0098ff"/><circle cx="178.4" cy="651.1" r="3.5" fill="#0098ff"/><circle cx="175.9" cy="659.0" r="3.5" fill="#0098ff"/><circle cx="173.5" cy="666.8" r="3.5" fill="#0098ff"/><circle cx="173.1" cy="673.8" r="3.5" fill="#0098ff"/><circle cx="175.0" cy="680.6" r="3.5" fill="#009cff"/><circle cx="180.6" cy="686.7" r="3.5" fill="#00a1ff"/><circle cx="191.2" cy="692.3" r="3.5" fill="#00aeff"/><circle cx="204.4" cy="696.3" r="3.5" fill="#00dfff"/><circle cx="219.3" cy="697.4" r="3.5" fill="#00feff"/><circle cx="232.8" cy="695.8" r="3.5" fill="#22ffdd"/><circle cx="241.6" cy="689.9" r="3.5" fill="#30ffcf"/><circle cx="245.6" cy="681.3" r="3.5" fill="#34ffcb"/><circle cx="246.0" cy="670.2" r="3.5" fill="#34ffcb"/><circle cx="244.2" cy="659.3" r="3.5" fill="#2bffd4"/><circle cx="241.1" cy="650.1" r="3.5" fill="#22ffdd"/><circle cx="237.5" cy="642.2" r="3.5" fill="#1effe1"/><circle cx="234.2" cy="636.6" r="3.5" fill="#1affe5"/><circle cx="231.4" cy="630.2" r="3.5" fill="#15ffea"/><circle cx="228.5" cy="625.2" r="3.5" fill="#11ffee"/><circle cx="225.0" cy="620.2" r="3.5" fill="#08fff7"/><circle cx="221.4" cy="612.4" r="3.5" fill="#00f9ff"/><circle cx="216.5" cy="603.9" r="3.5" fill="#00f1ff"/><circle cx="210.5" cy="593.9" r="3.5" fill="#00e8ff"/><circle cx="204.4" cy="584.3" r="3.5" fill="#00dfff"/><circle cx="197.7" cy="574.0" r="3.5" fill="#00cdff"/><circle cx="197.3" cy="564.1" r="3.5" fill="#00cdff"/><circle cx="206.2" cy="552.7" r="3.5" fill="#00daff"/><circle cx="222.1" cy="542.0" r="3.5" fill="#00feff"/><circle cx="239.9" cy="533.5" r="3.5" fill="#3dffc2"/><circle cx="254.1" cy="528.8" r="3.5" fill="#6eff91"/><circle cx="263.4" cy="528.8" r="3.5" fill="#80ff80"/><circle cx="269.1" cy="533.8" r="3.5" fill="#88ff77"/><circle cx="271.6" cy="542.7" r="3.5" fill="#80ff80"/><circle cx="272.2" cy="555.3" r="3.5" fill="#77ff88"/><circle cx="271.3" cy="570.9" r="3.5" fill="#72ff8d"/><circle cx="269.9" cy="587.1" r="3.5" fill="#72ff8d"/><circle cx="267.6" cy="605.3" r="3.5" fill="#72ff8d"/><circle cx="265.2" cy="623.8" r="3.5" fill="#72ff8d"/><circle cx="262.7" cy="642.2" r="3.5" fill="#72ff8d"/><circle cx="260.2" cy="659.0" r="3.5" fill="#77ff88"/><circle cx="259.4" cy="674.5" r="3.5" fill="#77ff88"/><circle cx="259.8" cy="690.3" r="3.5" fill="#7bff84"/><circle cx="263.4" cy="703.4" r="3.5" fill="#84ff7b"/><circle cx="269.8" cy="714.5" r="3.5" fill="#8dff72"/><circle cx="278.3" cy="725.3" r="3.5" fill="#9fff60"/><circle cx="289.0" cy="735.7" r="3.5" fill="#c6ff39"/><circle cx="300.4" cy="745.6" r="3.5" fill="#e5ff1a"/><circle cx="311.8" cy="754.2" r="3.5" fill="#ffe300"/><circle cx="322.7" cy="758.4" r="3.5" fill="#ffc900"/><circle cx="331.7" cy="757.7" r="3.5" fill="#ffaa00"/><circle cx="336.9" cy="751.3" r="3.5" fill="#ff9800"/><circle cx="337.4" cy="741.8" r="3.5" fill="#ff9800"/><circle cx="333.8" cy="727.9" r="3.5" fill="#ffaa00"/><circle cx="327.4" cy="711.9" r="3.5" fill="#ffb300"/><circle cx="320.6" cy="694.5" r="3.5" fill="#ffc900"/><circle cx="314.9" cy="678.1" r="3.5" fill="#ffd600"/><circle cx="310.1" cy="660.8" r="3.5" fill="#ffe300"/><circle cx="306.4" cy="645.7" r="3.5" fill="#fffe00"/><circle cx="303.9" cy="630.9" r="3.5" fill="#f3ff0c"/><circle cx="302.1" cy="617.0" r="3.5" fill="#eaff15"/><circle cx="300.1" cy="603.9" r="3.5" fill="#eaff15"/><circle cx="299.1" cy="592.5" r="3.5" fill="#eaff15"/><circle cx="297.5" cy="581.1" r="3.5" fill="#eaff15"/><circle cx="296.5" cy="570.2" r="3.5" fill="#eaff15"/><circle cx="296.2" cy="558.5" r="3.5" fill="#eaff15"/><circle cx="296.5" cy="543.3" r="3.5" fill="#eaff15"/><circle cx="299.7" cy="525.3" r="3.5" fill="#f3ff0c"/><circle cx="308.5" cy="507.7" r="3.5" fill="#ffe300"/><circle cx="322.6" cy="490.6" r="3.5" fill="#ffc900"/><circle cx="339.0" cy="476.9" r="3.5" fill="#ff9800"/><circle cx="350.4" cy="467.9" r="3.5" fill="#ff6300"/><circle cx="354.4" cy="464.9" r="3.5" fill="#ff6300"/><rect x="87" y="454.7" width="358.5" height="359.8" fill="none" stroke="#c3c3c3" stroke-width="1.55"/><path d="M87 814.5v-4.0M87 454.7v4.0M158.7 814.5v-4.0M158.7 454.7v4.0M230.4 814.5v-4.0M230.4 454.7v4.0M302.1 814.5v-4.0M302.1 454.7v4.0M373.8 814.5v-4.0M373.8 454.7v4.0M445.5 814.5v-4.0M445.5 454.7v4.0M87 454.7h4.0M445.5 454.7h-4.0M87 634.6h4.0M445.5 634.6h-4.0M87 814.5h4.0M445.5 814.5h-4.0" stroke="#c3c3c3" stroke-width="1.32" fill="none"/><text x="87" y="845" font-size="26" text-anchor="middle" fill="#000">0</text><text x="158.7" y="845" font-size="26" text-anchor="middle" fill="#000">100</text><text x="230.4" y="845" font-size="26" text-anchor="middle" fill="#000">200</text><text x="302.1" y="845" font-size="26" text-anchor="middle" fill="#000">300</text><text x="373.8" y="845" font-size="26" text-anchor="middle" fill="#000">400</text><text x="445.5" y="845" font-size="26" text-anchor="middle" fill="#000">500</text><text x="79.3" y="463.5" font-size="26" text-anchor="end" fill="#000">50</text><text x="79.3" y="643.4" font-size="26" text-anchor="end" fill="#000">0</text><text x="79.3" y="823.3" font-size="26" text-anchor="end" fill="#000">-50</text><text x="214.9" y="881" font-size="30" text-anchor="start" textLength="28.1" lengthAdjust="spacingAndGlyphs" fill="#000">p<tspan font-size="21" dy="4">x</tspan></text><text x="258" y="881" font-size="30" text-anchor="start" textLength="61.4" lengthAdjust="spacingAndGlyphs" fill="#000">[m<tspan font-size="21" dy="4">e</tspan><tspan dy="-4">c]</tspan></text><text transform="translate(39.8,698.8) rotate(-90)" font-size="30" text-anchor="start" textLength="26.3" lengthAdjust="spacingAndGlyphs" fill="#000">p<tspan font-size="21" dy="4">y</tspan></text><text transform="translate(39.8,656.6) rotate(-90)" font-size="30" text-anchor="start" textLength="59.2" lengthAdjust="spacingAndGlyphs" fill="#000">[m<tspan font-size="21" dy="4">e</tspan><tspan dy="-4">c]</tspan></text><text x="94.4" y="502.9" font-size="31" text-anchor="start" font-weight="bold" textLength="25.2" lengthAdjust="spacingAndGlyphs" fill="#000">d)</text><path d="M617.8,616.0 632.0,606.6 641.9,606.6 648.9,614.7 653.6,629.1 656.3,644.9 658.1,661.5 657.7,675.4 655.1,683.1 662.8,689.9 683.1,694.6 704.0,696.4 717.5,694.4 722.2,689.9 719.5,685.2 718.8,677.1 719.8,667.3 718.6,656.8 715.1,644.0 709.4,631.6 700.6,618.3 688.7,604.1 678.3,592.3 676.3,581.9 683.1,573.1 692.9,566.3 706.7,560.7 721.1,556.5 735.0,554.4 743.8,557.6 748.5,563.6 752.3,573.8 753.7,590.0 752.9,608.9 749.2,629.1 743.4,650.7 736.7,671.3 729.4,689.0 723.4,704.8 722.8,716.7 731.5,727.4 748.3,733.4 766.0,733.4 779.1,727.0 785.6,713.2 785.5,696.0 782.8,675.4 778.9,655.1 775.1,636.6 770.8,620.4 765.8,601.4 760.8,583.8 755.1,567.6 751.0,553.0 749.3,542.0 751.0,532.2 758.5,523.7 768.9,516.3 781.3,512.7 793.9,511.3 805.7,515.9 815.9,528.0 823.2,546.4 826.5,571.7 826.5,602.7 823.7,634.2 819.0,665.2 812.2,695.2 803.8,724.7 796.0,751.0 793.3,768.5 799.7,783.0 814.2,797.9 832.7,807.3 847.1,800.3 855.0,783.4 857.0,761.4 854.8,737.2 851.8,708.5 847.6,682.1 843.7,653.8 839.2,628.4 835.9,601.7 832.0,579.3 829.3,558.8 828.9,541.3 831.6,529.7 837.7,517.8 845.9,509.1 855.0,502.9 863.7,497.3 872.1,488.1 880.5,479.0 889.4,475.1 896.7,470.0 901.1,474.0 902.1,486.2 901.1,501.6 897.8,523.6 893.7,544.2 889.2,567.2 885.6,589.1 883.3,620.4 881.9,647.3 880.3,672.2 879.3,694.1 879.3,715.7 880.3,736.9 881.9,749.0 885.2,761.5 893.4,778.5 906.5,796.4 923.5,810.5" fill="none" stroke="#000" stroke-width="1.9" stroke-linejoin="round"/><circle cx="617.8" cy="616.0" r="3.5" fill="#00008d"/><circle cx="632.0" cy="606.6" r="3.5" fill="#0000cf"/><circle cx="641.9" cy="606.6" r="3.5" fill="#0000d8"/><circle cx="648.9" cy="614.7" r="3.5" fill="#0000e6"/><circle cx="653.6" cy="629.1" r="3.5" fill="#0000ee"/><circle cx="656.3" cy="644.9" r="3.5" fill="#0000f7"/><circle cx="658.1" cy="661.5" r="3.5" fill="#0000fc"/><circle cx="657.7" cy="675.4" r="3.5" fill="#0006ff"/><circle cx="655.1" cy="683.1" r="3.5" fill="#000eff"/><circle cx="662.8" cy="689.9" r="3.5" fill="#001cff"/><circle cx="683.1" cy="694.6" r="3.5" fill="#0044ff"/><circle cx="704.0" cy="696.4" r="3.5" fill="#008bff"/><circle cx="717.5" cy="694.4" r="3.5" fill="#00c0ff"/><circle cx="722.2" cy="689.9" r="3.5" fill="#00d2ff"/><circle cx="719.5" cy="685.2" r="3.5" fill="#00d2ff"/><circle cx="718.8" cy="677.1" r="3.5" fill="#00cdff"/><circle cx="719.8" cy="667.3" r="3.5" fill="#00c9ff"/><circle cx="718.6" cy="656.8" r="3.5" fill="#00c0ff"/><circle cx="715.1" cy="644.0" r="3.5" fill="#00b7ff"/><circle cx="709.4" cy="631.6" r="3.5" fill="#00a5ff"/><circle cx="700.6" cy="618.3" r="3.5" fill="#0079ff"/><circle cx="688.7" cy="604.1" r="3.5" fill="#0063ff"/><circle cx="678.3" cy="592.3" r="3.5" fill="#004dff"/><circle cx="676.3" cy="581.9" r="3.5" fill="#004dff"/><circle cx="683.1" cy="573.1" r="3.5" fill="#0055ff"/><circle cx="692.9" cy="566.3" r="3.5" fill="#0079ff"/><circle cx="706.7" cy="560.7" r="3.5" fill="#00aaff"/><circle cx="721.1" cy="556.5" r="3.5" fill="#00d2ff"/><circle cx="735.0" cy="554.4" r="3.5" fill="#00f5ff"/><circle cx="743.8" cy="557.6" r="3.5" fill="#1effe1"/><circle cx="748.5" cy="563.6" r="3.5" fill="#27ffd8"/><circle cx="752.3" cy="573.8" r="3.5" fill="#34ffcb"/><circle cx="753.7" cy="590.0" r="3.5" fill="#34ffcb"/><circle cx="752.9" cy="608.9" r="3.5" fill="#34ffcb"/><circle cx="749.2" cy="629.1" r="3.5" fill="#2bffd4"/><circle cx="743.4" cy="650.7" r="3.5" fill="#1effe1"/><circle cx="736.7" cy="671.3" r="3.5" fill="#00f5ff"/><circle cx="729.4" cy="689.0" r="3.5" fill="#00f9ff"/><circle cx="723.4" cy="704.8" r="3.5" fill="#00dfff"/><circle cx="722.8" cy="716.7" r="3.5" fill="#00d6ff"/><circle cx="731.5" cy="727.4" r="3.5" fill="#00f1ff"/><circle cx="748.3" cy="733.4" r="3.5" fill="#34ffcb"/><circle cx="766.0" cy="733.4" r="3.5" fill="#60ff9f"/><circle cx="779.1" cy="727.0" r="3.5" fill="#80ff80"/><circle cx="785.6" cy="713.2" r="3.5" fill="#88ff77"/><circle cx="785.5" cy="696.0" r="3.5" fill="#96ff69"/><circle cx="782.8" cy="675.4" r="3.5" fill="#96ff69"/><circle cx="778.9" cy="655.1" r="3.5" fill="#88ff77"/><circle cx="775.1" cy="636.6" r="3.5" fill="#77ff88"/><circle cx="770.8" cy="620.4" r="3.5" fill="#69ff96"/><circle cx="765.8" cy="601.4" r="3.5" fill="#6eff91"/><circle cx="760.8" cy="583.8" r="3.5" fill="#46ffb9"/><circle cx="755.1" cy="567.6" r="3.5" fill="#39ffc6"/><circle cx="751.0" cy="553.0" r="3.5" fill="#34ffcb"/><circle cx="749.3" cy="542.0" r="3.5" fill="#34ffcb"/><circle cx="751.0" cy="532.2" r="3.5" fill="#3dffc2"/><circle cx="758.5" cy="523.7" r="3.5" fill="#46ffb9"/><circle cx="768.9" cy="516.3" r="3.5" fill="#6eff91"/><circle cx="781.3" cy="512.7" r="3.5" fill="#88ff77"/><circle cx="793.9" cy="511.3" r="3.5" fill="#b5ff4a"/><circle cx="805.7" cy="515.9" r="3.5" fill="#fffe00"/><circle cx="815.9" cy="528.0" r="3.5" fill="#ffda00"/><circle cx="823.2" cy="546.4" r="3.5" fill="#ffc900"/><circle cx="826.5" cy="571.7" r="3.5" fill="#ffbb00"/><circle cx="826.5" cy="602.7" r="3.5" fill="#ffb300"/><circle cx="823.7" cy="634.2" r="3.5" fill="#ffda00"/><circle cx="819.0" cy="665.2" r="3.5" fill="#ffe300"/><circle cx="812.2" cy="695.2" r="3.5" fill="#fff100"/><circle cx="803.8" cy="724.7" r="3.5" fill="#f3ff0c"/><circle cx="796.0" cy="751.0" r="3.5" fill="#d8ff27"/><circle cx="793.3" cy="768.5" r="3.5" fill="#c6ff39"/><circle cx="799.7" cy="783.0" r="3.5" fill="#e5ff1a"/><circle cx="814.2" cy="797.9" r="3.5" fill="#ffda00"/><circle cx="832.7" cy="807.3" r="3.5" fill="#ffaa00"/><circle cx="847.1" cy="800.3" r="3.5" fill="#ff6c00"/><circle cx="855.0" cy="783.4" r="3.5" fill="#ff5500"/><circle cx="857.0" cy="761.4" r="3.5" fill="#ff4c00"/><circle cx="854.8" cy="737.2" r="3.5" fill="#ff6300"/><circle cx="851.8" cy="708.5" r="3.5" fill="#ff6c00"/><circle cx="847.6" cy="682.1" r="3.5" fill="#ff7400"/><circle cx="843.7" cy="653.8" r="3.5" fill="#ff8200"/><circle cx="839.2" cy="628.4" r="3.5" fill="#ff8b00"/><circle cx="835.9" cy="601.7" r="3.5" fill="#ffaa00"/><circle cx="832.0" cy="579.3" r="3.5" fill="#ffb300"/><circle cx="829.3" cy="558.8" r="3.5" fill="#ffb300"/><circle cx="828.9" cy="541.3" r="3.5" fill="#ffaa00"/><circle cx="831.6" cy="529.7" r="3.5" fill="#ffaa00"/><circle cx="837.7" cy="517.8" r="3.5" fill="#ff9800"/><circle cx="845.9" cy="509.1" r="3.5" fill="#ff8200"/><circle cx="855.0" cy="502.9" r="3.5" fill="#ff6300"/><circle cx="863.7" cy="497.3" r="3.5" fill="#ff4400"/><circle cx="872.1" cy="488.1" r="3.5" fill="#ff2900"/><circle cx="880.5" cy="479.0" r="3.5" fill="#ff0100"/><circle cx="889.4" cy="475.1" r="3.5" fill="#ff0100"/><circle cx="896.7" cy="470.0" r="3.5" fill="#be0000"/><circle cx="901.1" cy="474.0" r="3.5" fill="#b50000"/><circle cx="902.1" cy="486.2" r="3.5" fill="#b50000"/><circle cx="901.1" cy="501.6" r="3.5" fill="#be0000"/><circle cx="897.8" cy="523.6" r="3.5" fill="#cb0000"/><circle cx="893.7" cy="544.2" r="3.5" fill="#e10000"/><circle cx="889.2" cy="567.2" r="3.5" fill="#ff0100"/><circle cx="885.6" cy="589.1" r="3.5" fill="#ff0100"/><circle cx="883.3" cy="620.4" r="3.5" fill="#ff0100"/><circle cx="881.9" cy="647.3" r="3.5" fill="#ff0100"/><circle cx="880.3" cy="672.2" r="3.5" fill="#ff0100"/><circle cx="879.3" cy="694.1" r="3.5" fill="#ff0100"/><circle cx="879.3" cy="715.7" r="3.5" fill="#ff0100"/><circle cx="880.3" cy="736.9" r="3.5" fill="#ff0100"/><circle cx="881.9" cy="749.0" r="3.5" fill="#ff0100"/><circle cx="885.2" cy="761.5" r="3.5" fill="#ff0100"/><circle cx="893.4" cy="778.5" r="3.5" fill="#ee0000"/><circle cx="906.5" cy="796.4" r="3.5" fill="#ac0000"/><circle cx="923.5" cy="810.5" r="3.5" fill="#8d0000"/><rect x="591.6" y="456.3" width="365.2" height="364.7" fill="none" stroke="#c3c3c3" stroke-width="1.55"/><path d="M591.6 821v-4.0M591.6 456.3v4.0M658 821v-4.0M658 456.3v4.0M724.4 821v-4.0M724.4 456.3v4.0M790.8 821v-4.0M790.8 456.3v4.0M857.2 821v-4.0M857.2 456.3v4.0M923.6 821v-4.0M923.6 456.3v4.0M591.6 456.3h4.0M956.8 456.3h-4.0M591.6 638.6h4.0M956.8 638.6h-4.0M591.6 821h4.0M956.8 821h-4.0" stroke="#c3c3c3" stroke-width="1.32" fill="none"/><text x="591.6" y="849.4" font-size="26" text-anchor="middle" fill="#000">0</text><text x="658" y="849.4" font-size="26" text-anchor="middle" fill="#000">100</text><text x="724.4" y="849.4" font-size="26" text-anchor="middle" fill="#000">200</text><text x="790.8" y="849.4" font-size="26" text-anchor="middle" fill="#000">300</text><text x="857.2" y="849.4" font-size="26" text-anchor="middle" fill="#000">400</text><text x="923.6" y="849.4" font-size="26" text-anchor="middle" fill="#000">500</text><text x="584.5" y="465.1" font-size="26" text-anchor="end" fill="#000">50</text><text x="584.5" y="647.5" font-size="26" text-anchor="end" fill="#000">0</text><text x="584.5" y="829.8" font-size="26" text-anchor="end" fill="#000">-50</text><text x="740.4" y="881.5" font-size="30" text-anchor="start" textLength="28.1" lengthAdjust="spacingAndGlyphs" fill="#000">p<tspan font-size="21" dy="4">x</tspan></text><text x="783.5" y="881.5" font-size="30" text-anchor="start" textLength="61.5" lengthAdjust="spacingAndGlyphs" fill="#000">[m<tspan font-size="21" dy="4">e</tspan><tspan dy="-4">c]</tspan></text><text x="612.8" y="502" font-size="31" text-anchor="start" font-weight="bold" textLength="22.9" lengthAdjust="spacingAndGlyphs" fill="#000">e)</text><path d="M1148.4,684.0 1165.1,646.8 1168.1,590.5 1173.3,576.4 1185.0,588.1 1188.6,584.5 1205.8,547.8 1212.5,570.3 1204.3,573.0 1198.0,577.4 1188.6,584.5 1184.4,629.2 1182.9,660.0 1174.5,680.9 1189.1,690.3 1198.8,674.6 1194.0,647.5 1191.6,614.7 1220.4,515.6 1232.7,479.3 1235.7,477.5 1235.5,500.8 1240.6,557.0 1241.7,643.7 1247.3,742.5 1253.5,787.8 1244.5,798.1 1266.6,789.1 1266.6,694.3 1273.6,693.2 1277.5,702.5 1277.2,715.2 1281.3,685.4 1283.2,669.8 1284.5,649.4 1284.5,609.7 1287.0,513.1 1287.3,502.0 1284.6,490.5 1271.2,502.0 1261.7,538.1 1262.1,600.4 1266.2,645.3 1271.5,656.4 1277.2,632.0 1276.8,615.1 1280.1,596.3 1280.1,588.2 1278.6,554.4 1281.6,530.6 1287.0,513.1" fill="none" stroke="#000" stroke-width="1.9" stroke-linejoin="round"/><path d="M1284.6,490.5 1279.0,504.1 1275.6,512.6 1274.5,525.9 1270.1,535.7 1265.0,567.2 1263.5,600.0 1266.6,694.3" fill="none" stroke="#000" stroke-width="1.9" stroke-linejoin="round"/><path d="M1274.5,525.9 1274.3,590.0 1273.9,606.1 1277.2,664.1 1280.8,677.2" fill="none" stroke="#000" stroke-width="1.9" stroke-linejoin="round"/><circle cx="1148.4" cy="684.0" r="3.5" fill="#0000e6"/><circle cx="1165.1" cy="646.8" r="3.5" fill="#0006ff"/><circle cx="1168.1" cy="590.5" r="3.5" fill="#000eff"/><circle cx="1173.3" cy="576.4" r="3.5" fill="#0017ff"/><circle cx="1185.0" cy="588.1" r="3.5" fill="#0032ff"/><circle cx="1188.6" cy="584.5" r="3.5" fill="#0036ff"/><circle cx="1205.8" cy="547.8" r="3.5" fill="#0074ff"/><circle cx="1212.5" cy="570.3" r="3.5" fill="#0082ff"/><circle cx="1204.3" cy="573.0" r="3.5" fill="#006cff"/><circle cx="1198.0" cy="577.4" r="3.5" fill="#005eff"/><circle cx="1188.6" cy="584.5" r="3.5" fill="#003bff"/><circle cx="1184.4" cy="629.2" r="3.5" fill="#003bff"/><circle cx="1182.9" cy="660.0" r="3.5" fill="#003bff"/><circle cx="1174.5" cy="680.9" r="3.5" fill="#0032ff"/><circle cx="1189.1" cy="690.3" r="3.5" fill="#003bff"/><circle cx="1198.8" cy="674.6" r="3.5" fill="#0048ff"/><circle cx="1194.0" cy="647.5" r="3.5" fill="#003fff"/><circle cx="1191.6" cy="614.7" r="3.5" fill="#003bff"/><circle cx="1220.4" cy="515.6" r="3.5" fill="#00a1ff"/><circle cx="1232.7" cy="479.3" r="3.5" fill="#00e3ff"/><circle cx="1235.7" cy="477.5" r="3.5" fill="#00e3ff"/><circle cx="1235.5" cy="500.8" r="3.5" fill="#00e8ff"/><circle cx="1240.6" cy="557.0" r="3.5" fill="#00f1ff"/><circle cx="1241.7" cy="643.7" r="3.5" fill="#00f1ff"/><circle cx="1247.3" cy="742.5" r="3.5" fill="#00f5ff"/><circle cx="1253.5" cy="787.8" r="3.5" fill="#00feff"/><circle cx="1244.5" cy="798.1" r="3.5" fill="#00feff"/><circle cx="1266.6" cy="789.1" r="3.5" fill="#27ffd8"/><circle cx="1266.6" cy="694.3" r="3.5" fill="#30ffcf"/><circle cx="1273.6" cy="693.2" r="3.5" fill="#41ffbe"/><circle cx="1277.5" cy="702.5" r="3.5" fill="#46ffb9"/><circle cx="1277.2" cy="715.2" r="3.5" fill="#46ffb9"/><circle cx="1281.3" cy="685.4" r="3.5" fill="#53ffac"/><circle cx="1283.2" cy="669.8" r="3.5" fill="#58ffa7"/><circle cx="1284.5" cy="649.4" r="3.5" fill="#5cffa3"/><circle cx="1284.5" cy="609.7" r="3.5" fill="#60ff9f"/><circle cx="1287.0" cy="513.1" r="3.5" fill="#69ff96"/><circle cx="1287.3" cy="502.0" r="3.5" fill="#6eff91"/><circle cx="1284.6" cy="490.5" r="3.5" fill="#72ff8d"/><circle cx="1271.2" cy="502.0" r="3.5" fill="#34ffcb"/><circle cx="1261.7" cy="538.1" r="3.5" fill="#2bffd4"/><circle cx="1262.1" cy="600.4" r="3.5" fill="#30ffcf"/><circle cx="1266.2" cy="645.3" r="3.5" fill="#34ffcb"/><circle cx="1271.5" cy="656.4" r="3.5" fill="#3dffc2"/><circle cx="1277.2" cy="632.0" r="3.5" fill="#4affb5"/><circle cx="1276.8" cy="615.1" r="3.5" fill="#4affb5"/><circle cx="1280.1" cy="596.3" r="3.5" fill="#53ffac"/><circle cx="1280.1" cy="588.2" r="3.5" fill="#53ffac"/><circle cx="1278.6" cy="554.4" r="3.5" fill="#4fffb0"/><circle cx="1281.6" cy="530.6" r="3.5" fill="#60ff9f"/><circle cx="1287.0" cy="513.1" r="3.5" fill="#69ff96"/><circle cx="1284.6" cy="490.5" r="3.5" fill="#72ff8d"/><circle cx="1279.0" cy="504.1" r="3.5" fill="#60ff9f"/><circle cx="1275.6" cy="512.6" r="3.5" fill="#58ffa7"/><circle cx="1274.5" cy="525.9" r="3.5" fill="#53ffac"/><circle cx="1270.1" cy="535.7" r="3.5" fill="#3dffc2"/><circle cx="1265.0" cy="567.2" r="3.5" fill="#30ffcf"/><circle cx="1263.5" cy="600.0" r="3.5" fill="#30ffcf"/><circle cx="1266.6" cy="694.3" r="3.5" fill="#30ffcf"/><circle cx="1274.5" cy="525.9" r="3.5" fill="#53ffac"/><circle cx="1274.3" cy="590.0" r="3.5" fill="#4affb5"/><circle cx="1273.9" cy="606.1" r="3.5" fill="#4affb5"/><circle cx="1277.2" cy="664.1" r="3.5" fill="#4fffb0"/><circle cx="1280.8" cy="677.2" r="3.5" fill="#53ffac"/><circle cx="1278.5" cy="560.0" r="3.5" fill="#58ffa7"/><circle cx="1280.5" cy="565.0" r="3.5" fill="#5cffa3"/><circle cx="1282.5" cy="571.0" r="3.5" fill="#58ffa7"/><circle cx="1279.0" cy="576.0" r="3.5" fill="#53ffac"/><circle cx="1283.0" cy="579.0" r="3.5" fill="#5cffa3"/><circle cx="1281.0" cy="556.0" r="3.5" fill="#58ffa7"/><circle cx="1277.0" cy="552.0" r="3.5" fill="#53ffac"/><circle cx="1284.0" cy="561.0" r="3.5" fill="#60ff9f"/><rect x="1117.2" y="460.9" width="351.4" height="351.4" fill="none" stroke="#c3c3c3" stroke-width="1.55"/><path d="M1117.2 812.3v-4.0M1117.2 460.9v4.0M1187.5 812.3v-4.0M1187.5 460.9v4.0M1257.8 812.3v-4.0M1257.8 460.9v4.0M1328 812.3v-4.0M1328 460.9v4.0M1398.3 812.3v-4.0M1398.3 460.9v4.0M1468.6 812.3v-4.0M1468.6 460.9v4.0M1117.2 460.9h4.0M1468.6 460.9h-4.0M1117.2 636.6h4.0M1468.6 636.6h-4.0M1117.2 812.3h4.0M1468.6 812.3h-4.0" stroke="#c3c3c3" stroke-width="1.32" fill="none"/><text x="1117.2" y="841.5" font-size="26" text-anchor="middle" fill="#000">0</text><text x="1187.5" y="841.5" font-size="26" text-anchor="middle" fill="#000">100</text><text x="1257.8" y="841.5" font-size="26" text-anchor="middle" fill="#000">200</text><text x="1328" y="841.5" font-size="26" text-anchor="middle" fill="#000">300</text><text x="1398.3" y="841.5" font-size="26" text-anchor="middle" fill="#000">400</text><text x="1468.6" y="841.5" font-size="26" text-anchor="middle" fill="#000">500</text><text x="1109.5" y="469.7" font-size="26" text-anchor="end" fill="#000">50</text><text x="1109.5" y="645.4" font-size="26" text-anchor="end" fill="#000">0</text><text x="1109.5" y="821.1" font-size="26" text-anchor="end" fill="#000">-50</text><text x="1239.9" y="876.2" font-size="30" text-anchor="start" textLength="28" lengthAdjust="spacingAndGlyphs" fill="#000">p<tspan font-size="21" dy="4">x</tspan></text><text x="1282.8" y="876.2" font-size="30" text-anchor="start" textLength="61.3" lengthAdjust="spacingAndGlyphs" fill="#000">[m<tspan font-size="21" dy="4">e</tspan><tspan dy="-4">c]</tspan></text><text x="1140.1" y="497.4" font-size="31" text-anchor="start" font-weight="bold" textLength="18.8" lengthAdjust="spacingAndGlyphs" fill="#000">f)</text><rect x="1494.6" y="460.9" width="11.2" height="351.4" fill="url(#cbf)" stroke="#b0b0b0" stroke-width="1"/><text x="1512.7" y="469.4" font-size="25" text-anchor="start" fill="#000">250</text><text x="1512.7" y="539.7" font-size="25" text-anchor="start" fill="#000">200</text><text x="1512.7" y="610" font-size="25" text-anchor="start" fill="#000">150</text><text x="1512.7" y="680.3" font-size="25" text-anchor="start" fill="#000">100</text><text x="1512.7" y="750.6" font-size="25" text-anchor="start" fill="#000">50</text><text x="1512.7" y="820.8" font-size="25" text-anchor="start" fill="#000">20</text><text transform="translate(1580,690.3) rotate(-90)" font-size="28" text-anchor="start" textLength="82.2" lengthAdjust="spacingAndGlyphs" fill="#000">Energy</text><text transform="translate(1580,597.5) rotate(-90)" font-size="28" text-anchor="start" textLength="63.7" lengthAdjust="spacingAndGlyphs" fill="#000">[MeV]</text><rect x="88" y="940.6" width="802" height="401.6" fill="none" stroke="#c3c3c3" stroke-width="1.55"/><path d="M88 1342.2v-4.0M88 940.6v4.0M256.8 1342.2v-4.0M256.8 940.6v4.0M425.5 1342.2v-4.0M425.5 940.6v4.0M594.2 1342.2v-4.0M594.2 940.6v4.0M763 1342.2v-4.0M763 940.6v4.0M88 1341.9h4.0M890 1341.9h-4.0M88 1261.6h4.0M890 1261.6h-4.0M88 1181.3h4.0M890 1181.3h-4.0M88 1101h4.0M890 1101h-4.0M88 1020.7h4.0M890 1020.7h-4.0M88 940.3h4.0M890 940.3h-4.0" stroke="#c3c3c3" stroke-width="1.32" fill="none"/><path d="M87.6,1139.3C89.3,1138.0 94.1,1133.8 97.9,1131.8C101.8,1129.8 106.2,1128.1 110.7,1127.4C115.2,1126.7 121.5,1128.2 124.9,1127.7C128.3,1127.2 128.1,1127.5 131.3,1124.6C134.5,1121.7 140.1,1114.6 144.2,1110.5C148.3,1106.4 151.8,1102.6 155.7,1100.2C159.5,1097.8 161.9,1097.1 167.3,1096.3C172.7,1095.5 183.2,1096.4 187.9,1095.3C192.6,1094.2 192.2,1093.2 195.6,1089.9C199.0,1086.6 204.7,1078.8 208.5,1075.7C212.3,1072.6 214.8,1071.9 218.7,1071.1C222.5,1070.3 226.4,1070.8 231.6,1071.1C236.8,1071.4 245.3,1073.2 249.6,1072.7C253.9,1072.2 252.6,1072.2 257.3,1068.0C262.0,1063.8 272.3,1051.4 277.9,1047.4C283.5,1043.4 285.2,1044.3 290.8,1043.8C296.4,1043.3 306.6,1045.1 311.3,1044.4C316.0,1043.7 315.6,1043.5 319.0,1039.7C322.4,1035.9 328.0,1025.5 331.9,1021.7C335.8,1017.9 337.9,1017.6 342.2,1016.6C346.5,1015.6 352.0,1015.8 357.6,1015.6C363.2,1015.4 370.9,1016.0 375.6,1015.3C380.3,1014.6 381.6,1014.0 385.9,1011.4C390.2,1008.8 395.8,1002.8 401.4,999.9C407.0,997.0 414.7,994.3 419.4,993.9C424.1,993.5 425.3,995.4 429.6,997.3C433.9,999.1 440.4,1003.5 445.1,1005.0C449.8,1006.5 452.8,1006.6 457.9,1006.3C463.0,1006.0 469.6,1004.9 475.9,1003.2C482.2,1001.6 491.0,997.0 495.6,996.4C500.2,995.8 500.4,997.5 503.4,999.6C506.4,1001.7 509.4,1006.7 513.8,1008.9C518.1,1011.1 524.7,1012.5 529.5,1012.9C534.3,1013.3 538.0,1012.3 542.5,1011.5C547.0,1010.7 552.9,1008.1 556.8,1008.2C560.7,1008.3 562.2,1009.3 565.9,1012.1C569.6,1014.9 575.0,1021.5 578.9,1025.1C582.8,1028.7 585.8,1031.8 589.3,1033.7C592.8,1035.6 596.3,1036.1 599.8,1036.3C603.3,1036.5 605.9,1036.3 610.2,1035.0C614.5,1033.7 620.6,1030.2 625.8,1028.2C631.0,1026.2 635.8,1024.3 641.4,1023.0C647.0,1021.6 654.8,1020.4 659.6,1020.1C664.4,1019.8 666.6,1020.9 670.1,1021.2C673.6,1021.6 676.6,1022.6 680.5,1022.2C684.4,1021.8 688.7,1020.0 693.5,1018.6C698.3,1017.2 704.8,1014.5 709.1,1013.9C713.4,1013.3 716.0,1013.8 719.5,1015.2C723.0,1016.6 727.1,1020.9 729.9,1022.5C732.7,1024.1 734.2,1024.5 736.4,1024.6C738.6,1024.7 740.2,1023.9 743.0,1023.3C745.8,1022.6 749.5,1021.3 753.4,1020.7C757.3,1020.1 759.9,1020.0 766.4,1019.9C772.9,1019.8 784.6,1020.0 792.4,1019.9C800.2,1019.8 806.2,1019.6 813.2,1019.4C820.2,1019.2 828.0,1019.6 834.1,1018.8C840.2,1018.0 844.5,1016.7 849.7,1014.7C854.9,1012.7 860.5,1009.4 865.3,1006.9C870.1,1004.4 874.2,1001.9 878.3,999.6C882.4,997.3 888.0,994.2 890.0,993.1" fill="none" stroke="#000" stroke-width="2.2"/><path d="M87.6,1149.0C89.7,1148.6 97.0,1146.7 100.4,1146.5C103.8,1146.3 104.0,1146.0 108.1,1147.8C112.2,1149.6 120.2,1157.5 124.9,1157.5C129.6,1157.5 132.3,1151.3 136.4,1147.8C140.5,1144.2 145.0,1138.9 149.3,1136.2C153.6,1133.5 157.9,1132.0 162.2,1131.8C166.5,1131.6 170.7,1133.2 175.0,1134.9C179.3,1136.6 184.5,1141.4 187.9,1141.8C191.3,1142.2 191.8,1140.9 195.6,1137.5C199.4,1134.1 207.2,1124.2 211.0,1121.5C214.8,1118.8 214.8,1120.5 218.7,1121.5C222.6,1122.5 229.0,1125.3 234.2,1127.2C239.3,1129.1 245.8,1132.4 249.6,1132.8C253.4,1133.2 253.9,1132.4 257.3,1129.8C260.7,1127.2 265.5,1120.9 270.2,1117.4C274.9,1113.9 280.9,1109.4 285.6,1108.7C290.3,1108.0 293.8,1111.2 298.5,1113.0C303.2,1114.8 310.5,1119.1 313.9,1119.5C317.3,1119.9 315.6,1119.0 319.0,1115.6C322.4,1112.2 330.6,1101.8 334.5,1098.9C338.4,1096.0 338.3,1097.9 342.2,1098.4C346.1,1098.9 352.0,1100.7 357.6,1102.0C363.2,1103.3 370.9,1106.0 375.6,1106.1C380.3,1106.2 381.6,1105.3 385.9,1102.8C390.2,1100.3 395.8,1094.1 401.4,1091.2C407.0,1088.3 414.3,1085.3 419.4,1085.3C424.5,1085.3 427.9,1089.0 432.2,1091.2C436.5,1093.4 440.8,1096.8 445.1,1098.4C449.4,1100.0 452.8,1101.1 457.9,1100.7C463.0,1100.3 469.4,1098.6 475.9,1096.3C482.4,1094.0 491.9,1087.5 496.9,1087.1C501.9,1086.7 502.3,1091.3 506.0,1094.1C509.7,1096.9 514.8,1102.4 519.1,1103.7C523.5,1105.0 527.8,1103.2 532.1,1101.9C536.4,1100.6 540.6,1097.6 545.1,1095.9C549.6,1094.2 555.1,1091.8 559.4,1092.0C563.7,1092.2 567.0,1094.7 571.1,1097.2C575.2,1099.7 579.8,1104.8 584.1,1107.1C588.5,1109.4 592.9,1110.7 597.2,1111.0C601.6,1111.3 605.4,1109.9 610.2,1108.9C615.0,1107.9 619.7,1106.0 625.8,1105.0C631.9,1104.0 640.5,1102.7 646.6,1102.7C652.7,1102.7 656.8,1103.8 662.2,1105.0C667.6,1106.2 674.0,1110.4 679.2,1110.2C684.4,1110.0 687.6,1105.7 693.5,1103.7C699.4,1101.8 709.1,1098.8 714.3,1098.5C719.5,1098.2 721.0,1099.4 724.7,1101.9C728.4,1104.4 732.5,1112.7 736.4,1113.6C740.3,1114.5 744.0,1108.8 748.1,1107.1C752.2,1105.4 756.0,1103.8 761.2,1103.2C766.4,1102.6 774.2,1103.3 779.4,1103.7C784.6,1104.1 787.4,1105.5 792.4,1105.8C797.4,1106.1 804.9,1105.1 809.3,1105.8C813.6,1106.5 814.8,1108.0 818.5,1109.7C822.2,1111.4 826.7,1114.2 831.5,1115.7C836.3,1117.2 841.9,1118.6 847.1,1118.8C852.3,1119.0 857.5,1118.0 862.7,1117.0C867.9,1116.0 873.8,1114.2 878.3,1113.1C882.8,1112.0 888.0,1110.9 890.0,1110.5" fill="none" stroke="#f00" stroke-width="2.2" stroke-dasharray="2.2 2.6"/><path d="M87.6,1191.0C90.6,1192.6 99.6,1197.3 105.6,1200.5C111.6,1203.7 118.5,1208.1 123.6,1210.0C128.7,1211.9 130.4,1211.0 136.4,1212.0C142.4,1213.0 153.6,1214.5 159.6,1215.9C165.6,1217.3 167.7,1218.4 172.4,1220.3C177.1,1222.2 182.8,1226.1 187.9,1227.5C193.1,1228.9 198.6,1228.2 203.3,1228.8C208.0,1229.4 211.0,1229.8 216.2,1231.3C221.3,1232.8 228.2,1236.0 234.2,1237.7C240.2,1239.4 246.2,1240.7 252.2,1241.6C258.2,1242.5 264.6,1242.3 270.2,1242.9C275.8,1243.5 280.6,1244.0 285.6,1245.0C290.6,1246.0 294.8,1247.0 300.0,1249.1C305.2,1251.1 311.2,1255.6 316.8,1257.3C322.4,1259.0 327.7,1257.5 333.6,1259.1C339.5,1260.6 345.5,1264.3 352.3,1266.6C359.1,1268.8 367.2,1271.6 374.7,1272.6C382.2,1273.6 389.7,1272.7 397.1,1272.6C404.6,1272.5 411.9,1272.0 419.4,1272.2C426.8,1272.5 433.7,1273.5 441.8,1274.1C449.9,1274.7 461.1,1275.9 468.0,1275.9C474.9,1276.0 477.3,1275.1 482.9,1274.4C488.5,1273.7 496.0,1271.5 501.6,1271.5C507.2,1271.5 510.3,1274.4 516.5,1274.1C522.7,1273.8 531.4,1271.3 538.9,1269.6C546.4,1267.9 553.8,1265.9 561.3,1264.0C568.8,1262.1 576.9,1259.8 583.7,1258.4C590.6,1257.0 596.8,1255.7 602.4,1255.4C608.0,1255.1 611.7,1255.7 617.3,1256.5C622.9,1257.3 629.1,1258.7 635.9,1260.3C642.7,1261.9 651.4,1264.4 658.3,1265.9C665.1,1267.5 670.8,1269.4 677.0,1269.6C683.2,1269.8 688.9,1267.4 695.7,1267.0C702.6,1266.6 711.3,1266.5 718.1,1267.0C724.9,1267.5 730.5,1270.5 736.7,1270.3C742.9,1270.1 749.2,1266.7 755.4,1265.9C761.6,1265.1 767.2,1265.1 774.1,1265.5C781.0,1265.9 789.7,1267.6 796.5,1268.1C803.3,1268.6 809.5,1266.9 815.1,1268.5C820.7,1270.1 823.9,1275.0 830.1,1277.8C836.3,1280.6 845.7,1282.9 852.5,1285.3C859.3,1287.7 865.2,1290.0 871.1,1292.0C877.0,1294.0 885.2,1296.7 888.0,1297.6" fill="none" stroke="#00f" stroke-width="2.2" stroke-dasharray="9 5.5"/><text x="80.5" y="1350.3" font-size="25" text-anchor="end" fill="#000">-400</text><text x="80.5" y="1270" font-size="25" text-anchor="end" fill="#000">-200</text><text x="80.5" y="1189.7" font-size="25" text-anchor="end" fill="#000">0</text><text x="80.5" y="1109.4" font-size="25" text-anchor="end" fill="#000">200</text><text x="80.5" y="1029.1" font-size="25" text-anchor="end" fill="#000">400</text><text x="80.5" y="948.7" font-size="25" text-anchor="end" fill="#000">600</text><text x="88" y="1370.7" font-size="24" text-anchor="middle" fill="#000">0</text><text x="256.8" y="1370.7" font-size="24" text-anchor="middle" fill="#000">1</text><text x="425.5" y="1370.7" font-size="24" text-anchor="middle" fill="#000">2</text><text x="594.2" y="1370.7" font-size="24" text-anchor="middle" fill="#000">3</text><text x="763" y="1370.7" font-size="24" text-anchor="middle" fill="#000">4</text><text x="459.4" y="1400.4" font-size="28" text-anchor="start" textLength="8" lengthAdjust="spacingAndGlyphs" fill="#000">t</text><text x="481.4" y="1400.4" font-size="28" text-anchor="start" textLength="35.2" lengthAdjust="spacingAndGlyphs" fill="#000">[ps]</text><text transform="translate(24.6,1206.6) rotate(-90)" font-size="28" text-anchor="start" textLength="50.6" lengthAdjust="spacingAndGlyphs" fill="#000">W<tspan font-size="21" dy="5">x,y</tspan></text><text transform="translate(24.6,1145) rotate(-90)" font-size="28" text-anchor="start" textLength="69.7" lengthAdjust="spacingAndGlyphs" fill="#000">[MeV]</text><text x="236.6" y="983.7" font-size="30" text-anchor="start" font-weight="bold" textLength="26" lengthAdjust="spacingAndGlyphs" fill="#000">g)</text><rect x="104.3" y="968.1" width="93.3" height="98.8" fill="#fff" stroke="#b4b4b4" stroke-width="1.2"/><path d="M107.4 986.5H127.8" stroke="#000" stroke-width="2.2"/><path d="M107.4 1022.1H128.4" stroke="#00f" stroke-width="2.2" stroke-dasharray="8.5 7"/><path d="M107.4 1053.1H127.5" stroke="#f00" stroke-width="2.2" stroke-dasharray="2.2 2.6"/><text x="131.1" y="989.2" font-size="22" text-anchor="start" textLength="29" lengthAdjust="spacingAndGlyphs" fill="#000">W<tspan font-size="20" dy="10">y</tspan></text><text x="131.1" y="1025.4" font-size="22" text-anchor="start" textLength="29" lengthAdjust="spacingAndGlyphs" fill="#000">W<tspan font-size="20" dy="10">x</tspan></text><text x="131.1" y="1060.3" font-size="22" text-anchor="start" textLength="62.6" lengthAdjust="spacingAndGlyphs" fill="#000">Energy</text><g clip-path="url(#hclip)"><path d="M1323.0,1277.1 1352.7,1277.1 1352.7,1271.7 1350.0,1271.7 1350.0,1263.6 1347.3,1263.6 1347.3,1255.5 1341.9,1255.5 1341.9,1250.1 1336.5,1250.1 1336.5,1242.0 1333.8,1242.0 1333.8,1236.6 1331.1,1236.6 1331.1,1228.5 1336.5,1228.5 1336.5,1223.1 1331.1,1223.1 1331.1,1215.0 1325.7,1215.0 1325.7,1209.6 1317.6,1209.6 1317.6,1201.5 1320.3,1201.5 1320.3,1196.1 1320.3,1196.1 1320.3,1188.0 1317.6,1188.0 1317.6,1182.6 1314.9,1182.6 1314.9,1174.5 1314.9,1174.5 1314.9,1169.1 1317.6,1169.1 1317.6,1161.0 1309.5,1161.0 1309.5,1155.6 1298.7,1155.6 1298.7,1147.5 1290.6,1147.5 1290.6,1142.1 1287.9,1142.1 1287.9,1134.0 1282.5,1134.0 1282.5,1128.6 1279.8,1128.6 1279.8,1120.5 1274.4,1120.5 1274.4,1115.1 1271.7,1115.1 1271.7,1107.0 1269.0,1107.0 1269.0,1101.6 1263.6,1101.6 1263.6,1093.5 1263.6,1093.5 1263.6,1088.1 1263.6,1088.1 1263.6,1080.0 1260.9,1080.0 1260.9,1074.6 1255.5,1074.6 1255.5,1066.5 1252.8,1066.5 1252.8,1061.1 1247.4,1061.1 1247.4,1053.0 1239.3,1053.0 1239.3,1047.6 1236.6,1047.6 1236.6,1039.5 1236.6,1039.5 1236.6,1034.1 1236.6,1034.1 1236.6,1026.0 1231.2,1026.0 1231.2,1020.6 1220.4,1020.6 1220.4,1012.5 1206.9,1012.5 1206.9,1007.1 1196.1,1007.1 1196.1,999.0 1185.3,999.0 1185.3,990.9 1182.6,990.9 1182.6,985.5 1179.9,985.5 1179.9,977.4 1179.9,977.4 1179.9,972.0 1169.1,972.0 1169.1,963.9 1158.3,963.9 1158.3,958.5 1155.6,958.5 1155.6,958.5 1158.3,958.5 1158.3,963.9 1150.2,963.9 1150.2,972.0 1147.5,972.0 1147.5,977.4 1147.5,977.4 1147.5,985.5 1144.8,985.5 1144.8,990.9 1147.5,990.9 1147.5,999.0 1142.1,999.0 1142.1,1007.1 1142.1,1007.1 1142.1,1012.5 1139.4,1012.5 1139.4,1020.6 1144.8,1020.6 1144.8,1026.0 1144.8,1026.0 1144.8,1034.1 1144.8,1034.1 1144.8,1039.5 1139.4,1039.5 1139.4,1047.6 1139.4,1047.6 1139.4,1053.0 1139.4,1053.0 1139.4,1061.1 1144.8,1061.1 1144.8,1066.5 1150.2,1066.5 1150.2,1074.6 1155.6,1074.6 1155.6,1080.0 1158.3,1080.0 1158.3,1088.1 1163.7,1088.1 1163.7,1093.5 1161.0,1093.5 1161.0,1101.6 1166.4,1101.6 1166.4,1107.0 1163.7,1107.0 1163.7,1115.1 1161.0,1115.1 1161.0,1120.5 1169.1,1120.5 1169.1,1128.6 1174.5,1128.6 1174.5,1134.0 1182.6,1134.0 1182.6,1142.1 1188.0,1142.1 1188.0,1147.5 1196.1,1147.5 1196.1,1155.6 1201.5,1155.6 1201.5,1161.0 1209.6,1161.0 1209.6,1169.1 1215.0,1169.1 1215.0,1174.5 1223.1,1174.5 1223.1,1182.6 1228.5,1182.6 1228.5,1188.0 1236.6,1188.0 1236.6,1196.1 1242.0,1196.1 1242.0,1201.5 1250.1,1201.5 1250.1,1209.6 1255.5,1209.6 1255.5,1215.0 1263.6,1215.0 1263.6,1223.1 1269.0,1223.1 1269.0,1228.5 1277.1,1228.5 1277.1,1236.6 1282.5,1236.6 1282.5,1242.0 1290.6,1242.0 1290.6,1250.1 1296.0,1250.1 1296.0,1255.5 1304.1,1255.5 1304.1,1263.6 1309.5,1263.6 1309.5,1271.7 1317.6,1271.7 1317.6,1277.1Z" fill="#e6e6e6"/><path d="M1320.3,1277.1 1341.9,1277.1 1341.9,1269.0 1344.6,1269.0 1344.6,1263.6 1339.2,1263.6 1339.2,1255.5 1339.2,1255.5 1339.2,1250.1 1339.2,1250.1 1339.2,1242.0 1336.5,1242.0 1336.5,1236.6 1336.5,1236.6 1336.5,1228.5 1333.8,1228.5 1333.8,1223.1 1331.1,1223.1 1331.1,1215.0 1325.7,1215.0 1325.7,1209.6 1323.0,1209.6 1323.0,1201.5 1325.7,1201.5 1325.7,1196.1 1323.0,1196.1 1323.0,1188.0 1314.9,1188.0 1314.9,1182.6 1309.5,1182.6 1309.5,1174.5 1312.2,1174.5 1312.2,1169.1 1309.5,1169.1 1309.5,1161.0 1306.8,1161.0 1306.8,1155.6 1304.1,1155.6 1304.1,1147.5 1304.1,1147.5 1304.1,1142.1 1296.0,1142.1 1296.0,1134.0 1285.2,1134.0 1285.2,1128.6 1277.1,1128.6 1277.1,1120.5 1277.1,1120.5 1277.1,1115.1 1274.4,1115.1 1274.4,1107.0 1277.1,1107.0 1277.1,1101.6 1266.3,1101.6 1266.3,1093.5 1263.6,1093.5 1263.6,1088.1 1260.9,1088.1 1260.9,1082.7 1258.2,1082.7 1258.2,1074.6 1250.1,1074.6 1250.1,1069.2 1247.4,1069.2 1247.4,1061.1 1242.0,1061.1 1242.0,1055.7 1236.6,1055.7 1236.6,1047.6 1231.2,1047.6 1231.2,1042.2 1231.2,1042.2 1231.2,1034.1 1228.5,1034.1 1228.5,1028.7 1220.4,1028.7 1220.4,1020.6 1217.7,1020.6 1217.7,1015.2 1206.9,1015.2 1206.9,1007.1 1198.8,1007.1 1198.8,1001.7 1188.0,1001.7 1188.0,993.6 1182.6,993.6 1182.6,988.2 1174.5,988.2 1174.5,980.1 1169.1,980.1 1169.1,974.7 1161.0,974.7 1161.0,966.6 1158.3,966.6 1158.3,961.2 1152.9,961.2 1152.9,961.2 1150.2,961.2 1150.2,966.6 1144.8,966.6 1144.8,974.7 1144.8,974.7 1144.8,980.1 1139.4,980.1 1139.4,988.2 1139.4,988.2 1139.4,993.6 1144.8,993.6 1144.8,1001.7 1147.5,1001.7 1147.5,1007.1 1147.5,1007.1 1147.5,1015.2 1144.8,1015.2 1144.8,1020.6 1144.8,1020.6 1144.8,1028.7 1144.8,1028.7 1144.8,1034.1 1142.1,1034.1 1142.1,1042.2 1139.4,1042.2 1139.4,1047.6 1142.1,1047.6 1142.1,1055.7 1142.1,1055.7 1142.1,1061.1 1142.1,1061.1 1142.1,1069.2 1139.4,1069.2 1139.4,1074.6 1147.5,1074.6 1147.5,1082.7 1152.9,1082.7 1152.9,1088.1 1155.6,1088.1 1155.6,1093.5 1152.9,1093.5 1152.9,1101.6 1155.6,1101.6 1155.6,1107.0 1155.6,1107.0 1155.6,1115.1 1166.4,1115.1 1166.4,1120.5 1171.8,1120.5 1171.8,1128.6 1174.5,1128.6 1174.5,1134.0 1182.6,1134.0 1182.6,1142.1 1188.0,1142.1 1188.0,1147.5 1196.1,1147.5 1196.1,1155.6 1201.5,1155.6 1201.5,1161.0 1209.6,1161.0 1209.6,1169.1 1215.0,1169.1 1215.0,1174.5 1223.1,1174.5 1223.1,1182.6 1228.5,1182.6 1228.5,1188.0 1236.6,1188.0 1236.6,1196.1 1242.0,1196.1 1242.0,1201.5 1250.1,1201.5 1250.1,1209.6 1255.5,1209.6 1255.5,1215.0 1263.6,1215.0 1263.6,1223.1 1269.0,1223.1 1269.0,1228.5 1277.1,1228.5 1277.1,1236.6 1282.5,1236.6 1282.5,1242.0 1290.6,1242.0 1290.6,1250.1 1296.0,1250.1 1296.0,1255.5 1304.1,1255.5 1304.1,1263.6 1309.5,1263.6 1309.5,1269.0 1317.6,1269.0 1317.6,1277.1Z" fill="#d2d2dc"/><path d="M1320.3,1274.4 1341.9,1274.4 1341.9,1269.0 1341.9,1269.0 1341.9,1260.9 1333.8,1260.9 1333.8,1255.5 1336.5,1255.5 1336.5,1247.4 1331.1,1247.4 1331.1,1242.0 1331.1,1242.0 1331.1,1233.9 1331.1,1233.9 1331.1,1228.5 1328.4,1228.5 1328.4,1220.4 1331.1,1220.4 1331.1,1215.0 1331.1,1215.0 1331.1,1209.6 1325.7,1209.6 1325.7,1201.5 1317.6,1201.5 1317.6,1196.1 1312.2,1196.1 1312.2,1188.0 1312.2,1188.0 1312.2,1182.6 1309.5,1182.6 1309.5,1174.5 1304.1,1174.5 1304.1,1169.1 1304.1,1169.1 1304.1,1161.0 1304.1,1161.0 1304.1,1155.6 1301.4,1155.6 1301.4,1147.5 1298.7,1147.5 1298.7,1142.1 1290.6,1142.1 1290.6,1136.7 1287.9,1136.7 1287.9,1128.6 1279.8,1128.6 1279.8,1123.2 1277.1,1123.2 1277.1,1115.1 1274.4,1115.1 1274.4,1109.7 1277.1,1109.7 1277.1,1101.6 1274.4,1101.6 1274.4,1096.2 1266.3,1096.2 1266.3,1088.1 1260.9,1088.1 1260.9,1082.7 1255.5,1082.7 1255.5,1074.6 1250.1,1074.6 1250.1,1069.2 1244.7,1069.2 1244.7,1063.8 1244.7,1063.8 1244.7,1055.7 1244.7,1055.7 1244.7,1050.3 1239.3,1050.3 1239.3,1042.2 1233.9,1042.2 1233.9,1036.8 1225.8,1036.8 1225.8,1028.7 1217.7,1028.7 1217.7,1023.3 1209.6,1023.3 1209.6,1015.2 1204.2,1015.2 1204.2,1009.8 1198.8,1009.8 1198.8,1001.7 1190.7,1001.7 1190.7,996.3 1185.3,996.3 1185.3,990.9 1182.6,990.9 1182.6,982.8 1174.5,982.8 1174.5,977.4 1169.1,977.4 1169.1,969.3 1158.3,969.3 1158.3,963.9 1152.9,963.9 1152.9,963.9 1147.5,963.9 1147.5,969.3 1150.2,969.3 1150.2,977.4 1150.2,977.4 1150.2,982.8 1147.5,982.8 1147.5,990.9 1147.5,990.9 1147.5,996.3 1144.8,996.3 1144.8,1001.7 1144.8,1001.7 1144.8,1009.8 1142.1,1009.8 1142.1,1015.2 1144.8,1015.2 1144.8,1023.3 1144.8,1023.3 1144.8,1028.7 1144.8,1028.7 1144.8,1036.8 1144.8,1036.8 1144.8,1042.2 1147.5,1042.2 1147.5,1050.3 1150.2,1050.3 1150.2,1055.7 1152.9,1055.7 1152.9,1063.8 1150.2,1063.8 1150.2,1069.2 1150.2,1069.2 1150.2,1074.6 1155.6,1074.6 1155.6,1082.7 1161.0,1082.7 1161.0,1088.1 1163.7,1088.1 1163.7,1096.2 1163.7,1096.2 1163.7,1101.6 1161.0,1101.6 1161.0,1109.7 1161.0,1109.7 1161.0,1115.1 1161.0,1115.1 1161.0,1123.2 1169.1,1123.2 1169.1,1128.6 1179.9,1128.6 1179.9,1136.7 1188.0,1136.7 1188.0,1142.1 1188.0,1142.1 1188.0,1147.5 1196.1,1147.5 1196.1,1155.6 1201.5,1155.6 1201.5,1161.0 1209.6,1161.0 1209.6,1169.1 1215.0,1169.1 1215.0,1174.5 1223.1,1174.5 1223.1,1182.6 1228.5,1182.6 1228.5,1188.0 1236.6,1188.0 1236.6,1196.1 1242.0,1196.1 1242.0,1201.5 1247.4,1201.5 1247.4,1209.6 1255.5,1209.6 1255.5,1215.0 1260.9,1215.0 1260.9,1220.4 1269.0,1220.4 1269.0,1228.5 1274.4,1228.5 1274.4,1233.9 1282.5,1233.9 1282.5,1242.0 1287.9,1242.0 1287.9,1247.4 1296.0,1247.4 1296.0,1255.5 1301.4,1255.5 1301.4,1260.9 1309.5,1260.9 1309.5,1269.0 1314.9,1269.0 1314.9,1274.4Z" fill="#bebed7"/><path d="M1317.6,1274.4 1341.9,1274.4 1341.9,1266.3 1341.9,1266.3 1341.9,1260.9 1341.9,1260.9 1341.9,1252.8 1339.2,1252.8 1339.2,1247.4 1336.5,1247.4 1336.5,1239.3 1331.1,1239.3 1331.1,1233.9 1331.1,1233.9 1331.1,1228.5 1328.4,1228.5 1328.4,1220.4 1331.1,1220.4 1331.1,1215.0 1328.4,1215.0 1328.4,1206.9 1323.0,1206.9 1323.0,1201.5 1320.3,1201.5 1320.3,1193.4 1320.3,1193.4 1320.3,1188.0 1320.3,1188.0 1320.3,1182.6 1314.9,1182.6 1314.9,1174.5 1312.2,1174.5 1312.2,1169.1 1304.1,1169.1 1304.1,1161.0 1304.1,1161.0 1304.1,1155.6 1301.4,1155.6 1301.4,1147.5 1296.0,1147.5 1296.0,1142.1 1287.9,1142.1 1287.9,1136.7 1282.5,1136.7 1282.5,1128.6 1277.1,1128.6 1277.1,1123.2 1277.1,1123.2 1277.1,1115.1 1274.4,1115.1 1274.4,1109.7 1269.0,1109.7 1269.0,1104.3 1266.3,1104.3 1266.3,1096.2 1260.9,1096.2 1260.9,1090.8 1260.9,1090.8 1260.9,1082.7 1252.8,1082.7 1252.8,1077.3 1250.1,1077.3 1250.1,1069.2 1247.4,1069.2 1247.4,1063.8 1242.0,1063.8 1242.0,1058.4 1236.6,1058.4 1236.6,1050.3 1231.2,1050.3 1231.2,1044.9 1228.5,1044.9 1228.5,1036.8 1225.8,1036.8 1225.8,1031.4 1220.4,1031.4 1220.4,1023.3 1217.7,1023.3 1217.7,1017.9 1209.6,1017.9 1209.6,1012.5 1206.9,1012.5 1206.9,1004.4 1196.1,1004.4 1196.1,999.0 1188.0,999.0 1188.0,990.9 1177.2,990.9 1177.2,985.5 1171.8,985.5 1171.8,977.4 1166.4,977.4 1166.4,972.0 1158.3,972.0 1158.3,966.6 1152.9,966.6 1152.9,966.6 1152.9,966.6 1152.9,972.0 1152.9,972.0 1152.9,977.4 1155.6,977.4 1155.6,985.5 1152.9,985.5 1152.9,990.9 1152.9,990.9 1152.9,999.0 1147.5,999.0 1147.5,1004.4 1147.5,1004.4 1147.5,1012.5 1147.5,1012.5 1147.5,1017.9 1150.2,1017.9 1150.2,1023.3 1152.9,1023.3 1152.9,1031.4 1147.5,1031.4 1147.5,1036.8 1144.8,1036.8 1144.8,1044.9 1147.5,1044.9 1147.5,1050.3 1150.2,1050.3 1150.2,1058.4 1152.9,1058.4 1152.9,1063.8 1152.9,1063.8 1152.9,1069.2 1150.2,1069.2 1150.2,1077.3 1150.2,1077.3 1150.2,1082.7 1152.9,1082.7 1152.9,1090.8 1158.3,1090.8 1158.3,1096.2 1163.7,1096.2 1163.7,1104.3 1161.0,1104.3 1161.0,1109.7 1163.7,1109.7 1163.7,1115.1 1166.4,1115.1 1166.4,1123.2 1171.8,1123.2 1171.8,1128.6 1179.9,1128.6 1179.9,1136.7 1188.0,1136.7 1188.0,1142.1 1188.0,1142.1 1188.0,1147.5 1196.1,1147.5 1196.1,1155.6 1201.5,1155.6 1201.5,1161.0 1209.6,1161.0 1209.6,1169.1 1215.0,1169.1 1215.0,1174.5 1223.1,1174.5 1223.1,1182.6 1228.5,1182.6 1228.5,1188.0 1233.9,1188.0 1233.9,1193.4 1242.0,1193.4 1242.0,1201.5 1247.4,1201.5 1247.4,1206.9 1255.5,1206.9 1255.5,1215.0 1260.9,1215.0 1260.9,1220.4 1269.0,1220.4 1269.0,1228.5 1274.4,1228.5 1274.4,1233.9 1279.8,1233.9 1279.8,1239.3 1287.9,1239.3 1287.9,1247.4 1293.3,1247.4 1293.3,1252.8 1301.4,1252.8 1301.4,1260.9 1306.8,1260.9 1306.8,1266.3 1314.9,1266.3 1314.9,1274.4Z" fill="#aaaad2"/><path d="M1314.9,1271.7 1333.8,1271.7 1333.8,1266.3 1333.8,1266.3 1333.8,1258.2 1331.1,1258.2 1331.1,1252.8 1331.1,1252.8 1331.1,1247.4 1328.4,1247.4 1328.4,1239.3 1325.7,1239.3 1325.7,1233.9 1325.7,1233.9 1325.7,1228.5 1325.7,1228.5 1325.7,1223.1 1323.0,1223.1 1323.0,1215.0 1323.0,1215.0 1323.0,1209.6 1320.3,1209.6 1320.3,1204.2 1317.6,1204.2 1317.6,1198.8 1312.2,1198.8 1312.2,1190.7 1309.5,1190.7 1309.5,1185.3 1309.5,1185.3 1309.5,1179.9 1306.8,1179.9 1306.8,1171.8 1306.8,1171.8 1306.8,1166.4 1304.1,1166.4 1304.1,1161.0 1301.4,1161.0 1301.4,1155.6 1296.0,1155.6 1296.0,1147.5 1290.6,1147.5 1290.6,1142.1 1287.9,1142.1 1287.9,1136.7 1285.2,1136.7 1285.2,1128.6 1279.8,1128.6 1279.8,1123.2 1274.4,1123.2 1274.4,1117.8 1271.7,1117.8 1271.7,1112.4 1269.0,1112.4 1269.0,1104.3 1266.3,1104.3 1266.3,1098.9 1263.6,1098.9 1263.6,1093.5 1258.2,1093.5 1258.2,1088.1 1252.8,1088.1 1252.8,1080.0 1247.4,1080.0 1247.4,1074.6 1244.7,1074.6 1244.7,1069.2 1239.3,1069.2 1239.3,1061.1 1236.6,1061.1 1236.6,1055.7 1231.2,1055.7 1231.2,1050.3 1228.5,1050.3 1228.5,1044.9 1220.4,1044.9 1220.4,1036.8 1217.7,1036.8 1217.7,1031.4 1212.3,1031.4 1212.3,1026.0 1204.2,1026.0 1204.2,1017.9 1198.8,1017.9 1198.8,1012.5 1193.4,1012.5 1193.4,1007.1 1188.0,1007.1 1188.0,1001.7 1185.3,1001.7 1185.3,993.6 1174.5,993.6 1174.5,988.2 1163.7,988.2 1163.7,982.8 1158.3,982.8 1158.3,982.8 1155.6,982.8 1155.6,988.2 1155.6,988.2 1155.6,993.6 1155.6,993.6 1155.6,1001.7 1155.6,1001.7 1155.6,1007.1 1152.9,1007.1 1152.9,1012.5 1152.9,1012.5 1152.9,1017.9 1152.9,1017.9 1152.9,1026.0 1150.2,1026.0 1150.2,1031.4 1152.9,1031.4 1152.9,1036.8 1152.9,1036.8 1152.9,1044.9 1155.6,1044.9 1155.6,1050.3 1155.6,1050.3 1155.6,1055.7 1158.3,1055.7 1158.3,1061.1 1155.6,1061.1 1155.6,1069.2 1155.6,1069.2 1155.6,1074.6 1155.6,1074.6 1155.6,1080.0 1158.3,1080.0 1158.3,1088.1 1158.3,1088.1 1158.3,1093.5 1163.7,1093.5 1163.7,1098.9 1166.4,1098.9 1166.4,1104.3 1169.1,1104.3 1169.1,1112.4 1169.1,1112.4 1169.1,1117.8 1171.8,1117.8 1171.8,1123.2 1177.2,1123.2 1177.2,1128.6 1179.9,1128.6 1179.9,1136.7 1188.0,1136.7 1188.0,1142.1 1193.4,1142.1 1193.4,1147.5 1196.1,1147.5 1196.1,1155.6 1201.5,1155.6 1201.5,1161.0 1206.9,1161.0 1206.9,1166.4 1212.3,1166.4 1212.3,1171.8 1220.4,1171.8 1220.4,1179.9 1225.8,1179.9 1225.8,1185.3 1231.2,1185.3 1231.2,1190.7 1236.6,1190.7 1236.6,1198.8 1244.7,1198.8 1244.7,1204.2 1250.1,1204.2 1250.1,1209.6 1255.5,1209.6 1255.5,1215.0 1263.6,1215.0 1263.6,1223.1 1269.0,1223.1 1269.0,1228.5 1274.4,1228.5 1274.4,1233.9 1279.8,1233.9 1279.8,1239.3 1287.9,1239.3 1287.9,1247.4 1293.3,1247.4 1293.3,1252.8 1298.7,1252.8 1298.7,1258.2 1306.8,1258.2 1306.8,1266.3 1312.2,1266.3 1312.2,1271.7Z" fill="#9696cd"/><path d="M1314.9,1269.0 1333.8,1269.0 1333.8,1263.6 1333.8,1263.6 1333.8,1258.2 1331.1,1258.2 1331.1,1252.8 1328.4,1252.8 1328.4,1247.4 1328.4,1247.4 1328.4,1242.0 1328.4,1242.0 1328.4,1233.9 1328.4,1233.9 1328.4,1228.5 1325.7,1228.5 1325.7,1223.1 1325.7,1223.1 1325.7,1217.7 1323.0,1217.7 1323.0,1212.3 1320.3,1212.3 1320.3,1206.9 1317.6,1206.9 1317.6,1201.5 1314.9,1201.5 1314.9,1196.1 1309.5,1196.1 1309.5,1188.0 1306.8,1188.0 1306.8,1182.6 1304.1,1182.6 1304.1,1177.2 1304.1,1177.2 1304.1,1171.8 1301.4,1171.8 1301.4,1166.4 1298.7,1166.4 1298.7,1161.0 1296.0,1161.0 1296.0,1155.6 1293.3,1155.6 1293.3,1150.2 1290.6,1150.2 1290.6,1142.1 1285.2,1142.1 1285.2,1136.7 1282.5,1136.7 1282.5,1131.3 1277.1,1131.3 1277.1,1125.9 1274.4,1125.9 1274.4,1120.5 1271.7,1120.5 1271.7,1115.1 1269.0,1115.1 1269.0,1109.7 1266.3,1109.7 1266.3,1104.3 1260.9,1104.3 1260.9,1096.2 1258.2,1096.2 1258.2,1090.8 1252.8,1090.8 1252.8,1085.4 1250.1,1085.4 1250.1,1080.0 1244.7,1080.0 1244.7,1074.6 1242.0,1074.6 1242.0,1069.2 1236.6,1069.2 1236.6,1063.8 1231.2,1063.8 1231.2,1058.4 1225.8,1058.4 1225.8,1050.3 1220.4,1050.3 1220.4,1044.9 1215.0,1044.9 1215.0,1039.5 1212.3,1039.5 1212.3,1034.1 1206.9,1034.1 1206.9,1028.7 1201.5,1028.7 1201.5,1023.3 1196.1,1023.3 1196.1,1017.9 1190.7,1017.9 1190.7,1012.5 1182.6,1012.5 1182.6,1004.4 1174.5,1004.4 1174.5,999.0 1169.1,999.0 1169.1,999.0 1163.7,999.0 1163.7,1004.4 1163.7,1004.4 1163.7,1012.5 1161.0,1012.5 1161.0,1017.9 1161.0,1017.9 1161.0,1023.3 1161.0,1023.3 1161.0,1028.7 1161.0,1028.7 1161.0,1034.1 1161.0,1034.1 1161.0,1039.5 1161.0,1039.5 1161.0,1044.9 1158.3,1044.9 1158.3,1050.3 1158.3,1050.3 1158.3,1058.4 1155.6,1058.4 1155.6,1063.8 1158.3,1063.8 1158.3,1069.2 1158.3,1069.2 1158.3,1074.6 1158.3,1074.6 1158.3,1080.0 1158.3,1080.0 1158.3,1085.4 1158.3,1085.4 1158.3,1090.8 1161.0,1090.8 1161.0,1096.2 1166.4,1096.2 1166.4,1104.3 1171.8,1104.3 1171.8,1109.7 1174.5,1109.7 1174.5,1115.1 1177.2,1115.1 1177.2,1120.5 1177.2,1120.5 1177.2,1125.9 1179.9,1125.9 1179.9,1131.3 1182.6,1131.3 1182.6,1136.7 1188.0,1136.7 1188.0,1142.1 1193.4,1142.1 1193.4,1150.2 1196.1,1150.2 1196.1,1155.6 1201.5,1155.6 1201.5,1161.0 1206.9,1161.0 1206.9,1166.4 1212.3,1166.4 1212.3,1171.8 1217.7,1171.8 1217.7,1177.2 1223.1,1177.2 1223.1,1182.6 1228.5,1182.6 1228.5,1188.0 1236.6,1188.0 1236.6,1196.1 1242.0,1196.1 1242.0,1201.5 1247.4,1201.5 1247.4,1206.9 1252.8,1206.9 1252.8,1212.3 1258.2,1212.3 1258.2,1217.7 1263.6,1217.7 1263.6,1223.1 1269.0,1223.1 1269.0,1228.5 1274.4,1228.5 1274.4,1233.9 1282.5,1233.9 1282.5,1242.0 1287.9,1242.0 1287.9,1247.4 1293.3,1247.4 1293.3,1252.8 1298.7,1252.8 1298.7,1258.2 1304.1,1258.2 1304.1,1263.6 1309.5,1263.6 1309.5,1269.0Z" fill="#8282c8"/><path d="M1312.2,1269.0 1328.4,1269.0 1328.4,1263.6 1325.7,1263.6 1325.7,1258.2 1325.7,1258.2 1325.7,1252.8 1323.0,1252.8 1323.0,1247.4 1323.0,1247.4 1323.0,1242.0 1323.0,1242.0 1323.0,1236.6 1323.0,1236.6 1323.0,1231.2 1320.3,1231.2 1320.3,1225.8 1320.3,1225.8 1320.3,1220.4 1320.3,1220.4 1320.3,1215.0 1317.6,1215.0 1317.6,1209.6 1314.9,1209.6 1314.9,1204.2 1314.9,1204.2 1314.9,1198.8 1312.2,1198.8 1312.2,1193.4 1309.5,1193.4 1309.5,1188.0 1306.8,1188.0 1306.8,1182.6 1306.8,1182.6 1306.8,1177.2 1301.4,1177.2 1301.4,1171.8 1298.7,1171.8 1298.7,1166.4 1296.0,1166.4 1296.0,1161.0 1293.3,1161.0 1293.3,1155.6 1293.3,1155.6 1293.3,1150.2 1287.9,1150.2 1287.9,1144.8 1282.5,1144.8 1282.5,1139.4 1279.8,1139.4 1279.8,1134.0 1277.1,1134.0 1277.1,1128.6 1274.4,1128.6 1274.4,1123.2 1269.0,1123.2 1269.0,1117.8 1266.3,1117.8 1266.3,1112.4 1260.9,1112.4 1260.9,1107.0 1258.2,1107.0 1258.2,1101.6 1255.5,1101.6 1255.5,1096.2 1252.8,1096.2 1252.8,1093.5 1250.1,1093.5 1250.1,1088.1 1244.7,1088.1 1244.7,1082.7 1242.0,1082.7 1242.0,1077.3 1236.6,1077.3 1236.6,1071.9 1231.2,1071.9 1231.2,1066.5 1228.5,1066.5 1228.5,1061.1 1223.1,1061.1 1223.1,1055.7 1220.4,1055.7 1220.4,1050.3 1212.3,1050.3 1212.3,1044.9 1206.9,1044.9 1206.9,1039.5 1201.5,1039.5 1201.5,1034.1 1196.1,1034.1 1196.1,1028.7 1190.7,1028.7 1190.7,1023.3 1182.6,1023.3 1182.6,1017.9 1177.2,1017.9 1177.2,1017.9 1174.5,1017.9 1174.5,1023.3 1171.8,1023.3 1171.8,1028.7 1171.8,1028.7 1171.8,1034.1 1169.1,1034.1 1169.1,1039.5 1169.1,1039.5 1169.1,1044.9 1171.8,1044.9 1171.8,1050.3 1169.1,1050.3 1169.1,1055.7 1166.4,1055.7 1166.4,1061.1 1166.4,1061.1 1166.4,1066.5 1163.7,1066.5 1163.7,1071.9 1163.7,1071.9 1163.7,1077.3 1163.7,1077.3 1163.7,1082.7 1163.7,1082.7 1163.7,1088.1 1163.7,1088.1 1163.7,1093.5 1166.4,1093.5 1166.4,1096.2 1166.4,1096.2 1166.4,1101.6 1169.1,1101.6 1169.1,1107.0 1171.8,1107.0 1171.8,1112.4 1174.5,1112.4 1174.5,1117.8 1179.9,1117.8 1179.9,1123.2 1182.6,1123.2 1182.6,1128.6 1185.3,1128.6 1185.3,1134.0 1188.0,1134.0 1188.0,1139.4 1190.7,1139.4 1190.7,1144.8 1190.7,1144.8 1190.7,1150.2 1196.1,1150.2 1196.1,1155.6 1201.5,1155.6 1201.5,1161.0 1206.9,1161.0 1206.9,1166.4 1212.3,1166.4 1212.3,1171.8 1217.7,1171.8 1217.7,1177.2 1223.1,1177.2 1223.1,1182.6 1228.5,1182.6 1228.5,1188.0 1233.9,1188.0 1233.9,1193.4 1239.3,1193.4 1239.3,1198.8 1244.7,1198.8 1244.7,1204.2 1250.1,1204.2 1250.1,1209.6 1255.5,1209.6 1255.5,1215.0 1260.9,1215.0 1260.9,1220.4 1266.3,1220.4 1266.3,1225.8 1271.7,1225.8 1271.7,1231.2 1277.1,1231.2 1277.1,1236.6 1282.5,1236.6 1282.5,1242.0 1287.9,1242.0 1287.9,1247.4 1293.3,1247.4 1293.3,1252.8 1298.7,1252.8 1298.7,1258.2 1301.4,1258.2 1301.4,1263.6 1306.8,1263.6 1306.8,1269.0Z" fill="#6e6ebe"/><path d="M1309.5,1266.3 1323.0,1266.3 1323.0,1260.9 1323.0,1260.9 1323.0,1255.5 1320.3,1255.5 1320.3,1250.1 1320.3,1250.1 1320.3,1247.4 1320.3,1247.4 1320.3,1242.0 1320.3,1242.0 1320.3,1236.6 1320.3,1236.6 1320.3,1231.2 1317.6,1231.2 1317.6,1225.8 1317.6,1225.8 1317.6,1220.4 1317.6,1220.4 1317.6,1217.7 1314.9,1217.7 1314.9,1212.3 1314.9,1212.3 1314.9,1206.9 1312.2,1206.9 1312.2,1201.5 1309.5,1201.5 1309.5,1196.1 1309.5,1196.1 1309.5,1193.4 1306.8,1193.4 1306.8,1188.0 1304.1,1188.0 1304.1,1182.6 1301.4,1182.6 1301.4,1177.2 1298.7,1177.2 1298.7,1171.8 1296.0,1171.8 1296.0,1166.4 1296.0,1166.4 1296.0,1163.7 1293.3,1163.7 1293.3,1158.3 1290.6,1158.3 1290.6,1152.9 1285.2,1152.9 1285.2,1147.5 1282.5,1147.5 1282.5,1142.1 1279.8,1142.1 1279.8,1139.4 1274.4,1139.4 1274.4,1134.0 1271.7,1134.0 1271.7,1128.6 1269.0,1128.6 1269.0,1123.2 1266.3,1123.2 1266.3,1117.8 1260.9,1117.8 1260.9,1112.4 1258.2,1112.4 1258.2,1109.7 1255.5,1109.7 1255.5,1104.3 1252.8,1104.3 1252.8,1098.9 1250.1,1098.9 1250.1,1093.5 1247.4,1093.5 1247.4,1088.1 1242.0,1088.1 1242.0,1085.4 1239.3,1085.4 1239.3,1080.0 1233.9,1080.0 1233.9,1074.6 1231.2,1074.6 1231.2,1069.2 1225.8,1069.2 1225.8,1063.8 1220.4,1063.8 1220.4,1058.4 1215.0,1058.4 1215.0,1055.7 1209.6,1055.7 1209.6,1050.3 1204.2,1050.3 1204.2,1044.9 1196.1,1044.9 1196.1,1039.5 1190.7,1039.5 1190.7,1034.1 1185.3,1034.1 1185.3,1034.1 1182.6,1034.1 1182.6,1039.5 1179.9,1039.5 1179.9,1044.9 1177.2,1044.9 1177.2,1050.3 1177.2,1050.3 1177.2,1055.7 1177.2,1055.7 1177.2,1058.4 1174.5,1058.4 1174.5,1063.8 1174.5,1063.8 1174.5,1069.2 1174.5,1069.2 1174.5,1074.6 1171.8,1074.6 1171.8,1080.0 1169.1,1080.0 1169.1,1085.4 1166.4,1085.4 1166.4,1088.1 1169.1,1088.1 1169.1,1093.5 1169.1,1093.5 1169.1,1098.9 1169.1,1098.9 1169.1,1104.3 1169.1,1104.3 1169.1,1109.7 1171.8,1109.7 1171.8,1112.4 1174.5,1112.4 1174.5,1117.8 1177.2,1117.8 1177.2,1123.2 1182.6,1123.2 1182.6,1128.6 1185.3,1128.6 1185.3,1134.0 1188.0,1134.0 1188.0,1139.4 1190.7,1139.4 1190.7,1142.1 1196.1,1142.1 1196.1,1147.5 1198.8,1147.5 1198.8,1152.9 1198.8,1152.9 1198.8,1158.3 1204.2,1158.3 1204.2,1163.7 1206.9,1163.7 1206.9,1166.4 1212.3,1166.4 1212.3,1171.8 1217.7,1171.8 1217.7,1177.2 1223.1,1177.2 1223.1,1182.6 1228.5,1182.6 1228.5,1188.0 1231.2,1188.0 1231.2,1193.4 1236.6,1193.4 1236.6,1196.1 1242.0,1196.1 1242.0,1201.5 1247.4,1201.5 1247.4,1206.9 1252.8,1206.9 1252.8,1212.3 1258.2,1212.3 1258.2,1217.7 1260.9,1217.7 1260.9,1220.4 1266.3,1220.4 1266.3,1225.8 1271.7,1225.8 1271.7,1231.2 1277.1,1231.2 1277.1,1236.6 1282.5,1236.6 1282.5,1242.0 1285.2,1242.0 1285.2,1247.4 1290.6,1247.4 1290.6,1250.1 1296.0,1250.1 1296.0,1255.5 1301.4,1255.5 1301.4,1260.9 1306.8,1260.9 1306.8,1266.3Z" fill="#5a5ab4"/><path d="M1308.5,1264.0 1317.8,1259.5 1317.5,1255.0 1317.3,1250.4 1317.2,1245.9 1317.0,1241.4 1316.8,1236.8 1316.6,1232.3 1315.9,1227.8 1315.2,1223.3 1314.4,1218.7 1313.6,1214.2 1312.6,1209.7 1311.0,1205.1 1309.4,1200.6 1307.3,1196.1 1305.2,1191.5 1303.1,1187.0 1301.0,1182.5 1298.9,1178.0 1296.9,1173.4 1294.8,1168.9 1292.7,1164.4 1290.0,1159.8 1287.2,1155.3 1284.3,1150.8 1281.5,1146.2 1278.6,1141.7 1275.6,1137.2 1272.4,1132.6 1269.2,1128.1 1266.0,1123.6 1263.2,1119.1 1260.4,1114.5 1257.5,1110.0 1254.5,1105.5 1251.6,1100.9 1248.1,1096.4 1244.4,1091.9 1240.7,1087.3 1236.3,1082.8 1231.3,1078.3 1226.4,1073.8 1221.4,1069.2 1216.3,1064.7 1210.3,1060.2 1204.0,1055.6 1197.7,1051.1 1191.1,1051.1 1188.3,1055.6 1185.4,1060.2 1183.0,1064.7 1182.0,1069.2 1181.0,1073.8 1180.0,1078.3 1179.0,1082.8 1177.0,1087.3 1175.5,1091.9 1174.0,1096.4 1173.0,1100.9 1173.4,1105.5 1173.7,1110.0 1174.6,1114.5 1176.2,1119.1 1177.9,1123.6 1181.0,1128.1 1184.1,1132.6 1187.2,1137.2 1190.5,1141.7 1194.1,1146.2 1197.7,1150.8 1201.2,1155.3 1204.8,1159.8 1204.6,1164.4 1209.1,1168.9 1213.7,1173.4 1218.2,1178.0 1222.7,1182.5 1227.3,1187.0 1231.8,1191.5 1236.4,1196.1 1240.9,1200.6 1245.4,1205.1 1250.0,1209.7 1254.5,1214.2 1259.0,1218.7 1263.6,1223.3 1268.1,1227.8 1272.7,1232.3 1277.2,1236.8 1281.7,1241.4 1286.3,1245.9 1290.8,1250.4 1295.3,1255.0 1299.9,1259.5 1304.4,1264.0Z" fill="#4646aa"/><path d="M1306.7,1262.2 1312.9,1258.1 1313.0,1253.9 1313.1,1249.8 1313.2,1245.6 1313.3,1241.5 1313.4,1237.3 1313.4,1233.2 1313.0,1229.0 1312.3,1224.9 1311.7,1220.7 1311.0,1216.6 1310.3,1212.5 1309.3,1208.3 1308.1,1204.2 1306.2,1200.0 1304.3,1195.9 1302.3,1191.7 1300.4,1187.6 1298.5,1183.4 1296.6,1179.3 1294.6,1175.1 1292.7,1171.0 1290.6,1166.8 1288.3,1162.7 1286.1,1158.5 1283.9,1154.4 1281.6,1150.2 1279.1,1146.1 1276.2,1141.9 1273.4,1137.8 1270.6,1133.6 1267.9,1129.5 1265.3,1125.3 1262.4,1121.2 1259.4,1117.0 1256.3,1112.9 1253.1,1108.7 1249.8,1104.6 1246.4,1100.4 1241.9,1096.3 1237.2,1092.1 1232.5,1088.0 1227.7,1083.8 1222.9,1079.7 1217.1,1075.6 1211.2,1071.4 1205.3,1067.3 1197.9,1067.3 1194.8,1071.4 1191.7,1075.6 1188.8,1079.7 1187.2,1083.8 1185.7,1088.0 1184.2,1092.1 1182.7,1096.3 1180.8,1100.4 1180.0,1104.6 1179.3,1108.7 1178.7,1112.9 1178.8,1117.0 1178.8,1121.2 1179.8,1125.3 1182.1,1129.5 1184.4,1133.6 1187.3,1137.8 1190.2,1141.9 1193.1,1146.1 1196.4,1150.2 1200.1,1154.4 1203.9,1158.5 1207.7,1162.7 1207.4,1166.8 1211.2,1171.0 1215.4,1175.1 1219.5,1179.3 1223.7,1183.4 1227.8,1187.6 1232.0,1191.7 1236.1,1195.9 1240.3,1200.0 1244.5,1204.2 1248.6,1208.3 1252.8,1212.5 1256.9,1216.6 1261.1,1220.7 1265.2,1224.9 1269.4,1229.0 1273.5,1233.2 1277.7,1237.3 1281.8,1241.5 1286.0,1245.6 1290.2,1249.8 1294.3,1253.9 1298.5,1258.1 1302.6,1262.2Z" fill="#3232a0"/><path d="M1196.3,1082.5 1194.1,1084.0 1192.1,1085.9 1190.3,1088.2 1188.7,1090.8 1187.5,1093.9 1186.4,1097.3 1185.7,1101.0 1185.2,1105.1 1185.0,1109.5 1185.0,1114.1 1185.4,1119.1 1186.0,1124.3 1186.8,1129.7 1187.9,1135.3 1189.3,1141.1 1191.0,1147.1 1192.8,1153.2 1194.9,1159.4 1197.3,1165.7 1199.9,1172.0 1202.6,1178.4 1205.6,1184.7 1208.7,1191.0 1212.0,1197.3 1215.5,1203.5 1219.1,1209.5 1222.9,1215.5 1226.7,1221.2 1230.6,1226.8 1234.6,1232.2 1238.7,1237.3 1242.8,1242.2 1247.0,1246.8 1251.1,1251.1 1255.2,1255.1 1259.3,1258.8 1263.4,1262.1 1267.3,1265.0 1271.2,1267.6 1275.1,1269.8 1278.7,1271.6 1282.3,1273.0 1285.7,1274.0 1289.0,1274.6 1292.0,1274.7 1294.9,1274.5 1297.6,1273.8 1300.1,1272.7 1302.3,1271.2 1304.4,1269.3 1306.1,1267.1 1307.7,1264.4 1309.0,1261.4 1310.0,1258.0 1310.7,1254.2 1311.2,1250.2 1311.4,1245.8 1311.4,1241.1 1311.1,1236.2 1310.5,1231.0 1309.6,1225.5 1308.5,1219.9 1307.1,1214.1 1305.5,1208.1 1303.6,1202.0 1301.5,1195.8 1299.1,1189.6 1296.6,1183.2 1293.8,1176.9 1290.8,1170.5 1287.7,1164.2 1284.4,1158.0 1280.9,1151.8 1277.3,1145.7 1273.6,1139.8 1269.7,1134.0 1265.8,1128.4 1261.8,1123.1 1257.7,1117.9 1253.6,1113.0 1249.5,1108.4 1245.3,1104.1 1241.2,1100.1 1237.1,1096.5 1233.0,1093.2 1229.1,1090.2 1225.2,1087.6 1221.4,1085.4 1217.7,1083.6 1214.1,1082.2 1210.7,1081.2 1207.5,1080.7 1204.4,1080.5 1201.5,1080.8 1198.8,1081.4Z" fill="#282896"/><path d="M1199.8,1085.5 1197.8,1086.8 1196.1,1088.6 1194.6,1090.7 1193.3,1093.1 1192.3,1096.0 1191.5,1099.1 1191.0,1102.6 1190.7,1106.4 1190.7,1110.6 1190.9,1115.0 1191.4,1119.6 1192.2,1124.6 1193.1,1129.7 1194.4,1135.0 1195.9,1140.5 1197.6,1146.2 1199.5,1152.0 1201.6,1157.9 1204.0,1163.9 1206.5,1170.0 1209.3,1176.1 1212.2,1182.1 1215.2,1188.2 1218.5,1194.2 1221.8,1200.1 1225.3,1206.0 1228.9,1211.7 1232.6,1217.2 1236.3,1222.6 1240.1,1227.8 1244.0,1232.8 1247.9,1237.5 1251.8,1242.0 1255.6,1246.2 1259.5,1250.1 1263.3,1253.7 1267.1,1256.9 1270.8,1259.8 1274.4,1262.4 1277.9,1264.6 1281.2,1266.4 1284.5,1267.8 1287.6,1268.8 1290.5,1269.5 1293.3,1269.7 1295.9,1269.6 1298.3,1269.0 1300.4,1268.1 1302.4,1266.8 1304.1,1265.1 1305.6,1263.0 1306.9,1260.5 1307.9,1257.7 1308.7,1254.5 1309.2,1251.0 1309.5,1247.2 1309.5,1243.1 1309.3,1238.7 1308.8,1234.0 1308.1,1229.1 1307.1,1223.9 1305.9,1218.6 1304.4,1213.1 1302.7,1207.4 1300.8,1201.6 1298.6,1195.7 1296.3,1189.7 1293.7,1183.6 1291.0,1177.6 1288.1,1171.5 1285.0,1165.4 1281.8,1159.4 1278.4,1153.5 1274.9,1147.7 1271.3,1141.9 1267.7,1136.4 1263.9,1131.0 1260.1,1125.8 1256.2,1120.8 1252.4,1116.1 1248.5,1111.6 1244.6,1107.4 1240.7,1103.5 1236.9,1100.0 1233.2,1096.7 1229.5,1093.8 1225.9,1091.2 1222.4,1089.1 1219.0,1087.2 1215.7,1085.8 1212.6,1084.8 1209.7,1084.1 1206.9,1083.9 1204.4,1084.0 1202.0,1084.6Z" fill="#19198c"/><path d="M1203.3,1088.5 1201.6,1089.7 1200.2,1091.2 1198.9,1093.1 1197.9,1095.4 1197.2,1098.0 1196.6,1100.9 1196.3,1104.2 1196.3,1107.8 1196.4,1111.6 1196.8,1115.8 1197.5,1120.2 1198.4,1124.8 1199.5,1129.6 1200.8,1134.7 1202.4,1139.9 1204.2,1145.3 1206.1,1150.8 1208.3,1156.4 1210.7,1162.1 1213.2,1167.9 1215.9,1173.7 1218.7,1179.5 1221.7,1185.3 1224.9,1191.1 1228.1,1196.8 1231.5,1202.4 1234.9,1207.9 1238.4,1213.2 1242.0,1218.4 1245.6,1223.4 1249.2,1228.2 1252.9,1232.8 1256.5,1237.1 1260.1,1241.2 1263.7,1245.0 1267.3,1248.5 1270.8,1251.7 1274.1,1254.6 1277.4,1257.1 1280.6,1259.3 1283.7,1261.1 1286.6,1262.6 1289.4,1263.7 1292.1,1264.4 1294.5,1264.8 1296.8,1264.7 1298.9,1264.3 1300.7,1263.5 1302.4,1262.3 1303.9,1260.8 1305.1,1258.9 1306.1,1256.6 1306.9,1254.0 1307.4,1251.1 1307.7,1247.8 1307.8,1244.2 1307.6,1240.4 1307.2,1236.2 1306.6,1231.8 1305.7,1227.2 1304.6,1222.4 1303.2,1217.3 1301.7,1212.1 1299.9,1206.7 1297.9,1201.2 1295.8,1195.6 1293.4,1189.8 1290.9,1184.1 1288.2,1178.3 1285.3,1172.5 1282.3,1166.7 1279.2,1160.9 1275.9,1155.2 1272.6,1149.6 1269.2,1144.1 1265.6,1138.8 1262.1,1133.6 1258.5,1128.6 1254.8,1123.8 1251.2,1119.2 1247.5,1114.9 1243.9,1110.8 1240.3,1107.0 1236.8,1103.5 1233.3,1100.3 1229.9,1097.4 1226.6,1094.9 1223.4,1092.7 1220.3,1090.9 1217.4,1089.4 1214.6,1088.3 1212.0,1087.6 1209.5,1087.2 1207.3,1087.3 1205.2,1087.7Z" fill="#000096"/><path d="M1204.4,1093.0 1202.6,1094.2 1201.1,1095.7 1199.7,1097.6 1198.6,1099.9 1197.7,1102.5 1197.1,1105.5 1196.6,1108.8 1196.5,1112.5 1196.5,1116.4 1196.8,1120.6 1197.3,1125.1 1198.0,1129.8 1199.0,1134.7 1200.2,1139.9 1201.6,1145.2 1203.3,1150.7 1205.1,1156.3 1207.2,1162.1 1209.4,1167.9 1211.8,1173.8 1214.4,1179.7 1217.1,1185.7 1220.0,1191.6 1223.0,1197.5 1226.2,1203.3 1229.4,1209.1 1232.8,1214.7 1236.2,1220.2 1239.7,1225.5 1243.2,1230.6 1246.8,1235.6 1250.4,1240.3 1254.0,1244.7 1257.6,1248.9 1261.2,1252.8 1264.7,1256.4 1268.2,1259.7 1271.6,1262.7 1274.9,1265.3 1278.1,1267.6 1281.2,1269.5 1284.2,1271.0 1287.0,1272.1 1289.7,1272.9 1292.2,1273.3 1294.6,1273.3 1296.7,1272.9 1298.7,1272.1 1300.4,1270.9 1302.0,1269.4 1303.3,1267.4 1304.4,1265.2 1305.3,1262.5 1306.0,1259.5 1306.4,1256.2 1306.6,1252.6 1306.6,1248.7 1306.3,1244.5 1305.8,1240.0 1305.0,1235.3 1304.0,1230.3 1302.8,1225.2 1301.4,1219.8 1299.8,1214.4 1297.9,1208.7 1295.9,1203.0 1293.7,1197.2 1291.3,1191.3 1288.7,1185.3 1285.9,1179.4 1283.1,1173.5 1280.0,1167.6 1276.9,1161.7 1273.6,1156.0 1270.3,1150.4 1266.9,1144.9 1263.4,1139.6 1259.8,1134.4 1256.2,1129.5 1252.6,1124.8 1249.0,1120.3 1245.4,1116.2 1241.9,1112.2 1238.3,1108.6 1234.9,1105.3 1231.5,1102.4 1228.2,1099.8 1225.0,1097.5 1221.9,1095.6 1218.9,1094.1 1216.1,1092.9 1213.4,1092.2 1210.9,1091.8 1208.5,1091.8 1206.4,1092.2Z" fill="#0000d2"/><path d="M1205.3,1097.7 1203.4,1098.9 1201.7,1100.4 1200.2,1102.4 1198.9,1104.7 1197.9,1107.4 1197.0,1110.5 1196.4,1113.8 1196.1,1117.6 1196.0,1121.6 1196.1,1125.9 1196.4,1130.5 1197.0,1135.3 1197.8,1140.4 1198.8,1145.7 1200.1,1151.2 1201.5,1156.8 1203.2,1162.6 1205.1,1168.5 1207.2,1174.5 1209.4,1180.6 1211.9,1186.7 1214.5,1192.8 1217.3,1198.9 1220.2,1205.0 1223.2,1211.0 1226.4,1216.9 1229.6,1222.7 1233.0,1228.4 1236.4,1233.9 1239.9,1239.2 1243.4,1244.3 1247.0,1249.1 1250.6,1253.7 1254.2,1258.1 1257.7,1262.1 1261.3,1265.8 1264.8,1269.3 1268.2,1272.3 1271.6,1275.0 1274.8,1277.4 1278.0,1279.4 1281.1,1281.0 1284.0,1282.2 1286.7,1283.0 1289.4,1283.4 1291.8,1283.4 1294.1,1283.0 1296.2,1282.3 1298.1,1281.1 1299.8,1279.5 1301.3,1277.5 1302.6,1275.2 1303.6,1272.5 1304.5,1269.5 1305.0,1266.1 1305.4,1262.4 1305.5,1258.4 1305.4,1254.0 1305.1,1249.4 1304.5,1244.6 1303.7,1239.5 1302.7,1234.2 1301.4,1228.7 1300.0,1223.1 1298.3,1217.3 1296.4,1211.4 1294.3,1205.4 1292.0,1199.3 1289.6,1193.2 1287.0,1187.1 1284.2,1181.0 1281.3,1174.9 1278.3,1168.9 1275.1,1163.0 1271.9,1157.2 1268.5,1151.6 1265.1,1146.1 1261.6,1140.8 1258.1,1135.7 1254.5,1130.8 1250.9,1126.2 1247.3,1121.9 1243.8,1117.8 1240.2,1114.1 1236.7,1110.7 1233.3,1107.6 1229.9,1104.9 1226.7,1102.5 1223.5,1100.6 1220.4,1099.0 1217.5,1097.7 1214.7,1096.9 1212.1,1096.5 1209.7,1096.5 1207.4,1096.9Z" fill="#0000ff"/><path d="M1206.6,1102.9 1204.8,1104.0 1203.1,1105.6 1201.6,1107.5 1200.4,1109.7 1199.3,1112.3 1198.5,1115.3 1197.9,1118.6 1197.5,1122.2 1197.3,1126.2 1197.4,1130.4 1197.7,1134.9 1198.2,1139.6 1198.9,1144.6 1199.9,1149.8 1201.0,1155.1 1202.4,1160.7 1204.0,1166.3 1205.8,1172.1 1207.8,1178.0 1209.9,1184.0 1212.3,1189.9 1214.7,1195.9 1217.4,1201.9 1220.2,1207.9 1223.1,1213.8 1226.1,1219.6 1229.2,1225.3 1232.5,1230.9 1235.8,1236.3 1239.1,1241.5 1242.5,1246.5 1246.0,1251.3 1249.4,1255.8 1252.9,1260.1 1256.3,1264.1 1259.8,1267.7 1263.1,1271.1 1266.5,1274.1 1269.7,1276.8 1272.9,1279.2 1276.0,1281.1 1278.9,1282.7 1281.8,1283.9 1284.5,1284.7 1287.0,1285.2 1289.5,1285.2 1291.7,1284.9 1293.7,1284.1 1295.6,1283.0 1297.3,1281.5 1298.8,1279.6 1300.0,1277.3 1301.1,1274.7 1301.9,1271.7 1302.5,1268.4 1302.9,1264.8 1303.1,1260.8 1303.0,1256.6 1302.7,1252.1 1302.2,1247.4 1301.5,1242.4 1300.5,1237.2 1299.4,1231.9 1298.0,1226.3 1296.4,1220.7 1294.6,1214.9 1292.6,1209.0 1290.5,1203.1 1288.1,1197.1 1285.6,1191.1 1283.0,1185.1 1280.2,1179.1 1277.3,1173.2 1274.3,1167.4 1271.1,1161.7 1267.9,1156.2 1264.6,1150.8 1261.3,1145.5 1257.9,1140.5 1254.4,1135.7 1251.0,1131.2 1247.5,1126.9 1244.1,1123.0 1240.6,1119.3 1237.2,1115.9 1233.9,1112.9 1230.7,1110.2 1227.5,1107.9 1224.4,1105.9 1221.4,1104.3 1218.6,1103.1 1215.9,1102.3 1213.3,1101.8 1210.9,1101.8 1208.7,1102.2Z" fill="#003cff"/><path d="M1208.5,1108.7 1206.9,1109.7 1205.4,1111.1 1204.1,1112.8 1203.0,1114.9 1202.1,1117.3 1201.5,1120.1 1201.0,1123.1 1200.7,1126.5 1200.7,1130.1 1200.8,1134.0 1201.2,1138.2 1201.8,1142.6 1202.6,1147.2 1203.6,1152.0 1204.8,1156.9 1206.1,1162.1 1207.7,1167.3 1209.4,1172.7 1211.4,1178.2 1213.5,1183.7 1215.7,1189.2 1218.1,1194.8 1220.6,1200.4 1223.3,1205.9 1226.0,1211.4 1228.9,1216.8 1231.8,1222.1 1234.9,1227.3 1238.0,1232.3 1241.1,1237.2 1244.3,1241.8 1247.5,1246.3 1250.7,1250.5 1254.0,1254.5 1257.2,1258.2 1260.3,1261.6 1263.4,1264.8 1266.5,1267.6 1269.5,1270.1 1272.4,1272.3 1275.2,1274.2 1277.9,1275.7 1280.5,1276.8 1283.0,1277.6 1285.3,1278.0 1287.4,1278.1 1289.4,1277.8 1291.3,1277.1 1292.9,1276.0 1294.4,1274.7 1295.7,1272.9 1296.8,1270.8 1297.6,1268.4 1298.3,1265.7 1298.8,1262.6 1299.1,1259.3 1299.1,1255.6 1298.9,1251.7 1298.6,1247.6 1298.0,1243.2 1297.2,1238.6 1296.2,1233.8 1295.0,1228.8 1293.7,1223.7 1292.1,1218.4 1290.3,1213.0 1288.4,1207.6 1286.3,1202.1 1284.1,1196.5 1281.7,1190.9 1279.2,1185.4 1276.5,1179.8 1273.8,1174.3 1270.9,1168.9 1267.9,1163.6 1264.9,1158.5 1261.8,1153.4 1258.7,1148.6 1255.5,1143.9 1252.3,1139.5 1249.0,1135.2 1245.8,1131.3 1242.6,1127.5 1239.5,1124.1 1236.3,1121.0 1233.3,1118.1 1230.3,1115.6 1227.4,1113.4 1224.6,1111.6 1221.9,1110.1 1219.3,1108.9 1216.8,1108.2 1214.5,1107.7 1212.3,1107.7 1210.3,1108.0Z" fill="#006eff"/><path d="M1214.3,1121.2 1212.8,1122.1 1211.5,1123.3 1210.4,1124.9 1209.4,1126.8 1208.6,1129.0 1208.1,1131.5 1207.7,1134.3 1207.5,1137.4 1207.5,1140.7 1207.7,1144.3 1208.0,1148.1 1208.6,1152.1 1209.4,1156.4 1210.3,1160.8 1211.4,1165.3 1212.7,1170.1 1214.2,1174.9 1215.8,1179.8 1217.6,1184.9 1219.5,1190.0 1221.6,1195.1 1223.8,1200.2 1226.1,1205.4 1228.6,1210.5 1231.1,1215.5 1233.7,1220.5 1236.4,1225.4 1239.2,1230.2 1242.0,1234.8 1244.9,1239.3 1247.8,1243.6 1250.8,1247.7 1253.7,1251.7 1256.6,1255.3 1259.6,1258.8 1262.4,1262.0 1265.3,1264.9 1268.1,1267.5 1270.8,1269.9 1273.4,1271.9 1276.0,1273.6 1278.4,1275.0 1280.7,1276.1 1283.0,1276.9 1285.0,1277.3 1287.0,1277.4 1288.8,1277.1 1290.4,1276.5 1291.9,1275.6 1293.2,1274.3 1294.3,1272.8 1295.3,1270.9 1296.0,1268.7 1296.6,1266.1 1297.0,1263.4 1297.2,1260.3 1297.2,1257.0 1297.0,1253.4 1296.6,1249.6 1296.1,1245.5 1295.3,1241.3 1294.4,1236.9 1293.3,1232.3 1292.0,1227.6 1290.5,1222.8 1288.9,1217.8 1287.1,1212.8 1285.2,1207.7 1283.1,1202.6 1280.9,1197.4 1278.6,1192.3 1276.1,1187.2 1273.6,1182.2 1270.9,1177.2 1268.2,1172.3 1265.5,1167.5 1262.6,1162.9 1259.7,1158.4 1256.8,1154.1 1253.9,1149.9 1251.0,1146.0 1248.0,1142.3 1245.1,1138.9 1242.2,1135.7 1239.4,1132.8 1236.6,1130.1 1233.9,1127.8 1231.3,1125.8 1228.7,1124.0 1226.3,1122.6 1223.9,1121.5 1221.7,1120.8 1219.6,1120.4 1217.7,1120.3 1215.9,1120.6Z" fill="#00a0ff"/><path d="M1221.3,1135.6 1220.0,1136.4 1218.8,1137.5 1217.9,1139.0 1217.1,1140.7 1216.4,1142.7 1216.0,1144.9 1215.7,1147.5 1215.6,1150.2 1215.6,1153.3 1215.9,1156.5 1216.3,1160.0 1216.8,1163.7 1217.6,1167.6 1218.5,1171.6 1219.6,1175.8 1220.8,1180.1 1222.2,1184.6 1223.7,1189.1 1225.3,1193.7 1227.1,1198.4 1229.1,1203.1 1231.1,1207.8 1233.3,1212.5 1235.5,1217.2 1237.8,1221.9 1240.2,1226.5 1242.7,1231.0 1245.3,1235.4 1247.8,1239.7 1250.5,1243.8 1253.1,1247.8 1255.8,1251.6 1258.4,1255.2 1261.1,1258.6 1263.7,1261.8 1266.3,1264.8 1268.9,1267.5 1271.4,1270.0 1273.8,1272.1 1276.2,1274.0 1278.5,1275.7 1280.6,1277.0 1282.7,1278.0 1284.7,1278.7 1286.5,1279.2 1288.2,1279.3 1289.8,1279.1 1291.3,1278.6 1292.5,1277.7 1293.7,1276.6 1294.6,1275.2 1295.4,1273.5 1296.1,1271.5 1296.5,1269.2 1296.8,1266.7 1296.9,1263.9 1296.9,1260.9 1296.7,1257.6 1296.3,1254.1 1295.7,1250.5 1294.9,1246.6 1294.0,1242.6 1293.0,1238.4 1291.7,1234.0 1290.4,1229.6 1288.8,1225.1 1287.2,1220.5 1285.4,1215.8 1283.4,1211.1 1281.4,1206.4 1279.3,1201.6 1277.0,1196.9 1274.7,1192.3 1272.3,1187.7 1269.8,1183.2 1267.3,1178.8 1264.7,1174.5 1262.0,1170.4 1259.4,1166.4 1256.7,1162.6 1254.1,1158.9 1251.4,1155.5 1248.8,1152.3 1246.2,1149.4 1243.6,1146.7 1241.1,1144.2 1238.7,1142.0 1236.3,1140.1 1234.0,1138.5 1231.9,1137.2 1229.8,1136.1 1227.8,1135.4 1226.0,1135.0 1224.3,1134.9 1222.7,1135.1Z" fill="#00c8ff"/><path d="M1227.0,1147.3 1225.9,1148.0 1225.0,1149.0 1224.2,1150.3 1223.6,1151.8 1223.1,1153.6 1222.8,1155.7 1222.6,1158.0 1222.6,1160.6 1222.7,1163.3 1223.1,1166.3 1223.5,1169.5 1224.2,1172.9 1224.9,1176.4 1225.9,1180.1 1226.9,1184.0 1228.2,1188.0 1229.5,1192.1 1231.0,1196.3 1232.6,1200.5 1234.3,1204.8 1236.2,1209.2 1238.1,1213.5 1240.1,1217.9 1242.2,1222.2 1244.4,1226.6 1246.7,1230.8 1249.0,1235.0 1251.3,1239.1 1253.7,1243.1 1256.1,1246.9 1258.6,1250.6 1261.0,1254.2 1263.5,1257.5 1265.9,1260.7 1268.3,1263.7 1270.6,1266.5 1273.0,1269.0 1275.2,1271.3 1277.4,1273.4 1279.5,1275.2 1281.6,1276.7 1283.5,1278.0 1285.3,1279.0 1287.1,1279.7 1288.7,1280.1 1290.2,1280.3 1291.5,1280.1 1292.7,1279.7 1293.8,1279.0 1294.8,1278.0 1295.6,1276.7 1296.2,1275.2 1296.7,1273.4 1297.0,1271.3 1297.2,1269.0 1297.2,1266.4 1297.0,1263.7 1296.7,1260.7 1296.2,1257.5 1295.6,1254.1 1294.8,1250.6 1293.9,1246.9 1292.8,1243.0 1291.6,1239.0 1290.3,1234.9 1288.8,1230.8 1287.2,1226.5 1285.4,1222.2 1283.6,1217.8 1281.7,1213.5 1279.6,1209.1 1277.5,1204.8 1275.3,1200.5 1273.1,1196.2 1270.8,1192.0 1268.4,1187.9 1266.0,1184.0 1263.6,1180.1 1261.2,1176.4 1258.7,1172.8 1256.3,1169.5 1253.9,1166.3 1251.5,1163.3 1249.1,1160.5 1246.8,1158.0 1244.6,1155.7 1242.4,1153.6 1240.2,1151.8 1238.2,1150.3 1236.3,1149.0 1234.4,1148.0 1232.7,1147.3 1231.1,1146.9 1229.6,1146.7 1228.2,1146.9Z" fill="#00fff0"/><path d="M1231.0,1155.7 1230.1,1156.3 1229.2,1157.3 1228.6,1158.4 1228.0,1159.8 1227.6,1161.5 1227.4,1163.4 1227.3,1165.6 1227.4,1167.9 1227.6,1170.5 1228.0,1173.3 1228.5,1176.2 1229.1,1179.4 1229.9,1182.7 1230.8,1186.2 1231.9,1189.8 1233.1,1193.5 1234.4,1197.3 1235.8,1201.2 1237.4,1205.2 1239.0,1209.2 1240.8,1213.3 1242.6,1217.3 1244.6,1221.4 1246.6,1225.5 1248.7,1229.5 1250.8,1233.5 1253.0,1237.4 1255.2,1241.3 1257.4,1245.0 1259.7,1248.6 1262.0,1252.1 1264.3,1255.4 1266.5,1258.6 1268.8,1261.6 1271.0,1264.4 1273.2,1267.0 1275.3,1269.4 1277.4,1271.6 1279.4,1273.6 1281.4,1275.3 1283.2,1276.7 1285.0,1277.9 1286.7,1278.9 1288.3,1279.6 1289.7,1280.0 1291.1,1280.2 1292.3,1280.0 1293.4,1279.7 1294.3,1279.0 1295.1,1278.1 1295.8,1276.9 1296.3,1275.5 1296.7,1273.9 1297.0,1272.0 1297.0,1269.8 1297.0,1267.4 1296.8,1264.9 1296.4,1262.1 1295.9,1259.1 1295.3,1256.0 1294.5,1252.7 1293.5,1249.2 1292.5,1245.6 1291.3,1241.9 1290.0,1238.1 1288.5,1234.2 1287.0,1230.2 1285.3,1226.2 1283.6,1222.1 1281.7,1218.0 1279.8,1213.9 1277.8,1209.9 1275.7,1205.8 1273.6,1201.8 1271.4,1197.9 1269.2,1194.1 1266.9,1190.4 1264.7,1186.7 1262.4,1183.3 1260.1,1179.9 1257.8,1176.7 1255.6,1173.7 1253.4,1170.9 1251.2,1168.3 1249.0,1165.9 1246.9,1163.7 1244.9,1161.8 1243.0,1160.1 1241.1,1158.6 1239.4,1157.4 1237.7,1156.5 1236.1,1155.8 1234.7,1155.4 1233.3,1155.2 1232.1,1155.3Z" fill="#32ffc8"/><path d="M1235.0,1164.1 1234.2,1164.6 1233.5,1165.5 1233.0,1166.5 1232.5,1167.8 1232.3,1169.3 1232.1,1171.1 1232.1,1173.1 1232.2,1175.2 1232.5,1177.6 1232.9,1180.2 1233.4,1182.9 1234.1,1185.9 1234.9,1188.9 1235.8,1192.1 1236.9,1195.5 1238.0,1198.9 1239.3,1202.5 1240.7,1206.1 1242.2,1209.8 1243.8,1213.6 1245.4,1217.3 1247.2,1221.1 1249.0,1225.0 1250.9,1228.7 1252.9,1232.5 1254.9,1236.2 1256.9,1239.9 1259.0,1243.5 1261.1,1247.0 1263.2,1250.3 1265.3,1253.6 1267.5,1256.7 1269.6,1259.7 1271.7,1262.5 1273.7,1265.1 1275.7,1267.6 1277.7,1269.9 1279.6,1271.9 1281.4,1273.7 1283.2,1275.4 1284.9,1276.7 1286.5,1277.9 1288.0,1278.8 1289.4,1279.5 1290.7,1279.9 1291.9,1280.1 1293.0,1280.0 1293.9,1279.7 1294.8,1279.1 1295.4,1278.3 1296.0,1277.2 1296.4,1275.9 1296.7,1274.4 1296.9,1272.6 1296.9,1270.7 1296.8,1268.5 1296.5,1266.1 1296.1,1263.5 1295.6,1260.8 1294.9,1257.9 1294.1,1254.8 1293.2,1251.6 1292.1,1248.2 1290.9,1244.8 1289.7,1241.2 1288.3,1237.6 1286.8,1233.9 1285.2,1230.2 1283.5,1226.4 1281.8,1222.6 1279.9,1218.8 1278.0,1215.0 1276.1,1211.2 1274.1,1207.5 1272.0,1203.8 1270.0,1200.2 1267.9,1196.8 1265.7,1193.4 1263.6,1190.1 1261.5,1187.0 1259.4,1184.0 1257.3,1181.2 1255.3,1178.6 1253.3,1176.1 1251.3,1173.9 1249.4,1171.8 1247.5,1170.0 1245.8,1168.4 1244.1,1167.0 1242.5,1165.8 1241.0,1164.9 1239.6,1164.2 1238.3,1163.8 1237.1,1163.7 1236.0,1163.7Z" fill="#64f096"/><path d="M1239.7,1172.0 1239.0,1172.5 1238.4,1173.2 1237.9,1174.1 1237.5,1175.3 1237.3,1176.7 1237.2,1178.2 1237.2,1180.0 1237.3,1182.0 1237.6,1184.1 1238.0,1186.4 1238.5,1188.9 1239.1,1191.5 1239.8,1194.3 1240.7,1197.2 1241.7,1200.2 1242.7,1203.3 1243.9,1206.5 1245.2,1209.8 1246.5,1213.1 1248.0,1216.5 1249.5,1219.9 1251.1,1223.4 1252.7,1226.8 1254.5,1230.2 1256.2,1233.6 1258.0,1237.0 1259.9,1240.3 1261.8,1243.6 1263.7,1246.7 1265.6,1249.8 1267.5,1252.7 1269.4,1255.6 1271.3,1258.2 1273.1,1260.8 1275.0,1263.2 1276.8,1265.4 1278.6,1267.5 1280.3,1269.3 1281.9,1271.0 1283.5,1272.5 1285.0,1273.7 1286.4,1274.8 1287.8,1275.6 1289.0,1276.2 1290.2,1276.6 1291.2,1276.8 1292.2,1276.7 1293.0,1276.4 1293.7,1275.9 1294.3,1275.2 1294.8,1274.2 1295.2,1273.1 1295.4,1271.7 1295.5,1270.1 1295.5,1268.4 1295.4,1266.4 1295.1,1264.3 1294.7,1261.9 1294.2,1259.5 1293.6,1256.8 1292.9,1254.1 1292.0,1251.2 1291.1,1248.2 1290.0,1245.1 1288.8,1241.9 1287.5,1238.6 1286.2,1235.3 1284.7,1231.9 1283.2,1228.4 1281.6,1225.0 1280.0,1221.6 1278.3,1218.1 1276.5,1214.7 1274.7,1211.4 1272.8,1208.1 1270.9,1204.8 1269.1,1201.7 1267.1,1198.6 1265.2,1195.7 1263.3,1192.8 1261.4,1190.1 1259.6,1187.6 1257.7,1185.2 1255.9,1183.0 1254.2,1180.9 1252.5,1179.1 1250.8,1177.4 1249.2,1175.9 1247.7,1174.7 1246.3,1173.6 1244.9,1172.8 1243.7,1172.2 1242.5,1171.8 1241.5,1171.6 1240.5,1171.7Z" fill="#96f064"/><path d="M1244.5,1179.8 1243.8,1180.2 1243.3,1180.9 1242.9,1181.7 1242.6,1182.7 1242.4,1183.9 1242.3,1185.3 1242.3,1186.9 1242.5,1188.6 1242.7,1190.5 1243.1,1192.6 1243.6,1194.7 1244.1,1197.1 1244.8,1199.5 1245.6,1202.1 1246.4,1204.8 1247.4,1207.5 1248.4,1210.4 1249.6,1213.3 1250.8,1216.2 1252.1,1219.2 1253.4,1222.3 1254.9,1225.3 1256.3,1228.4 1257.9,1231.4 1259.4,1234.5 1261.0,1237.5 1262.7,1240.4 1264.3,1243.3 1266.0,1246.1 1267.7,1248.8 1269.4,1251.4 1271.1,1254.0 1272.8,1256.4 1274.4,1258.6 1276.0,1260.8 1277.6,1262.8 1279.2,1264.6 1280.7,1266.2 1282.1,1267.7 1283.5,1269.0 1284.9,1270.2 1286.1,1271.1 1287.3,1271.9 1288.4,1272.4 1289.4,1272.8 1290.3,1272.9 1291.1,1272.9 1291.9,1272.7 1292.5,1272.2 1293.0,1271.6 1293.4,1270.7 1293.7,1269.7 1293.9,1268.5 1294.0,1267.1 1294.0,1265.5 1293.8,1263.8 1293.6,1261.9 1293.2,1259.9 1292.8,1257.7 1292.2,1255.3 1291.5,1252.9 1290.7,1250.3 1289.9,1247.7 1288.9,1244.9 1287.9,1242.1 1286.7,1239.1 1285.5,1236.2 1284.2,1233.2 1282.9,1230.1 1281.5,1227.1 1280.0,1224.0 1278.4,1221.0 1276.9,1217.9 1275.3,1215.0 1273.6,1212.0 1272.0,1209.1 1270.3,1206.3 1268.6,1203.6 1266.9,1201.0 1265.2,1198.5 1263.5,1196.1 1261.9,1193.8 1260.3,1191.7 1258.7,1189.7 1257.1,1187.8 1255.6,1186.2 1254.2,1184.7 1252.8,1183.4 1251.5,1182.2 1250.2,1181.3 1249.0,1180.6 1247.9,1180.0 1246.9,1179.6 1246.0,1179.5 1245.2,1179.5Z" fill="#c8f032"/><path d="M1249.2,1187.6 1248.7,1188.0 1248.3,1188.5 1247.9,1189.2 1247.7,1190.1 1247.5,1191.2 1247.5,1192.4 1247.5,1193.7 1247.6,1195.2 1247.9,1196.9 1248.2,1198.7 1248.6,1200.6 1249.1,1202.6 1249.7,1204.8 1250.4,1207.0 1251.2,1209.3 1252.1,1211.7 1253.0,1214.2 1254.0,1216.8 1255.1,1219.4 1256.2,1222.0 1257.4,1224.6 1258.6,1227.3 1259.9,1230.0 1261.3,1232.7 1262.6,1235.3 1264.0,1237.9 1265.5,1240.5 1266.9,1243.0 1268.4,1245.5 1269.9,1247.9 1271.3,1250.2 1272.8,1252.4 1274.2,1254.5 1275.7,1256.5 1277.1,1258.4 1278.5,1260.1 1279.8,1261.7 1281.1,1263.2 1282.4,1264.5 1283.6,1265.6 1284.7,1266.6 1285.8,1267.5 1286.8,1268.1 1287.7,1268.6 1288.6,1269.0 1289.4,1269.1 1290.1,1269.1 1290.7,1268.9 1291.2,1268.5 1291.6,1267.9 1292.0,1267.2 1292.2,1266.3 1292.4,1265.3 1292.4,1264.1 1292.4,1262.7 1292.3,1261.2 1292.0,1259.6 1291.7,1257.8 1291.3,1255.9 1290.8,1253.8 1290.2,1251.7 1289.5,1249.5 1288.7,1247.1 1287.8,1244.7 1286.9,1242.2 1285.9,1239.7 1284.8,1237.1 1283.7,1234.5 1282.5,1231.8 1281.3,1229.2 1280.0,1226.5 1278.6,1223.8 1277.3,1221.2 1275.9,1218.5 1274.4,1216.0 1273.0,1213.4 1271.5,1211.0 1270.0,1208.6 1268.6,1206.3 1267.1,1204.1 1265.7,1202.0 1264.2,1200.0 1262.8,1198.1 1261.4,1196.4 1260.1,1194.8 1258.8,1193.3 1257.5,1192.0 1256.3,1190.8 1255.2,1189.8 1254.1,1189.0 1253.1,1188.3 1252.2,1187.8 1251.3,1187.5 1250.5,1187.4 1249.8,1187.4Z" fill="#ffff00"/><path d="M1252.6,1193.1 1252.2,1193.5 1251.8,1194.0 1251.5,1194.6 1251.2,1195.4 1251.1,1196.3 1251.0,1197.4 1251.1,1198.6 1251.2,1200.0 1251.4,1201.5 1251.7,1203.1 1252.1,1204.8 1252.5,1206.6 1253.1,1208.5 1253.7,1210.5 1254.4,1212.6 1255.1,1214.8 1256.0,1217.0 1256.9,1219.2 1257.8,1221.6 1258.8,1223.9 1259.9,1226.3 1261.0,1228.7 1262.2,1231.1 1263.4,1233.5 1264.6,1235.8 1265.9,1238.2 1267.1,1240.5 1268.4,1242.7 1269.8,1244.9 1271.1,1247.1 1272.4,1249.1 1273.7,1251.1 1275.0,1253.0 1276.3,1254.8 1277.5,1256.5 1278.8,1258.0 1280.0,1259.5 1281.1,1260.8 1282.3,1261.9 1283.3,1263.0 1284.4,1263.9 1285.3,1264.6 1286.2,1265.2 1287.1,1265.6 1287.9,1265.9 1288.6,1266.1 1289.2,1266.0 1289.7,1265.9 1290.2,1265.5 1290.6,1265.0 1290.9,1264.4 1291.1,1263.6 1291.3,1262.6 1291.3,1261.6 1291.3,1260.3 1291.2,1259.0 1290.9,1257.5 1290.7,1255.9 1290.3,1254.2 1289.8,1252.4 1289.3,1250.5 1288.7,1248.5 1288.0,1246.4 1287.2,1244.2 1286.4,1242.0 1285.5,1239.7 1284.5,1237.4 1283.5,1235.1 1282.5,1232.7 1281.3,1230.3 1280.2,1227.9 1279.0,1225.5 1277.8,1223.1 1276.5,1220.8 1275.2,1218.5 1273.9,1216.2 1272.6,1214.0 1271.3,1211.9 1270.0,1209.8 1268.7,1207.9 1267.4,1206.0 1266.1,1204.2 1264.8,1202.5 1263.6,1201.0 1262.4,1199.5 1261.2,1198.2 1260.1,1197.0 1259.0,1196.0 1258.0,1195.1 1257.0,1194.4 1256.1,1193.8 1255.3,1193.3 1254.5,1193.1 1253.8,1192.9 1253.2,1192.9Z" fill="#ffc800"/><path d="M1255.8,1198.2 1255.4,1198.6 1255.0,1199.0 1254.7,1199.6 1254.5,1200.3 1254.4,1201.1 1254.3,1202.1 1254.4,1203.2 1254.5,1204.4 1254.7,1205.7 1254.9,1207.1 1255.2,1208.6 1255.6,1210.3 1256.1,1212.0 1256.7,1213.8 1257.3,1215.6 1257.9,1217.5 1258.7,1219.5 1259.5,1221.5 1260.3,1223.6 1261.2,1225.7 1262.2,1227.8 1263.2,1229.9 1264.2,1232.1 1265.2,1234.2 1266.3,1236.3 1267.5,1238.4 1268.6,1240.4 1269.8,1242.5 1270.9,1244.4 1272.1,1246.3 1273.3,1248.1 1274.4,1249.9 1275.6,1251.6 1276.8,1253.2 1277.9,1254.7 1279.0,1256.0 1280.1,1257.3 1281.1,1258.5 1282.1,1259.5 1283.1,1260.4 1284.0,1261.2 1284.9,1261.9 1285.7,1262.4 1286.4,1262.8 1287.1,1263.1 1287.8,1263.2 1288.3,1263.1 1288.8,1263.0 1289.2,1262.7 1289.6,1262.2 1289.9,1261.7 1290.1,1260.9 1290.2,1260.1 1290.3,1259.1 1290.2,1258.1 1290.1,1256.8 1290.0,1255.5 1289.7,1254.1 1289.4,1252.6 1289.0,1251.0 1288.5,1249.3 1288.0,1247.5 1287.3,1245.6 1286.7,1243.7 1285.9,1241.7 1285.1,1239.7 1284.3,1237.6 1283.4,1235.5 1282.4,1233.4 1281.5,1231.3 1280.4,1229.1 1279.4,1227.0 1278.3,1224.9 1277.1,1222.8 1276.0,1220.8 1274.8,1218.8 1273.7,1216.8 1272.5,1214.9 1271.3,1213.1 1270.2,1211.3 1269.0,1209.6 1267.8,1208.1 1266.7,1206.6 1265.6,1205.2 1264.5,1203.9 1263.5,1202.7 1262.5,1201.7 1261.5,1200.8 1260.6,1200.0 1259.7,1199.3 1258.9,1198.8 1258.2,1198.4 1257.5,1198.2 1256.9,1198.1 1256.3,1198.1Z" fill="#ff9600"/><path d="M1258.9,1203.3 1258.5,1203.5 1258.2,1203.9 1257.9,1204.4 1257.8,1205.1 1257.6,1205.8 1257.6,1206.7 1257.6,1207.6 1257.7,1208.7 1257.8,1209.8 1258.1,1211.1 1258.3,1212.4 1258.7,1213.9 1259.1,1215.4 1259.6,1216.9 1260.1,1218.6 1260.7,1220.3 1261.3,1222.0 1262.0,1223.8 1262.8,1225.6 1263.6,1227.5 1264.4,1229.3 1265.3,1231.2 1266.2,1233.1 1267.1,1234.9 1268.1,1236.8 1269.1,1238.6 1270.1,1240.4 1271.1,1242.2 1272.1,1243.9 1273.2,1245.6 1274.2,1247.2 1275.2,1248.8 1276.3,1250.2 1277.3,1251.6 1278.3,1252.9 1279.2,1254.1 1280.2,1255.3 1281.1,1256.3 1282.0,1257.2 1282.9,1258.0 1283.7,1258.7 1284.4,1259.3 1285.2,1259.7 1285.8,1260.1 1286.4,1260.3 1287.0,1260.4 1287.5,1260.4 1288.0,1260.2 1288.3,1259.9 1288.7,1259.5 1288.9,1259.0 1289.1,1258.4 1289.2,1257.7 1289.3,1256.8 1289.2,1255.9 1289.2,1254.8 1289.0,1253.6 1288.8,1252.4 1288.5,1251.0 1288.2,1249.6 1287.7,1248.1 1287.3,1246.5 1286.7,1244.9 1286.2,1243.2 1285.5,1241.5 1284.8,1239.7 1284.1,1237.9 1283.3,1236.0 1282.4,1234.1 1281.6,1232.3 1280.7,1230.4 1279.7,1228.5 1278.8,1226.7 1277.8,1224.8 1276.8,1223.0 1275.8,1221.3 1274.7,1219.5 1273.7,1217.9 1272.7,1216.3 1271.6,1214.7 1270.6,1213.2 1269.6,1211.9 1268.6,1210.5 1267.6,1209.3 1266.7,1208.2 1265.7,1207.2 1264.8,1206.3 1264.0,1205.5 1263.2,1204.8 1262.4,1204.2 1261.7,1203.7 1261.0,1203.4 1260.4,1203.2 1259.8,1203.1 1259.3,1203.1Z" fill="#ff6e00"/><path d="M1261.9,1208.1 1261.6,1208.4 1261.3,1208.7 1261.1,1209.2 1260.9,1209.7 1260.8,1210.3 1260.8,1211.1 1260.8,1211.9 1260.8,1212.9 1261.0,1213.9 1261.2,1215.0 1261.4,1216.1 1261.7,1217.4 1262.1,1218.7 1262.5,1220.0 1262.9,1221.5 1263.4,1222.9 1264.0,1224.5 1264.6,1226.0 1265.2,1227.6 1265.9,1229.2 1266.6,1230.8 1267.4,1232.4 1268.2,1234.1 1269.0,1235.7 1269.8,1237.3 1270.7,1238.9 1271.6,1240.5 1272.4,1242.0 1273.3,1243.5 1274.2,1244.9 1275.1,1246.3 1276.0,1247.7 1276.9,1248.9 1277.8,1250.2 1278.7,1251.3 1279.5,1252.3 1280.4,1253.3 1281.2,1254.2 1282.0,1255.0 1282.7,1255.7 1283.4,1256.3 1284.1,1256.8 1284.7,1257.2 1285.3,1257.5 1285.8,1257.7 1286.3,1257.7 1286.8,1257.7 1287.2,1257.6 1287.5,1257.3 1287.8,1257.0 1288.0,1256.6 1288.2,1256.0 1288.3,1255.4 1288.3,1254.6 1288.3,1253.8 1288.3,1252.9 1288.1,1251.8 1287.9,1250.8 1287.7,1249.6 1287.4,1248.3 1287.0,1247.0 1286.6,1245.7 1286.2,1244.2 1285.7,1242.8 1285.1,1241.3 1284.5,1239.7 1283.9,1238.1 1283.2,1236.5 1282.5,1234.9 1281.7,1233.3 1280.9,1231.7 1280.1,1230.0 1279.3,1228.4 1278.4,1226.8 1277.5,1225.3 1276.7,1223.7 1275.8,1222.2 1274.9,1220.8 1274.0,1219.4 1273.1,1218.0 1272.2,1216.8 1271.3,1215.6 1270.4,1214.4 1269.6,1213.4 1268.7,1212.4 1267.9,1211.5 1267.1,1210.7 1266.4,1210.0 1265.7,1209.4 1265.0,1208.9 1264.4,1208.5 1263.8,1208.2 1263.3,1208.1 1262.8,1208.0 1262.3,1208.0Z" fill="#ff3c00"/><path d="M1265.0,1213.0 1264.7,1213.2 1264.4,1213.5 1264.2,1213.9 1264.1,1214.4 1264.0,1214.9 1264.0,1215.5 1264.0,1216.3 1264.0,1217.0 1264.1,1217.9 1264.3,1218.8 1264.5,1219.8 1264.7,1220.9 1265.0,1222.0 1265.4,1223.2 1265.7,1224.4 1266.2,1225.6 1266.6,1226.9 1267.1,1228.2 1267.7,1229.5 1268.3,1230.9 1268.9,1232.3 1269.5,1233.7 1270.2,1235.0 1270.9,1236.4 1271.6,1237.8 1272.3,1239.1 1273.0,1240.5 1273.8,1241.7 1274.6,1243.0 1275.3,1244.2 1276.1,1245.4 1276.9,1246.6 1277.6,1247.6 1278.4,1248.7 1279.1,1249.6 1279.8,1250.5 1280.5,1251.3 1281.2,1252.1 1281.9,1252.7 1282.5,1253.3 1283.1,1253.8 1283.7,1254.3 1284.2,1254.6 1284.8,1254.8 1285.2,1255.0 1285.6,1255.1 1286.0,1255.0 1286.4,1254.9 1286.7,1254.7 1286.9,1254.4 1287.1,1254.0 1287.2,1253.6 1287.3,1253.0 1287.4,1252.4 1287.4,1251.7 1287.3,1250.9 1287.2,1250.0 1287.1,1249.1 1286.9,1248.1 1286.6,1247.1 1286.3,1245.9 1286.0,1244.8 1285.6,1243.6 1285.2,1242.3 1284.7,1241.0 1284.2,1239.7 1283.7,1238.4 1283.1,1237.0 1282.5,1235.7 1281.8,1234.3 1281.2,1232.9 1280.5,1231.5 1279.8,1230.2 1279.0,1228.8 1278.3,1227.5 1277.5,1226.2 1276.8,1224.9 1276.0,1223.7 1275.2,1222.5 1274.5,1221.4 1273.7,1220.3 1273.0,1219.3 1272.2,1218.3 1271.5,1217.4 1270.8,1216.6 1270.1,1215.9 1269.5,1215.2 1268.8,1214.6 1268.2,1214.1 1267.6,1213.7 1267.1,1213.3 1266.6,1213.1 1266.1,1212.9 1265.7,1212.9 1265.3,1212.9Z" fill="#ff0000"/><path d="M1268.6,1218.8 1268.3,1219.0 1268.1,1219.2 1268.0,1219.5 1267.8,1219.9 1267.7,1220.3 1267.7,1220.8 1267.7,1221.3 1267.7,1221.9 1267.7,1222.6 1267.8,1223.3 1268.0,1224.0 1268.1,1224.8 1268.3,1225.7 1268.6,1226.6 1268.9,1227.5 1269.2,1228.4 1269.5,1229.4 1269.9,1230.4 1270.3,1231.4 1270.7,1232.5 1271.2,1233.5 1271.7,1234.5 1272.2,1235.6 1272.7,1236.6 1273.2,1237.6 1273.8,1238.7 1274.3,1239.7 1274.9,1240.6 1275.5,1241.6 1276.1,1242.5 1276.7,1243.4 1277.2,1244.3 1277.8,1245.1 1278.4,1245.8 1279.0,1246.5 1279.5,1247.2 1280.1,1247.8 1280.6,1248.4 1281.1,1248.9 1281.6,1249.3 1282.1,1249.7 1282.6,1250.0 1283.0,1250.2 1283.4,1250.4 1283.8,1250.5 1284.1,1250.5 1284.4,1250.5 1284.7,1250.4 1284.9,1250.3 1285.1,1250.0 1285.3,1249.7 1285.4,1249.4 1285.5,1248.9 1285.6,1248.4 1285.6,1247.9 1285.6,1247.3 1285.5,1246.6 1285.4,1245.9 1285.3,1245.2 1285.1,1244.4 1284.9,1243.5 1284.7,1242.6 1284.4,1241.7 1284.1,1240.8 1283.7,1239.8 1283.4,1238.8 1283.0,1237.8 1282.5,1236.8 1282.1,1235.7 1281.6,1234.7 1281.1,1233.6 1280.6,1232.6 1280.0,1231.6 1279.5,1230.6 1278.9,1229.6 1278.4,1228.6 1277.8,1227.6 1277.2,1226.7 1276.6,1225.8 1276.0,1225.0 1275.4,1224.2 1274.9,1223.4 1274.3,1222.7 1273.7,1222.0 1273.2,1221.4 1272.6,1220.8 1272.1,1220.3 1271.6,1219.9 1271.1,1219.5 1270.7,1219.2 1270.3,1219.0 1269.9,1218.8 1269.5,1218.7 1269.1,1218.7 1268.8,1218.7Z" fill="#be0000"/><path d="M1272.2,1224.6 1272.0,1224.7 1271.8,1224.9 1271.7,1225.1 1271.5,1225.4 1271.4,1225.7 1271.4,1226.0 1271.3,1226.4 1271.3,1226.8 1271.4,1227.3 1271.4,1227.7 1271.5,1228.3 1271.6,1228.8 1271.7,1229.4 1271.8,1230.0 1272.0,1230.6 1272.2,1231.3 1272.4,1231.9 1272.7,1232.6 1272.9,1233.3 1273.2,1234.0 1273.5,1234.7 1273.8,1235.4 1274.2,1236.1 1274.5,1236.8 1274.9,1237.5 1275.2,1238.2 1275.6,1238.9 1276.0,1239.5 1276.4,1240.2 1276.8,1240.8 1277.2,1241.4 1277.6,1241.9 1278.1,1242.5 1278.5,1243.0 1278.9,1243.5 1279.3,1243.9 1279.7,1244.3 1280.0,1244.7 1280.4,1245.0 1280.8,1245.3 1281.1,1245.5 1281.4,1245.7 1281.8,1245.9 1282.1,1246.0 1282.3,1246.0 1282.6,1246.0 1282.8,1246.0 1283.0,1245.9 1283.2,1245.8 1283.4,1245.6 1283.5,1245.4 1283.7,1245.1 1283.7,1244.8 1283.8,1244.5 1283.8,1244.1 1283.9,1243.7 1283.8,1243.2 1283.8,1242.8 1283.7,1242.2 1283.6,1241.7 1283.5,1241.1 1283.4,1240.5 1283.2,1239.9 1283.0,1239.2 1282.8,1238.6 1282.5,1237.9 1282.3,1237.2 1282.0,1236.5 1281.7,1235.8 1281.4,1235.1 1281.0,1234.4 1280.7,1233.7 1280.3,1233.0 1279.9,1232.3 1279.6,1231.6 1279.2,1231.0 1278.8,1230.3 1278.4,1229.7 1278.0,1229.1 1277.5,1228.6 1277.1,1228.0 1276.7,1227.5 1276.3,1227.0 1275.9,1226.6 1275.5,1226.2 1275.2,1225.8 1274.8,1225.5 1274.4,1225.2 1274.1,1225.0 1273.7,1224.8 1273.4,1224.6 1273.1,1224.5 1272.9,1224.5 1272.6,1224.5 1272.4,1224.5Z" fill="#800000"/></g><g clip-path="url(#hbclip)"><rect x="1274.4" y="1036.8" width="2.7" height="2.7" fill="#28287a" fill-opacity="0.11"/><rect x="1212.3" y="993.6" width="5.4" height="5.4" fill="#fff" fill-opacity="0.21"/><rect x="1298.7" y="1147.5" width="2.7" height="2.7" fill="#fff" fill-opacity="0.35"/><rect x="1155.6" y="1077.3" width="2.7" height="2.7" fill="#fff" fill-opacity="0.37"/><rect x="1360.8" y="990.9" width="2.7" height="2.7" fill="#28287a" fill-opacity="0.14"/><rect x="1350.0" y="1053.0" width="5.4" height="2.7" fill="#fff" fill-opacity="0.25"/><rect x="1350.0" y="1198.8" width="2.7" height="2.7" fill="#28287a" fill-opacity="0.15"/><rect x="1266.3" y="1047.6" width="2.7" height="2.7" fill="#fff" fill-opacity="0.23"/><rect x="1182.6" y="969.3" width="2.7" height="2.7" fill="#fff" fill-opacity="0.35"/><rect x="1166.4" y="963.9" width="2.7" height="2.7" fill="#28287a" fill-opacity="0.19"/><rect x="1350.0" y="1169.1" width="2.7" height="5.4" fill="#fff" fill-opacity="0.27"/><rect x="1266.3" y="1023.3" width="2.7" height="2.7" fill="#fff" fill-opacity="0.39"/><rect x="1269.0" y="977.4" width="2.7" height="2.7" fill="#28287a" fill-opacity="0.15"/><rect x="1158.3" y="1053.0" width="5.4" height="2.7" fill="#28287a" fill-opacity="0.09"/><rect x="1269.0" y="974.7" width="2.7" height="2.7" fill="#28287a" fill-opacity="0.12"/><rect x="1182.6" y="1066.5" width="2.7" height="2.7" fill="#28287a" fill-opacity="0.16"/><rect x="1317.6" y="1174.5" width="2.7" height="2.7" fill="#28287a" fill-opacity="0.15"/><rect x="1152.9" y="982.8" width="5.4" height="2.7" fill="#fff" fill-opacity="0.24"/><rect x="1155.6" y="974.7" width="2.7" height="5.4" fill="#fff" fill-opacity="0.27"/><rect x="1298.7" y="1125.9" width="2.7" height="2.7" fill="#fff" fill-opacity="0.19"/><rect x="1212.3" y="953.1" width="2.7" height="5.4" fill="#28287a" fill-opacity="0.18"/><rect x="1314.9" y="1166.4" width="2.7" height="2.7" fill="#fff" fill-opacity="0.33"/><rect x="1309.5" y="1053.0" width="2.7" height="2.7" fill="#28287a" fill-opacity="0.15"/><rect x="1182.6" y="1058.4" width="5.4" height="2.7" fill="#28287a" fill-opacity="0.16"/><rect x="1314.9" y="1169.1" width="2.7" height="5.4" fill="#28287a" fill-opacity="0.13"/><rect x="1347.3" y="1228.5" width="5.4" height="2.7" fill="#28287a" fill-opacity="0.14"/><rect x="1325.7" y="969.3" width="5.4" height="2.7" fill="#28287a" fill-opacity="0.17"/><rect x="1312.2" y="1090.8" width="5.4" height="2.7" fill="#28287a" fill-opacity="0.17"/><rect x="1277.1" y="1042.2" width="2.7" height="2.7" fill="#fff" fill-opacity="0.26"/><rect x="1287.9" y="1074.6" width="2.7" height="2.7" fill="#28287a" fill-opacity="0.10"/><rect x="1339.2" y="1250.1" width="2.7" height="2.7" fill="#fff" fill-opacity="0.16"/><rect x="1271.7" y="1088.1" width="2.7" height="5.4" fill="#28287a" fill-opacity="0.08"/><rect x="1323.0" y="1161.0" width="2.7" height="5.4" fill="#28287a" fill-opacity="0.09"/><rect x="1263.6" y="963.9" width="2.7" height="2.7" fill="#fff" fill-opacity="0.29"/><rect x="1320.3" y="1063.8" width="5.4" height="2.7" fill="#fff" fill-opacity="0.38"/><rect x="1333.8" y="1096.2" width="5.4" height="2.7" fill="#28287a" fill-opacity="0.14"/><rect x="1239.3" y="1047.6" width="5.4" height="2.7" fill="#28287a" fill-opacity="0.11"/><rect x="1360.8" y="1117.8" width="5.4" height="2.7" fill="#fff" fill-opacity="0.40"/><rect x="1193.4" y="1023.3" width="5.4" height="2.7" fill="#fff" fill-opacity="0.29"/><rect x="1325.7" y="1042.2" width="2.7" height="2.7" fill="#fff" fill-opacity="0.40"/><rect x="1247.4" y="993.6" width="2.7" height="2.7" fill="#28287a" fill-opacity="0.12"/><rect x="1304.1" y="1088.1" width="2.7" height="2.7" fill="#fff" fill-opacity="0.26"/><rect x="1344.6" y="985.5" width="2.7" height="2.7" fill="#fff" fill-opacity="0.35"/><rect x="1266.3" y="1053.0" width="5.4" height="2.7" fill="#fff" fill-opacity="0.32"/><rect x="1296.0" y="982.8" width="5.4" height="2.7" fill="#fff" fill-opacity="0.15"/><rect x="1312.2" y="1090.8" width="5.4" height="2.7" fill="#fff" fill-opacity="0.27"/><rect x="1263.6" y="1012.5" width="2.7" height="5.4" fill="#fff" fill-opacity="0.35"/><rect x="1314.9" y="1063.8" width="2.7" height="2.7" fill="#28287a" fill-opacity="0.20"/><rect x="1363.5" y="1050.3" width="2.7" height="2.7" fill="#28287a" fill-opacity="0.11"/><rect x="1279.8" y="963.9" width="2.7" height="2.7" fill="#28287a" fill-opacity="0.13"/><rect x="1317.6" y="1263.6" width="2.7" height="2.7" fill="#28287a" fill-opacity="0.16"/><rect x="1217.7" y="1074.6" width="2.7" height="2.7" fill="#fff" fill-opacity="0.32"/><rect x="1282.5" y="977.4" width="2.7" height="5.4" fill="#fff" fill-opacity="0.29"/><rect x="1350.0" y="1101.6" width="2.7" height="2.7" fill="#fff" fill-opacity="0.21"/><rect x="1323.0" y="1190.7" width="2.7" height="2.7" fill="#28287a" fill-opacity="0.13"/><rect x="1331.1" y="1115.1" width="5.4" height="2.7" fill="#fff" fill-opacity="0.27"/><rect x="1355.4" y="1250.1" width="2.7" height="5.4" fill="#28287a" fill-opacity="0.09"/><rect x="1158.3" y="963.9" width="2.7" height="5.4" fill="#fff" fill-opacity="0.39"/><rect x="1282.5" y="1009.8" width="2.7" height="5.4" fill="#28287a" fill-opacity="0.12"/><rect x="1323.0" y="1066.5" width="5.4" height="2.7" fill="#fff" fill-opacity="0.30"/><rect x="1260.9" y="1036.8" width="5.4" height="2.7" fill="#fff" fill-opacity="0.16"/><rect x="1339.2" y="1123.2" width="2.7" height="2.7" fill="#fff" fill-opacity="0.23"/><rect x="1350.0" y="974.7" width="2.7" height="2.7" fill="#fff" fill-opacity="0.20"/><rect x="1333.8" y="993.6" width="5.4" height="2.7" fill="#28287a" fill-opacity="0.09"/><rect x="1320.3" y="1034.1" width="2.7" height="2.7" fill="#fff" fill-opacity="0.16"/><rect x="1347.3" y="1161.0" width="2.7" height="5.4" fill="#fff" fill-opacity="0.26"/><rect x="1328.4" y="1233.9" width="2.7" height="2.7" fill="#fff" fill-opacity="0.21"/><rect x="1363.5" y="1274.4" width="2.7" height="5.4" fill="#fff" fill-opacity="0.17"/><rect x="1220.4" y="958.5" width="2.7" height="5.4" fill="#fff" fill-opacity="0.27"/><rect x="1190.7" y="1039.5" width="5.4" height="2.7" fill="#28287a" fill-opacity="0.10"/><rect x="1269.0" y="1042.2" width="2.7" height="2.7" fill="#fff" fill-opacity="0.26"/><rect x="1128.6" y="1004.4" width="2.7" height="2.7" fill="#28287a" fill-opacity="0.11"/><rect x="1317.6" y="1255.5" width="5.4" height="2.7" fill="#28287a" fill-opacity="0.16"/><rect x="1242.0" y="1023.3" width="2.7" height="2.7" fill="#28287a" fill-opacity="0.13"/><rect x="1277.1" y="990.9" width="2.7" height="2.7" fill="#28287a" fill-opacity="0.16"/><rect x="1347.3" y="1020.6" width="2.7" height="5.4" fill="#28287a" fill-opacity="0.10"/><rect x="1139.4" y="1039.5" width="2.7" height="2.7" fill="#fff" fill-opacity="0.27"/><rect x="1274.4" y="1042.2" width="2.7" height="5.4" fill="#fff" fill-opacity="0.36"/><rect x="1309.5" y="1009.8" width="2.7" height="2.7" fill="#fff" fill-opacity="0.17"/><rect x="1304.1" y="1098.9" width="2.7" height="5.4" fill="#28287a" fill-opacity="0.10"/><rect x="1287.9" y="1023.3" width="2.7" height="5.4" fill="#fff" fill-opacity="0.26"/><rect x="1147.5" y="1015.2" width="2.7" height="2.7" fill="#fff" fill-opacity="0.19"/><rect x="1185.3" y="1058.4" width="2.7" height="2.7" fill="#fff" fill-opacity="0.34"/><rect x="1209.6" y="996.3" width="2.7" height="2.7" fill="#fff" fill-opacity="0.18"/><rect x="1161.0" y="1077.3" width="2.7" height="5.4" fill="#28287a" fill-opacity="0.11"/><rect x="1269.0" y="1074.6" width="2.7" height="2.7" fill="#28287a" fill-opacity="0.13"/><rect x="1134.0" y="1061.1" width="2.7" height="5.4" fill="#fff" fill-opacity="0.27"/><rect x="1328.4" y="1055.7" width="2.7" height="2.7" fill="#fff" fill-opacity="0.29"/><rect x="1239.3" y="988.2" width="5.4" height="2.7" fill="#fff" fill-opacity="0.22"/><rect x="1169.1" y="1096.2" width="2.7" height="2.7" fill="#fff" fill-opacity="0.35"/><rect x="1320.3" y="1063.8" width="2.7" height="5.4" fill="#fff" fill-opacity="0.24"/><rect x="1217.7" y="1031.4" width="2.7" height="2.7" fill="#28287a" fill-opacity="0.17"/><rect x="1169.1" y="1053.0" width="2.7" height="5.4" fill="#28287a" fill-opacity="0.15"/><rect x="1285.2" y="1080.0" width="5.4" height="5.4" fill="#fff" fill-opacity="0.33"/><rect x="1217.7" y="955.8" width="2.7" height="5.4" fill="#fff" fill-opacity="0.25"/><rect x="1355.4" y="1279.8" width="2.7" height="2.7" fill="#fff" fill-opacity="0.16"/><rect x="1309.5" y="1080.0" width="5.4" height="2.7" fill="#28287a" fill-opacity="0.08"/><rect x="1347.3" y="1206.9" width="2.7" height="2.7" fill="#28287a" fill-opacity="0.19"/><rect x="1339.2" y="1053.0" width="2.7" height="2.7" fill="#fff" fill-opacity="0.37"/><rect x="1179.9" y="958.5" width="5.4" height="2.7" fill="#28287a" fill-opacity="0.16"/><rect x="1212.3" y="1034.1" width="2.7" height="5.4" fill="#28287a" fill-opacity="0.13"/><rect x="1147.5" y="1053.0" width="2.7" height="2.7" fill="#28287a" fill-opacity="0.11"/><rect x="1271.7" y="982.8" width="2.7" height="2.7" fill="#28287a" fill-opacity="0.17"/><rect x="1258.2" y="1007.1" width="5.4" height="2.7" fill="#fff" fill-opacity="0.27"/><rect x="1339.2" y="1174.5" width="5.4" height="2.7" fill="#fff" fill-opacity="0.22"/><rect x="1255.5" y="1096.2" width="5.4" height="2.7" fill="#fff" fill-opacity="0.18"/><rect x="1312.2" y="1174.5" width="2.7" height="2.7" fill="#28287a" fill-opacity="0.10"/><rect x="1215.0" y="982.8" width="5.4" height="2.7" fill="#fff" fill-opacity="0.32"/><rect x="1209.6" y="1028.7" width="5.4" height="5.4" fill="#fff" fill-opacity="0.34"/><rect x="1166.4" y="985.5" width="2.7" height="2.7" fill="#fff" fill-opacity="0.17"/><rect x="1233.9" y="1055.7" width="2.7" height="2.7" fill="#fff" fill-opacity="0.29"/><rect x="1287.9" y="1120.5" width="2.7" height="5.4" fill="#fff" fill-opacity="0.34"/><rect x="1206.9" y="1036.8" width="2.7" height="2.7" fill="#fff" fill-opacity="0.38"/><rect x="1277.1" y="1028.7" width="2.7" height="5.4" fill="#fff" fill-opacity="0.25"/><rect x="1350.0" y="1266.3" width="5.4" height="2.7" fill="#fff" fill-opacity="0.40"/><rect x="1188.0" y="1042.2" width="2.7" height="2.7" fill="#28287a" fill-opacity="0.15"/><rect x="1325.7" y="996.3" width="2.7" height="2.7" fill="#fff" fill-opacity="0.18"/><rect x="1142.1" y="1009.8" width="2.7" height="2.7" fill="#28287a" fill-opacity="0.08"/><rect x="1258.2" y="963.9" width="2.7" height="2.7" fill="#28287a" fill-opacity="0.10"/><rect x="1247.4" y="963.9" width="5.4" height="5.4" fill="#fff" fill-opacity="0.19"/><rect x="1309.5" y="1117.8" width="2.7" height="2.7" fill="#fff" fill-opacity="0.34"/><rect x="1223.1" y="990.9" width="5.4" height="2.7" fill="#fff" fill-opacity="0.35"/><rect x="1325.7" y="1260.9" width="2.7" height="2.7" fill="#fff" fill-opacity="0.20"/><rect x="1123.2" y="1071.9" width="2.7" height="2.7" fill="#fff" fill-opacity="0.32"/><rect x="1158.3" y="1066.5" width="5.4" height="2.7" fill="#28287a" fill-opacity="0.10"/><rect x="1179.9" y="974.7" width="2.7" height="2.7" fill="#fff" fill-opacity="0.26"/><rect x="1185.3" y="1031.4" width="2.7" height="2.7" fill="#28287a" fill-opacity="0.10"/><rect x="1247.4" y="958.5" width="2.7" height="2.7" fill="#fff" fill-opacity="0.31"/><rect x="1236.6" y="1090.8" width="2.7" height="5.4" fill="#fff" fill-opacity="0.15"/><rect x="1179.9" y="1061.1" width="2.7" height="2.7" fill="#fff" fill-opacity="0.20"/><rect x="1177.2" y="1044.9" width="2.7" height="2.7" fill="#fff" fill-opacity="0.28"/><rect x="1279.8" y="974.7" width="2.7" height="5.4" fill="#fff" fill-opacity="0.33"/><rect x="1350.0" y="966.6" width="5.4" height="2.7" fill="#28287a" fill-opacity="0.15"/><rect x="1287.9" y="1069.2" width="2.7" height="5.4" fill="#fff" fill-opacity="0.30"/><rect x="1320.3" y="1161.0" width="5.4" height="2.7" fill="#fff" fill-opacity="0.17"/><rect x="1336.5" y="1161.0" width="2.7" height="2.7" fill="#28287a" fill-opacity="0.14"/><rect x="1314.9" y="1050.3" width="5.4" height="2.7" fill="#28287a" fill-opacity="0.15"/><rect x="1341.9" y="1166.4" width="2.7" height="2.7" fill="#fff" fill-opacity="0.32"/><rect x="1269.0" y="1058.4" width="2.7" height="2.7" fill="#28287a" fill-opacity="0.09"/><rect x="1296.0" y="1080.0" width="2.7" height="5.4" fill="#28287a" fill-opacity="0.09"/><rect x="1136.7" y="1055.7" width="2.7" height="2.7" fill="#fff" fill-opacity="0.27"/><rect x="1279.8" y="985.5" width="2.7" height="5.4" fill="#28287a" fill-opacity="0.11"/><rect x="1336.5" y="1177.2" width="5.4" height="2.7" fill="#fff" fill-opacity="0.31"/><rect x="1350.0" y="1179.9" width="2.7" height="2.7" fill="#fff" fill-opacity="0.24"/><rect x="1271.7" y="1066.5" width="2.7" height="2.7" fill="#fff" fill-opacity="0.27"/><rect x="1287.9" y="1136.7" width="2.7" height="2.7" fill="#fff" fill-opacity="0.22"/><rect x="1341.9" y="1098.9" width="2.7" height="2.7" fill="#28287a" fill-opacity="0.11"/><rect x="1328.4" y="1112.4" width="5.4" height="5.4" fill="#28287a" fill-opacity="0.09"/><rect x="1320.3" y="1053.0" width="2.7" height="2.7" fill="#fff" fill-opacity="0.37"/><rect x="1190.7" y="1031.4" width="2.7" height="2.7" fill="#28287a" fill-opacity="0.15"/><rect x="1331.1" y="988.2" width="2.7" height="2.7" fill="#fff" fill-opacity="0.23"/><rect x="1363.5" y="1147.5" width="2.7" height="2.7" fill="#fff" fill-opacity="0.16"/><rect x="1144.8" y="1036.8" width="5.4" height="2.7" fill="#fff" fill-opacity="0.17"/><rect x="1223.1" y="969.3" width="2.7" height="5.4" fill="#fff" fill-opacity="0.28"/><rect x="1350.0" y="966.6" width="5.4" height="2.7" fill="#fff" fill-opacity="0.34"/><rect x="1142.1" y="953.1" width="5.4" height="2.7" fill="#fff" fill-opacity="0.23"/><rect x="1231.2" y="1009.8" width="2.7" height="2.7" fill="#28287a" fill-opacity="0.20"/><rect x="1152.9" y="1063.8" width="2.7" height="2.7" fill="#fff" fill-opacity="0.35"/><rect x="1134.0" y="969.3" width="5.4" height="2.7" fill="#fff" fill-opacity="0.38"/><rect x="1190.7" y="1034.1" width="2.7" height="2.7" fill="#fff" fill-opacity="0.34"/><rect x="1171.8" y="1053.0" width="2.7" height="2.7" fill="#28287a" fill-opacity="0.10"/><rect x="1231.2" y="1077.3" width="2.7" height="5.4" fill="#fff" fill-opacity="0.22"/><rect x="1336.5" y="1074.6" width="2.7" height="5.4" fill="#28287a" fill-opacity="0.09"/><rect x="1306.8" y="1171.8" width="5.4" height="5.4" fill="#28287a" fill-opacity="0.18"/><rect x="1247.4" y="1082.7" width="2.7" height="2.7" fill="#28287a" fill-opacity="0.10"/><rect x="1358.1" y="1242.0" width="2.7" height="5.4" fill="#fff" fill-opacity="0.27"/><rect x="1161.0" y="961.2" width="5.4" height="5.4" fill="#fff" fill-opacity="0.36"/><rect x="1344.6" y="1109.7" width="2.7" height="5.4" fill="#28287a" fill-opacity="0.17"/><rect x="1279.8" y="1104.3" width="5.4" height="2.7" fill="#28287a" fill-opacity="0.09"/><rect x="1358.1" y="999.0" width="2.7" height="5.4" fill="#28287a" fill-opacity="0.16"/><rect x="1215.0" y="1069.2" width="2.7" height="5.4" fill="#fff" fill-opacity="0.15"/><rect x="1282.5" y="1090.8" width="2.7" height="2.7" fill="#28287a" fill-opacity="0.11"/><rect x="1255.5" y="1015.2" width="2.7" height="2.7" fill="#fff" fill-opacity="0.15"/><rect x="1163.7" y="985.5" width="5.4" height="2.7" fill="#fff" fill-opacity="0.17"/><rect x="1309.5" y="1050.3" width="5.4" height="5.4" fill="#28287a" fill-opacity="0.17"/><rect x="1328.4" y="1077.3" width="2.7" height="5.4" fill="#28287a" fill-opacity="0.20"/><rect x="1298.7" y="1155.6" width="2.7" height="2.7" fill="#28287a" fill-opacity="0.16"/><rect x="1309.5" y="1053.0" width="2.7" height="2.7" fill="#28287a" fill-opacity="0.19"/><rect x="1314.9" y="1144.8" width="5.4" height="5.4" fill="#fff" fill-opacity="0.23"/><rect x="1182.6" y="1055.7" width="2.7" height="2.7" fill="#28287a" fill-opacity="0.20"/><rect x="1161.0" y="1071.9" width="5.4" height="2.7" fill="#28287a" fill-opacity="0.16"/><rect x="1166.4" y="1101.6" width="5.4" height="2.7" fill="#28287a" fill-opacity="0.16"/><rect x="1233.9" y="1007.1" width="2.7" height="5.4" fill="#28287a" fill-opacity="0.09"/><rect x="1136.7" y="1082.7" width="5.4" height="2.7" fill="#28287a" fill-opacity="0.13"/><rect x="1344.6" y="1080.0" width="5.4" height="2.7" fill="#fff" fill-opacity="0.29"/><rect x="1360.8" y="1279.8" width="5.4" height="2.7" fill="#fff" fill-opacity="0.28"/><rect x="1309.5" y="1123.2" width="2.7" height="5.4" fill="#28287a" fill-opacity="0.12"/><rect x="1274.4" y="1023.3" width="2.7" height="5.4" fill="#28287a" fill-opacity="0.16"/><rect x="1336.5" y="1212.3" width="2.7" height="2.7" fill="#fff" fill-opacity="0.30"/><rect x="1260.9" y="958.5" width="2.7" height="2.7" fill="#28287a" fill-opacity="0.15"/><rect x="1360.8" y="993.6" width="2.7" height="5.4" fill="#fff" fill-opacity="0.23"/><rect x="1323.0" y="1117.8" width="2.7" height="5.4" fill="#28287a" fill-opacity="0.16"/><rect x="1347.3" y="1085.4" width="2.7" height="2.7" fill="#fff" fill-opacity="0.36"/><rect x="1244.7" y="1001.7" width="5.4" height="2.7" fill="#28287a" fill-opacity="0.15"/><rect x="1336.5" y="1182.6" width="2.7" height="2.7" fill="#28287a" fill-opacity="0.15"/><rect x="1147.5" y="1031.4" width="2.7" height="2.7" fill="#28287a" fill-opacity="0.12"/><rect x="1193.4" y="1053.0" width="5.4" height="2.7" fill="#28287a" fill-opacity="0.18"/><rect x="1147.5" y="988.2" width="2.7" height="2.7" fill="#28287a" fill-opacity="0.19"/><rect x="1217.7" y="996.3" width="2.7" height="2.7" fill="#fff" fill-opacity="0.35"/><rect x="1166.4" y="953.1" width="2.7" height="5.4" fill="#fff" fill-opacity="0.21"/><rect x="1320.3" y="1063.8" width="2.7" height="5.4" fill="#fff" fill-opacity="0.30"/><rect x="1244.7" y="982.8" width="2.7" height="2.7" fill="#fff" fill-opacity="0.30"/><rect x="1161.0" y="972.0" width="2.7" height="2.7" fill="#fff" fill-opacity="0.22"/><rect x="1177.2" y="953.1" width="2.7" height="2.7" fill="#fff" fill-opacity="0.15"/><rect x="1290.6" y="1031.4" width="2.7" height="5.4" fill="#fff" fill-opacity="0.21"/><rect x="1363.5" y="1036.8" width="2.7" height="2.7" fill="#fff" fill-opacity="0.19"/><rect x="1163.7" y="1042.2" width="5.4" height="2.7" fill="#28287a" fill-opacity="0.14"/><rect x="1304.1" y="1031.4" width="2.7" height="2.7" fill="#28287a" fill-opacity="0.09"/><rect x="1239.3" y="1053.0" width="2.7" height="2.7" fill="#fff" fill-opacity="0.34"/><rect x="1347.3" y="1179.9" width="2.7" height="5.4" fill="#fff" fill-opacity="0.36"/><rect x="1301.4" y="1085.4" width="2.7" height="5.4" fill="#fff" fill-opacity="0.23"/><rect x="1277.1" y="999.0" width="2.7" height="2.7" fill="#fff" fill-opacity="0.15"/><rect x="1282.5" y="1088.1" width="2.7" height="5.4" fill="#fff" fill-opacity="0.34"/><rect x="1163.7" y="1082.7" width="5.4" height="2.7" fill="#28287a" fill-opacity="0.16"/><rect x="1301.4" y="1169.1" width="5.4" height="5.4" fill="#28287a" fill-opacity="0.08"/><rect x="1161.0" y="1020.6" width="5.4" height="2.7" fill="#28287a" fill-opacity="0.18"/><rect x="1169.1" y="1101.6" width="2.7" height="5.4" fill="#fff" fill-opacity="0.38"/><rect x="1217.7" y="980.1" width="2.7" height="5.4" fill="#fff" fill-opacity="0.32"/><rect x="1339.2" y="1136.7" width="2.7" height="2.7" fill="#fff" fill-opacity="0.27"/><rect x="1158.3" y="1061.1" width="5.4" height="5.4" fill="#fff" fill-opacity="0.40"/><rect x="1169.1" y="1026.0" width="2.7" height="2.7" fill="#fff" fill-opacity="0.19"/><rect x="1225.8" y="1012.5" width="2.7" height="2.7" fill="#28287a" fill-opacity="0.17"/><rect x="1271.7" y="1077.3" width="2.7" height="2.7" fill="#28287a" fill-opacity="0.11"/><rect x="1296.0" y="1028.7" width="5.4" height="2.7" fill="#28287a" fill-opacity="0.13"/><rect x="1258.2" y="950.4" width="2.7" height="5.4" fill="#28287a" fill-opacity="0.19"/><rect x="1142.1" y="1023.3" width="5.4" height="5.4" fill="#28287a" fill-opacity="0.08"/><rect x="1290.6" y="1058.4" width="2.7" height="2.7" fill="#28287a" fill-opacity="0.18"/><rect x="1344.6" y="966.6" width="2.7" height="2.7" fill="#28287a" fill-opacity="0.13"/><rect x="1363.5" y="1109.7" width="2.7" height="5.4" fill="#fff" fill-opacity="0.19"/><rect x="1247.4" y="999.0" width="2.7" height="2.7" fill="#28287a" fill-opacity="0.15"/><rect x="1123.2" y="953.1" width="2.7" height="2.7" fill="#fff" fill-opacity="0.21"/><rect x="1358.1" y="1209.6" width="2.7" height="2.7" fill="#28287a" fill-opacity="0.15"/><rect x="1339.2" y="1125.9" width="2.7" height="2.7" fill="#fff" fill-opacity="0.24"/><rect x="1309.5" y="969.3" width="2.7" height="2.7" fill="#28287a" fill-opacity="0.09"/><rect x="1250.1" y="1074.6" width="2.7" height="2.7" fill="#28287a" fill-opacity="0.18"/><rect x="1155.6" y="972.0" width="2.7" height="2.7" fill="#fff" fill-opacity="0.20"/><rect x="1225.8" y="1066.5" width="5.4" height="2.7" fill="#fff" fill-opacity="0.36"/><rect x="1155.6" y="1042.2" width="2.7" height="2.7" fill="#28287a" fill-opacity="0.15"/><rect x="1352.7" y="1125.9" width="2.7" height="5.4" fill="#28287a" fill-opacity="0.11"/><rect x="1179.9" y="950.4" width="5.4" height="5.4" fill="#fff" fill-opacity="0.32"/><rect x="1171.8" y="1047.6" width="2.7" height="2.7" fill="#28287a" fill-opacity="0.13"/><rect x="1355.4" y="1128.6" width="2.7" height="2.7" fill="#28287a" fill-opacity="0.11"/><rect x="1177.2" y="1120.5" width="2.7" height="2.7" fill="#fff" fill-opacity="0.30"/><rect x="1358.1" y="1101.6" width="5.4" height="2.7" fill="#28287a" fill-opacity="0.14"/><rect x="1177.2" y="1112.4" width="2.7" height="2.7" fill="#fff" fill-opacity="0.32"/><rect x="1309.5" y="1142.1" width="2.7" height="2.7" fill="#28287a" fill-opacity="0.20"/><rect x="1279.8" y="1093.5" width="2.7" height="2.7" fill="#28287a" fill-opacity="0.18"/><rect x="1239.3" y="988.2" width="2.7" height="2.7" fill="#28287a" fill-opacity="0.12"/><rect x="1347.3" y="1004.4" width="2.7" height="2.7" fill="#fff" fill-opacity="0.31"/><rect x="1247.4" y="1036.8" width="2.7" height="2.7" fill="#28287a" fill-opacity="0.18"/><rect x="1325.7" y="1212.3" width="2.7" height="5.4" fill="#28287a" fill-opacity="0.08"/><rect x="1336.5" y="1255.5" width="2.7" height="5.4" fill="#fff" fill-opacity="0.28"/><rect x="1336.5" y="1058.4" width="2.7" height="2.7" fill="#28287a" fill-opacity="0.12"/><rect x="1201.5" y="1004.4" width="2.7" height="2.7" fill="#fff" fill-opacity="0.21"/><rect x="1339.2" y="985.5" width="5.4" height="2.7" fill="#fff" fill-opacity="0.31"/><rect x="1287.9" y="1125.9" width="5.4" height="2.7" fill="#28287a" fill-opacity="0.11"/><rect x="1277.1" y="982.8" width="2.7" height="5.4" fill="#28287a" fill-opacity="0.09"/><rect x="1304.1" y="1112.4" width="2.7" height="5.4" fill="#fff" fill-opacity="0.16"/><rect x="1125.9" y="1058.4" width="2.7" height="2.7" fill="#28287a" fill-opacity="0.19"/><rect x="1282.5" y="1031.4" width="2.7" height="2.7" fill="#28287a" fill-opacity="0.10"/><rect x="1269.0" y="1123.2" width="5.4" height="5.4" fill="#fff" fill-opacity="0.33"/><rect x="1269.0" y="1023.3" width="2.7" height="2.7" fill="#28287a" fill-opacity="0.18"/><rect x="1220.4" y="1069.2" width="2.7" height="2.7" fill="#28287a" fill-opacity="0.14"/><rect x="1212.3" y="1028.7" width="2.7" height="2.7" fill="#28287a" fill-opacity="0.20"/><rect x="1312.2" y="1074.6" width="2.7" height="5.4" fill="#28287a" fill-opacity="0.17"/><rect x="1242.0" y="980.1" width="2.7" height="2.7" fill="#fff" fill-opacity="0.31"/><rect x="1341.9" y="1136.7" width="2.7" height="2.7" fill="#28287a" fill-opacity="0.09"/><rect x="1269.0" y="1061.1" width="5.4" height="5.4" fill="#28287a" fill-opacity="0.12"/><rect x="1177.2" y="1101.6" width="2.7" height="5.4" fill="#28287a" fill-opacity="0.14"/><rect x="1279.8" y="1074.6" width="5.4" height="5.4" fill="#fff" fill-opacity="0.32"/><rect x="1287.9" y="1063.8" width="5.4" height="2.7" fill="#28287a" fill-opacity="0.12"/><rect x="1206.9" y="1034.1" width="5.4" height="2.7" fill="#28287a" fill-opacity="0.08"/><rect x="1252.8" y="996.3" width="2.7" height="2.7" fill="#28287a" fill-opacity="0.17"/><rect x="1201.5" y="982.8" width="5.4" height="2.7" fill="#fff" fill-opacity="0.25"/><rect x="1152.9" y="1055.7" width="2.7" height="5.4" fill="#28287a" fill-opacity="0.10"/><rect x="1169.1" y="966.6" width="5.4" height="2.7" fill="#28287a" fill-opacity="0.12"/><rect x="1360.8" y="1223.1" width="2.7" height="2.7" fill="#fff" fill-opacity="0.25"/><rect x="1317.6" y="1155.6" width="2.7" height="2.7" fill="#28287a" fill-opacity="0.10"/><rect x="1171.8" y="1074.6" width="2.7" height="2.7" fill="#28287a" fill-opacity="0.17"/><rect x="1333.8" y="1228.5" width="2.7" height="5.4" fill="#fff" fill-opacity="0.16"/><rect x="1201.5" y="953.1" width="2.7" height="2.7" fill="#28287a" fill-opacity="0.18"/><rect x="1123.2" y="985.5" width="5.4" height="2.7" fill="#28287a" fill-opacity="0.13"/><rect x="1150.2" y="1028.7" width="2.7" height="2.7" fill="#fff" fill-opacity="0.21"/><rect x="1358.1" y="1096.2" width="2.7" height="2.7" fill="#28287a" fill-opacity="0.20"/><rect x="1298.7" y="1155.6" width="5.4" height="2.7" fill="#28287a" fill-opacity="0.11"/><rect x="1174.5" y="1101.6" width="5.4" height="2.7" fill="#fff" fill-opacity="0.38"/><rect x="1360.8" y="1163.7" width="2.7" height="2.7" fill="#28287a" fill-opacity="0.17"/><rect x="1242.0" y="1015.2" width="2.7" height="2.7" fill="#28287a" fill-opacity="0.19"/><rect x="1255.5" y="950.4" width="2.7" height="2.7" fill="#28287a" fill-opacity="0.20"/><rect x="1301.4" y="1163.7" width="2.7" height="2.7" fill="#28287a" fill-opacity="0.19"/><rect x="1177.2" y="972.0" width="5.4" height="2.7" fill="#fff" fill-opacity="0.29"/><rect x="1185.3" y="1031.4" width="2.7" height="5.4" fill="#28287a" fill-opacity="0.16"/><rect x="1339.2" y="963.9" width="2.7" height="2.7" fill="#28287a" fill-opacity="0.14"/><rect x="1242.0" y="969.3" width="2.7" height="5.4" fill="#28287a" fill-opacity="0.18"/><rect x="1263.6" y="1007.1" width="2.7" height="2.7" fill="#28287a" fill-opacity="0.19"/><rect x="1204.2" y="1007.1" width="2.7" height="2.7" fill="#fff" fill-opacity="0.21"/><rect x="1161.0" y="1077.3" width="2.7" height="5.4" fill="#28287a" fill-opacity="0.19"/><rect x="1298.7" y="1039.5" width="2.7" height="5.4" fill="#fff" fill-opacity="0.24"/><rect x="1217.7" y="977.4" width="5.4" height="2.7" fill="#28287a" fill-opacity="0.16"/><rect x="1260.9" y="1020.6" width="2.7" height="5.4" fill="#fff" fill-opacity="0.24"/><rect x="1347.3" y="1080.0" width="2.7" height="5.4" fill="#fff" fill-opacity="0.28"/><rect x="1136.7" y="1063.8" width="5.4" height="2.7" fill="#28287a" fill-opacity="0.15"/><rect x="1163.7" y="1104.3" width="5.4" height="5.4" fill="#fff" fill-opacity="0.26"/><rect x="1325.7" y="1069.2" width="2.7" height="2.7" fill="#fff" fill-opacity="0.31"/><rect x="1274.4" y="990.9" width="2.7" height="5.4" fill="#fff" fill-opacity="0.37"/><rect x="1185.3" y="1074.6" width="2.7" height="2.7" fill="#28287a" fill-opacity="0.10"/><rect x="1223.1" y="1071.9" width="2.7" height="2.7" fill="#fff" fill-opacity="0.28"/><rect x="1331.1" y="1228.5" width="2.7" height="5.4" fill="#fff" fill-opacity="0.34"/><rect x="1360.8" y="1217.7" width="5.4" height="5.4" fill="#28287a" fill-opacity="0.15"/><rect x="1339.2" y="1063.8" width="2.7" height="5.4" fill="#fff" fill-opacity="0.33"/><rect x="1363.5" y="974.7" width="2.7" height="2.7" fill="#fff" fill-opacity="0.35"/><rect x="1174.5" y="999.0" width="5.4" height="2.7" fill="#28287a" fill-opacity="0.19"/><rect x="1155.6" y="963.9" width="2.7" height="2.7" fill="#fff" fill-opacity="0.17"/><rect x="1185.3" y="993.6" width="2.7" height="2.7" fill="#28287a" fill-opacity="0.18"/><rect x="1287.9" y="1125.9" width="5.4" height="2.7" fill="#fff" fill-opacity="0.27"/><rect x="1355.4" y="1015.2" width="2.7" height="2.7" fill="#28287a" fill-opacity="0.18"/><rect x="1204.2" y="985.5" width="2.7" height="2.7" fill="#28287a" fill-opacity="0.13"/><rect x="1331.1" y="1074.6" width="5.4" height="2.7" fill="#fff" fill-opacity="0.26"/><rect x="1198.8" y="999.0" width="2.7" height="2.7" fill="#fff" fill-opacity="0.17"/><rect x="1352.7" y="1069.2" width="5.4" height="5.4" fill="#28287a" fill-opacity="0.10"/><rect x="1185.3" y="1039.5" width="2.7" height="2.7" fill="#fff" fill-opacity="0.39"/><rect x="1285.2" y="1090.8" width="2.7" height="2.7" fill="#fff" fill-opacity="0.23"/><rect x="1155.6" y="955.8" width="2.7" height="2.7" fill="#28287a" fill-opacity="0.12"/><rect x="1260.9" y="966.6" width="2.7" height="5.4" fill="#fff" fill-opacity="0.25"/><rect x="1344.6" y="961.2" width="2.7" height="2.7" fill="#28287a" fill-opacity="0.15"/><rect x="1158.3" y="1017.9" width="2.7" height="5.4" fill="#28287a" fill-opacity="0.08"/><rect x="1236.6" y="963.9" width="2.7" height="5.4" fill="#fff" fill-opacity="0.39"/><rect x="1333.8" y="1228.5" width="2.7" height="2.7" fill="#fff" fill-opacity="0.23"/><rect x="1298.7" y="1134.0" width="2.7" height="5.4" fill="#28287a" fill-opacity="0.13"/><rect x="1341.9" y="1012.5" width="2.7" height="5.4" fill="#28287a" fill-opacity="0.10"/><rect x="1215.0" y="1015.2" width="2.7" height="5.4" fill="#fff" fill-opacity="0.20"/><rect x="1185.3" y="1026.0" width="2.7" height="2.7" fill="#28287a" fill-opacity="0.19"/><rect x="1136.7" y="999.0" width="2.7" height="2.7" fill="#fff" fill-opacity="0.18"/><rect x="1336.5" y="1169.1" width="2.7" height="5.4" fill="#fff" fill-opacity="0.19"/><rect x="1347.3" y="1093.5" width="5.4" height="2.7" fill="#fff" fill-opacity="0.32"/><rect x="1174.5" y="974.7" width="2.7" height="5.4" fill="#28287a" fill-opacity="0.15"/><rect x="1304.1" y="1107.0" width="2.7" height="2.7" fill="#fff" fill-opacity="0.26"/><rect x="1166.4" y="988.2" width="2.7" height="5.4" fill="#28287a" fill-opacity="0.14"/><rect x="1231.2" y="1074.6" width="2.7" height="2.7" fill="#fff" fill-opacity="0.31"/><rect x="1166.4" y="985.5" width="2.7" height="2.7" fill="#28287a" fill-opacity="0.11"/><rect x="1320.3" y="1004.4" width="5.4" height="2.7" fill="#fff" fill-opacity="0.19"/><rect x="1279.8" y="1047.6" width="2.7" height="5.4" fill="#28287a" fill-opacity="0.10"/><rect x="1282.5" y="1023.3" width="2.7" height="2.7" fill="#fff" fill-opacity="0.25"/><rect x="1355.4" y="1055.7" width="2.7" height="5.4" fill="#28287a" fill-opacity="0.10"/><rect x="1355.4" y="1215.0" width="5.4" height="2.7" fill="#fff" fill-opacity="0.35"/><rect x="1304.1" y="1098.9" width="2.7" height="2.7" fill="#fff" fill-opacity="0.34"/><rect x="1155.6" y="963.9" width="5.4" height="2.7" fill="#fff" fill-opacity="0.16"/><rect x="1166.4" y="1115.1" width="2.7" height="2.7" fill="#fff" fill-opacity="0.17"/><rect x="1123.2" y="1074.6" width="2.7" height="2.7" fill="#28287a" fill-opacity="0.16"/><rect x="1323.0" y="1039.5" width="5.4" height="2.7" fill="#28287a" fill-opacity="0.12"/><rect x="1331.1" y="1169.1" width="5.4" height="2.7" fill="#28287a" fill-opacity="0.10"/><rect x="1239.3" y="1080.0" width="2.7" height="5.4" fill="#fff" fill-opacity="0.22"/><rect x="1306.8" y="1017.9" width="2.7" height="2.7" fill="#fff" fill-opacity="0.31"/><rect x="1196.1" y="980.1" width="5.4" height="2.7" fill="#28287a" fill-opacity="0.15"/><rect x="1344.6" y="955.8" width="2.7" height="5.4" fill="#28287a" fill-opacity="0.13"/><rect x="1233.9" y="1028.7" width="5.4" height="2.7" fill="#28287a" fill-opacity="0.20"/><rect x="1155.6" y="1017.9" width="2.7" height="2.7" fill="#fff" fill-opacity="0.18"/><rect x="1341.9" y="1215.0" width="2.7" height="2.7" fill="#28287a" fill-opacity="0.16"/><rect x="1250.1" y="1098.9" width="5.4" height="2.7" fill="#fff" fill-opacity="0.16"/><rect x="1277.1" y="1123.2" width="2.7" height="5.4" fill="#28287a" fill-opacity="0.18"/><rect x="1320.3" y="993.6" width="2.7" height="5.4" fill="#fff" fill-opacity="0.28"/><rect x="1169.1" y="1007.1" width="5.4" height="5.4" fill="#28287a" fill-opacity="0.18"/><rect x="1247.4" y="1088.1" width="5.4" height="5.4" fill="#fff" fill-opacity="0.35"/><rect x="1344.6" y="1274.4" width="2.7" height="2.7" fill="#fff" fill-opacity="0.17"/><rect x="1179.9" y="1026.0" width="2.7" height="2.7" fill="#fff" fill-opacity="0.25"/><rect x="1271.7" y="1026.0" width="5.4" height="2.7" fill="#fff" fill-opacity="0.34"/><rect x="1174.5" y="966.6" width="2.7" height="5.4" fill="#fff" fill-opacity="0.28"/><rect x="1325.7" y="1042.2" width="5.4" height="2.7" fill="#fff" fill-opacity="0.33"/><rect x="1182.6" y="1055.7" width="5.4" height="2.7" fill="#fff" fill-opacity="0.30"/><rect x="1360.8" y="1174.5" width="2.7" height="5.4" fill="#fff" fill-opacity="0.16"/><rect x="1298.7" y="1147.5" width="2.7" height="5.4" fill="#fff" fill-opacity="0.22"/><rect x="1360.8" y="1250.1" width="2.7" height="5.4" fill="#28287a" fill-opacity="0.11"/><rect x="1339.2" y="972.0" width="5.4" height="2.7" fill="#28287a" fill-opacity="0.10"/><rect x="1312.2" y="1028.7" width="5.4" height="2.7" fill="#fff" fill-opacity="0.27"/><rect x="1161.0" y="1044.9" width="5.4" height="2.7" fill="#28287a" fill-opacity="0.09"/><rect x="1204.2" y="1004.4" width="2.7" height="5.4" fill="#28287a" fill-opacity="0.12"/><rect x="1209.6" y="1020.6" width="5.4" height="2.7" fill="#fff" fill-opacity="0.22"/><rect x="1263.6" y="977.4" width="5.4" height="2.7" fill="#fff" fill-opacity="0.24"/><rect x="1142.1" y="980.1" width="2.7" height="2.7" fill="#28287a" fill-opacity="0.10"/><rect x="1312.2" y="1036.8" width="5.4" height="2.7" fill="#28287a" fill-opacity="0.09"/><rect x="1306.8" y="1201.5" width="2.7" height="5.4" fill="#fff" fill-opacity="0.18"/><rect x="1312.2" y="980.1" width="2.7" height="5.4" fill="#fff" fill-opacity="0.39"/><rect x="1331.1" y="1069.2" width="2.7" height="2.7" fill="#28287a" fill-opacity="0.17"/><rect x="1333.8" y="1217.7" width="2.7" height="2.7" fill="#fff" fill-opacity="0.26"/><rect x="1158.3" y="1101.6" width="5.4" height="5.4" fill="#fff" fill-opacity="0.37"/><rect x="1131.3" y="985.5" width="2.7" height="5.4" fill="#fff" fill-opacity="0.17"/><rect x="1339.2" y="1182.6" width="2.7" height="2.7" fill="#fff" fill-opacity="0.36"/><rect x="1304.1" y="982.8" width="2.7" height="5.4" fill="#fff" fill-opacity="0.16"/><rect x="1287.9" y="1004.4" width="2.7" height="5.4" fill="#fff" fill-opacity="0.29"/><rect x="1161.0" y="969.3" width="2.7" height="2.7" fill="#28287a" fill-opacity="0.15"/><rect x="1171.8" y="1001.7" width="2.7" height="2.7" fill="#fff" fill-opacity="0.22"/><rect x="1290.6" y="1125.9" width="2.7" height="2.7" fill="#fff" fill-opacity="0.19"/><rect x="1260.9" y="977.4" width="2.7" height="5.4" fill="#28287a" fill-opacity="0.18"/><rect x="1341.9" y="1198.8" width="2.7" height="5.4" fill="#28287a" fill-opacity="0.11"/><rect x="1336.5" y="1015.2" width="2.7" height="2.7" fill="#fff" fill-opacity="0.40"/><rect x="1344.6" y="1128.6" width="5.4" height="5.4" fill="#fff" fill-opacity="0.27"/><rect x="1158.3" y="966.6" width="2.7" height="2.7" fill="#28287a" fill-opacity="0.17"/><rect x="1236.6" y="1004.4" width="2.7" height="2.7" fill="#fff" fill-opacity="0.36"/><rect x="1287.9" y="1096.2" width="2.7" height="2.7" fill="#fff" fill-opacity="0.16"/><rect x="1363.5" y="1225.8" width="5.4" height="2.7" fill="#fff" fill-opacity="0.16"/><rect x="1347.3" y="972.0" width="2.7" height="2.7" fill="#fff" fill-opacity="0.30"/><rect x="1331.1" y="1098.9" width="5.4" height="2.7" fill="#fff" fill-opacity="0.33"/><rect x="1331.1" y="1179.9" width="2.7" height="5.4" fill="#28287a" fill-opacity="0.14"/><rect x="1269.0" y="1012.5" width="2.7" height="2.7" fill="#fff" fill-opacity="0.31"/><rect x="1323.0" y="1260.9" width="2.7" height="2.7" fill="#fff" fill-opacity="0.33"/><rect x="1323.0" y="988.2" width="2.7" height="2.7" fill="#fff" fill-opacity="0.33"/><rect x="1147.5" y="1085.4" width="2.7" height="2.7" fill="#28287a" fill-opacity="0.15"/><rect x="1142.1" y="1061.1" width="2.7" height="5.4" fill="#fff" fill-opacity="0.32"/><rect x="1285.2" y="1066.5" width="2.7" height="5.4" fill="#28287a" fill-opacity="0.17"/><rect x="1363.5" y="969.3" width="2.7" height="5.4" fill="#fff" fill-opacity="0.24"/><rect x="1306.8" y="955.8" width="2.7" height="2.7" fill="#fff" fill-opacity="0.30"/><rect x="1350.0" y="1279.8" width="2.7" height="5.4" fill="#28287a" fill-opacity="0.15"/><rect x="1223.1" y="1017.9" width="5.4" height="2.7" fill="#fff" fill-opacity="0.24"/><rect x="1306.8" y="1069.2" width="5.4" height="2.7" fill="#28287a" fill-opacity="0.09"/><rect x="1258.2" y="1053.0" width="2.7" height="2.7" fill="#28287a" fill-opacity="0.13"/><rect x="1304.1" y="1061.1" width="5.4" height="2.7" fill="#28287a" fill-opacity="0.14"/><rect x="1185.3" y="1023.3" width="2.7" height="2.7" fill="#28287a" fill-opacity="0.13"/><rect x="1217.7" y="1036.8" width="2.7" height="2.7" fill="#fff" fill-opacity="0.30"/><rect x="1123.2" y="1050.3" width="2.7" height="2.7" fill="#28287a" fill-opacity="0.16"/><rect x="1317.6" y="1123.2" width="2.7" height="2.7" fill="#fff" fill-opacity="0.36"/><rect x="1336.5" y="1247.4" width="5.4" height="5.4" fill="#28287a" fill-opacity="0.10"/><rect x="1358.1" y="1115.1" width="5.4" height="2.7" fill="#fff" fill-opacity="0.25"/><rect x="1328.4" y="1252.8" width="2.7" height="2.7" fill="#28287a" fill-opacity="0.16"/><rect x="1298.7" y="982.8" width="5.4" height="2.7" fill="#28287a" fill-opacity="0.10"/><rect x="1347.3" y="1107.0" width="5.4" height="5.4" fill="#28287a" fill-opacity="0.08"/><rect x="1344.6" y="1004.4" width="2.7" height="2.7" fill="#fff" fill-opacity="0.16"/><rect x="1314.9" y="958.5" width="5.4" height="2.7" fill="#28287a" fill-opacity="0.14"/><rect x="1352.7" y="1258.2" width="2.7" height="2.7" fill="#28287a" fill-opacity="0.19"/><rect x="1298.7" y="982.8" width="5.4" height="5.4" fill="#28287a" fill-opacity="0.19"/><rect x="1317.6" y="950.4" width="2.7" height="5.4" fill="#fff" fill-opacity="0.28"/><rect x="1323.0" y="1225.8" width="2.7" height="2.7" fill="#fff" fill-opacity="0.33"/><rect x="1258.2" y="1009.8" width="2.7" height="5.4" fill="#fff" fill-opacity="0.36"/><rect x="1360.8" y="1250.1" width="2.7" height="2.7" fill="#28287a" fill-opacity="0.20"/><rect x="1128.6" y="1004.4" width="2.7" height="2.7" fill="#28287a" fill-opacity="0.12"/><rect x="1142.1" y="1047.6" width="2.7" height="5.4" fill="#fff" fill-opacity="0.35"/><rect x="1296.0" y="1161.0" width="2.7" height="2.7" fill="#28287a" fill-opacity="0.09"/><rect x="1323.0" y="1077.3" width="2.7" height="2.7" fill="#28287a" fill-opacity="0.16"/><rect x="1287.9" y="1147.5" width="5.4" height="2.7" fill="#28287a" fill-opacity="0.13"/><rect x="1298.7" y="1015.2" width="2.7" height="5.4" fill="#fff" fill-opacity="0.34"/><rect x="1352.7" y="1258.2" width="2.7" height="2.7" fill="#fff" fill-opacity="0.37"/><rect x="1312.2" y="1058.4" width="2.7" height="2.7" fill="#fff" fill-opacity="0.37"/><rect x="1228.5" y="1069.2" width="2.7" height="5.4" fill="#28287a" fill-opacity="0.13"/><rect x="1136.7" y="1020.6" width="2.7" height="2.7" fill="#28287a" fill-opacity="0.09"/><rect x="1258.2" y="1031.4" width="2.7" height="2.7" fill="#fff" fill-opacity="0.29"/><rect x="1266.3" y="1050.3" width="5.4" height="2.7" fill="#28287a" fill-opacity="0.17"/><rect x="1190.7" y="1023.3" width="2.7" height="5.4" fill="#28287a" fill-opacity="0.15"/><rect x="1185.3" y="1074.6" width="2.7" height="2.7" fill="#fff" fill-opacity="0.31"/><rect x="1358.1" y="1166.4" width="5.4" height="2.7" fill="#fff" fill-opacity="0.21"/><rect x="1352.7" y="1215.0" width="2.7" height="2.7" fill="#28287a" fill-opacity="0.09"/><rect x="1360.8" y="1066.5" width="5.4" height="5.4" fill="#28287a" fill-opacity="0.19"/><rect x="1155.6" y="1107.0" width="2.7" height="5.4" fill="#28287a" fill-opacity="0.17"/><rect x="1287.9" y="988.2" width="2.7" height="2.7" fill="#28287a" fill-opacity="0.15"/><rect x="1182.6" y="955.8" width="5.4" height="2.7" fill="#28287a" fill-opacity="0.14"/><rect x="1355.4" y="1007.1" width="2.7" height="2.7" fill="#28287a" fill-opacity="0.12"/><rect x="1347.3" y="1196.1" width="2.7" height="2.7" fill="#28287a" fill-opacity="0.18"/><rect x="1360.8" y="1158.3" width="2.7" height="2.7" fill="#fff" fill-opacity="0.36"/><rect x="1161.0" y="969.3" width="5.4" height="5.4" fill="#28287a" fill-opacity="0.13"/><rect x="1306.8" y="993.6" width="2.7" height="5.4" fill="#fff" fill-opacity="0.33"/><rect x="1144.8" y="977.4" width="2.7" height="5.4" fill="#28287a" fill-opacity="0.12"/><rect x="1152.9" y="1107.0" width="2.7" height="2.7" fill="#28287a" fill-opacity="0.19"/><rect x="1274.4" y="1090.8" width="2.7" height="2.7" fill="#fff" fill-opacity="0.17"/><rect x="1298.7" y="1012.5" width="2.7" height="2.7" fill="#fff" fill-opacity="0.19"/><rect x="1360.8" y="1220.4" width="2.7" height="2.7" fill="#28287a" fill-opacity="0.09"/><rect x="1171.8" y="1109.7" width="2.7" height="5.4" fill="#fff" fill-opacity="0.31"/><rect x="1301.4" y="990.9" width="2.7" height="5.4" fill="#28287a" fill-opacity="0.08"/><rect x="1341.9" y="1250.1" width="5.4" height="2.7" fill="#28287a" fill-opacity="0.10"/><rect x="1217.7" y="950.4" width="2.7" height="2.7" fill="#28287a" fill-opacity="0.16"/><rect x="1282.5" y="1034.1" width="2.7" height="2.7" fill="#fff" fill-opacity="0.31"/><rect x="1320.3" y="1204.2" width="2.7" height="5.4" fill="#fff" fill-opacity="0.17"/><rect x="1134.0" y="1066.5" width="2.7" height="2.7" fill="#fff" fill-opacity="0.40"/><rect x="1285.2" y="1134.0" width="5.4" height="2.7" fill="#28287a" fill-opacity="0.14"/><rect x="1352.7" y="1050.3" width="2.7" height="5.4" fill="#fff" fill-opacity="0.19"/><rect x="1233.9" y="988.2" width="2.7" height="2.7" fill="#fff" fill-opacity="0.36"/><rect x="1314.9" y="1206.9" width="2.7" height="2.7" fill="#fff" fill-opacity="0.16"/><rect x="1347.3" y="1271.7" width="2.7" height="5.4" fill="#28287a" fill-opacity="0.19"/><rect x="1269.0" y="1004.4" width="2.7" height="5.4" fill="#fff" fill-opacity="0.23"/><rect x="1158.3" y="1007.1" width="2.7" height="5.4" fill="#fff" fill-opacity="0.18"/><rect x="1244.7" y="1071.9" width="2.7" height="5.4" fill="#28287a" fill-opacity="0.19"/><rect x="1163.7" y="1044.9" width="2.7" height="5.4" fill="#28287a" fill-opacity="0.15"/><rect x="1171.8" y="1023.3" width="2.7" height="2.7" fill="#28287a" fill-opacity="0.19"/><rect x="1269.0" y="1093.5" width="2.7" height="5.4" fill="#fff" fill-opacity="0.20"/><rect x="1304.1" y="1109.7" width="2.7" height="2.7" fill="#28287a" fill-opacity="0.08"/><rect x="1341.9" y="1101.6" width="5.4" height="2.7" fill="#fff" fill-opacity="0.22"/><rect x="1155.6" y="969.3" width="2.7" height="5.4" fill="#28287a" fill-opacity="0.13"/><rect x="1301.4" y="1144.8" width="2.7" height="2.7" fill="#28287a" fill-opacity="0.13"/><rect x="1355.4" y="966.6" width="2.7" height="2.7" fill="#28287a" fill-opacity="0.10"/><rect x="1336.5" y="1069.2" width="2.7" height="2.7" fill="#28287a" fill-opacity="0.16"/><rect x="1147.5" y="1026.0" width="2.7" height="5.4" fill="#fff" fill-opacity="0.24"/><rect x="1228.5" y="1080.0" width="5.4" height="5.4" fill="#fff" fill-opacity="0.28"/><rect x="1328.4" y="1244.7" width="2.7" height="5.4" fill="#28287a" fill-opacity="0.11"/><rect x="1347.3" y="999.0" width="2.7" height="2.7" fill="#28287a" fill-opacity="0.18"/><rect x="1166.4" y="950.4" width="2.7" height="2.7" fill="#28287a" fill-opacity="0.15"/><rect x="1350.0" y="1152.9" width="2.7" height="5.4" fill="#28287a" fill-opacity="0.11"/><rect x="1304.1" y="1080.0" width="5.4" height="2.7" fill="#28287a" fill-opacity="0.13"/><rect x="1355.4" y="1206.9" width="2.7" height="5.4" fill="#fff" fill-opacity="0.16"/><rect x="1260.9" y="1107.0" width="2.7" height="5.4" fill="#28287a" fill-opacity="0.14"/><rect x="1290.6" y="1020.6" width="2.7" height="5.4" fill="#fff" fill-opacity="0.25"/><rect x="1277.1" y="1069.2" width="2.7" height="2.7" fill="#fff" fill-opacity="0.32"/><rect x="1225.8" y="988.2" width="2.7" height="5.4" fill="#28287a" fill-opacity="0.09"/><rect x="1287.9" y="1117.8" width="5.4" height="2.7" fill="#28287a" fill-opacity="0.19"/><rect x="1198.8" y="988.2" width="2.7" height="2.7" fill="#28287a" fill-opacity="0.14"/><rect x="1317.6" y="1017.9" width="2.7" height="2.7" fill="#28287a" fill-opacity="0.18"/><rect x="1136.7" y="1063.8" width="2.7" height="2.7" fill="#28287a" fill-opacity="0.09"/><rect x="1336.5" y="1139.4" width="5.4" height="5.4" fill="#fff" fill-opacity="0.23"/><rect x="1358.1" y="950.4" width="2.7" height="5.4" fill="#28287a" fill-opacity="0.17"/><rect x="1136.7" y="1004.4" width="2.7" height="2.7" fill="#28287a" fill-opacity="0.18"/><rect x="1360.8" y="1247.4" width="2.7" height="2.7" fill="#fff" fill-opacity="0.31"/><rect x="1293.3" y="1134.0" width="2.7" height="5.4" fill="#28287a" fill-opacity="0.14"/><rect x="1163.7" y="1036.8" width="2.7" height="5.4" fill="#fff" fill-opacity="0.30"/><rect x="1242.0" y="1028.7" width="5.4" height="2.7" fill="#28287a" fill-opacity="0.17"/><rect x="1328.4" y="977.4" width="2.7" height="2.7" fill="#fff" fill-opacity="0.29"/><rect x="1333.8" y="1177.2" width="2.7" height="5.4" fill="#fff" fill-opacity="0.37"/><rect x="1352.7" y="1144.8" width="2.7" height="2.7" fill="#28287a" fill-opacity="0.09"/><rect x="1258.2" y="977.4" width="2.7" height="2.7" fill="#28287a" fill-opacity="0.10"/><rect x="1320.3" y="993.6" width="2.7" height="5.4" fill="#fff" fill-opacity="0.31"/><rect x="1266.3" y="993.6" width="2.7" height="5.4" fill="#fff" fill-opacity="0.15"/><rect x="1304.1" y="1047.6" width="5.4" height="2.7" fill="#28287a" fill-opacity="0.15"/><rect x="1182.6" y="955.8" width="2.7" height="2.7" fill="#28287a" fill-opacity="0.12"/><rect x="1244.7" y="1042.2" width="2.7" height="2.7" fill="#fff" fill-opacity="0.39"/><rect x="1182.6" y="1080.0" width="2.7" height="5.4" fill="#fff" fill-opacity="0.27"/><rect x="1185.3" y="1028.7" width="2.7" height="5.4" fill="#28287a" fill-opacity="0.08"/><rect x="1301.4" y="969.3" width="2.7" height="5.4" fill="#fff" fill-opacity="0.25"/><rect x="1358.1" y="1096.2" width="5.4" height="5.4" fill="#fff" fill-opacity="0.17"/><rect x="1312.2" y="1074.6" width="2.7" height="2.7" fill="#fff" fill-opacity="0.18"/><rect x="1139.4" y="955.8" width="5.4" height="2.7" fill="#fff" fill-opacity="0.18"/><rect x="1312.2" y="1177.2" width="2.7" height="2.7" fill="#28287a" fill-opacity="0.10"/><rect x="1301.4" y="993.6" width="5.4" height="2.7" fill="#fff" fill-opacity="0.38"/><rect x="1144.8" y="1028.7" width="2.7" height="2.7" fill="#28287a" fill-opacity="0.11"/><rect x="1333.8" y="999.0" width="2.7" height="5.4" fill="#fff" fill-opacity="0.31"/><rect x="1139.4" y="1090.8" width="2.7" height="2.7" fill="#28287a" fill-opacity="0.09"/><rect x="1260.9" y="1042.2" width="2.7" height="2.7" fill="#fff" fill-opacity="0.19"/><rect x="1161.0" y="993.6" width="5.4" height="2.7" fill="#28287a" fill-opacity="0.13"/><rect x="1139.4" y="1017.9" width="2.7" height="2.7" fill="#28287a" fill-opacity="0.08"/><rect x="1355.4" y="1196.1" width="2.7" height="2.7" fill="#fff" fill-opacity="0.23"/><rect x="1317.6" y="1020.6" width="2.7" height="2.7" fill="#fff" fill-opacity="0.22"/><rect x="1309.5" y="996.3" width="5.4" height="5.4" fill="#28287a" fill-opacity="0.08"/><rect x="1317.6" y="980.1" width="5.4" height="2.7" fill="#fff" fill-opacity="0.17"/><rect x="1231.2" y="999.0" width="2.7" height="2.7" fill="#28287a" fill-opacity="0.17"/><rect x="1341.9" y="1028.7" width="2.7" height="5.4" fill="#28287a" fill-opacity="0.18"/><rect x="1247.4" y="1012.5" width="5.4" height="2.7" fill="#28287a" fill-opacity="0.13"/><rect x="1323.0" y="1206.9" width="2.7" height="5.4" fill="#28287a" fill-opacity="0.13"/><rect x="1217.7" y="1061.1" width="2.7" height="5.4" fill="#fff" fill-opacity="0.17"/><rect x="1252.8" y="1020.6" width="2.7" height="5.4" fill="#28287a" fill-opacity="0.14"/><rect x="1355.4" y="1174.5" width="2.7" height="2.7" fill="#fff" fill-opacity="0.35"/><rect x="1266.3" y="966.6" width="5.4" height="2.7" fill="#fff" fill-opacity="0.38"/><rect x="1363.5" y="1263.6" width="2.7" height="2.7" fill="#28287a" fill-opacity="0.15"/><rect x="1242.0" y="1069.2" width="5.4" height="2.7" fill="#fff" fill-opacity="0.20"/><rect x="1255.5" y="1098.9" width="2.7" height="2.7" fill="#28287a" fill-opacity="0.11"/><rect x="1301.4" y="950.4" width="5.4" height="2.7" fill="#28287a" fill-opacity="0.08"/><rect x="1163.7" y="1026.0" width="2.7" height="2.7" fill="#28287a" fill-opacity="0.15"/><rect x="1325.7" y="1242.0" width="2.7" height="5.4" fill="#fff" fill-opacity="0.18"/><rect x="1304.1" y="1053.0" width="2.7" height="5.4" fill="#28287a" fill-opacity="0.20"/><rect x="1363.5" y="1020.6" width="5.4" height="5.4" fill="#28287a" fill-opacity="0.11"/><rect x="1350.0" y="955.8" width="2.7" height="5.4" fill="#28287a" fill-opacity="0.16"/><rect x="1147.5" y="1042.2" width="2.7" height="2.7" fill="#28287a" fill-opacity="0.18"/><rect x="1333.8" y="1036.8" width="2.7" height="2.7" fill="#28287a" fill-opacity="0.14"/><rect x="1333.8" y="1085.4" width="5.4" height="2.7" fill="#28287a" fill-opacity="0.17"/><rect x="1282.5" y="1093.5" width="2.7" height="2.7" fill="#fff" fill-opacity="0.19"/><rect x="1306.8" y="1088.1" width="2.7" height="5.4" fill="#28287a" fill-opacity="0.17"/><rect x="1128.6" y="1039.5" width="5.4" height="2.7" fill="#28287a" fill-opacity="0.19"/><rect x="1271.7" y="1017.9" width="2.7" height="2.7" fill="#28287a" fill-opacity="0.16"/><rect x="1304.1" y="1134.0" width="2.7" height="5.4" fill="#fff" fill-opacity="0.19"/><rect x="1282.5" y="1058.4" width="2.7" height="2.7" fill="#28287a" fill-opacity="0.18"/><rect x="1198.8" y="1055.7" width="5.4" height="5.4" fill="#fff" fill-opacity="0.39"/><rect x="1263.6" y="980.1" width="5.4" height="2.7" fill="#28287a" fill-opacity="0.14"/><rect x="1347.3" y="953.1" width="2.7" height="5.4" fill="#fff" fill-opacity="0.30"/><rect x="1336.5" y="1088.1" width="2.7" height="2.7" fill="#fff" fill-opacity="0.35"/><rect x="1331.1" y="1201.5" width="5.4" height="2.7" fill="#28287a" fill-opacity="0.17"/><rect x="1331.1" y="1080.0" width="5.4" height="5.4" fill="#28287a" fill-opacity="0.14"/><rect x="1336.5" y="1193.4" width="2.7" height="2.7" fill="#fff" fill-opacity="0.37"/><rect x="1298.7" y="1017.9" width="2.7" height="2.7" fill="#fff" fill-opacity="0.33"/><rect x="1250.1" y="1007.1" width="2.7" height="2.7" fill="#fff" fill-opacity="0.20"/><rect x="1298.7" y="1026.0" width="2.7" height="2.7" fill="#fff" fill-opacity="0.20"/><rect x="1325.7" y="1223.1" width="2.7" height="2.7" fill="#28287a" fill-opacity="0.14"/><rect x="1341.9" y="1034.1" width="2.7" height="5.4" fill="#28287a" fill-opacity="0.10"/><rect x="1323.0" y="1047.6" width="2.7" height="2.7" fill="#fff" fill-opacity="0.40"/><rect x="1325.7" y="1252.8" width="2.7" height="5.4" fill="#28287a" fill-opacity="0.17"/><rect x="1293.3" y="1007.1" width="2.7" height="2.7" fill="#fff" fill-opacity="0.16"/><rect x="1358.1" y="1212.3" width="2.7" height="5.4" fill="#fff" fill-opacity="0.32"/><rect x="1125.9" y="972.0" width="2.7" height="2.7" fill="#28287a" fill-opacity="0.09"/><rect x="1328.4" y="1220.4" width="2.7" height="2.7" fill="#fff" fill-opacity="0.19"/><rect x="1325.7" y="1115.1" width="2.7" height="5.4" fill="#28287a" fill-opacity="0.15"/><rect x="1339.2" y="1004.4" width="2.7" height="2.7" fill="#28287a" fill-opacity="0.18"/><rect x="1188.0" y="1015.2" width="2.7" height="2.7" fill="#fff" fill-opacity="0.38"/><rect x="1328.4" y="1101.6" width="5.4" height="5.4" fill="#28287a" fill-opacity="0.12"/><rect x="1344.6" y="958.5" width="2.7" height="2.7" fill="#fff" fill-opacity="0.29"/><rect x="1358.1" y="1198.8" width="2.7" height="2.7" fill="#28287a" fill-opacity="0.19"/><rect x="1142.1" y="1004.4" width="2.7" height="2.7" fill="#fff" fill-opacity="0.16"/><rect x="1142.1" y="1050.3" width="5.4" height="2.7" fill="#fff" fill-opacity="0.37"/><rect x="1355.4" y="1179.9" width="2.7" height="2.7" fill="#fff" fill-opacity="0.31"/><rect x="1339.2" y="1250.1" width="2.7" height="2.7" fill="#fff" fill-opacity="0.26"/><rect x="1360.8" y="1047.6" width="2.7" height="2.7" fill="#fff" fill-opacity="0.17"/><rect x="1309.5" y="996.3" width="2.7" height="5.4" fill="#fff" fill-opacity="0.34"/><rect x="1123.2" y="1009.8" width="2.7" height="5.4" fill="#28287a" fill-opacity="0.15"/><rect x="1123.2" y="974.7" width="2.7" height="2.7" fill="#28287a" fill-opacity="0.18"/><rect x="1136.7" y="1036.8" width="5.4" height="5.4" fill="#28287a" fill-opacity="0.12"/><rect x="1350.0" y="1233.9" width="5.4" height="5.4" fill="#28287a" fill-opacity="0.13"/><rect x="1152.9" y="1090.8" width="2.7" height="5.4" fill="#28287a" fill-opacity="0.16"/><rect x="1125.9" y="1026.0" width="2.7" height="2.7" fill="#fff" fill-opacity="0.33"/><rect x="1347.3" y="977.4" width="5.4" height="2.7" fill="#fff" fill-opacity="0.34"/><rect x="1344.6" y="1074.6" width="2.7" height="2.7" fill="#28287a" fill-opacity="0.15"/><rect x="1277.1" y="1036.8" width="5.4" height="2.7" fill="#fff" fill-opacity="0.27"/><rect x="1169.1" y="977.4" width="2.7" height="2.7" fill="#fff" fill-opacity="0.40"/><rect x="1239.3" y="966.6" width="2.7" height="2.7" fill="#28287a" fill-opacity="0.09"/><rect x="1260.9" y="1109.7" width="2.7" height="2.7" fill="#fff" fill-opacity="0.31"/><rect x="1244.7" y="982.8" width="5.4" height="2.7" fill="#fff" fill-opacity="0.37"/><rect x="1344.6" y="1125.9" width="2.7" height="2.7" fill="#28287a" fill-opacity="0.14"/><rect x="1304.1" y="1061.1" width="5.4" height="2.7" fill="#fff" fill-opacity="0.31"/><rect x="1252.8" y="1104.3" width="2.7" height="5.4" fill="#fff" fill-opacity="0.32"/><rect x="1339.2" y="1085.4" width="2.7" height="5.4" fill="#fff" fill-opacity="0.40"/><rect x="1363.5" y="1282.5" width="2.7" height="2.7" fill="#fff" fill-opacity="0.34"/><rect x="1244.7" y="1023.3" width="2.7" height="2.7" fill="#fff" fill-opacity="0.31"/><rect x="1179.9" y="1042.2" width="2.7" height="2.7" fill="#fff" fill-opacity="0.16"/><rect x="1185.3" y="1071.9" width="2.7" height="2.7" fill="#fff" fill-opacity="0.29"/><rect x="1250.1" y="1088.1" width="2.7" height="2.7" fill="#fff" fill-opacity="0.34"/><rect x="1363.5" y="1228.5" width="2.7" height="5.4" fill="#28287a" fill-opacity="0.20"/><rect x="1220.4" y="961.2" width="2.7" height="2.7" fill="#fff" fill-opacity="0.16"/><rect x="1325.7" y="1128.6" width="2.7" height="2.7" fill="#28287a" fill-opacity="0.08"/><rect x="1169.1" y="1036.8" width="2.7" height="5.4" fill="#28287a" fill-opacity="0.10"/><rect x="1309.5" y="1185.3" width="5.4" height="2.7" fill="#28287a" fill-opacity="0.10"/><rect x="1360.8" y="1026.0" width="2.7" height="5.4" fill="#fff" fill-opacity="0.31"/><rect x="1358.1" y="1104.3" width="2.7" height="2.7" fill="#28287a" fill-opacity="0.09"/><rect x="1174.5" y="1071.9" width="2.7" height="2.7" fill="#28287a" fill-opacity="0.15"/><rect x="1331.1" y="982.8" width="2.7" height="2.7" fill="#28287a" fill-opacity="0.10"/><rect x="1317.6" y="1050.3" width="2.7" height="2.7" fill="#fff" fill-opacity="0.31"/><rect x="1298.7" y="1055.7" width="2.7" height="2.7" fill="#fff" fill-opacity="0.24"/><rect x="1198.8" y="1020.6" width="2.7" height="2.7" fill="#fff" fill-opacity="0.30"/><rect x="1341.9" y="1031.4" width="2.7" height="5.4" fill="#fff" fill-opacity="0.31"/><rect x="1314.9" y="1206.9" width="2.7" height="5.4" fill="#fff" fill-opacity="0.32"/><rect x="1242.0" y="1023.3" width="2.7" height="2.7" fill="#fff" fill-opacity="0.34"/><rect x="1274.4" y="1044.9" width="2.7" height="2.7" fill="#fff" fill-opacity="0.39"/><rect x="1144.8" y="1071.9" width="2.7" height="5.4" fill="#fff" fill-opacity="0.25"/><rect x="1171.8" y="1066.5" width="2.7" height="2.7" fill="#fff" fill-opacity="0.16"/><rect x="1293.3" y="1004.4" width="5.4" height="5.4" fill="#28287a" fill-opacity="0.16"/><rect x="1242.0" y="958.5" width="2.7" height="2.7" fill="#28287a" fill-opacity="0.20"/><rect x="1263.6" y="1042.2" width="2.7" height="2.7" fill="#fff" fill-opacity="0.37"/><rect x="1290.6" y="996.3" width="2.7" height="2.7" fill="#28287a" fill-opacity="0.18"/><rect x="1306.8" y="1071.9" width="5.4" height="2.7" fill="#fff" fill-opacity="0.22"/><rect x="1287.9" y="988.2" width="2.7" height="2.7" fill="#28287a" fill-opacity="0.18"/><rect x="1363.5" y="1258.2" width="2.7" height="5.4" fill="#28287a" fill-opacity="0.17"/><rect x="1228.5" y="974.7" width="2.7" height="2.7" fill="#28287a" fill-opacity="0.14"/><rect x="1190.7" y="1061.1" width="2.7" height="2.7" fill="#28287a" fill-opacity="0.19"/><rect x="1128.6" y="966.6" width="5.4" height="5.4" fill="#28287a" fill-opacity="0.13"/><rect x="1231.2" y="1063.8" width="2.7" height="2.7" fill="#fff" fill-opacity="0.31"/><rect x="1193.4" y="982.8" width="2.7" height="2.7" fill="#fff" fill-opacity="0.16"/><rect x="1339.2" y="955.8" width="2.7" height="5.4" fill="#fff" fill-opacity="0.29"/><rect x="1174.5" y="950.4" width="2.7" height="2.7" fill="#fff" fill-opacity="0.25"/><rect x="1266.3" y="1090.8" width="5.4" height="2.7" fill="#fff" fill-opacity="0.24"/><rect x="1190.7" y="999.0" width="5.4" height="2.7" fill="#fff" fill-opacity="0.37"/><rect x="1287.9" y="963.9" width="2.7" height="5.4" fill="#fff" fill-opacity="0.33"/><rect x="1220.4" y="955.8" width="2.7" height="2.7" fill="#28287a" fill-opacity="0.15"/><rect x="1150.2" y="1085.4" width="2.7" height="2.7" fill="#28287a" fill-opacity="0.11"/><rect x="1125.9" y="993.6" width="2.7" height="2.7" fill="#fff" fill-opacity="0.27"/><rect x="1212.3" y="1036.8" width="2.7" height="2.7" fill="#fff" fill-opacity="0.37"/><rect x="1282.5" y="974.7" width="2.7" height="2.7" fill="#fff" fill-opacity="0.24"/><rect x="1147.5" y="1071.9" width="2.7" height="2.7" fill="#28287a" fill-opacity="0.08"/><rect x="1169.1" y="1061.1" width="2.7" height="2.7" fill="#28287a" fill-opacity="0.12"/><rect x="1309.5" y="1169.1" width="2.7" height="5.4" fill="#fff" fill-opacity="0.38"/><rect x="1328.4" y="1263.6" width="2.7" height="2.7" fill="#28287a" fill-opacity="0.15"/><rect x="1155.6" y="1007.1" width="2.7" height="2.7" fill="#fff" fill-opacity="0.39"/><rect x="1320.3" y="1150.2" width="2.7" height="5.4" fill="#28287a" fill-opacity="0.10"/><rect x="1125.9" y="969.3" width="2.7" height="5.4" fill="#fff" fill-opacity="0.33"/><rect x="1328.4" y="1071.9" width="5.4" height="5.4" fill="#fff" fill-opacity="0.23"/><rect x="1358.1" y="1007.1" width="2.7" height="2.7" fill="#fff" fill-opacity="0.29"/><rect x="1347.3" y="1242.0" width="5.4" height="2.7" fill="#28287a" fill-opacity="0.09"/><rect x="1198.8" y="1036.8" width="2.7" height="2.7" fill="#fff" fill-opacity="0.23"/><rect x="1347.3" y="1163.7" width="5.4" height="5.4" fill="#fff" fill-opacity="0.17"/><rect x="1344.6" y="985.5" width="2.7" height="2.7" fill="#fff" fill-opacity="0.36"/><rect x="1360.8" y="1163.7" width="2.7" height="5.4" fill="#fff" fill-opacity="0.23"/><rect x="1323.0" y="961.2" width="2.7" height="2.7" fill="#fff" fill-opacity="0.18"/><rect x="1360.8" y="1125.9" width="2.7" height="2.7" fill="#fff" fill-opacity="0.25"/><rect x="1314.9" y="1101.6" width="2.7" height="2.7" fill="#fff" fill-opacity="0.36"/><rect x="1128.6" y="1017.9" width="2.7" height="2.7" fill="#fff" fill-opacity="0.37"/><rect x="1333.8" y="1050.3" width="5.4" height="2.7" fill="#fff" fill-opacity="0.29"/><rect x="1212.3" y="1020.6" width="2.7" height="2.7" fill="#fff" fill-opacity="0.31"/><rect x="1320.3" y="1009.8" width="5.4" height="2.7" fill="#fff" fill-opacity="0.18"/><rect x="1269.0" y="1034.1" width="2.7" height="2.7" fill="#fff" fill-opacity="0.24"/><rect x="1360.8" y="1204.2" width="5.4" height="2.7" fill="#fff" fill-opacity="0.22"/><rect x="1263.6" y="1044.9" width="5.4" height="5.4" fill="#fff" fill-opacity="0.30"/><rect x="1328.4" y="974.7" width="2.7" height="2.7" fill="#fff" fill-opacity="0.23"/><rect x="1325.7" y="1001.7" width="2.7" height="5.4" fill="#fff" fill-opacity="0.23"/><rect x="1147.5" y="996.3" width="2.7" height="5.4" fill="#28287a" fill-opacity="0.19"/><rect x="1341.9" y="1144.8" width="5.4" height="2.7" fill="#fff" fill-opacity="0.17"/><rect x="1190.7" y="1074.6" width="2.7" height="2.7" fill="#fff" fill-opacity="0.29"/><rect x="1339.2" y="1242.0" width="5.4" height="2.7" fill="#28287a" fill-opacity="0.10"/><rect x="1269.0" y="1004.4" width="5.4" height="5.4" fill="#fff" fill-opacity="0.32"/><rect x="1344.6" y="1082.7" width="2.7" height="2.7" fill="#28287a" fill-opacity="0.19"/><rect x="1242.0" y="1031.4" width="2.7" height="5.4" fill="#fff" fill-opacity="0.34"/><rect x="1314.9" y="974.7" width="5.4" height="2.7" fill="#28287a" fill-opacity="0.18"/><rect x="1301.4" y="1039.5" width="2.7" height="2.7" fill="#28287a" fill-opacity="0.19"/><rect x="1344.6" y="1255.5" width="2.7" height="5.4" fill="#28287a" fill-opacity="0.08"/><rect x="1260.9" y="1036.8" width="5.4" height="2.7" fill="#28287a" fill-opacity="0.10"/><rect x="1285.2" y="1101.6" width="2.7" height="2.7" fill="#fff" fill-opacity="0.25"/><rect x="1309.5" y="977.4" width="2.7" height="5.4" fill="#28287a" fill-opacity="0.14"/><rect x="1328.4" y="1169.1" width="2.7" height="2.7" fill="#fff" fill-opacity="0.37"/><rect x="1363.5" y="1163.7" width="2.7" height="2.7" fill="#28287a" fill-opacity="0.15"/><rect x="1177.2" y="1053.0" width="2.7" height="5.4" fill="#fff" fill-opacity="0.24"/><rect x="1134.0" y="961.2" width="2.7" height="2.7" fill="#28287a" fill-opacity="0.10"/><rect x="1341.9" y="1161.0" width="2.7" height="2.7" fill="#28287a" fill-opacity="0.08"/><rect x="1323.0" y="1242.0" width="2.7" height="2.7" fill="#fff" fill-opacity="0.32"/><rect x="1269.0" y="1042.2" width="2.7" height="2.7" fill="#28287a" fill-opacity="0.18"/><rect x="1320.3" y="999.0" width="5.4" height="5.4" fill="#28287a" fill-opacity="0.15"/><rect x="1279.8" y="1023.3" width="2.7" height="2.7" fill="#28287a" fill-opacity="0.11"/><rect x="1150.2" y="1017.9" width="2.7" height="2.7" fill="#fff" fill-opacity="0.28"/><rect x="1260.9" y="1066.5" width="5.4" height="5.4" fill="#fff" fill-opacity="0.24"/><rect x="1236.6" y="953.1" width="5.4" height="2.7" fill="#28287a" fill-opacity="0.16"/><rect x="1271.7" y="1058.4" width="2.7" height="2.7" fill="#fff" fill-opacity="0.20"/><rect x="1339.2" y="1255.5" width="2.7" height="2.7" fill="#28287a" fill-opacity="0.09"/><rect x="1263.6" y="1034.1" width="5.4" height="2.7" fill="#fff" fill-opacity="0.37"/><rect x="1166.4" y="972.0" width="5.4" height="5.4" fill="#28287a" fill-opacity="0.20"/><rect x="1333.8" y="1169.1" width="2.7" height="5.4" fill="#fff" fill-opacity="0.23"/><rect x="1236.6" y="1036.8" width="2.7" height="5.4" fill="#28287a" fill-opacity="0.19"/><rect x="1358.1" y="1107.0" width="2.7" height="2.7" fill="#28287a" fill-opacity="0.11"/><rect x="1147.5" y="1012.5" width="5.4" height="2.7" fill="#fff" fill-opacity="0.31"/><rect x="1298.7" y="977.4" width="2.7" height="2.7" fill="#28287a" fill-opacity="0.18"/><rect x="1228.5" y="993.6" width="2.7" height="2.7" fill="#fff" fill-opacity="0.28"/><rect x="1223.1" y="1017.9" width="2.7" height="2.7" fill="#28287a" fill-opacity="0.18"/><rect x="1328.4" y="1015.2" width="5.4" height="2.7" fill="#fff" fill-opacity="0.24"/><rect x="1174.5" y="1088.1" width="2.7" height="5.4" fill="#28287a" fill-opacity="0.14"/><rect x="1336.5" y="1269.0" width="2.7" height="2.7" fill="#fff" fill-opacity="0.25"/><rect x="1287.9" y="1001.7" width="2.7" height="5.4" fill="#fff" fill-opacity="0.21"/><rect x="1323.0" y="1125.9" width="2.7" height="5.4" fill="#28287a" fill-opacity="0.13"/><rect x="1131.3" y="1077.3" width="2.7" height="2.7" fill="#28287a" fill-opacity="0.18"/><rect x="1301.4" y="1055.7" width="2.7" height="2.7" fill="#28287a" fill-opacity="0.15"/><rect x="1312.2" y="1166.4" width="5.4" height="2.7" fill="#28287a" fill-opacity="0.08"/><rect x="1271.7" y="1042.2" width="2.7" height="2.7" fill="#28287a" fill-opacity="0.18"/><rect x="1317.6" y="1125.9" width="5.4" height="2.7" fill="#28287a" fill-opacity="0.17"/><rect x="1171.8" y="982.8" width="2.7" height="2.7" fill="#fff" fill-opacity="0.17"/><rect x="1328.4" y="1223.1" width="5.4" height="2.7" fill="#fff" fill-opacity="0.29"/><rect x="1142.1" y="1066.5" width="2.7" height="2.7" fill="#fff" fill-opacity="0.19"/><rect x="1190.7" y="1015.2" width="2.7" height="5.4" fill="#fff" fill-opacity="0.28"/><rect x="1250.1" y="972.0" width="2.7" height="2.7" fill="#28287a" fill-opacity="0.17"/><rect x="1304.1" y="969.3" width="2.7" height="5.4" fill="#28287a" fill-opacity="0.15"/><rect x="1344.6" y="1001.7" width="2.7" height="2.7" fill="#fff" fill-opacity="0.36"/><rect x="1231.2" y="996.3" width="2.7" height="2.7" fill="#fff" fill-opacity="0.15"/><rect x="1163.7" y="1017.9" width="2.7" height="5.4" fill="#fff" fill-opacity="0.26"/><rect x="1323.0" y="1161.0" width="2.7" height="2.7" fill="#fff" fill-opacity="0.16"/><rect x="1314.9" y="1082.7" width="5.4" height="5.4" fill="#fff" fill-opacity="0.15"/><rect x="1196.1" y="1039.5" width="2.7" height="5.4" fill="#fff" fill-opacity="0.39"/><rect x="1344.6" y="1255.5" width="2.7" height="2.7" fill="#28287a" fill-opacity="0.18"/><rect x="1293.3" y="1061.1" width="2.7" height="2.7" fill="#28287a" fill-opacity="0.17"/><rect x="1360.8" y="1096.2" width="2.7" height="2.7" fill="#28287a" fill-opacity="0.09"/><rect x="1266.3" y="1026.0" width="2.7" height="5.4" fill="#28287a" fill-opacity="0.12"/><rect x="1355.4" y="1193.4" width="2.7" height="2.7" fill="#fff" fill-opacity="0.17"/><rect x="1341.9" y="1158.3" width="5.4" height="2.7" fill="#28287a" fill-opacity="0.12"/><rect x="1363.5" y="1096.2" width="2.7" height="2.7" fill="#28287a" fill-opacity="0.20"/><rect x="1142.1" y="1061.1" width="2.7" height="2.7" fill="#28287a" fill-opacity="0.12"/><rect x="1201.5" y="996.3" width="2.7" height="2.7" fill="#28287a" fill-opacity="0.20"/><rect x="1274.4" y="985.5" width="2.7" height="5.4" fill="#28287a" fill-opacity="0.16"/><rect x="1282.5" y="977.4" width="2.7" height="5.4" fill="#28287a" fill-opacity="0.18"/><rect x="1250.1" y="996.3" width="5.4" height="2.7" fill="#fff" fill-opacity="0.18"/><rect x="1352.7" y="996.3" width="2.7" height="2.7" fill="#fff" fill-opacity="0.39"/><rect x="1171.8" y="1069.2" width="2.7" height="2.7" fill="#fff" fill-opacity="0.23"/><rect x="1282.5" y="977.4" width="2.7" height="2.7" fill="#fff" fill-opacity="0.17"/><rect x="1136.7" y="1061.1" width="5.4" height="2.7" fill="#fff" fill-opacity="0.33"/><rect x="1325.7" y="1071.9" width="5.4" height="2.7" fill="#28287a" fill-opacity="0.08"/><rect x="1206.9" y="1053.0" width="2.7" height="2.7" fill="#28287a" fill-opacity="0.12"/><rect x="1152.9" y="1007.1" width="2.7" height="5.4" fill="#fff" fill-opacity="0.24"/><rect x="1355.4" y="1112.4" width="2.7" height="5.4" fill="#fff" fill-opacity="0.28"/><rect x="1271.7" y="1020.6" width="5.4" height="2.7" fill="#fff" fill-opacity="0.37"/><rect x="1263.6" y="1026.0" width="5.4" height="2.7" fill="#fff" fill-opacity="0.20"/><rect x="1252.8" y="1053.0" width="2.7" height="2.7" fill="#28287a" fill-opacity="0.14"/><rect x="1125.9" y="1028.7" width="5.4" height="2.7" fill="#28287a" fill-opacity="0.15"/><rect x="1333.8" y="1244.7" width="5.4" height="5.4" fill="#fff" fill-opacity="0.33"/><rect x="1209.6" y="1017.9" width="2.7" height="2.7" fill="#28287a" fill-opacity="0.10"/><rect x="1158.3" y="982.8" width="2.7" height="2.7" fill="#28287a" fill-opacity="0.14"/><rect x="1185.3" y="1050.3" width="2.7" height="2.7" fill="#28287a" fill-opacity="0.18"/><rect x="1260.9" y="1077.3" width="2.7" height="2.7" fill="#fff" fill-opacity="0.37"/><rect x="1317.6" y="1198.8" width="2.7" height="2.7" fill="#fff" fill-opacity="0.32"/><rect x="1355.4" y="1053.0" width="2.7" height="2.7" fill="#28287a" fill-opacity="0.15"/><rect x="1328.4" y="1031.4" width="2.7" height="2.7" fill="#fff" fill-opacity="0.36"/><rect x="1333.8" y="1096.2" width="2.7" height="2.7" fill="#28287a" fill-opacity="0.14"/><rect x="1142.1" y="1069.2" width="2.7" height="2.7" fill="#fff" fill-opacity="0.25"/><rect x="1350.0" y="1034.1" width="2.7" height="2.7" fill="#fff" fill-opacity="0.31"/><rect x="1134.0" y="1039.5" width="2.7" height="2.7" fill="#28287a" fill-opacity="0.12"/><rect x="1134.0" y="1063.8" width="5.4" height="5.4" fill="#28287a" fill-opacity="0.14"/><rect x="1263.6" y="1004.4" width="2.7" height="2.7" fill="#28287a" fill-opacity="0.12"/><rect x="1236.6" y="990.9" width="2.7" height="2.7" fill="#28287a" fill-opacity="0.09"/><rect x="1325.7" y="1150.2" width="2.7" height="2.7" fill="#fff" fill-opacity="0.26"/><rect x="1314.9" y="1098.9" width="2.7" height="2.7" fill="#28287a" fill-opacity="0.16"/><rect x="1206.9" y="1044.9" width="5.4" height="2.7" fill="#fff" fill-opacity="0.39"/><rect x="1136.7" y="1020.6" width="5.4" height="2.7" fill="#fff" fill-opacity="0.26"/><rect x="1236.6" y="1071.9" width="2.7" height="2.7" fill="#28287a" fill-opacity="0.15"/><rect x="1347.3" y="1058.4" width="2.7" height="2.7" fill="#fff" fill-opacity="0.20"/><rect x="1271.7" y="993.6" width="5.4" height="2.7" fill="#28287a" fill-opacity="0.15"/><rect x="1123.2" y="958.5" width="2.7" height="2.7" fill="#fff" fill-opacity="0.34"/><rect x="1139.4" y="1031.4" width="2.7" height="2.7" fill="#fff" fill-opacity="0.20"/><rect x="1158.3" y="972.0" width="2.7" height="5.4" fill="#fff" fill-opacity="0.19"/><rect x="1274.4" y="1123.2" width="2.7" height="5.4" fill="#fff" fill-opacity="0.26"/><rect x="1358.1" y="1112.4" width="5.4" height="2.7" fill="#28287a" fill-opacity="0.12"/><rect x="1301.4" y="1096.2" width="2.7" height="5.4" fill="#fff" fill-opacity="0.35"/><rect x="1271.7" y="961.2" width="2.7" height="2.7" fill="#fff" fill-opacity="0.33"/><rect x="1363.5" y="1182.6" width="2.7" height="2.7" fill="#28287a" fill-opacity="0.17"/><rect x="1352.7" y="1136.7" width="2.7" height="2.7" fill="#28287a" fill-opacity="0.15"/><rect x="1260.9" y="982.8" width="2.7" height="2.7" fill="#fff" fill-opacity="0.31"/><rect x="1317.6" y="1012.5" width="2.7" height="5.4" fill="#28287a" fill-opacity="0.15"/><rect x="1293.3" y="1139.4" width="5.4" height="2.7" fill="#fff" fill-opacity="0.32"/><rect x="1161.0" y="1004.4" width="2.7" height="5.4" fill="#28287a" fill-opacity="0.08"/><rect x="1236.6" y="1063.8" width="5.4" height="2.7" fill="#28287a" fill-opacity="0.09"/><rect x="1293.3" y="974.7" width="2.7" height="2.7" fill="#28287a" fill-opacity="0.20"/><rect x="1314.9" y="1185.3" width="2.7" height="5.4" fill="#28287a" fill-opacity="0.17"/><rect x="1258.2" y="1080.0" width="5.4" height="2.7" fill="#fff" fill-opacity="0.20"/><rect x="1352.7" y="969.3" width="2.7" height="2.7" fill="#fff" fill-opacity="0.29"/><rect x="1320.3" y="1088.1" width="2.7" height="2.7" fill="#28287a" fill-opacity="0.09"/><rect x="1266.3" y="1077.3" width="2.7" height="2.7" fill="#fff" fill-opacity="0.37"/><rect x="1336.5" y="980.1" width="2.7" height="5.4" fill="#fff" fill-opacity="0.24"/><rect x="1247.4" y="1077.3" width="2.7" height="2.7" fill="#fff" fill-opacity="0.31"/><rect x="1323.0" y="1188.0" width="5.4" height="2.7" fill="#28287a" fill-opacity="0.10"/><rect x="1125.9" y="990.9" width="2.7" height="2.7" fill="#28287a" fill-opacity="0.15"/><rect x="1152.9" y="1004.4" width="5.4" height="5.4" fill="#28287a" fill-opacity="0.11"/><rect x="1317.6" y="982.8" width="2.7" height="2.7" fill="#fff" fill-opacity="0.32"/><rect x="1312.2" y="1174.5" width="2.7" height="2.7" fill="#28287a" fill-opacity="0.10"/><rect x="1220.4" y="1055.7" width="2.7" height="5.4" fill="#fff" fill-opacity="0.16"/><rect x="1304.1" y="1069.2" width="2.7" height="2.7" fill="#28287a" fill-opacity="0.09"/><rect x="1169.1" y="1080.0" width="2.7" height="5.4" fill="#fff" fill-opacity="0.25"/><rect x="1328.4" y="1223.1" width="2.7" height="2.7" fill="#28287a" fill-opacity="0.13"/><rect x="1290.6" y="1112.4" width="2.7" height="5.4" fill="#fff" fill-opacity="0.24"/><rect x="1134.0" y="993.6" width="2.7" height="5.4" fill="#28287a" fill-opacity="0.14"/><rect x="1331.1" y="1209.6" width="5.4" height="2.7" fill="#fff" fill-opacity="0.37"/><rect x="1363.5" y="1244.7" width="2.7" height="2.7" fill="#28287a" fill-opacity="0.11"/><rect x="1339.2" y="1285.2" width="2.7" height="2.7" fill="#28287a" fill-opacity="0.16"/></g><g clip-path="url(#hclip)"><rect x="1139.4" y="966.6" width="2.7" height="2.7" fill="#b4b4d2"/><rect x="1131.3" y="988.2" width="2.7" height="2.7" fill="#b4b4d2"/><rect x="1142.1" y="1009.8" width="2.7" height="2.7" fill="#b4b4d2"/><rect x="1134.0" y="1028.7" width="2.7" height="2.7" fill="#b4b4d2"/><rect x="1147.5" y="947.7" width="2.7" height="2.7" fill="#b4b4d2"/><rect x="1174.5" y="966.6" width="2.7" height="2.7" fill="#b4b4d2"/><rect x="1201.5" y="988.2" width="2.7" height="2.7" fill="#b4b4d2"/><rect x="1279.8" y="1107.0" width="2.7" height="2.7" fill="#b4b4d2"/><rect x="1285.2" y="1117.8" width="2.7" height="2.7" fill="#b4b4d2"/><rect x="1296.0" y="1131.3" width="2.7" height="2.7" fill="#b4b4d2"/><rect x="1304.1" y="1147.5" width="2.7" height="2.7" fill="#b4b4d2"/><rect x="1333.8" y="1206.9" width="2.7" height="2.7" fill="#b4b4d2"/><rect x="1347.3" y="1247.4" width="2.7" height="2.7" fill="#b4b4d2"/><rect x="1358.1" y="1260.9" width="2.7" height="2.7" fill="#b4b4d2"/><rect x="1363.5" y="1271.7" width="2.7" height="2.7" fill="#b4b4d2"/><rect x="1236.6" y="1009.8" width="2.7" height="2.7" fill="#b4b4d2"/><rect x="1255.5" y="1028.7" width="2.7" height="2.7" fill="#b4b4d2"/></g><polygon points="1074.0,928.5 1277.0,928.5 1277.0,1232.6 1074.0,1029.9" fill="#ffff00" fill-opacity="0.125"/><path d="M1277.0 928.7V1334.1" stroke="#7f7f7f" stroke-width="2" stroke-dasharray="6 4.5"/><path d="M1074.0 1232.6H1480.0" stroke="#7f7f7f" stroke-width="2.8" stroke-dasharray="8 5"/><path d="M1175.5 1334.0L1480.0 1029.9" stroke="#f00" stroke-width="1.6" stroke-dasharray="6 4.5"/><path d="M1074.0 1029.9L1378.5 1334.0" stroke="#00f" stroke-width="1.6" stroke-dasharray="6 4.5"/><rect x="1074" y="928.7" width="406" height="405.4" fill="none" stroke="#c3c3c3" stroke-width="1.55"/><path d="M1074 1334.1v-4.0M1074 928.7v4.0M1175.5 1334.1v-4.0M1175.5 928.7v4.0M1277 1334.1v-4.0M1277 928.7v4.0M1378.5 1334.1v-4.0M1378.5 928.7v4.0M1480 1334.1v-4.0M1480 928.7v4.0M1074 1300.2h4.0M1480 1300.2h-4.0M1074 1232.6h4.0M1480 1232.6h-4.0M1074 1165h4.0M1480 1165h-4.0M1074 1097.5h4.0M1480 1097.5h-4.0M1074 1029.9h4.0M1480 1029.9h-4.0M1074 962.3h4.0M1480 962.3h-4.0" stroke="#c3c3c3" stroke-width="1.32" fill="none"/><text x="1066.6" y="1308.6" font-size="25" text-anchor="end" fill="#000">-100</text><text x="1066.6" y="1241" font-size="25" text-anchor="end" fill="#000">0</text><text x="1066.6" y="1173.4" font-size="25" text-anchor="end" fill="#000">100</text><text x="1066.6" y="1105.9" font-size="25" text-anchor="end" fill="#000">200</text><text x="1066.6" y="1038.3" font-size="25" text-anchor="end" fill="#000">300</text><text x="1066.6" y="970.7" font-size="25" text-anchor="end" fill="#000">400</text><text x="1074" y="1362.2" font-size="25" text-anchor="middle" fill="#000">-300</text><text x="1175.5" y="1362.2" font-size="25" text-anchor="middle" fill="#000">-150</text><text x="1277" y="1362.2" font-size="25" text-anchor="middle" fill="#000">0</text><text x="1378.5" y="1362.2" font-size="25" text-anchor="middle" fill="#000">150</text><text x="1480" y="1362.2" font-size="25" text-anchor="middle" fill="#000">300</text><text x="1217.8" y="1393" font-size="29" text-anchor="start" textLength="37.7" lengthAdjust="spacingAndGlyphs" fill="#000">W<tspan font-size="20" dy="5">x</tspan></text><text x="1267.4" y="1393" font-size="29" text-anchor="start" textLength="69.4" lengthAdjust="spacingAndGlyphs" fill="#000">[MeV]</text><text transform="translate(1009.9,1191.3) rotate(-90)" font-size="29.5" text-anchor="start" textLength="36.8" lengthAdjust="spacingAndGlyphs" fill="#000">W<tspan font-size="21" dy="5">y</tspan></text><text transform="translate(1009.9,1139.6) rotate(-90)" font-size="29.5" text-anchor="start" textLength="66.7" lengthAdjust="spacingAndGlyphs" fill="#000">[MeV]</text><text x="1086.8" y="964.8" font-size="29.5" text-anchor="start" font-weight="bold" textLength="25.6" lengthAdjust="spacingAndGlyphs" fill="#000">h)</text><text x="1189.9" y="961.6" font-size="30" text-anchor="start" textLength="62.8" lengthAdjust="spacingAndGlyphs" fill="#1a1a10">DLA</text><rect x="1322.8" y="934.7" width="150.3" height="69.3" fill="#fff" stroke="#a0a0a0" stroke-width="1.7"/><path d="M1331.3 954.3H1373" stroke="#f00" stroke-width="1.5" stroke-dasharray="5 2.3"/><path d="M1331.3 985.3H1373" stroke="#00f" stroke-width="1.5" stroke-dasharray="5 2.3"/><text x="1376" y="963.9" font-size="25" text-anchor="start" textLength="85.5" lengthAdjust="spacingAndGlyphs" fill="#000" xml:space="preserve">W<tspan font-size="18" dy="4">x</tspan><tspan dy="-4"> = W</tspan><tspan font-size="18" dy="4">y</tspan></text><text x="1384.5" y="992.4" font-size="25" text-anchor="start" textLength="57.7" lengthAdjust="spacingAndGlyphs" fill="#000">W = 0</text><rect x="1505.1" y="1322.99" width="14.2" height="13.01" fill="#e6e6e6"/><rect x="1505.1" y="1310.29" width="14.2" height="13.01" fill="#d2d2dc"/><rect x="1505.1" y="1297.58" width="14.2" height="13.01" fill="#bebed7"/><rect x="1505.1" y="1284.88" width="14.2" height="13.01" fill="#aaaad2"/><rect x="1505.1" y="1272.17" width="14.2" height="13.01" fill="#9696cd"/><rect x="1505.1" y="1259.46" width="14.2" height="13.01" fill="#8282c8"/><rect x="1505.1" y="1246.76" width="14.2" height="13.01" fill="#6e6ebe"/><rect x="1505.1" y="1234.05" width="14.2" height="13.01" fill="#5a5ab4"/><rect x="1505.1" y="1221.34" width="14.2" height="13.01" fill="#4646aa"/><rect x="1505.1" y="1208.64" width="14.2" height="13.01" fill="#3232a0"/><rect x="1505.1" y="1195.93" width="14.2" height="13.01" fill="#282896"/><rect x="1505.1" y="1183.22" width="14.2" height="13.01" fill="#19198c"/><rect x="1505.1" y="1170.52" width="14.2" height="13.01" fill="#000096"/><rect x="1505.1" y="1157.81" width="14.2" height="13.01" fill="#0000d2"/><rect x="1505.1" y="1145.11" width="14.2" height="13.01" fill="#0000ff"/><rect x="1505.1" y="1132.40" width="14.2" height="13.01" fill="#003cff"/><rect x="1505.1" y="1119.69" width="14.2" height="13.01" fill="#006eff"/><rect x="1505.1" y="1106.99" width="14.2" height="13.01" fill="#00a0ff"/><rect x="1505.1" y="1094.28" width="14.2" height="13.01" fill="#00c8ff"/><rect x="1505.1" y="1081.58" width="14.2" height="13.01" fill="#00fff0"/><rect x="1505.1" y="1068.87" width="14.2" height="13.01" fill="#32ffc8"/><rect x="1505.1" y="1056.16" width="14.2" height="13.01" fill="#64f096"/><rect x="1505.1" y="1043.46" width="14.2" height="13.01" fill="#96f064"/><rect x="1505.1" y="1030.75" width="14.2" height="13.01" fill="#c8f032"/><rect x="1505.1" y="1018.04" width="14.2" height="13.01" fill="#ffff00"/><rect x="1505.1" y="1005.34" width="14.2" height="13.01" fill="#ffc800"/><rect x="1505.1" y="992.63" width="14.2" height="13.01" fill="#ff9600"/><rect x="1505.1" y="979.92" width="14.2" height="13.01" fill="#ff6e00"/><rect x="1505.1" y="967.22" width="14.2" height="13.01" fill="#ff3c00"/><rect x="1505.1" y="954.51" width="14.2" height="13.01" fill="#ff0000"/><rect x="1505.1" y="941.81" width="14.2" height="13.01" fill="#be0000"/><rect x="1505.1" y="929.10" width="14.2" height="13.01" fill="#800000"/><rect x="1505.1" y="929.1" width="14.2" height="406.6" fill="none" stroke="#a8a8a8" stroke-width="1"/><path d="M1505.1 982.0h3M1519.3 982.0h-3" stroke="#666" stroke-width="0.8"/><text x="1527" y="989.6" font-size="22.4" text-anchor="start" fill="#000">15</text><path d="M1505.1 1057.9h3M1519.3 1057.9h-3" stroke="#666" stroke-width="0.8"/><text x="1527" y="1065.5" font-size="22.4" text-anchor="start" fill="#000">14</text><path d="M1505.1 1135.0h3M1519.3 1135.0h-3" stroke="#666" stroke-width="0.8"/><text x="1527" y="1142.6" font-size="22.4" text-anchor="start" fill="#000">13</text><path d="M1505.1 1210.1h3M1519.3 1210.1h-3" stroke="#666" stroke-width="0.8"/><text x="1527" y="1217.7" font-size="22.4" text-anchor="start" fill="#000">12</text><path d="M1505.1 1288.3h3M1519.3 1288.3h-3" stroke="#666" stroke-width="0.8"/><text x="1527" y="1295.9" font-size="22.4" text-anchor="start" fill="#000">11</text><text transform="translate(1586.7,1217.8) rotate(-90)" font-size="27" text-anchor="start" textLength="171" lengthAdjust="spacingAndGlyphs" fill="#000">log<tspan font-size="19" dy="4">10</tspan><tspan dy="-4">(N</tspan><tspan font-size="19" dy="4">e</tspan><tspan dy="-4">/MeV</tspan><tspan font-size="18" dy="-9">2</tspan><tspan dy="9">)</tspan></text></svg></body></html>
